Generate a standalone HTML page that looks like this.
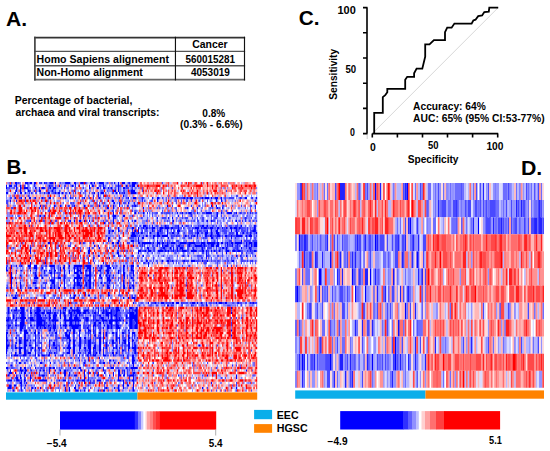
<!DOCTYPE html>
<html><head><meta charset="utf-8"><style>html,body{margin:0;padding:0;background:#fff;overflow:hidden}svg{display:block}</style></head>
<body>
<svg width="550" height="451" viewBox="0 0 550 451">
<defs>
<filter id="blr" filterUnits="userSpaceOnUse" x="6.0" y="182.0" width="251.2" height="209.7"><feGaussianBlur stdDeviation="0.45"/></filter>
<filter id="blr2" filterUnits="userSpaceOnUse" x="295.2" y="183.0" width="248.8" height="204.8"><feGaussianBlur stdDeviation="0.7 0.3"/></filter>
</defs>
<rect width="550" height="451" fill="#fff"/>
<g fill="none">
<path d="M34 37.65H245.1" stroke="#333" stroke-width="1.6"/>
<path d="M34 51.35H245.1" stroke="#555" stroke-width="1.2"/>
<path d="M34 65.85H245.1" stroke="#555" stroke-width="1.5"/>
<path d="M34 79.65H245.1" stroke="#666" stroke-width="1.6"/>
<path d="M34.9 36.85V80.45" stroke="#444" stroke-width="1.7"/>
<path d="M175.45 36.85V80.45M244.5 36.85V80.45" stroke="#111" stroke-width="1.15"/>
</g>
<path d="M372.3 133.6L498.2 7.6" stroke="#d8d8d8" stroke-width="1" fill="none"/>
<path d="M367.2 134.4V139" stroke="#ccc" stroke-width="1" fill="none"/>
<path d="M367 7.6V133.6M372.3 133.6H498.2M363 133.6H367.5M363 108.4H367.5M363 83.2H367.5M363 58.0H367.5M363 32.8H367.5M363 7.6H367.5M372.3 133.6V137.5M397.4 133.6V137.5M422.5 133.6V137.5M447.5 133.6V137.5M472.6 133.6V137.5M497.7 133.6V137.5" stroke="#000" stroke-width="1.6" fill="none"/>
<path d="M374.2 133.2 L374.2 112.9 L382.8 112.9 L382.8 97.1 L385.2 95.2 L387.3 92.2 L387.3 88.8 L405.2 88.8 L405.2 79.7 L407.2 76.8 L414.1 76.8 L414.1 73.2 L416.6 68.6 L422.3 68.6 L425.2 56.7 L425.2 44.4 L429.5 44.4 L433.9 40.2 L445.0 40.2 L445.0 32.2 L447.2 27.7 L451.6 27.7 L454.4 23.6 L471.6 23.6 L473.3 20.5 L475.5 19.7 L478.2 16.1 L482.1 15.5 L484.3 12.0 L488.8 11.6 L489.3 7.6 L498.2 7.6" stroke="#000" stroke-width="1.8" fill="none"/>
<g filter="url(#blr)">
<path stroke="#0000ff" stroke-width="1.306" d="M6.63 184.50V189.49M6.63 191.99V194.48M6.63 266.88V271.87M6.63 294.34V296.84M6.63 319.30V321.80M6.63 331.79V354.25M6.63 366.74V369.23M7.88 191.99V194.48M7.88 199.47V206.96M7.88 221.94V224.44M7.88 244.41V249.40M7.88 261.89V264.38M7.88 269.38V271.87M7.88 274.37V276.86M7.88 284.35V289.35M7.88 306.82V329.29M7.88 331.79V334.28M7.88 339.27V341.77M7.88 344.27V349.26M7.88 366.74V371.73M7.88 374.23V376.72M7.88 379.22V381.71M7.88 386.71V389.20M9.14 184.50V189.49M9.14 306.82V314.31M9.14 316.81V321.80M9.14 324.30V329.29M9.14 341.77V346.76M9.14 371.73V376.72M9.14 379.22V381.71M9.14 384.21V389.20M10.40 184.50V186.99M10.40 199.47V201.97M10.40 324.30V326.79M10.40 369.23V374.23M10.40 379.22V381.71M10.40 384.21V389.20M11.65 184.50V186.99M11.65 264.38V269.38M11.65 271.87V289.35M11.65 309.32V311.81M11.65 354.25V356.75M11.65 364.24V366.74M11.65 371.73V374.23M11.65 379.22V381.71M12.91 206.96V209.46M12.91 214.45V216.95M12.91 219.45V221.94M12.91 276.86V279.36M12.91 296.84V299.33M12.91 311.81V321.80M12.91 324.30V329.29M12.91 339.27V351.76M12.91 366.74V369.23M12.91 389.20V391.70M14.16 186.99V189.49M14.16 194.48V196.98M14.16 296.84V299.33M14.16 309.32V311.81M14.16 314.31V319.30M14.16 354.25V356.75M14.16 379.22V381.71M14.16 384.21V386.71M14.16 389.20V391.70M15.42 182.00V184.50M15.42 191.99V194.48M15.42 196.98V199.47M15.42 294.34V299.33M15.42 309.32V311.81M15.42 319.30V321.80M15.42 324.30V326.79M15.42 344.27V349.26M15.42 351.76V356.75M15.42 371.73V374.23M15.42 384.21V386.71M16.68 182.00V191.99M16.68 199.47V201.97M16.68 264.38V266.88M16.68 269.38V271.87M16.68 281.86V284.35M16.68 291.84V294.34M16.68 296.84V299.33M16.68 301.83V304.32M16.68 306.82V311.81M16.68 316.81V321.80M16.68 324.30V326.79M16.68 331.79V334.28M16.68 336.78V339.27M16.68 341.77V344.27M16.68 346.76V349.26M16.68 354.25V356.75M16.68 359.25V361.74M16.68 374.23V381.71M17.93 191.99V194.48M17.93 214.45V216.95M17.93 294.34V296.84M17.93 354.25V356.75M17.93 369.23V371.73M17.93 376.72V381.71M19.19 336.78V354.25M19.19 361.74V364.24M19.19 379.22V381.71M20.44 184.50V194.48M20.44 274.37V276.86M20.44 281.86V289.35M20.44 306.82V309.32M20.44 311.81V314.31M20.44 316.81V319.30M20.44 321.80V331.79M20.44 339.27V344.27M20.44 346.76V354.25M20.44 361.74V364.24M20.44 366.74V371.73M20.44 374.23V379.22M20.44 381.71V384.21M21.70 191.99V194.48M21.70 196.98V199.47M21.70 264.38V266.88M21.70 269.38V271.87M21.70 289.35V291.84M21.70 296.84V299.33M21.70 306.82V331.79M21.70 346.76V349.26M21.70 369.23V374.23M21.70 379.22V391.70M22.96 241.91V244.41M22.96 266.88V269.38M22.96 306.82V329.29M22.96 354.25V356.75M22.96 369.23V371.73M24.21 184.50V189.49M24.21 306.82V326.79M24.21 329.29V356.75M24.21 361.74V364.24M24.21 366.74V369.23M24.21 371.73V384.21M24.21 386.71V389.20M25.47 182.00V184.50M25.47 186.99V189.49M25.47 191.99V194.48M25.47 196.98V199.47M25.47 316.81V319.30M25.47 329.29V356.75M25.47 366.74V374.23M25.47 379.22V381.71M25.47 384.21V386.71M26.72 182.00V184.50M26.72 186.99V189.49M26.72 319.30V321.80M26.72 329.29V334.28M26.72 339.27V341.77M26.72 344.27V346.76M26.72 359.25V361.74M26.72 369.23V371.73M26.72 374.23V376.72M26.72 381.71V384.21M27.98 182.00V191.99M27.98 206.96V209.46M27.98 219.45V221.94M27.98 264.38V266.88M27.98 269.38V271.87M27.98 281.86V284.35M27.98 296.84V299.33M27.98 314.31V316.81M27.98 321.80V324.30M27.98 326.79V329.29M27.98 331.79V334.28M27.98 336.78V341.77M27.98 349.26V354.25M27.98 356.75V359.25M27.98 366.74V369.23M29.24 189.49V194.48M29.24 196.98V199.47M29.24 224.44V226.94M29.24 264.38V269.38M29.24 301.83V304.32M29.24 344.27V346.76M29.24 351.76V354.25M30.49 182.00V184.50M30.49 196.98V199.47M30.49 219.45V221.94M30.49 246.91V254.40M30.49 256.89V259.39M30.49 261.89V266.88M30.49 269.38V271.87M30.49 286.85V289.35M30.49 309.32V314.31M30.49 316.81V321.80M30.49 324.30V326.79M30.49 339.27V341.77M30.49 344.27V346.76M30.49 351.76V354.25M30.49 374.23V381.71M31.75 182.00V184.50M31.75 191.99V194.48M31.75 306.82V309.32M31.75 311.81V314.31M31.75 316.81V321.80M31.75 324.30V326.79M31.75 346.76V351.76M31.75 364.24V366.74M31.75 369.23V371.73M31.75 386.71V391.70M33.00 244.41V246.91M33.00 281.86V284.35M33.00 316.81V321.80M33.00 326.79V329.29M33.00 346.76V349.26M33.00 354.25V356.75M33.00 374.23V376.72M33.00 386.71V389.20M34.26 182.00V186.99M34.26 189.49V191.99M34.26 264.38V269.38M34.26 276.86V279.36M34.26 281.86V284.35M34.26 301.83V304.32M34.26 319.30V321.80M34.26 324.30V326.79M34.26 331.79V334.28M35.52 182.00V184.50M35.52 186.99V189.49M35.52 196.98V199.47M35.52 264.38V269.38M35.52 271.87V279.36M35.52 281.86V284.35M35.52 286.85V289.35M35.52 311.81V314.31M35.52 329.29V356.75M35.52 366.74V369.23M35.52 386.71V389.20M36.77 264.38V271.87M36.77 274.37V279.36M36.77 286.85V289.35M36.77 296.84V299.33M36.77 306.82V329.29M36.77 369.23V371.73M36.77 379.22V381.71M38.03 276.86V279.36M38.03 306.82V336.78M38.03 339.27V344.27M38.03 346.76V349.26M38.03 351.76V356.75M38.03 366.74V369.23M39.28 186.99V191.99M39.28 201.97V204.47M39.28 206.96V209.46M39.28 219.45V221.94M39.28 306.82V326.79M39.28 331.79V334.28M39.28 336.78V339.27M39.28 346.76V351.76M39.28 354.25V356.75M39.28 371.73V376.72M39.28 379.22V381.71M40.54 189.49V191.99M40.54 204.47V206.96M40.54 214.45V216.95M40.54 309.32V311.81M40.54 314.31V329.29M40.54 361.74V364.24M40.54 369.23V371.73M40.54 379.22V381.71M40.54 386.71V389.20M41.80 182.00V184.50M41.80 186.99V189.49M41.80 196.98V199.47M41.80 264.38V271.87M41.80 274.37V279.36M41.80 284.35V289.35M41.80 311.81V314.31M41.80 316.81V326.79M41.80 334.28V339.27M41.80 341.77V356.75M41.80 361.74V364.24M41.80 366.74V369.23M41.80 374.23V376.72M41.80 379.22V381.71M43.05 186.99V189.49M43.05 196.98V199.47M43.05 204.47V211.96M43.05 216.95V219.45M43.05 261.89V264.38M43.05 266.88V269.38M43.05 276.86V279.36M43.05 306.82V309.32M43.05 311.81V316.81M43.05 319.30V321.80M43.05 324.30V326.79M43.05 354.25V356.75M43.05 369.23V371.73M43.05 374.23V381.71M43.05 384.21V386.71M44.31 182.00V184.50M44.31 186.99V189.49M44.31 191.99V194.48M44.31 214.45V216.95M44.31 269.38V274.37M44.31 294.34V299.33M44.31 309.32V314.31M44.31 319.30V329.29M44.31 354.25V356.75M44.31 359.25V361.74M44.31 369.23V371.73M44.31 374.23V376.72M44.31 379.22V381.71M44.31 389.20V391.70M45.56 244.41V246.91M45.56 261.89V264.38M45.56 314.31V316.81M45.56 326.79V329.29M45.56 379.22V381.71M46.82 182.00V184.50M46.82 201.97V204.47M46.82 264.38V266.88M46.82 269.38V271.87M46.82 274.37V276.86M46.82 281.86V284.35M46.82 309.32V314.31M46.82 316.81V319.30M46.82 321.80V324.30M46.82 369.23V371.73M46.82 374.23V376.72M46.82 379.22V381.71M48.08 186.99V194.48M48.08 199.47V201.97M48.08 209.46V211.96M48.08 241.91V244.41M48.08 294.34V296.84M48.08 311.81V314.31M48.08 324.30V329.29M48.08 349.26V351.76M48.08 354.25V356.75M49.33 184.50V186.99M49.33 191.99V194.48M49.33 196.98V199.47M49.33 241.91V244.41M49.33 269.38V271.87M49.33 311.81V321.80M49.33 324.30V326.79M49.33 329.29V331.79M49.33 339.27V349.26M49.33 351.76V356.75M49.33 366.74V374.23M50.59 182.00V184.50M50.59 186.99V189.49M50.59 196.98V199.47M50.59 264.38V266.88M50.59 271.87V274.37M50.59 279.36V281.86M50.59 286.85V289.35M50.59 309.32V314.31M50.59 316.81V319.30M50.59 326.79V331.79M50.59 361.74V364.24M50.59 366.74V369.23M51.84 182.00V184.50M51.84 189.49V191.99M51.84 219.45V221.94M51.84 264.38V289.35M51.84 319.30V321.80M51.84 346.76V349.26M51.84 351.76V354.25M51.84 379.22V381.71M51.84 386.71V389.20M53.10 182.00V184.50M53.10 186.99V194.48M53.10 196.98V199.47M53.10 264.38V266.88M53.10 279.36V284.35M53.10 294.34V296.84M53.10 309.32V311.81M53.10 314.31V329.29M53.10 334.28V336.78M53.10 341.77V346.76M53.10 366.74V369.23M53.10 374.23V376.72M54.36 186.99V189.49M54.36 204.47V206.96M54.36 264.38V289.35M54.36 306.82V309.32M54.36 311.81V321.80M54.36 324.30V331.79M54.36 341.77V346.76M54.36 351.76V354.25M54.36 366.74V369.23M54.36 381.71V384.21M55.61 182.00V184.50M55.61 186.99V189.49M55.61 191.99V194.48M55.61 269.38V271.87M55.61 306.82V309.32M55.61 311.81V329.29M55.61 331.79V334.28M55.61 346.76V349.26M55.61 354.25V356.75M55.61 369.23V371.73M56.87 296.84V299.33M56.87 314.31V316.81M56.87 319.30V321.80M56.87 329.29V354.25M56.87 366.74V369.23M56.87 379.22V381.71M58.12 191.99V194.48M58.12 244.41V249.40M58.12 251.90V254.40M58.12 256.89V261.89M58.12 264.38V271.87M58.12 274.37V279.36M58.12 281.86V289.35M58.12 309.32V311.81M58.12 319.30V321.80M58.12 371.73V374.23M58.12 386.71V389.20M59.38 184.50V186.99M59.38 191.99V194.48M59.38 276.86V279.36M59.38 286.85V289.35M59.38 379.22V381.71M60.64 204.47V206.96M60.64 266.88V271.87M60.64 276.86V279.36M60.64 284.35V286.85M60.64 309.32V319.30M60.64 324.30V326.79M60.64 369.23V371.73M61.89 186.99V189.49M61.89 191.99V194.48M61.89 291.84V294.34M61.89 296.84V299.33M61.89 354.25V356.75M61.89 364.24V369.23M63.15 191.99V194.48M63.15 196.98V199.47M63.15 201.97V204.47M63.15 266.88V269.38M63.15 306.82V314.31M63.15 324.30V326.79M63.15 329.29V331.79M63.15 336.78V339.27M63.15 341.77V344.27M63.15 351.76V356.75M63.15 379.22V381.71M64.40 264.38V289.35M64.40 306.82V309.32M64.40 311.81V321.80M64.40 324.30V326.79M64.40 369.23V376.72M64.40 379.22V381.71M64.40 384.21V386.71M65.66 182.00V184.50M65.66 194.48V199.47M65.66 306.82V311.81M65.66 314.31V329.29M65.66 331.79V336.78M65.66 369.23V376.72M65.66 379.22V381.71M65.66 386.71V391.70M66.92 182.00V184.50M66.92 191.99V194.48M66.92 214.45V216.95M66.92 294.34V296.84M66.92 319.30V321.80M66.92 324.30V326.79M66.92 329.29V341.77M66.92 346.76V349.26M66.92 351.76V354.25M68.17 182.00V184.50M68.17 186.99V189.49M68.17 204.47V206.96M68.17 219.45V221.94M68.17 251.90V254.40M68.17 319.30V321.80M68.17 329.29V331.79M68.17 334.28V339.27M68.17 344.27V349.26M68.17 351.76V354.25M68.17 361.74V366.74M68.17 379.22V386.71M69.43 182.00V184.50M69.43 191.99V194.48M69.43 264.38V266.88M69.43 269.38V274.37M69.43 301.83V304.32M69.43 309.32V314.31M69.43 316.81V321.80M69.43 324.30V326.79M69.43 331.79V354.25M69.43 371.73V376.72M69.43 386.71V391.70M70.68 196.98V199.47M70.68 219.45V221.94M70.68 294.34V296.84M70.68 306.82V309.32M70.68 311.81V326.79M70.68 329.29V331.79M70.68 339.27V341.77M70.68 346.76V349.26M70.68 366.74V369.23M71.94 184.50V186.99M71.94 189.49V191.99M71.94 301.83V304.32M71.94 306.82V329.29M71.94 361.74V364.24M71.94 369.23V371.73M71.94 374.23V376.72M73.20 184.50V186.99M73.20 191.99V194.48M73.20 201.97V204.47M73.20 286.85V289.35M73.20 296.84V299.33M73.20 309.32V311.81M73.20 319.30V321.80M73.20 324.30V356.75M73.20 366.74V369.23M73.20 379.22V381.71M74.45 182.00V184.50M74.45 204.47V206.96M74.45 219.45V221.94M74.45 264.38V274.37M74.45 276.86V289.35M74.45 294.34V299.33M74.45 309.32V314.31M74.45 316.81V321.80M74.45 324.30V334.28M74.45 339.27V354.25M74.45 374.23V376.72M74.45 386.71V389.20M75.71 182.00V186.99M75.71 191.99V194.48M75.71 196.98V199.47M75.71 264.38V266.88M75.71 271.87V274.37M75.71 276.86V279.36M75.71 294.34V296.84M75.71 309.32V311.81M75.71 314.31V329.29M75.71 366.74V369.23M75.71 374.23V376.72M75.71 384.21V391.70M76.96 246.91V249.40M76.96 264.38V286.85M76.96 301.83V304.32M76.96 306.82V321.80M76.96 324.30V329.29M76.96 331.79V334.28M76.96 336.78V339.27M76.96 354.25V356.75M76.96 374.23V376.72M76.96 379.22V384.21M76.96 389.20V391.70M78.22 264.38V286.85M78.22 306.82V314.31M78.22 316.81V329.29M78.22 356.75V359.25M78.22 379.22V381.71M78.22 384.21V386.71M78.22 389.20V391.70M79.48 219.45V221.94M79.48 264.38V266.88M79.48 269.38V271.87M79.48 274.37V279.36M79.48 281.86V286.85M79.48 309.32V316.81M79.48 319.30V321.80M79.48 324.30V326.79M79.48 329.29V351.76M79.48 354.25V356.75M79.48 359.25V361.74M79.48 366.74V369.23M80.73 182.00V184.50M80.73 191.99V194.48M80.73 201.97V204.47M80.73 219.45V221.94M80.73 241.91V244.41M80.73 249.40V251.90M80.73 264.38V274.37M80.73 276.86V281.86M80.73 284.35V289.35M80.73 311.81V314.31M80.73 319.30V321.80M80.73 324.30V326.79M80.73 329.29V331.79M80.73 336.78V349.26M80.73 351.76V354.25M80.73 366.74V371.73M80.73 389.20V391.70M81.99 182.00V184.50M81.99 264.38V266.88M81.99 271.87V274.37M81.99 276.86V279.36M81.99 284.35V286.85M81.99 296.84V299.33M81.99 359.25V361.74M81.99 369.23V371.73M81.99 379.22V381.71M83.24 182.00V184.50M83.24 186.99V189.49M83.24 214.45V219.45M83.24 241.91V244.41M83.24 301.83V304.32M83.24 311.81V314.31M83.24 316.81V319.30M83.24 379.22V381.71M84.50 196.98V199.47M84.50 204.47V206.96M84.50 219.45V221.94M84.50 309.32V314.31M84.50 336.78V339.27M84.50 346.76V349.26M84.50 361.74V364.24M84.50 369.23V384.21M84.50 389.20V391.70M85.76 182.00V184.50M85.76 189.49V191.99M85.76 264.38V266.88M85.76 269.38V276.86M85.76 279.36V286.85M85.76 291.84V296.84M85.76 309.32V314.31M85.76 316.81V321.80M85.76 329.29V334.28M85.76 336.78V344.27M85.76 346.76V354.25M87.01 219.45V221.94M87.01 254.40V256.89M87.01 264.38V271.87M87.01 274.37V279.36M87.01 281.86V289.35M87.01 309.32V311.81M87.01 316.81V324.30M87.01 326.79V329.29M87.01 354.25V356.75M87.01 364.24V366.74M88.27 214.45V216.95M88.27 249.40V254.40M88.27 256.89V261.89M88.27 264.38V269.38M88.27 274.37V276.86M88.27 279.36V281.86M88.27 294.34V296.84M88.27 306.82V314.31M88.27 316.81V321.80M88.27 324.30V336.78M88.27 339.27V349.26M88.27 351.76V361.74M88.27 369.23V381.71M88.27 384.21V386.71M88.27 389.20V391.70M89.52 184.50V189.49M89.52 219.45V221.94M89.52 246.91V254.40M89.52 264.38V289.35M89.52 294.34V296.84M89.52 329.29V331.79M89.52 339.27V354.25M90.78 182.00V184.50M90.78 264.38V289.35M90.78 314.31V316.81M90.78 329.29V356.75M90.78 371.73V374.23M90.78 379.22V384.21M90.78 386.71V389.20M92.04 182.00V186.99M92.04 191.99V194.48M92.04 199.47V201.97M92.04 204.47V206.96M92.04 219.45V221.94M92.04 246.91V249.40M92.04 366.74V369.23M92.04 376.72V379.22M93.29 184.50V186.99M93.29 194.48V199.47M93.29 241.91V244.41M93.29 251.90V254.40M93.29 256.89V261.89M93.29 266.88V269.38M93.29 281.86V286.85M93.29 301.83V304.32M93.29 306.82V309.32M93.29 314.31V321.80M93.29 324.30V334.28M93.29 346.76V356.75M93.29 359.25V361.74M93.29 366.74V369.23M94.55 182.00V184.50M94.55 191.99V194.48M94.55 244.41V246.91M94.55 311.81V314.31M94.55 321.80V326.79M94.55 334.28V336.78M94.55 344.27V349.26M94.55 354.25V356.75M95.80 296.84V299.33M95.80 309.32V356.75M97.06 186.99V189.49M97.06 199.47V206.96M97.06 221.94V226.94M97.06 266.88V269.38M97.06 271.87V274.37M97.06 319.30V321.80M97.06 351.76V354.25M97.06 366.74V369.23M97.06 374.23V376.72M97.06 379.22V381.71M98.32 186.99V189.49M98.32 191.99V196.98M98.32 244.41V246.91M98.32 254.40V256.89M98.32 264.38V266.88M98.32 269.38V271.87M98.32 306.82V314.31M98.32 319.30V321.80M98.32 371.73V376.72M98.32 379.22V381.71M98.32 389.20V391.70M99.57 182.00V184.50M99.57 196.98V199.47M99.57 204.47V206.96M99.57 246.91V249.40M99.57 269.38V271.87M99.57 274.37V276.86M99.57 314.31V316.81M99.57 321.80V324.30M99.57 331.79V334.28M99.57 336.78V354.25M99.57 356.75V359.25M99.57 366.74V369.23M99.57 379.22V381.71M100.83 182.00V184.50M100.83 186.99V189.49M100.83 191.99V194.48M100.83 264.38V279.36M100.83 281.86V284.35M100.83 294.34V299.33M100.83 306.82V309.32M100.83 314.31V319.30M100.83 321.80V351.76M100.83 359.25V364.24M100.83 379.22V381.71M100.83 389.20V391.70M102.08 182.00V184.50M102.08 189.49V194.48M102.08 199.47V204.47M102.08 264.38V269.38M102.08 276.86V284.35M102.08 286.85V289.35M102.08 311.81V314.31M102.08 316.81V321.80M103.34 182.00V189.49M103.34 191.99V194.48M103.34 261.89V264.38M103.34 284.35V286.85M103.34 306.82V314.31M103.34 316.81V324.30M103.34 326.79V329.29M103.34 331.79V344.27M103.34 346.76V356.75M103.34 361.74V364.24M103.34 366.74V371.73M103.34 389.20V391.70M104.60 186.99V189.49M104.60 209.46V211.96M104.60 221.94V224.44M104.60 319.30V321.80M104.60 324.30V326.79M104.60 354.25V356.75M104.60 361.74V364.24M104.60 371.73V374.23M104.60 389.20V391.70M105.85 191.99V194.48M105.85 261.89V266.88M105.85 269.38V271.87M105.85 274.37V276.86M105.85 306.82V316.81M105.85 319.30V321.80M105.85 331.79V336.78M105.85 341.77V349.26M105.85 354.25V356.75M105.85 381.71V384.21M105.85 386.71V389.20M107.11 182.00V184.50M107.11 189.49V191.99M107.11 194.48V196.98M107.11 204.47V209.46M107.11 219.45V221.94M107.11 241.91V244.41M107.11 246.91V251.90M107.11 256.89V259.39M107.11 264.38V289.35M107.11 309.32V316.81M107.11 319.30V354.25M107.11 386.71V389.20M108.36 186.99V189.49M108.36 206.96V209.46M108.36 226.94V229.43M108.36 236.92V241.91M108.36 264.38V274.37M108.36 276.86V281.86M108.36 284.35V289.35M108.36 291.84V296.84M108.36 311.81V319.30M108.36 324.30V329.29M109.62 229.43V234.43M109.62 236.92V239.42M109.62 256.89V259.39M109.62 264.38V269.38M109.62 274.37V284.35M109.62 286.85V289.35M109.62 294.34V296.84M109.62 304.32V309.32M109.62 311.81V314.31M109.62 319.30V324.30M109.62 359.25V361.74M109.62 374.23V376.72M110.88 186.99V189.49M110.88 204.47V206.96M110.88 266.88V269.38M110.88 271.87V274.37M110.88 279.36V281.86M110.88 296.84V299.33M110.88 309.32V329.29M110.88 354.25V356.75M110.88 359.25V361.74M110.88 364.24V369.23M110.88 379.22V381.71M112.13 182.00V184.50M112.13 186.99V191.99M112.13 199.47V201.97M112.13 229.43V231.93M112.13 241.91V244.41M112.13 264.38V266.88M112.13 276.86V279.36M112.13 306.82V329.29M112.13 331.79V334.28M112.13 339.27V346.76M112.13 351.76V354.25M112.13 366.74V369.23M112.13 389.20V391.70M113.39 199.47V201.97M113.39 204.47V209.46M113.39 211.96V224.44M113.39 229.43V231.93M113.39 241.91V244.41M113.39 266.88V269.38M113.39 274.37V276.86M113.39 319.30V321.80M113.39 331.79V334.28M113.39 339.27V344.27M113.39 346.76V349.26M113.39 351.76V356.75M113.39 359.25V361.74M113.39 366.74V369.23M113.39 371.73V376.72M114.64 182.00V184.50M114.64 189.49V191.99M114.64 201.97V204.47M114.64 214.45V216.95M114.64 314.31V316.81M114.64 319.30V321.80M114.64 361.74V364.24M114.64 386.71V389.20M115.90 184.50V194.48M115.90 209.46V211.96M115.90 214.45V216.95M115.90 236.92V239.42M115.90 261.89V264.38M115.90 266.88V269.38M115.90 276.86V279.36M115.90 281.86V284.35M115.90 286.85V289.35M115.90 306.82V329.29M115.90 331.79V341.77M115.90 344.27V349.26M115.90 351.76V356.75M115.90 366.74V369.23M117.16 191.99V194.48M117.16 241.91V244.41M117.16 249.40V254.40M117.16 306.82V354.25M118.41 182.00V191.99M118.41 226.94V231.93M118.41 239.42V244.41M118.41 246.91V249.40M118.41 251.90V256.89M118.41 269.38V274.37M118.41 306.82V311.81M118.41 319.30V321.80M118.41 324.30V329.29M118.41 361.74V364.24M118.41 369.23V381.71M118.41 384.21V391.70M119.67 191.99V194.48M119.67 196.98V199.47M119.67 201.97V206.96M119.67 236.92V239.42M119.67 301.83V304.32M119.67 309.32V311.81M119.67 316.81V321.80M119.67 326.79V329.29M119.67 336.78V344.27M119.67 346.76V349.26M119.67 369.23V376.72M119.67 379.22V381.71M119.67 389.20V391.70M120.92 184.50V186.99M120.92 241.91V246.91M120.92 249.40V251.90M120.92 254.40V256.89M120.92 264.38V289.35M120.92 294.34V299.33M120.92 306.82V309.32M120.92 311.81V314.31M120.92 319.30V321.80M120.92 324.30V326.79M120.92 374.23V376.72M120.92 379.22V381.71M122.18 182.00V184.50M122.18 191.99V194.48M122.18 204.47V206.96M122.18 331.79V334.28M122.18 341.77V354.25M122.18 369.23V374.23M123.44 182.00V184.50M123.44 186.99V189.49M123.44 194.48V196.98M123.44 214.45V216.95M123.44 264.38V276.86M123.44 279.36V289.35M123.44 296.84V299.33M123.44 319.30V321.80M123.44 331.79V334.28M123.44 339.27V341.77M123.44 349.26V351.76M123.44 354.25V356.75M123.44 374.23V376.72M123.44 379.22V389.20M124.69 182.00V184.50M124.69 186.99V189.49M124.69 191.99V194.48M124.69 214.45V216.95M124.69 264.38V266.88M124.69 271.87V279.36M124.69 284.35V289.35M124.69 339.27V344.27M124.69 369.23V376.72M125.95 184.50V186.99M125.95 201.97V204.47M125.95 254.40V256.89M125.95 261.89V264.38M125.95 294.34V296.84M125.95 306.82V324.30M125.95 326.79V354.25M125.95 366.74V369.23M125.95 379.22V381.71M127.20 184.50V186.99M127.20 204.47V206.96M127.20 226.94V231.93M127.20 241.91V244.41M127.20 249.40V251.90M127.20 264.38V269.38M127.20 274.37V279.36M127.20 281.86V284.35M127.20 314.31V319.30M127.20 321.80V324.30M127.20 354.25V359.25M127.20 361.74V364.24M127.20 366.74V376.72M127.20 381.71V386.71M128.46 196.98V199.47M128.46 201.97V204.47M128.46 219.45V221.94M128.46 296.84V299.33M128.46 329.29V331.79M128.46 334.28V351.76M128.46 384.21V386.71M129.72 182.00V184.50M129.72 284.35V289.35M129.72 306.82V329.29M129.72 331.79V334.28M129.72 336.78V339.27M129.72 341.77V349.26M129.72 374.23V381.71M130.97 189.49V194.48M130.97 234.43V236.92M130.97 239.42V241.91M130.97 249.40V251.90M130.97 259.39V261.89M130.97 264.38V271.87M130.97 274.37V279.36M130.97 281.86V284.35M130.97 286.85V289.35M130.97 306.82V309.32M130.97 311.81V329.29M130.97 366.74V369.23M130.97 374.23V376.72M132.23 182.00V194.48M132.23 204.47V206.96M132.23 209.46V211.96M132.23 214.45V216.95M132.23 219.45V221.94M132.23 226.94V236.92M132.23 239.42V241.91M132.23 254.40V256.89M132.23 264.38V271.87M132.23 276.86V279.36M132.23 284.35V286.85M132.23 294.34V299.33M132.23 306.82V329.29M132.23 331.79V349.26M132.23 354.25V364.24M132.23 366.74V371.73M132.23 374.23V376.72M132.23 379.22V381.71M133.48 182.00V186.99M133.48 189.49V194.48M133.48 196.98V199.47M133.48 226.94V229.43M133.48 231.93V236.92M133.48 239.42V241.91M133.48 244.41V246.91M133.48 264.38V266.88M133.48 269.38V276.86M133.48 279.36V281.86M133.48 284.35V289.35M133.48 296.84V299.33M133.48 301.83V304.32M133.48 311.81V319.30M133.48 331.79V334.28M133.48 339.27V341.77M133.48 346.76V349.26M133.48 354.25V369.23M133.48 371.73V391.70M134.74 182.00V186.99M134.74 189.49V194.48M134.74 196.98V199.47M134.74 201.97V206.96M134.74 211.96V214.45M134.74 219.45V221.94M134.74 229.43V236.92M134.74 296.84V301.83M134.74 309.32V311.81M134.74 314.31V321.80M134.74 324.30V329.29M134.74 331.79V339.27M134.74 341.77V354.25M134.74 359.25V361.74M134.74 366.74V369.23M134.74 371.73V374.23M136.00 182.00V184.50M136.00 186.99V189.49M136.00 191.99V194.48M136.00 196.98V199.47M136.00 204.47V206.96M136.00 209.46V214.45M136.00 219.45V221.94M136.00 224.44V231.93M136.00 234.43V241.91M136.00 259.39V261.89M136.00 281.86V284.35M136.00 301.83V304.32M136.00 306.82V329.29M136.00 344.27V356.75M136.00 361.74V364.24M136.00 366.74V369.23M136.00 376.72V381.71M137.25 184.50V186.99M137.25 306.82V329.29M137.25 336.78V339.27M137.25 366.74V369.23M138.51 226.94V234.43M138.51 236.92V244.41M138.51 249.40V254.40M138.51 259.39V261.89M139.76 234.43V236.92M139.76 241.91V244.41M139.76 249.40V251.90M139.76 304.32V306.82M141.02 231.93V234.43M141.02 246.91V254.40M141.02 259.39V261.89M141.02 301.83V304.32M142.28 196.98V201.97M142.28 229.43V234.43M142.28 236.92V239.42M142.28 241.91V246.91M142.28 364.24V366.74M143.53 206.96V209.46M143.53 211.96V214.45M143.53 224.44V229.43M143.53 236.92V239.42M143.53 241.91V244.41M143.53 254.40V256.89M144.79 199.47V201.97M144.79 224.44V226.94M144.79 241.91V246.91M144.79 249.40V251.90M144.79 261.89V264.38M146.04 209.46V211.96M146.04 224.44V231.93M146.04 234.43V236.92M146.04 241.91V244.41M146.04 249.40V251.90M146.04 256.89V261.89M147.30 211.96V214.45M147.30 226.94V229.43M147.30 234.43V236.92M147.30 241.91V244.41M147.30 246.91V249.40M147.30 259.39V261.89M148.56 241.91V244.41M148.56 246.91V251.90M148.56 261.89V266.88M148.56 274.37V276.86M148.56 301.83V304.32M149.81 211.96V214.45M149.81 224.44V229.43M149.81 231.93V234.43M149.81 241.91V244.41M149.81 249.40V251.90M151.07 199.47V201.97M151.07 231.93V234.43M151.07 241.91V244.41M151.07 249.40V251.90M151.07 259.39V261.89M151.07 301.83V306.82M152.32 196.98V199.47M152.32 224.44V231.93M153.58 226.94V229.43M153.58 234.43V239.42M153.58 241.91V244.41M154.84 226.94V229.43M154.84 234.43V236.92M154.84 246.91V251.90M154.84 301.83V304.32M154.84 381.71V384.21M156.09 211.96V214.45M156.09 224.44V226.94M156.09 259.39V261.89M156.09 301.83V304.32M157.35 196.98V201.97M157.35 216.95V219.45M157.35 231.93V236.92M157.35 239.42V246.91M158.60 196.98V199.47M158.60 231.93V236.92M158.60 241.91V244.41M158.60 249.40V251.90M159.86 206.96V209.46M159.86 226.94V231.93M159.86 234.43V236.92M159.86 241.91V246.91M159.86 249.40V251.90M161.12 224.44V231.93M161.12 236.92V239.42M161.12 246.91V251.90M161.12 301.83V304.32M162.37 226.94V229.43M162.37 234.43V236.92M162.37 241.91V246.91M162.37 249.40V251.90M162.37 259.39V261.89M162.37 301.83V304.32M163.63 234.43V236.92M163.63 241.91V244.41M163.63 246.91V249.40M163.63 301.83V304.32M164.88 211.96V214.45M164.88 219.45V221.94M164.88 224.44V229.43M164.88 234.43V236.92M164.88 239.42V241.91M164.88 244.41V251.90M164.88 304.32V306.82M166.14 196.98V201.97M166.14 224.44V229.43M166.14 234.43V236.92M166.14 244.41V246.91M166.14 249.40V251.90M166.14 301.83V304.32M167.40 204.47V206.96M167.40 226.94V236.92M167.40 241.91V246.91M167.40 259.39V261.89M167.40 304.32V306.82M168.65 216.95V219.45M168.65 226.94V229.43M168.65 236.92V239.42M168.65 249.40V251.90M168.65 259.39V261.89M168.65 304.32V306.82M169.91 211.96V214.45M169.91 231.93V234.43M169.91 239.42V241.91M169.91 246.91V249.40M171.16 226.94V231.93M171.16 234.43V236.92M171.16 241.91V244.41M171.16 246.91V251.90M171.16 304.32V306.82M172.42 216.95V219.45M172.42 226.94V229.43M172.42 231.93V234.43M172.42 241.91V244.41M172.42 259.39V261.89M172.42 301.83V304.32M173.68 219.45V221.94M173.68 231.93V234.43M173.68 241.91V244.41M173.68 246.91V251.90M173.68 301.83V304.32M174.93 229.43V231.93M174.93 241.91V244.41M174.93 251.90V254.40M176.19 199.47V204.47M176.19 206.96V211.96M176.19 234.43V236.92M176.19 259.39V264.38M176.19 301.83V304.32M177.44 196.98V199.47M177.44 211.96V214.45M177.44 229.43V231.93M177.44 246.91V251.90M177.44 301.83V304.32M178.70 214.45V216.95M178.70 224.44V234.43M178.70 244.41V246.91M178.70 301.83V304.32M178.70 374.23V376.72M179.96 196.98V199.47M179.96 229.43V231.93M179.96 241.91V251.90M181.21 199.47V201.97M181.21 226.94V229.43M181.21 241.91V244.41M181.21 246.91V249.40M181.21 301.83V304.32M182.47 211.96V214.45M182.47 224.44V226.94M182.47 241.91V244.41M182.47 246.91V251.90M183.72 196.98V199.47M183.72 226.94V229.43M183.72 241.91V244.41M183.72 249.40V251.90M183.72 254.40V256.89M183.72 259.39V261.89M184.98 196.98V199.47M184.98 234.43V236.92M184.98 241.91V244.41M184.98 249.40V251.90M184.98 259.39V261.89M184.98 301.83V304.32M186.24 211.96V214.45M186.24 219.45V221.94M186.24 224.44V226.94M186.24 234.43V236.92M186.24 241.91V244.41M186.24 249.40V251.90M186.24 284.35V286.85M186.24 289.35V291.84M187.49 196.98V199.47M187.49 206.96V209.46M188.75 211.96V214.45M188.75 234.43V236.92M188.75 241.91V246.91M188.75 254.40V256.89M190.00 196.98V199.47M190.00 211.96V214.45M190.00 226.94V229.43M190.00 231.93V234.43M190.00 241.91V246.91M191.26 196.98V201.97M191.26 204.47V206.96M191.26 211.96V216.95M191.26 224.44V226.94M191.26 234.43V239.42M191.26 241.91V244.41M191.26 249.40V251.90M191.26 259.39V261.89M191.26 304.32V306.82M192.52 196.98V199.47M192.52 241.91V244.41M192.52 249.40V251.90M192.52 259.39V261.89M192.52 301.83V304.32M193.77 234.43V236.92M193.77 241.91V244.41M193.77 246.91V251.90M193.77 259.39V261.89M193.77 301.83V304.32M195.03 196.98V199.47M195.03 211.96V214.45M195.03 226.94V229.43M195.03 234.43V236.92M195.03 241.91V246.91M195.03 249.40V251.90M195.03 259.39V261.89M195.03 301.83V304.32M195.03 364.24V366.74M195.03 384.21V386.71M196.28 226.94V229.43M196.28 244.41V246.91M196.28 249.40V251.90M197.54 206.96V209.46M197.54 211.96V214.45M197.54 226.94V236.92M197.54 244.41V246.91M197.54 301.83V304.32M198.80 224.44V229.43M198.80 231.93V234.43M198.80 244.41V246.91M198.80 344.27V346.76M200.05 196.98V199.47M200.05 234.43V236.92M200.05 244.41V246.91M200.05 249.40V251.90M200.05 259.39V261.89M200.05 344.27V346.76M201.31 226.94V229.43M201.31 241.91V246.91M201.31 301.83V304.32M202.56 196.98V199.47M202.56 224.44V226.94M202.56 241.91V244.41M202.56 246.91V251.90M202.56 259.39V261.89M202.56 386.71V389.20M203.82 224.44V229.43M203.82 236.92V239.42M203.82 241.91V246.91M203.82 249.40V251.90M205.08 196.98V199.47M205.08 201.97V206.96M205.08 226.94V229.43M205.08 231.93V236.92M205.08 241.91V246.91M206.33 196.98V199.47M206.33 211.96V214.45M206.33 226.94V229.43M206.33 231.93V236.92M206.33 249.40V259.39M206.33 301.83V306.82M207.59 196.98V199.47M207.59 211.96V214.45M207.59 219.45V221.94M207.59 224.44V226.94M207.59 229.43V234.43M207.59 241.91V244.41M207.59 259.39V261.89M207.59 374.23V376.72M208.84 196.98V199.47M208.84 211.96V214.45M208.84 241.91V246.91M208.84 249.40V259.39M210.10 206.96V209.46M210.10 211.96V214.45M210.10 226.94V229.43M210.10 234.43V236.92M210.10 241.91V244.41M211.36 196.98V199.47M211.36 204.47V206.96M211.36 211.96V214.45M211.36 219.45V221.94M211.36 226.94V239.42M211.36 241.91V246.91M211.36 249.40V251.90M211.36 381.71V384.21M212.61 226.94V229.43M212.61 236.92V239.42M212.61 241.91V246.91M213.87 224.44V226.94M213.87 241.91V246.91M213.87 249.40V251.90M213.87 301.83V304.32M215.12 196.98V199.47M215.12 216.95V219.45M215.12 226.94V229.43M215.12 234.43V236.92M215.12 241.91V244.41M215.12 249.40V251.90M215.12 259.39V261.89M216.38 196.98V201.97M216.38 204.47V206.96M216.38 229.43V234.43M216.38 244.41V246.91M216.38 301.83V304.32M217.64 196.98V199.47M217.64 206.96V209.46M217.64 211.96V216.95M217.64 226.94V236.92M217.64 241.91V246.91M218.89 226.94V229.43M218.89 231.93V236.92M218.89 241.91V246.91M218.89 249.40V251.90M218.89 259.39V261.89M218.89 284.35V286.85M218.89 301.83V304.32M220.15 234.43V236.92M220.15 246.91V251.90M220.15 301.83V304.32M221.40 196.98V201.97M221.40 211.96V214.45M221.40 241.91V244.41M221.40 301.83V304.32M222.66 206.96V209.46M222.66 226.94V229.43M222.66 241.91V244.41M222.66 246.91V249.40M223.92 216.95V221.94M223.92 246.91V249.40M225.17 196.98V201.97M225.17 234.43V236.92M225.17 241.91V246.91M225.17 259.39V261.89M225.17 301.83V304.32M225.17 376.72V379.22M225.17 389.20V391.70M226.43 226.94V229.43M226.43 234.43V236.92M226.43 246.91V254.40M226.43 301.83V304.32M227.68 211.96V214.45M227.68 241.91V246.91M227.68 249.40V251.90M227.68 264.38V266.88M228.94 211.96V214.45M228.94 249.40V251.90M230.20 211.96V214.45M230.20 226.94V229.43M231.45 211.96V214.45M231.45 226.94V231.93M231.45 234.43V239.42M231.45 241.91V244.41M231.45 306.82V309.32M231.45 311.81V314.31M231.45 329.29V331.79M231.45 334.28V336.78M232.71 241.91V246.91M232.71 249.40V251.90M232.71 259.39V261.89M232.71 364.24V366.74M233.96 226.94V229.43M233.96 231.93V234.43M233.96 246.91V251.90M233.96 259.39V264.38M233.96 301.83V304.32M235.22 226.94V229.43M235.22 236.92V239.42M235.22 241.91V244.41M235.22 249.40V251.90M236.48 211.96V214.45M236.48 219.45V221.94M236.48 226.94V236.92M236.48 241.91V244.41M236.48 254.40V256.89M236.48 374.23V379.22M236.48 386.71V389.20M237.73 231.93V236.92M237.73 241.91V251.90M237.73 301.83V304.32M238.99 206.96V209.46M238.99 219.45V221.94M238.99 226.94V231.93M238.99 234.43V236.92M238.99 241.91V244.41M238.99 249.40V251.90M238.99 301.83V304.32M240.24 196.98V199.47M240.24 211.96V214.45M240.24 226.94V229.43M240.24 234.43V236.92M240.24 241.91V244.41M240.24 249.40V251.90M240.24 254.40V256.89M240.24 366.74V369.23M241.50 224.44V226.94M241.50 234.43V236.92M241.50 239.42V244.41M241.50 246.91V249.40M242.76 219.45V221.94M242.76 231.93V234.43M244.01 211.96V214.45M244.01 226.94V229.43M244.01 231.93V234.43M244.01 241.91V244.41M244.01 259.39V261.89M245.27 196.98V199.47M245.27 216.95V221.94M246.52 196.98V199.47M246.52 234.43V236.92M246.52 241.91V246.91M246.52 254.40V256.89M246.52 369.23V371.73M247.78 211.96V214.45M247.78 226.94V234.43M247.78 249.40V251.90M247.78 259.39V261.89M249.04 219.45V221.94M249.04 234.43V236.92M249.04 241.91V249.40M250.29 211.96V214.45M250.29 231.93V236.92M250.29 241.91V244.41M250.29 246.91V251.90M250.29 301.83V304.32M251.55 234.43V236.92M251.55 241.91V246.91M252.80 196.98V199.47M252.80 211.96V214.45M252.80 229.43V231.93M252.80 259.39V261.89M252.80 301.83V304.32M254.06 224.44V239.42M254.06 241.91V246.91M254.06 249.40V251.90M254.06 301.83V304.32M254.06 361.74V366.74M254.06 374.23V376.72M255.32 199.47V201.97M255.32 204.47V209.46M255.32 224.44V231.93M255.32 241.91V246.91M255.32 249.40V251.90M255.32 254.40V256.89M256.57 196.98V199.47M256.57 231.93V234.43M256.57 241.91V246.91"/>
<path stroke="#4040ff" stroke-width="1.306" d="M6.63 199.47V204.47M6.63 264.38V266.88M6.63 286.85V289.35M6.63 316.81V319.30M6.63 324.30V326.79M6.63 329.29V331.79M6.63 354.25V356.75M6.63 361.74V364.24M6.63 379.22V381.71M7.88 186.99V191.99M7.88 211.96V219.45M7.88 259.39V261.89M7.88 264.38V266.88M7.88 281.86V284.35M7.88 329.29V331.79M7.88 336.78V339.27M7.88 341.77V344.27M7.88 349.26V351.76M7.88 381.71V384.21M7.88 389.20V391.70M9.14 182.00V184.50M9.14 219.45V221.94M9.14 266.88V269.38M9.14 294.34V296.84M9.14 314.31V316.81M9.14 321.80V324.30M9.14 334.28V336.78M9.14 339.27V341.77M9.14 354.25V356.75M9.14 366.74V369.23M10.40 196.98V199.47M10.40 316.81V321.80M10.40 364.24V366.74M11.65 182.00V184.50M11.65 196.98V199.47M11.65 206.96V209.46M11.65 294.34V296.84M11.65 319.30V324.30M11.65 326.79V329.29M11.65 334.28V336.78M11.65 339.27V341.77M11.65 344.27V349.26M11.65 351.76V354.25M11.65 366.74V369.23M11.65 376.72V379.22M11.65 384.21V389.20M12.91 186.99V189.49M12.91 246.91V249.40M12.91 294.34V296.84M12.91 306.82V311.81M12.91 321.80V324.30M12.91 329.29V331.79M12.91 336.78V339.27M12.91 354.25V356.75M12.91 364.24V366.74M14.16 184.50V186.99M14.16 191.99V194.48M14.16 196.98V199.47M14.16 201.97V204.47M14.16 246.91V249.40M14.16 311.81V314.31M14.16 366.74V369.23M14.16 386.71V389.20M15.42 184.50V186.99M15.42 189.49V191.99M15.42 306.82V309.32M15.42 311.81V314.31M15.42 321.80V324.30M15.42 329.29V331.79M15.42 336.78V339.27M15.42 341.77V344.27M15.42 376.72V379.22M16.68 271.87V274.37M16.68 284.35V289.35M16.68 294.34V296.84M16.68 311.81V316.81M16.68 321.80V324.30M16.68 326.79V329.29M16.68 334.28V336.78M16.68 339.27V341.77M16.68 351.76V354.25M16.68 361.74V364.24M17.93 182.00V184.50M17.93 186.99V189.49M17.93 309.32V314.31M17.93 316.81V319.30M17.93 324.30V326.79M17.93 334.28V336.78M17.93 346.76V349.26M17.93 359.25V361.74M17.93 364.24V366.74M17.93 374.23V376.72M19.19 182.00V184.50M19.19 194.48V199.47M19.19 214.45V216.95M19.19 264.38V266.88M19.19 276.86V279.36M19.19 309.32V311.81M19.19 314.31V319.30M19.19 324.30V326.79M19.19 334.28V336.78M19.19 354.25V356.75M19.19 369.23V374.23M19.19 381.71V384.21M19.19 389.20V391.70M20.44 196.98V199.47M20.44 244.41V246.91M20.44 261.89V266.88M20.44 269.38V271.87M20.44 279.36V281.86M20.44 309.32V311.81M20.44 319.30V321.80M20.44 331.79V334.28M20.44 336.78V339.27M20.44 354.25V359.25M20.44 379.22V381.71M20.44 384.21V386.71M21.70 186.99V189.49M21.70 274.37V279.36M21.70 284.35V289.35M21.70 294.34V296.84M21.70 336.78V344.27M21.70 354.25V356.75M21.70 359.25V361.74M21.70 366.74V369.23M21.70 376.72V379.22M22.96 264.38V266.88M22.96 269.38V271.87M22.96 279.36V281.86M22.96 301.83V304.32M22.96 346.76V349.26M22.96 359.25V361.74M22.96 389.20V391.70M24.21 189.49V191.99M24.21 294.34V296.84M24.21 326.79V329.29M24.21 356.75V359.25M24.21 369.23V371.73M25.47 199.47V201.97M25.47 286.85V289.35M25.47 324.30V329.29M25.47 361.74V364.24M25.47 376.72V379.22M26.72 219.45V221.94M26.72 309.32V311.81M26.72 341.77V344.27M26.72 349.26V356.75M27.98 194.48V196.98M27.98 221.94V224.44M27.98 266.88V269.38M27.98 271.87V274.37M27.98 284.35V289.35M27.98 291.84V294.34M27.98 301.83V304.32M27.98 306.82V314.31M27.98 316.81V321.80M27.98 324.30V326.79M27.98 334.28V336.78M27.98 346.76V349.26M27.98 359.25V364.24M27.98 374.23V376.72M27.98 379.22V381.71M27.98 386.71V389.20M29.24 182.00V184.50M29.24 194.48V196.98M29.24 219.45V221.94M29.24 286.85V289.35M29.24 316.81V319.30M29.24 326.79V331.79M29.24 334.28V339.27M29.24 341.77V344.27M29.24 354.25V356.75M29.24 371.73V374.23M29.24 389.20V391.70M30.49 189.49V191.99M30.49 244.41V246.91M30.49 266.88V269.38M30.49 306.82V309.32M30.49 314.31V316.81M30.49 321.80V324.30M30.49 329.29V331.79M30.49 341.77V344.27M30.49 346.76V351.76M30.49 354.25V356.75M30.49 359.25V361.74M30.49 366.74V371.73M31.75 286.85V289.35M31.75 296.84V299.33M31.75 309.32V311.81M31.75 314.31V316.81M31.75 326.79V329.29M31.75 331.79V334.28M31.75 344.27V346.76M31.75 376.72V379.22M31.75 384.21V386.71M33.00 186.99V189.49M33.00 191.99V194.48M33.00 224.44V226.94M33.00 241.91V244.41M33.00 254.40V256.89M33.00 266.88V269.38M33.00 271.87V274.37M33.00 284.35V286.85M33.00 339.27V341.77M33.00 371.73V374.23M34.26 196.98V199.47M34.26 204.47V206.96M34.26 251.90V254.40M34.26 271.87V276.86M34.26 279.36V281.86M34.26 296.84V299.33M34.26 309.32V319.30M34.26 339.27V341.77M34.26 349.26V351.76M34.26 354.25V356.75M34.26 364.24V366.74M34.26 379.22V381.71M34.26 384.21V386.71M35.52 191.99V194.48M35.52 269.38V271.87M35.52 279.36V281.86M35.52 284.35V286.85M35.52 309.32V311.81M35.52 314.31V316.81M35.52 319.30V321.80M35.52 356.75V359.25M35.52 371.73V374.23M36.77 186.99V194.48M36.77 219.45V221.94M36.77 271.87V274.37M36.77 279.36V284.35M36.77 344.27V346.76M36.77 356.75V361.74M38.03 286.85V289.35M38.03 336.78V339.27M38.03 344.27V346.76M38.03 349.26V351.76M39.28 182.00V184.50M39.28 214.45V216.95M39.28 326.79V331.79M39.28 334.28V336.78M39.28 339.27V344.27M39.28 351.76V354.25M39.28 359.25V361.74M39.28 369.23V371.73M40.54 182.00V184.50M40.54 191.99V194.48M40.54 274.37V276.86M40.54 306.82V309.32M40.54 311.81V314.31M40.54 341.77V344.27M40.54 346.76V349.26M40.54 366.74V369.23M40.54 374.23V376.72M41.80 244.41V246.91M41.80 259.39V261.89M41.80 271.87V274.37M41.80 326.79V334.28M41.80 339.27V341.77M41.80 359.25V361.74M43.05 214.45V216.95M43.05 219.45V221.94M43.05 241.91V244.41M43.05 264.38V266.88M43.05 281.86V284.35M43.05 286.85V289.35M43.05 294.34V296.84M43.05 309.32V311.81M43.05 316.81V319.30M43.05 321.80V324.30M43.05 326.79V329.29M43.05 336.78V339.27M43.05 361.74V364.24M43.05 366.74V369.23M44.31 196.98V199.47M44.31 204.47V206.96M44.31 219.45V221.94M44.31 274.37V276.86M44.31 281.86V284.35M44.31 286.85V289.35M44.31 316.81V319.30M44.31 356.75V359.25M44.31 364.24V369.23M44.31 371.73V374.23M45.56 182.00V184.50M45.56 256.89V261.89M45.56 264.38V266.88M45.56 269.38V271.87M45.56 274.37V276.86M45.56 281.86V289.35M45.56 296.84V299.33M45.56 316.81V326.79M45.56 354.25V356.75M46.82 191.99V194.48M46.82 204.47V206.96M46.82 279.36V281.86M46.82 301.83V304.32M46.82 324.30V329.29M46.82 334.28V336.78M46.82 339.27V341.77M46.82 344.27V349.26M46.82 351.76V356.75M46.82 359.25V361.74M46.82 366.74V369.23M46.82 371.73V374.23M46.82 381.71V384.21M46.82 386.71V391.70M48.08 184.50V186.99M48.08 196.98V199.47M48.08 214.45V216.95M48.08 274.37V276.86M48.08 309.32V311.81M48.08 314.31V321.80M48.08 329.29V331.79M48.08 334.28V336.78M48.08 389.20V391.70M49.33 182.00V184.50M49.33 186.99V189.49M49.33 206.96V211.96M49.33 246.91V249.40M49.33 251.90V254.40M49.33 264.38V266.88M49.33 271.87V274.37M49.33 276.86V279.36M49.33 309.32V311.81M49.33 321.80V324.30M49.33 326.79V329.29M49.33 331.79V334.28M49.33 359.25V361.74M50.59 184.50V186.99M50.59 221.94V224.44M50.59 269.38V271.87M50.59 284.35V286.85M50.59 306.82V309.32M50.59 314.31V316.81M50.59 319.30V326.79M50.59 334.28V336.78M50.59 339.27V341.77M50.59 349.26V354.25M51.84 184.50V186.99M51.84 191.99V194.48M51.84 311.81V314.31M51.84 324.30V329.29M51.84 331.79V336.78M51.84 339.27V341.77M51.84 344.27V346.76M51.84 366.74V369.23M53.10 184.50V186.99M53.10 241.91V244.41M53.10 266.88V269.38M53.10 276.86V279.36M53.10 284.35V289.35M53.10 301.83V304.32M53.10 311.81V314.31M53.10 329.29V334.28M53.10 346.76V349.26M53.10 371.73V374.23M54.36 191.99V194.48M54.36 206.96V209.46M54.36 294.34V299.33M54.36 321.80V324.30M54.36 339.27V341.77M54.36 346.76V349.26M54.36 361.74V364.24M55.61 184.50V186.99M55.61 189.49V191.99M55.61 204.47V206.96M55.61 219.45V221.94M55.61 294.34V296.84M55.61 309.32V311.81M55.61 334.28V341.77M55.61 344.27V346.76M55.61 351.76V354.25M55.61 374.23V376.72M56.87 191.99V194.48M56.87 214.45V216.95M56.87 219.45V221.94M56.87 246.91V249.40M56.87 271.87V274.37M56.87 276.86V279.36M56.87 311.81V314.31M56.87 316.81V319.30M56.87 381.71V384.21M58.12 241.91V244.41M58.12 271.87V274.37M58.12 279.36V281.86M58.12 296.84V299.33M58.12 311.81V314.31M58.12 336.78V339.27M58.12 344.27V346.76M58.12 354.25V356.75M58.12 359.25V361.74M58.12 379.22V381.71M59.38 189.49V191.99M59.38 194.48V196.98M59.38 271.87V276.86M59.38 296.84V299.33M59.38 336.78V339.27M59.38 344.27V351.76M59.38 366.74V371.73M59.38 389.20V391.70M60.64 182.00V184.50M60.64 196.98V199.47M60.64 271.87V274.37M60.64 279.36V281.86M60.64 321.80V324.30M60.64 326.79V329.29M60.64 354.25V356.75M61.89 204.47V206.96M61.89 209.46V211.96M61.89 219.45V221.94M61.89 244.41V246.91M61.89 294.34V296.84M61.89 311.81V314.31M61.89 326.79V329.29M61.89 336.78V341.77M61.89 379.22V381.71M63.15 264.38V266.88M63.15 274.37V281.86M63.15 314.31V316.81M63.15 319.30V321.80M63.15 334.28V336.78M63.15 339.27V341.77M63.15 346.76V349.26M63.15 371.73V374.23M63.15 376.72V379.22M63.15 384.21V386.71M64.40 184.50V189.49M64.40 216.95V219.45M64.40 309.32V311.81M64.40 321.80V324.30M64.40 336.78V339.27M64.40 346.76V349.26M65.66 184.50V186.99M65.66 191.99V194.48M65.66 274.37V279.36M65.66 286.85V289.35M65.66 311.81V314.31M65.66 336.78V339.27M65.66 359.25V361.74M66.92 186.99V189.49M66.92 279.36V284.35M66.92 306.82V309.32M66.92 326.79V329.29M66.92 341.77V344.27M66.92 354.25V356.75M66.92 369.23V371.73M68.17 184.50V186.99M68.17 189.49V191.99M68.17 199.47V201.97M68.17 209.46V211.96M68.17 244.41V246.91M68.17 261.89V269.38M68.17 284.35V286.85M68.17 309.32V316.81M68.17 341.77V344.27M68.17 349.26V351.76M68.17 366.74V371.73M68.17 374.23V379.22M69.43 204.47V206.96M69.43 219.45V221.94M69.43 244.41V246.91M69.43 266.88V269.38M69.43 279.36V281.86M69.43 291.84V294.34M69.43 321.80V324.30M69.43 329.29V331.79M69.43 381.71V384.21M70.68 194.48V196.98M70.68 201.97V204.47M70.68 241.91V246.91M70.68 286.85V289.35M70.68 296.84V299.33M70.68 309.32V311.81M70.68 326.79V329.29M70.68 356.75V359.25M71.94 196.98V199.47M71.94 201.97V209.46M71.94 211.96V214.45M71.94 251.90V254.40M71.94 269.38V271.87M71.94 296.84V299.33M71.94 356.75V359.25M71.94 364.24V366.74M71.94 379.22V381.71M71.94 384.21V386.71M73.20 189.49V191.99M73.20 194.48V199.47M73.20 204.47V206.96M73.20 256.89V259.39M73.20 266.88V269.38M73.20 274.37V276.86M73.20 279.36V281.86M73.20 284.35V286.85M73.20 294.34V296.84M73.20 311.81V316.81M73.20 321.80V324.30M73.20 359.25V361.74M73.20 371.73V374.23M74.45 306.82V309.32M74.45 314.31V316.81M74.45 334.28V339.27M74.45 366.74V369.23M75.71 186.99V191.99M75.71 211.96V214.45M75.71 216.95V219.45M75.71 256.89V259.39M75.71 266.88V269.38M75.71 281.86V286.85M75.71 301.83V304.32M75.71 311.81V314.31M75.71 339.27V341.77M75.71 344.27V346.76M75.71 354.25V356.75M75.71 359.25V361.74M75.71 379.22V381.71M76.96 199.47V201.97M76.96 204.47V206.96M76.96 286.85V289.35M76.96 321.80V324.30M76.96 341.77V344.27M76.96 349.26V351.76M76.96 364.24V366.74M76.96 371.73V374.23M78.22 184.50V186.99M78.22 214.45V216.95M78.22 286.85V289.35M78.22 344.27V346.76M78.22 351.76V354.25M78.22 366.74V369.23M78.22 376.72V379.22M78.22 386.71V389.20M79.48 266.88V269.38M79.48 279.36V281.86M79.48 286.85V289.35M79.48 294.34V296.84M79.48 306.82V309.32M79.48 316.81V319.30M79.48 326.79V329.29M79.48 351.76V354.25M79.48 379.22V381.71M79.48 384.21V386.71M80.73 246.91V249.40M80.73 254.40V259.39M80.73 281.86V284.35M80.73 291.84V294.34M80.73 309.32V311.81M80.73 314.31V316.81M80.73 326.79V329.29M80.73 379.22V381.71M81.99 189.49V191.99M81.99 196.98V201.97M81.99 266.88V269.38M81.99 274.37V276.86M81.99 281.86V284.35M81.99 286.85V289.35M81.99 294.34V296.84M81.99 311.81V316.81M81.99 339.27V344.27M81.99 354.25V356.75M83.24 191.99V194.48M83.24 196.98V199.47M83.24 296.84V299.33M83.24 309.32V311.81M83.24 314.31V316.81M83.24 324.30V329.29M83.24 351.76V356.75M83.24 361.74V366.74M83.24 386.71V389.20M84.50 206.96V209.46M84.50 214.45V216.95M84.50 241.91V244.41M84.50 256.89V259.39M84.50 264.38V269.38M84.50 276.86V281.86M84.50 284.35V289.35M84.50 316.81V329.29M84.50 339.27V346.76M84.50 349.26V351.76M84.50 359.25V361.74M84.50 364.24V366.74M84.50 386.71V389.20M85.76 191.99V196.98M85.76 204.47V206.96M85.76 276.86V279.36M85.76 306.82V309.32M85.76 314.31V316.81M85.76 324.30V329.29M85.76 334.28V336.78M85.76 354.25V356.75M85.76 359.25V364.24M85.76 386.71V389.20M87.01 182.00V184.50M87.01 271.87V274.37M87.01 279.36V281.86M87.01 311.81V314.31M87.01 324.30V326.79M87.01 331.79V334.28M87.01 339.27V346.76M87.01 349.26V351.76M87.01 366.74V369.23M87.01 371.73V374.23M87.01 379.22V381.71M87.01 384.21V386.71M88.27 194.48V196.98M88.27 221.94V224.44M88.27 261.89V264.38M88.27 269.38V271.87M88.27 281.86V289.35M88.27 336.78V339.27M88.27 349.26V351.76M88.27 381.71V384.21M89.52 191.99V194.48M89.52 196.98V199.47M89.52 201.97V204.47M89.52 261.89V264.38M89.52 311.81V314.31M89.52 324.30V326.79M89.52 331.79V334.28M90.78 186.99V189.49M90.78 204.47V206.96M90.78 214.45V216.95M90.78 221.94V224.44M90.78 296.84V299.33M90.78 319.30V329.29M92.04 216.95V219.45M92.04 224.44V226.94M92.04 274.37V276.86M92.04 309.32V314.31M92.04 319.30V321.80M92.04 341.77V344.27M92.04 354.25V356.75M92.04 359.25V361.74M92.04 381.71V384.21M93.29 191.99V194.48M93.29 246.91V249.40M93.29 254.40V256.89M93.29 269.38V274.37M93.29 276.86V279.36M93.29 286.85V289.35M93.29 309.32V314.31M93.29 321.80V324.30M93.29 336.78V344.27M93.29 361.74V364.24M93.29 379.22V384.21M94.55 199.47V201.97M94.55 256.89V259.39M94.55 261.89V264.38M94.55 274.37V276.86M94.55 279.36V281.86M94.55 296.84V299.33M94.55 314.31V321.80M94.55 329.29V334.28M94.55 341.77V344.27M94.55 349.26V354.25M94.55 361.74V364.24M94.55 371.73V376.72M94.55 379.22V384.21M95.80 294.34V296.84M95.80 301.83V304.32M95.80 306.82V309.32M95.80 369.23V374.23M97.06 216.95V219.45M97.06 281.86V284.35M97.06 306.82V309.32M97.06 311.81V316.81M97.06 324.30V326.79M97.06 336.78V339.27M97.06 356.75V359.25M97.06 369.23V371.73M97.06 381.71V384.21M98.32 196.98V199.47M98.32 284.35V286.85M98.32 314.31V316.81M98.32 321.80V329.29M98.32 334.28V339.27M98.32 366.74V369.23M99.57 184.50V186.99M99.57 201.97V204.47M99.57 254.40V256.89M99.57 266.88V269.38M99.57 276.86V279.36M99.57 286.85V289.35M99.57 316.81V321.80M99.57 324.30V331.79M99.57 334.28V336.78M99.57 361.74V364.24M100.83 184.50V186.99M100.83 189.49V191.99M100.83 194.48V199.47M100.83 214.45V216.95M100.83 309.32V311.81M100.83 319.30V321.80M100.83 351.76V356.75M100.83 366.74V369.23M100.83 381.71V384.21M102.08 214.45V216.95M102.08 271.87V274.37M102.08 284.35V286.85M102.08 294.34V296.84M102.08 309.32V311.81M102.08 361.74V364.24M103.34 194.48V196.98M103.34 204.47V206.96M103.34 219.45V221.94M103.34 241.91V244.41M103.34 314.31V316.81M103.34 329.29V331.79M103.34 359.25V361.74M103.34 374.23V376.72M104.60 201.97V204.47M104.60 281.86V284.35M104.60 309.32V314.31M104.60 369.23V371.73M104.60 381.71V389.20M105.85 184.50V189.49M105.85 196.98V199.47M105.85 204.47V206.96M105.85 209.46V211.96M105.85 216.95V224.44M105.85 234.43V239.42M105.85 281.86V284.35M105.85 316.81V319.30M105.85 321.80V324.30M105.85 339.27V341.77M105.85 349.26V354.25M105.85 369.23V376.72M105.85 379.22V381.71M107.11 199.47V201.97M107.11 234.43V236.92M107.11 306.82V309.32M107.11 354.25V356.75M107.11 361.74V364.24M107.11 366.74V369.23M107.11 379.22V381.71M108.36 196.98V199.47M108.36 221.94V224.44M108.36 229.43V234.43M108.36 274.37V276.86M108.36 281.86V284.35M108.36 296.84V299.33M108.36 306.82V311.81M108.36 319.30V321.80M108.36 344.27V346.76M108.36 354.25V356.75M108.36 366.74V369.23M108.36 379.22V381.71M108.36 389.20V391.70M109.62 216.95V219.45M109.62 246.91V249.40M109.62 269.38V271.87M109.62 284.35V286.85M109.62 291.84V294.34M109.62 324.30V329.29M109.62 341.77V344.27M109.62 361.74V364.24M110.88 182.00V184.50M110.88 219.45V224.44M110.88 226.94V231.93M110.88 234.43V236.92M110.88 239.42V241.91M110.88 274.37V276.86M110.88 301.83V304.32M110.88 306.82V309.32M110.88 339.27V341.77M112.13 184.50V186.99M112.13 191.99V194.48M112.13 196.98V199.47M112.13 209.46V211.96M112.13 214.45V216.95M112.13 231.93V234.43M112.13 269.38V271.87M112.13 281.86V284.35M112.13 329.29V331.79M112.13 336.78V339.27M112.13 349.26V351.76M112.13 379.22V381.71M112.13 384.21V386.71M113.39 191.99V194.48M113.39 201.97V204.47M113.39 209.46V211.96M113.39 244.41V246.91M113.39 254.40V256.89M113.39 261.89V264.38M113.39 276.86V279.36M113.39 284.35V289.35M113.39 306.82V316.81M113.39 324.30V326.79M113.39 334.28V336.78M113.39 344.27V346.76M113.39 349.26V351.76M113.39 364.24V366.74M114.64 216.95V219.45M114.64 254.40V256.89M114.64 309.32V314.31M114.64 324.30V326.79M114.64 341.77V344.27M114.64 346.76V349.26M114.64 354.25V356.75M114.64 379.22V381.71M115.90 196.98V199.47M115.90 204.47V206.96M115.90 216.95V219.45M115.90 229.43V231.93M115.90 241.91V244.41M115.90 264.38V266.88M115.90 269.38V271.87M115.90 274.37V276.86M115.90 279.36V281.86M115.90 329.29V331.79M115.90 341.77V344.27M115.90 359.25V364.24M115.90 369.23V371.73M117.16 184.50V186.99M117.16 201.97V204.47M117.16 206.96V209.46M117.16 264.38V266.88M117.16 366.74V369.23M117.16 379.22V381.71M117.16 386.71V389.20M118.41 244.41V246.91M118.41 249.40V251.90M118.41 276.86V281.86M118.41 294.34V296.84M118.41 311.81V319.30M118.41 321.80V324.30M118.41 336.78V339.27M118.41 366.74V369.23M119.67 184.50V186.99M119.67 211.96V214.45M119.67 229.43V231.93M119.67 234.43V236.92M119.67 239.42V241.91M119.67 254.40V256.89M119.67 269.38V271.87M119.67 289.35V296.84M119.67 311.81V316.81M119.67 324.30V326.79M119.67 329.29V331.79M119.67 334.28V336.78M119.67 349.26V356.75M119.67 384.21V386.71M120.92 186.99V194.48M120.92 231.93V234.43M120.92 236.92V239.42M120.92 259.39V264.38M120.92 314.31V319.30M120.92 326.79V329.29M120.92 344.27V346.76M120.92 354.25V356.75M120.92 366.74V369.23M122.18 196.98V201.97M122.18 209.46V214.45M122.18 216.95V221.94M122.18 229.43V231.93M122.18 294.34V296.84M122.18 316.81V321.80M122.18 329.29V331.79M122.18 334.28V341.77M122.18 354.25V356.75M122.18 379.22V381.71M122.18 384.21V386.71M122.18 389.20V391.70M123.44 189.49V194.48M123.44 201.97V204.47M123.44 219.45V221.94M123.44 249.40V251.90M123.44 276.86V279.36M123.44 309.32V311.81M123.44 334.28V339.27M123.44 341.77V344.27M123.44 356.75V359.25M123.44 369.23V371.73M124.69 189.49V191.99M124.69 201.97V204.47M124.69 266.88V271.87M124.69 279.36V284.35M124.69 329.29V334.28M124.69 336.78V339.27M124.69 344.27V351.76M125.95 186.99V189.49M125.95 196.98V199.47M125.95 229.43V234.43M125.95 249.40V251.90M125.95 256.89V259.39M125.95 289.35V291.84M125.95 324.30V326.79M127.20 186.99V189.49M127.20 196.98V199.47M127.20 256.89V264.38M127.20 269.38V271.87M127.20 284.35V286.85M127.20 309.32V314.31M127.20 319.30V321.80M127.20 326.79V329.29M127.20 344.27V346.76M127.20 379.22V381.71M127.20 386.71V389.20M128.46 182.00V184.50M128.46 186.99V189.49M128.46 204.47V206.96M128.46 224.44V226.94M128.46 241.91V244.41M128.46 256.89V259.39M128.46 291.84V294.34M128.46 311.81V314.31M128.46 316.81V319.30M128.46 331.79V334.28M128.46 351.76V359.25M128.46 374.23V376.72M129.72 184.50V186.99M129.72 189.49V191.99M129.72 199.47V201.97M129.72 206.96V209.46M129.72 236.92V239.42M129.72 241.91V244.41M129.72 271.87V276.86M129.72 279.36V284.35M129.72 329.29V331.79M129.72 334.28V336.78M129.72 339.27V341.77M129.72 361.74V371.73M129.72 389.20V391.70M130.97 184.50V189.49M130.97 196.98V199.47M130.97 226.94V229.43M130.97 231.93V234.43M130.97 236.92V239.42M130.97 246.91V249.40M130.97 254.40V256.89M130.97 271.87V274.37M130.97 284.35V286.85M130.97 294.34V299.33M130.97 309.32V311.81M130.97 379.22V381.71M132.23 199.47V201.97M132.23 206.96V209.46M132.23 236.92V239.42M132.23 271.87V274.37M132.23 279.36V281.86M132.23 351.76V354.25M132.23 371.73V374.23M132.23 386.71V391.70M133.48 204.47V206.96M133.48 236.92V239.42M133.48 241.91V244.41M133.48 254.40V256.89M133.48 261.89V264.38M133.48 266.88V269.38M133.48 276.86V279.36M133.48 281.86V284.35M133.48 289.35V291.84M133.48 306.82V311.81M133.48 319.30V329.29M133.48 349.26V351.76M134.74 209.46V211.96M134.74 294.34V296.84M134.74 311.81V314.31M134.74 321.80V324.30M134.74 356.75V359.25M134.74 369.23V371.73M134.74 374.23V376.72M134.74 379.22V381.71M134.74 389.20V391.70M136.00 199.47V201.97M136.00 231.93V234.43M136.00 241.91V244.41M136.00 294.34V299.33M136.00 334.28V336.78M136.00 339.27V344.27M136.00 371.73V376.72M136.00 386.71V389.20M137.25 182.00V184.50M137.25 201.97V206.96M137.25 231.93V236.92M137.25 256.89V259.39M137.25 264.38V266.88M137.25 271.87V274.37M137.25 276.86V279.36M137.25 339.27V341.77M137.25 346.76V349.26M137.25 351.76V354.25M137.25 359.25V361.74M138.51 211.96V214.45M138.51 256.89V259.39M138.51 264.38V266.88M139.76 224.44V226.94M139.76 244.41V246.91M139.76 254.40V256.89M141.02 196.98V199.47M141.02 211.96V214.45M141.02 216.95V219.45M141.02 224.44V231.93M141.02 239.42V246.91M141.02 361.74V364.24M141.02 374.23V376.72M142.28 186.99V191.99M142.28 216.95V219.45M142.28 226.94V229.43M142.28 249.40V251.90M142.28 254.40V256.89M142.28 259.39V261.89M142.28 301.83V304.32M142.28 384.21V386.71M143.53 196.98V199.47M143.53 214.45V216.95M143.53 234.43V236.92M143.53 249.40V251.90M143.53 261.89V264.38M144.79 211.96V214.45M144.79 226.94V234.43M144.79 246.91V249.40M146.04 219.45V221.94M146.04 261.89V264.38M146.04 301.83V304.32M147.30 216.95V221.94M147.30 224.44V226.94M147.30 229.43V234.43M147.30 251.90V254.40M148.56 204.47V206.96M149.81 214.45V216.95M149.81 219.45V221.94M149.81 234.43V236.92M149.81 239.42V241.91M149.81 244.41V246.91M149.81 259.39V261.89M149.81 304.32V306.82M151.07 209.46V211.96M151.07 226.94V229.43M151.07 234.43V236.92M152.32 199.47V201.97M152.32 211.96V216.95M152.32 241.91V246.91M152.32 251.90V254.40M152.32 261.89V264.38M152.32 301.83V304.32M153.58 221.94V224.44M153.58 229.43V231.93M153.58 244.41V251.90M153.58 256.89V261.89M153.58 274.37V276.86M153.58 301.83V304.32M153.58 361.74V364.24M153.58 369.23V371.73M153.58 374.23V376.72M154.84 211.96V214.45M154.84 229.43V234.43M156.09 191.99V194.48M156.09 214.45V216.95M156.09 234.43V236.92M156.09 244.41V246.91M156.09 304.32V306.82M156.09 389.20V391.70M157.35 206.96V209.46M157.35 211.96V214.45M157.35 219.45V221.94M157.35 224.44V231.93M157.35 236.92V239.42M157.35 259.39V264.38M157.35 304.32V306.82M158.60 229.43V231.93M158.60 254.40V256.89M158.60 301.83V304.32M159.86 196.98V199.47M159.86 231.93V234.43M159.86 246.91V249.40M159.86 251.90V254.40M161.12 186.99V191.99M161.12 211.96V214.45M161.12 219.45V221.94M161.12 231.93V236.92M161.12 241.91V244.41M161.12 259.39V261.89M162.37 182.00V184.50M162.37 196.98V199.47M162.37 209.46V214.45M162.37 216.95V219.45M162.37 229.43V234.43M162.37 239.42V241.91M162.37 246.91V249.40M163.63 216.95V219.45M163.63 226.94V229.43M163.63 244.41V246.91M163.63 249.40V251.90M163.63 254.40V256.89M164.88 216.95V219.45M164.88 229.43V234.43M164.88 241.91V244.41M164.88 301.83V304.32M166.14 211.96V219.45M166.14 241.91V244.41M166.14 246.91V249.40M166.14 259.39V261.89M166.14 364.24V366.74M166.14 374.23V379.22M167.40 211.96V214.45M167.40 219.45V221.94M167.40 224.44V226.94M167.40 239.42V241.91M167.40 249.40V251.90M167.40 301.83V304.32M168.65 196.98V199.47M168.65 211.96V214.45M168.65 224.44V226.94M168.65 241.91V246.91M168.65 256.89V259.39M168.65 261.89V264.38M168.65 301.83V304.32M169.91 194.48V196.98M169.91 209.46V211.96M169.91 214.45V216.95M169.91 219.45V224.44M169.91 226.94V229.43M169.91 241.91V244.41M169.91 249.40V251.90M169.91 254.40V261.89M169.91 301.83V304.32M171.16 206.96V209.46M171.16 231.93V234.43M171.16 236.92V239.42M171.16 244.41V246.91M171.16 259.39V261.89M171.16 284.35V289.35M171.16 301.83V304.32M172.42 186.99V189.49M172.42 196.98V199.47M172.42 204.47V206.96M172.42 211.96V214.45M172.42 219.45V224.44M172.42 234.43V239.42M172.42 244.41V246.91M172.42 249.40V251.90M172.42 304.32V306.82M173.68 226.94V231.93M173.68 234.43V236.92M173.68 244.41V246.91M173.68 259.39V264.38M173.68 304.32V306.82M174.93 196.98V201.97M174.93 206.96V209.46M174.93 224.44V229.43M174.93 231.93V236.92M174.93 249.40V251.90M176.19 196.98V199.47M176.19 216.95V221.94M176.19 224.44V229.43M176.19 239.42V254.40M177.44 224.44V229.43M177.44 231.93V236.92M177.44 239.42V241.91M177.44 244.41V246.91M177.44 254.40V256.89M177.44 324.30V326.79M178.70 196.98V199.47M178.70 234.43V236.92M178.70 239.42V244.41M178.70 249.40V251.90M178.70 261.89V264.38M178.70 381.71V384.21M179.96 211.96V214.45M179.96 216.95V221.94M179.96 226.94V229.43M179.96 234.43V239.42M179.96 256.89V259.39M181.21 196.98V199.47M181.21 201.97V204.47M181.21 211.96V214.45M181.21 219.45V224.44M181.21 244.41V246.91M181.21 249.40V251.90M181.21 304.32V306.82M181.21 374.23V379.22M182.47 196.98V199.47M182.47 214.45V219.45M182.47 244.41V246.91M182.47 254.40V256.89M182.47 259.39V261.89M182.47 264.38V266.88M182.47 301.83V306.82M183.72 231.93V239.42M183.72 244.41V249.40M183.72 251.90V254.40M183.72 261.89V264.38M183.72 301.83V304.32M183.72 374.23V376.72M184.98 206.96V209.46M184.98 211.96V214.45M184.98 216.95V219.45M184.98 224.44V234.43M184.98 236.92V239.42M184.98 254.40V256.89M184.98 329.29V331.79M186.24 196.98V201.97M186.24 206.96V209.46M186.24 216.95V219.45M186.24 239.42V241.91M186.24 259.39V261.89M186.24 281.86V284.35M186.24 296.84V299.33M186.24 301.83V304.32M187.49 199.47V201.97M187.49 216.95V219.45M187.49 224.44V226.94M187.49 241.91V251.90M187.49 259.39V261.89M187.49 301.83V304.32M188.75 196.98V199.47M188.75 219.45V221.94M188.75 224.44V234.43M188.75 236.92V239.42M188.75 246.91V251.90M188.75 259.39V261.89M188.75 264.38V266.88M190.00 214.45V216.95M190.00 229.43V231.93M190.00 236.92V239.42M190.00 264.38V266.88M190.00 301.83V304.32M191.26 219.45V221.94M191.26 229.43V234.43M191.26 244.41V246.91M191.26 256.89V259.39M191.26 301.83V304.32M192.52 216.95V219.45M192.52 226.94V236.92M192.52 246.91V249.40M192.52 304.32V306.82M192.52 364.24V366.74M193.77 206.96V214.45M193.77 219.45V221.94M193.77 226.94V229.43M193.77 239.42V241.91M193.77 244.41V246.91M193.77 251.90V254.40M193.77 304.32V306.82M195.03 214.45V221.94M195.03 224.44V226.94M195.03 229.43V234.43M196.28 231.93V234.43M196.28 241.91V244.41M196.28 246.91V249.40M196.28 259.39V261.89M196.28 376.72V379.22M197.54 216.95V221.94M197.54 236.92V239.42M197.54 241.91V244.41M197.54 254.40V256.89M197.54 259.39V264.38M198.80 199.47V201.97M198.80 204.47V206.96M198.80 219.45V224.44M198.80 229.43V231.93M198.80 239.42V244.41M198.80 249.40V251.90M198.80 254.40V261.89M200.05 199.47V201.97M200.05 204.47V206.96M200.05 224.44V226.94M200.05 229.43V231.93M200.05 241.91V244.41M200.05 254.40V256.89M200.05 301.83V304.32M201.31 196.98V199.47M201.31 209.46V211.96M201.31 224.44V226.94M201.31 229.43V234.43M201.31 246.91V251.90M201.31 254.40V259.39M201.31 284.35V286.85M201.31 294.34V296.84M201.31 304.32V306.82M202.56 211.96V214.45M202.56 216.95V221.94M202.56 226.94V229.43M202.56 231.93V234.43M202.56 244.41V246.91M202.56 251.90V254.40M202.56 256.89V259.39M202.56 301.83V306.82M202.56 374.23V376.72M203.82 196.98V199.47M203.82 211.96V214.45M203.82 216.95V221.94M203.82 229.43V231.93M203.82 246.91V249.40M203.82 251.90V254.40M203.82 259.39V264.38M203.82 304.32V306.82M205.08 194.48V196.98M205.08 211.96V214.45M205.08 229.43V231.93M205.08 236.92V239.42M205.08 246.91V249.40M205.08 259.39V266.88M206.33 219.45V221.94M206.33 224.44V226.94M206.33 229.43V231.93M206.33 236.92V239.42M206.33 244.41V246.91M206.33 259.39V264.38M207.59 199.47V201.97M207.59 226.94V229.43M207.59 234.43V236.92M207.59 239.42V241.91M207.59 246.91V251.90M207.59 254.40V256.89M207.59 304.32V306.82M207.59 361.74V364.24M207.59 386.71V389.20M208.84 226.94V229.43M208.84 234.43V236.92M208.84 246.91V249.40M208.84 264.38V266.88M208.84 301.83V304.32M210.10 199.47V201.97M210.10 209.46V211.96M210.10 231.93V234.43M210.10 244.41V249.40M210.10 254.40V256.89M210.10 301.83V306.82M211.36 214.45V219.45M211.36 246.91V249.40M211.36 256.89V261.89M211.36 301.83V304.32M211.36 389.20V391.70M212.61 206.96V209.46M212.61 219.45V221.94M212.61 224.44V226.94M212.61 231.93V236.92M213.87 196.98V199.47M213.87 211.96V214.45M213.87 216.95V221.94M213.87 226.94V229.43M213.87 234.43V241.91M213.87 246.91V249.40M213.87 254.40V256.89M213.87 259.39V261.89M213.87 374.23V376.72M215.12 219.45V221.94M215.12 229.43V231.93M215.12 239.42V241.91M215.12 301.83V304.32M216.38 206.96V209.46M216.38 211.96V219.45M216.38 224.44V226.94M216.38 234.43V239.42M216.38 241.91V244.41M216.38 246.91V254.40M216.38 366.74V369.23M216.38 389.20V391.70M217.64 219.45V224.44M217.64 236.92V241.91M217.64 254.40V256.89M217.64 259.39V266.88M217.64 344.27V346.76M218.89 206.96V209.46M218.89 246.91V249.40M218.89 254.40V256.89M218.89 374.23V376.72M220.15 196.98V199.47M220.15 201.97V204.47M220.15 206.96V209.46M220.15 219.45V221.94M220.15 226.94V234.43M220.15 256.89V261.89M220.15 389.20V391.70M221.40 209.46V211.96M221.40 214.45V216.95M221.40 224.44V226.94M221.40 376.72V379.22M222.66 204.47V206.96M222.66 229.43V231.93M222.66 234.43V239.42M222.66 249.40V256.89M222.66 269.38V271.87M222.66 286.85V289.35M222.66 301.83V304.32M223.92 186.99V189.49M223.92 196.98V199.47M223.92 204.47V209.46M223.92 211.96V214.45M223.92 226.94V234.43M223.92 259.39V261.89M223.92 264.38V266.88M223.92 301.83V306.82M225.17 224.44V234.43M225.17 246.91V251.90M226.43 189.49V191.99M226.43 209.46V211.96M226.43 216.95V219.45M226.43 229.43V234.43M226.43 236.92V239.42M226.43 241.91V244.41M227.68 226.94V229.43M227.68 234.43V236.92M227.68 246.91V249.40M227.68 256.89V264.38M227.68 304.32V306.82M228.94 182.00V184.50M228.94 196.98V199.47M228.94 206.96V209.46M228.94 216.95V219.45M228.94 224.44V226.94M228.94 229.43V246.91M228.94 254.40V256.89M228.94 259.39V261.89M228.94 304.32V306.82M228.94 361.74V364.24M228.94 384.21V386.71M230.20 196.98V199.47M230.20 216.95V219.45M230.20 224.44V226.94M230.20 231.93V236.92M230.20 239.42V246.91M230.20 249.40V251.90M230.20 271.87V274.37M230.20 304.32V306.82M231.45 196.98V199.47M231.45 224.44V226.94M231.45 231.93V234.43M231.45 239.42V241.91M231.45 244.41V246.91M231.45 256.89V261.89M231.45 264.38V266.88M231.45 309.32V311.81M231.45 316.81V319.30M231.45 321.80V326.79M232.71 196.98V199.47M232.71 204.47V206.96M232.71 209.46V211.96M232.71 214.45V216.95M232.71 219.45V221.94M232.71 226.94V229.43M232.71 231.93V236.92M232.71 254.40V256.89M232.71 301.83V304.32M232.71 384.21V386.71M233.96 196.98V199.47M233.96 211.96V216.95M233.96 234.43V236.92M233.96 241.91V244.41M233.96 256.89V259.39M233.96 284.35V286.85M235.22 199.47V201.97M235.22 211.96V214.45M235.22 219.45V221.94M235.22 224.44V226.94M235.22 229.43V231.93M235.22 234.43V236.92M235.22 239.42V241.91M235.22 244.41V249.40M235.22 304.32V306.82M236.48 194.48V196.98M236.48 224.44V226.94M236.48 244.41V251.90M236.48 264.38V266.88M236.48 316.81V319.30M236.48 364.24V366.74M236.48 369.23V371.73M236.48 381.71V386.71M236.48 389.20V391.70M237.73 194.48V196.98M237.73 214.45V216.95M237.73 221.94V231.93M237.73 254.40V259.39M237.73 304.32V306.82M238.99 196.98V199.47M238.99 211.96V214.45M238.99 236.92V239.42M238.99 244.41V249.40M240.24 219.45V221.94M240.24 224.44V226.94M240.24 231.93V234.43M240.24 244.41V246.91M240.24 301.83V304.32M240.24 364.24V366.74M241.50 196.98V199.47M241.50 204.47V206.96M241.50 211.96V214.45M241.50 226.94V231.93M241.50 249.40V264.38M241.50 301.83V306.82M241.50 316.81V319.30M242.76 226.94V231.93M242.76 234.43V236.92M242.76 249.40V254.40M242.76 256.89V261.89M244.01 196.98V199.47M244.01 204.47V206.96M244.01 214.45V219.45M244.01 229.43V231.93M244.01 236.92V241.91M244.01 244.41V246.91M244.01 254.40V256.89M244.01 261.89V264.38M244.01 381.71V384.21M245.27 206.96V209.46M245.27 211.96V214.45M245.27 224.44V231.93M245.27 234.43V236.92M245.27 239.42V241.91M245.27 244.41V246.91M245.27 259.39V261.89M245.27 301.83V304.32M246.52 216.95V219.45M246.52 231.93V234.43M246.52 236.92V241.91M246.52 246.91V249.40M246.52 251.90V254.40M246.52 301.83V304.32M247.78 214.45V216.95M247.78 234.43V236.92M247.78 239.42V246.91M247.78 254.40V259.39M249.04 216.95V219.45M249.04 231.93V234.43M249.04 239.42V241.91M249.04 249.40V251.90M249.04 301.83V304.32M250.29 204.47V211.96M250.29 219.45V221.94M250.29 226.94V231.93M250.29 236.92V241.91M250.29 254.40V256.89M250.29 259.39V264.38M250.29 381.71V384.21M251.55 196.98V199.47M251.55 204.47V206.96M251.55 216.95V219.45M251.55 229.43V234.43M251.55 246.91V254.40M251.55 259.39V261.89M251.55 301.83V304.32M251.55 349.26V351.76M251.55 389.20V391.70M252.80 219.45V221.94M252.80 226.94V229.43M252.80 239.42V246.91M252.80 249.40V256.89M252.80 261.89V264.38M252.80 304.32V306.82M252.80 369.23V371.73M252.80 374.23V376.72M254.06 219.45V221.94M254.06 239.42V241.91M254.06 381.71V384.21M255.32 211.96V214.45M255.32 216.95V219.45M255.32 231.93V234.43M255.32 236.92V241.91M255.32 259.39V264.38M255.32 301.83V304.32M256.57 211.96V214.45M256.57 219.45V221.94M256.57 234.43V236.92M256.57 239.42V241.91M256.57 249.40V251.90M256.57 301.83V304.32"/>
<path stroke="#8080ff" stroke-width="1.306" d="M6.63 189.49V191.99M6.63 194.48V199.47M6.63 219.45V221.94M6.63 284.35V286.85M6.63 291.84V294.34M6.63 311.81V314.31M6.63 321.80V324.30M6.63 326.79V329.29M6.63 356.75V359.25M7.88 182.00V184.50M7.88 209.46V211.96M7.88 219.45V221.94M7.88 266.88V269.38M7.88 279.36V281.86M7.88 291.84V294.34M7.88 334.28V336.78M7.88 354.25V356.75M7.88 361.74V366.74M7.88 371.73V374.23M9.14 189.49V191.99M9.14 196.98V201.97M9.14 204.47V206.96M9.14 211.96V216.95M9.14 244.41V246.91M9.14 254.40V256.89M9.14 276.86V279.36M9.14 281.86V284.35M9.14 286.85V289.35M9.14 301.83V304.32M9.14 329.29V331.79M9.14 346.76V349.26M9.14 351.76V354.25M9.14 359.25V364.24M10.40 186.99V189.49M10.40 194.48V196.98M10.40 201.97V204.47M10.40 214.45V216.95M10.40 259.39V261.89M10.40 291.84V294.34M10.40 311.81V314.31M10.40 321.80V324.30M10.40 326.79V329.29M10.40 366.74V369.23M10.40 381.71V384.21M10.40 389.20V391.70M11.65 186.99V189.49M11.65 214.45V216.95M11.65 246.91V251.90M11.65 269.38V271.87M11.65 324.30V326.79M11.65 329.29V334.28M11.65 336.78V339.27M11.65 341.77V344.27M11.65 356.75V359.25M11.65 361.74V364.24M11.65 381.71V384.21M12.91 182.00V184.50M12.91 199.47V201.97M12.91 204.47V206.96M12.91 249.40V251.90M12.91 261.89V266.88M12.91 286.85V289.35M12.91 331.79V336.78M12.91 361.74V364.24M12.91 374.23V376.72M14.16 204.47V206.96M14.16 264.38V266.88M14.16 289.35V291.84M14.16 294.34V296.84M14.16 301.83V304.32M14.16 319.30V321.80M14.16 324.30V329.29M14.16 331.79V334.28M14.16 344.27V349.26M14.16 359.25V361.74M14.16 376.72V379.22M15.42 204.47V206.96M15.42 214.45V219.45M15.42 264.38V266.88M15.42 274.37V276.86M15.42 314.31V319.30M15.42 326.79V329.29M15.42 331.79V334.28M15.42 349.26V351.76M15.42 359.25V361.74M15.42 366.74V369.23M15.42 379.22V381.71M15.42 386.71V389.20M16.68 216.95V219.45M16.68 249.40V251.90M16.68 266.88V269.38M16.68 276.86V281.86M16.68 329.29V331.79M16.68 344.27V346.76M16.68 349.26V351.76M16.68 364.24V369.23M16.68 381.71V386.71M17.93 189.49V191.99M17.93 204.47V206.96M17.93 209.46V211.96M17.93 224.44V226.94M17.93 229.43V231.93M17.93 256.89V259.39M17.93 266.88V269.38M17.93 296.84V299.33M17.93 319.30V321.80M17.93 339.27V341.77M17.93 366.74V369.23M17.93 381.71V384.21M19.19 251.90V254.40M19.19 274.37V276.86M19.19 311.81V314.31M19.19 319.30V321.80M19.19 326.79V331.79M19.19 374.23V376.72M20.44 182.00V184.50M20.44 241.91V244.41M20.44 246.91V249.40M20.44 266.88V269.38M20.44 271.87V274.37M20.44 314.31V316.81M20.44 344.27V346.76M20.44 371.73V374.23M20.44 386.71V391.70M21.70 184.50V186.99M21.70 189.49V191.99M21.70 194.48V196.98M21.70 214.45V216.95M21.70 271.87V274.37M21.70 279.36V281.86M21.70 331.79V334.28M21.70 351.76V354.25M21.70 361.74V364.24M22.96 204.47V206.96M22.96 274.37V279.36M22.96 284.35V289.35M22.96 294.34V296.84M22.96 329.29V331.79M22.96 339.27V346.76M22.96 384.21V386.71M24.21 191.99V196.98M24.21 219.45V221.94M24.21 281.86V286.85M24.21 359.25V361.74M24.21 384.21V386.71M25.47 184.50V186.99M25.47 201.97V204.47M25.47 221.94V224.44M25.47 311.81V316.81M25.47 359.25V361.74M25.47 381.71V384.21M25.47 386.71V391.70M26.72 191.99V194.48M26.72 201.97V204.47M26.72 296.84V299.33M26.72 334.28V339.27M27.98 191.99V194.48M27.98 214.45V216.95M27.98 274.37V281.86M27.98 329.29V331.79M27.98 341.77V346.76M27.98 354.25V356.75M27.98 371.73V374.23M27.98 384.21V386.71M29.24 184.50V189.49M29.24 274.37V276.86M29.24 284.35V286.85M29.24 319.30V324.30M29.24 339.27V341.77M29.24 346.76V349.26M29.24 356.75V359.25M29.24 364.24V369.23M29.24 379.22V381.71M29.24 384.21V386.71M30.49 186.99V189.49M30.49 201.97V204.47M30.49 216.95V219.45M30.49 271.87V274.37M30.49 276.86V281.86M30.49 284.35V286.85M30.49 296.84V299.33M30.49 326.79V329.29M30.49 331.79V339.27M30.49 371.73V374.23M30.49 384.21V386.71M31.75 246.91V249.40M31.75 321.80V324.30M31.75 339.27V344.27M31.75 354.25V356.75M31.75 361.74V364.24M33.00 184.50V186.99M33.00 189.49V191.99M33.00 196.98V199.47M33.00 256.89V259.39M33.00 261.89V264.38M33.00 269.38V271.87M33.00 274.37V276.86M33.00 279.36V281.86M33.00 296.84V299.33M33.00 309.32V316.81M33.00 324.30V326.79M33.00 329.29V339.27M33.00 341.77V344.27M33.00 369.23V371.73M33.00 384.21V386.71M34.26 269.38V271.87M34.26 284.35V289.35M34.26 306.82V309.32M34.26 321.80V324.30M34.26 326.79V331.79M34.26 334.28V336.78M34.26 346.76V349.26M34.26 361.74V364.24M34.26 369.23V371.73M34.26 376.72V379.22M34.26 386.71V391.70M35.52 184.50V186.99M35.52 306.82V309.32M35.52 316.81V319.30M35.52 324.30V326.79M35.52 364.24V366.74M35.52 379.22V381.71M36.77 199.47V201.97M36.77 204.47V206.96M36.77 214.45V216.95M36.77 221.94V224.44M36.77 284.35V286.85M36.77 294.34V296.84M36.77 301.83V304.32M36.77 334.28V339.27M36.77 341.77V344.27M36.77 349.26V351.76M36.77 366.74V369.23M36.77 389.20V391.70M38.03 189.49V191.99M38.03 266.88V269.38M38.03 279.36V284.35M38.03 294.34V296.84M38.03 359.25V361.74M38.03 374.23V376.72M38.03 379.22V381.71M38.03 389.20V391.70M39.28 191.99V194.48M39.28 216.95V219.45M39.28 241.91V244.41M39.28 344.27V346.76M39.28 364.24V369.23M39.28 389.20V391.70M40.54 209.46V211.96M40.54 266.88V271.87M40.54 294.34V296.84M40.54 329.29V331.79M40.54 351.76V354.25M41.80 191.99V194.48M41.80 214.45V216.95M41.80 279.36V284.35M41.80 294.34V296.84M41.80 301.83V304.32M41.80 306.82V311.81M41.80 314.31V316.81M41.80 369.23V371.73M43.05 184.50V186.99M43.05 191.99V194.48M43.05 199.47V201.97M43.05 246.91V249.40M43.05 269.38V276.86M43.05 284.35V286.85M43.05 351.76V354.25M43.05 364.24V366.74M43.05 371.73V374.23M43.05 386.71V389.20M44.31 199.47V201.97M44.31 221.94V224.44M44.31 264.38V266.88M44.31 279.36V281.86M44.31 291.84V294.34M44.31 314.31V316.81M44.31 339.27V341.77M44.31 361.74V364.24M44.31 376.72V379.22M45.56 186.99V189.49M45.56 191.99V194.48M45.56 266.88V269.38M45.56 271.87V274.37M45.56 291.84V296.84M45.56 306.82V311.81M45.56 336.78V339.27M45.56 371.73V376.72M45.56 386.71V389.20M46.82 184.50V186.99M46.82 266.88V269.38M46.82 306.82V309.32M46.82 314.31V316.81M46.82 319.30V321.80M46.82 331.79V334.28M46.82 361.74V364.24M46.82 384.21V386.71M48.08 182.00V184.50M48.08 201.97V204.47M48.08 219.45V221.94M48.08 256.89V259.39M48.08 271.87V274.37M48.08 306.82V309.32M48.08 321.80V324.30M48.08 351.76V354.25M48.08 366.74V371.73M49.33 189.49V191.99M49.33 194.48V196.98M49.33 254.40V256.89M49.33 261.89V264.38M49.33 279.36V281.86M49.33 336.78V339.27M49.33 349.26V351.76M49.33 364.24V366.74M49.33 376.72V379.22M49.33 381.71V384.21M49.33 386.71V389.20M50.59 189.49V191.99M50.59 204.47V206.96M50.59 214.45V216.95M50.59 224.44V226.94M50.59 266.88V269.38M50.59 274.37V276.86M50.59 296.84V299.33M50.59 331.79V334.28M50.59 341.77V346.76M50.59 356.75V359.25M50.59 374.23V376.72M51.84 186.99V189.49M51.84 201.97V204.47M51.84 259.39V261.89M51.84 296.84V299.33M51.84 321.80V324.30M51.84 329.29V331.79M51.84 349.26V351.76M51.84 354.25V356.75M51.84 374.23V376.72M51.84 384.21V386.71M53.10 269.38V274.37M53.10 291.84V294.34M53.10 296.84V299.33M53.10 306.82V309.32M53.10 336.78V341.77M53.10 349.26V354.25M53.10 359.25V366.74M54.36 189.49V191.99M54.36 199.47V201.97M54.36 221.94V224.44M54.36 261.89V264.38M54.36 309.32V311.81M54.36 331.79V334.28M54.36 349.26V351.76M54.36 354.25V356.75M54.36 359.25V361.74M55.61 201.97V204.47M55.61 211.96V214.45M55.61 271.87V274.37M55.61 276.86V279.36M55.61 284.35V289.35M55.61 329.29V331.79M55.61 341.77V344.27M55.61 349.26V351.76M55.61 359.25V364.24M55.61 376.72V379.22M55.61 386.71V391.70M56.87 184.50V189.49M56.87 199.47V201.97M56.87 204.47V206.96M56.87 244.41V246.91M56.87 264.38V269.38M56.87 281.86V289.35M56.87 291.84V294.34M56.87 304.32V306.82M56.87 309.32V311.81M56.87 324.30V329.29M56.87 364.24V366.74M56.87 371.73V374.23M56.87 386.71V389.20M58.12 186.99V189.49M58.12 194.48V196.98M58.12 199.47V201.97M58.12 254.40V256.89M58.12 299.33V301.83M58.12 306.82V309.32M58.12 316.81V319.30M58.12 324.30V329.29M58.12 334.28V336.78M58.12 339.27V344.27M58.12 346.76V354.25M58.12 366.74V371.73M59.38 182.00V184.50M59.38 199.47V201.97M59.38 249.40V251.90M59.38 254.40V256.89M59.38 261.89V271.87M59.38 309.32V311.81M59.38 314.31V316.81M59.38 329.29V334.28M59.38 341.77V344.27M59.38 354.25V356.75M59.38 359.25V364.24M59.38 371.73V374.23M59.38 384.21V389.20M60.64 189.49V191.99M60.64 209.46V211.96M60.64 214.45V216.95M60.64 264.38V266.88M60.64 274.37V276.86M60.64 281.86V284.35M60.64 306.82V309.32M60.64 319.30V321.80M60.64 361.74V364.24M60.64 366.74V369.23M60.64 379.22V381.71M61.89 182.00V186.99M61.89 304.32V306.82M61.89 309.32V311.81M61.89 324.30V326.79M61.89 331.79V334.28M61.89 344.27V346.76M61.89 359.25V364.24M63.15 182.00V184.50M63.15 211.96V219.45M63.15 226.94V229.43M63.15 269.38V271.87M63.15 286.85V289.35M63.15 299.33V304.32M63.15 321.80V324.30M63.15 326.79V329.29M63.15 344.27V346.76M63.15 349.26V351.76M63.15 366.74V371.73M64.40 182.00V184.50M64.40 196.98V199.47M64.40 211.96V214.45M64.40 219.45V221.94M64.40 294.34V296.84M64.40 326.79V329.29M64.40 331.79V334.28M64.40 339.27V341.77M64.40 351.76V354.25M64.40 359.25V361.74M64.40 376.72V379.22M64.40 389.20V391.70M65.66 269.38V271.87M65.66 339.27V341.77M65.66 344.27V356.75M65.66 361.74V364.24M65.66 366.74V369.23M65.66 384.21V386.71M66.92 196.98V199.47M66.92 204.47V206.96M66.92 261.89V264.38M66.92 271.87V279.36M66.92 284.35V286.85M66.92 314.31V319.30M66.92 321.80V324.30M66.92 344.27V346.76M66.92 349.26V351.76M66.92 356.75V359.25M66.92 361.74V364.24M66.92 366.74V369.23M68.17 194.48V196.98M68.17 211.96V214.45M68.17 241.91V244.41M68.17 254.40V256.89M68.17 269.38V271.87M68.17 276.86V281.86M68.17 286.85V289.35M68.17 324.30V326.79M68.17 331.79V334.28M68.17 339.27V341.77M68.17 359.25V361.74M68.17 386.71V391.70M69.43 276.86V279.36M69.43 284.35V286.85M69.43 296.84V299.33M69.43 304.32V306.82M69.43 314.31V316.81M69.43 326.79V329.29M69.43 354.25V356.75M69.43 366.74V371.73M69.43 379.22V381.71M70.68 182.00V186.99M70.68 221.94V224.44M70.68 254.40V261.89M70.68 276.86V279.36M70.68 281.86V286.85M70.68 331.79V334.28M70.68 336.78V339.27M70.68 341.77V346.76M70.68 354.25V356.75M70.68 361.74V364.24M70.68 369.23V376.72M70.68 379.22V381.71M71.94 186.99V189.49M71.94 241.91V244.41M71.94 254.40V256.89M71.94 274.37V276.86M71.94 286.85V289.35M73.20 264.38V266.88M73.20 291.84V294.34M73.20 299.33V304.32M73.20 316.81V319.30M73.20 361.74V364.24M73.20 374.23V379.22M73.20 384.21V386.71M74.45 186.99V189.49M74.45 201.97V204.47M74.45 221.94V224.44M74.45 244.41V246.91M74.45 274.37V276.86M74.45 289.35V291.84M74.45 301.83V306.82M74.45 321.80V324.30M74.45 381.71V384.21M75.71 286.85V289.35M75.71 306.82V309.32M75.71 329.29V334.28M75.71 356.75V359.25M75.71 376.72V379.22M76.96 182.00V184.50M76.96 334.28V336.78M76.96 339.27V341.77M76.96 344.27V349.26M76.96 351.76V354.25M76.96 356.75V361.74M76.96 366.74V371.73M78.22 182.00V184.50M78.22 189.49V191.99M78.22 196.98V199.47M78.22 294.34V296.84M78.22 314.31V316.81M78.22 329.29V331.79M78.22 334.28V336.78M78.22 341.77V344.27M78.22 359.25V361.74M78.22 369.23V371.73M79.48 261.89V264.38M79.48 271.87V274.37M79.48 321.80V324.30M79.48 356.75V359.25M79.48 361.74V366.74M80.73 189.49V191.99M80.73 206.96V209.46M80.73 274.37V276.86M80.73 306.82V309.32M80.73 316.81V319.30M80.73 331.79V334.28M80.73 349.26V351.76M81.99 186.99V189.49M81.99 219.45V221.94M81.99 259.39V261.89M81.99 269.38V271.87M81.99 316.81V319.30M81.99 336.78V339.27M81.99 344.27V346.76M81.99 349.26V354.25M81.99 356.75V359.25M81.99 389.20V391.70M83.24 184.50V186.99M83.24 201.97V206.96M83.24 224.44V226.94M83.24 294.34V296.84M83.24 306.82V309.32M83.24 321.80V324.30M83.24 339.27V344.27M83.24 346.76V351.76M83.24 356.75V359.25M83.24 366.74V369.23M83.24 389.20V391.70M84.50 189.49V194.48M84.50 211.96V214.45M84.50 274.37V276.86M84.50 296.84V299.33M84.50 306.82V309.32M84.50 329.29V331.79M84.50 334.28V336.78M84.50 351.76V354.25M84.50 356.75V359.25M85.76 186.99V189.49M85.76 241.91V244.41M85.76 266.88V269.38M85.76 286.85V289.35M85.76 321.80V324.30M85.76 344.27V346.76M85.76 374.23V376.72M85.76 379.22V381.71M85.76 389.20V391.70M87.01 224.44V226.94M87.01 246.91V249.40M87.01 306.82V309.32M87.01 314.31V316.81M87.01 336.78V339.27M87.01 346.76V349.26M87.01 351.76V354.25M88.27 196.98V199.47M88.27 216.95V219.45M88.27 246.91V249.40M88.27 254.40V256.89M88.27 276.86V279.36M88.27 314.31V316.81M88.27 321.80V324.30M88.27 366.74V369.23M88.27 386.71V389.20M89.52 189.49V191.99M89.52 214.45V216.95M89.52 241.91V244.41M89.52 309.32V311.81M89.52 314.31V316.81M89.52 319.30V321.80M89.52 326.79V329.29M89.52 336.78V339.27M89.52 354.25V356.75M89.52 366.74V369.23M89.52 376.72V381.71M89.52 384.21V386.71M90.78 189.49V191.99M90.78 199.47V201.97M90.78 224.44V226.94M90.78 309.32V314.31M90.78 316.81V319.30M90.78 359.25V364.24M90.78 366.74V369.23M90.78 376.72V379.22M90.78 384.21V386.71M92.04 214.45V216.95M92.04 264.38V266.88M92.04 271.87V274.37M92.04 281.86V284.35M92.04 286.85V289.35M92.04 296.84V299.33M92.04 321.80V324.30M92.04 339.27V341.77M92.04 361.74V364.24M92.04 379.22V381.71M93.29 182.00V184.50M93.29 186.99V191.99M93.29 201.97V206.96M93.29 274.37V276.86M93.29 279.36V281.86M93.29 334.28V336.78M93.29 344.27V346.76M93.29 364.24V366.74M93.29 369.23V371.73M93.29 376.72V379.22M93.29 384.21V386.71M94.55 184.50V186.99M94.55 216.95V219.45M94.55 221.94V224.44M94.55 254.40V256.89M94.55 269.38V271.87M94.55 294.34V296.84M94.55 304.32V306.82M94.55 309.32V311.81M94.55 326.79V329.29M94.55 336.78V341.77M94.55 366.74V369.23M94.55 376.72V379.22M94.55 386.71V391.70M95.80 206.96V209.46M95.80 244.41V246.91M95.80 259.39V261.89M95.80 356.75V364.24M95.80 376.72V379.22M97.06 182.00V184.50M97.06 191.99V194.48M97.06 211.96V216.95M97.06 219.45V221.94M97.06 264.38V266.88M97.06 284.35V289.35M97.06 296.84V299.33M97.06 301.83V304.32M97.06 316.81V319.30M97.06 321.80V324.30M97.06 344.27V351.76M97.06 354.25V356.75M97.06 389.20V391.70M98.32 182.00V184.50M98.32 214.45V216.95M98.32 246.91V249.40M98.32 251.90V254.40M98.32 259.39V261.89M98.32 266.88V269.38M98.32 276.86V284.35M98.32 301.83V304.32M98.32 316.81V319.30M98.32 331.79V334.28M98.32 344.27V351.76M98.32 354.25V356.75M98.32 369.23V371.73M98.32 376.72V379.22M98.32 386.71V389.20M99.57 224.44V226.94M99.57 294.34V296.84M99.57 301.83V304.32M99.57 354.25V356.75M99.57 359.25V361.74M99.57 376.72V379.22M99.57 386.71V389.20M100.83 204.47V209.46M100.83 219.45V221.94M100.83 279.36V281.86M100.83 284.35V294.34M100.83 311.81V314.31M100.83 376.72V379.22M102.08 184.50V186.99M102.08 219.45V221.94M102.08 254.40V256.89M102.08 269.38V271.87M102.08 306.82V309.32M102.08 314.31V316.81M102.08 326.79V329.29M102.08 336.78V339.27M102.08 359.25V361.74M102.08 366.74V369.23M102.08 386.71V389.20M103.34 189.49V191.99M103.34 196.98V199.47M103.34 251.90V254.40M103.34 264.38V276.86M103.34 294.34V299.33M103.34 324.30V326.79M103.34 344.27V346.76M103.34 379.22V381.71M104.60 184.50V186.99M104.60 204.47V206.96M104.60 214.45V216.95M104.60 251.90V254.40M104.60 264.38V266.88M104.60 301.83V304.32M104.60 314.31V319.30M104.60 321.80V324.30M104.60 341.77V344.27M104.60 346.76V349.26M104.60 356.75V359.25M105.85 182.00V184.50M105.85 201.97V204.47M105.85 214.45V216.95M105.85 241.91V244.41M105.85 271.87V274.37M105.85 276.86V279.36M105.85 284.35V289.35M105.85 296.84V299.33M105.85 301.83V304.32M105.85 324.30V331.79M105.85 336.78V339.27M107.11 186.99V189.49M107.11 196.98V199.47M107.11 316.81V319.30M107.11 356.75V359.25M108.36 182.00V184.50M108.36 189.49V194.48M108.36 234.43V236.92M108.36 251.90V256.89M108.36 321.80V324.30M108.36 329.29V334.28M108.36 351.76V354.25M108.36 376.72V379.22M108.36 386.71V389.20M109.62 184.50V191.99M109.62 196.98V199.47M109.62 211.96V216.95M109.62 226.94V229.43M109.62 234.43V236.92M109.62 239.42V244.41M109.62 251.90V254.40M109.62 261.89V264.38M109.62 271.87V274.37M109.62 314.31V316.81M109.62 331.79V334.28M109.62 339.27V341.77M109.62 346.76V354.25M109.62 366.74V369.23M109.62 376.72V379.22M110.88 189.49V191.99M110.88 199.47V201.97M110.88 209.46V211.96M110.88 231.93V234.43M110.88 236.92V239.42M110.88 269.38V271.87M110.88 276.86V279.36M110.88 281.86V286.85M110.88 289.35V291.84M110.88 294.34V296.84M110.88 329.29V331.79M110.88 336.78V339.27M110.88 341.77V344.27M110.88 351.76V354.25M110.88 361.74V364.24M110.88 374.23V379.22M110.88 384.21V386.71M112.13 219.45V221.94M112.13 234.43V236.92M112.13 244.41V246.91M112.13 251.90V254.40M112.13 274.37V276.86M112.13 294.34V299.33M112.13 334.28V336.78M112.13 354.25V356.75M112.13 359.25V361.74M112.13 386.71V389.20M113.39 234.43V239.42M113.39 251.90V254.40M113.39 256.89V259.39M113.39 264.38V266.88M113.39 281.86V284.35M113.39 326.79V329.29M113.39 336.78V339.27M114.64 186.99V189.49M114.64 194.48V196.98M114.64 204.47V209.46M114.64 221.94V224.44M114.64 226.94V229.43M114.64 231.93V234.43M114.64 244.41V246.91M114.64 264.38V269.38M114.64 279.36V281.86M114.64 306.82V309.32M114.64 316.81V319.30M114.64 326.79V329.29M114.64 331.79V334.28M114.64 359.25V361.74M115.90 182.00V184.50M115.90 224.44V226.94M115.90 231.93V236.92M115.90 246.91V249.40M115.90 251.90V254.40M115.90 271.87V274.37M115.90 284.35V286.85M115.90 349.26V351.76M115.90 371.73V374.23M115.90 386.71V389.20M117.16 194.48V199.47M117.16 214.45V221.94M117.16 226.94V229.43M117.16 244.41V246.91M117.16 266.88V269.38M117.16 271.87V274.37M117.16 284.35V286.85M117.16 296.84V299.33M117.16 354.25V356.75M117.16 359.25V361.74M117.16 364.24V366.74M118.41 196.98V201.97M118.41 214.45V216.95M118.41 219.45V221.94M118.41 231.93V236.92M118.41 259.39V261.89M118.41 284.35V286.85M118.41 349.26V356.75M119.67 186.99V191.99M119.67 226.94V229.43M119.67 256.89V259.39M119.67 266.88V269.38M119.67 271.87V274.37M119.67 276.86V279.36M119.67 281.86V284.35M119.67 286.85V289.35M119.67 299.33V301.83M119.67 306.82V309.32M119.67 321.80V324.30M119.67 331.79V334.28M119.67 344.27V346.76M119.67 366.74V369.23M119.67 386.71V389.20M120.92 309.32V311.81M120.92 356.75V364.24M122.18 214.45V216.95M122.18 231.93V234.43M122.18 309.32V316.81M122.18 321.80V326.79M122.18 356.75V361.74M122.18 366.74V369.23M123.44 196.98V199.47M123.44 206.96V209.46M123.44 224.44V226.94M123.44 256.89V259.39M123.44 261.89V264.38M123.44 311.81V314.31M123.44 316.81V319.30M123.44 321.80V324.30M123.44 326.79V331.79M123.44 344.27V346.76M123.44 351.76V354.25M123.44 359.25V361.74M123.44 366.74V369.23M123.44 371.73V374.23M123.44 389.20V391.70M124.69 194.48V196.98M124.69 199.47V201.97M124.69 204.47V206.96M124.69 259.39V261.89M124.69 296.84V299.33M124.69 301.83V304.32M124.69 311.81V316.81M124.69 359.25V361.74M124.69 364.24V366.74M124.69 381.71V384.21M124.69 386.71V389.20M125.95 189.49V196.98M125.95 199.47V201.97M125.95 206.96V209.46M125.95 251.90V254.40M125.95 271.87V274.37M125.95 286.85V289.35M125.95 356.75V359.25M125.95 386.71V391.70M127.20 182.00V184.50M127.20 189.49V196.98M127.20 199.47V201.97M127.20 231.93V236.92M127.20 239.42V241.91M127.20 251.90V254.40M127.20 286.85V289.35M127.20 296.84V299.33M127.20 351.76V354.25M128.46 199.47V201.97M128.46 221.94V224.44M128.46 226.94V229.43M128.46 259.39V261.89M128.46 309.32V311.81M128.46 319.30V321.80M128.46 324.30V326.79M128.46 359.25V364.24M128.46 366.74V374.23M128.46 379.22V381.71M129.72 201.97V204.47M129.72 214.45V219.45M129.72 221.94V229.43M129.72 264.38V266.88M129.72 269.38V271.87M129.72 276.86V279.36M129.72 349.26V356.75M129.72 371.73V374.23M130.97 182.00V184.50M130.97 204.47V206.96M130.97 214.45V216.95M130.97 256.89V259.39M130.97 336.78V339.27M130.97 346.76V349.26M130.97 354.25V356.75M130.97 364.24V366.74M130.97 389.20V391.70M132.23 194.48V199.47M132.23 216.95V219.45M132.23 241.91V244.41M132.23 274.37V276.86M132.23 286.85V289.35M132.23 329.29V331.79M132.23 349.26V351.76M132.23 364.24V366.74M133.48 201.97V204.47M133.48 249.40V251.90M133.48 259.39V261.89M133.48 329.29V331.79M133.48 334.28V336.78M133.48 341.77V346.76M133.48 351.76V354.25M133.48 369.23V371.73M134.74 186.99V189.49M134.74 214.45V216.95M134.74 221.94V226.94M134.74 236.92V241.91M134.74 256.89V259.39M134.74 274.37V276.86M134.74 279.36V281.86M134.74 284.35V289.35M134.74 301.83V304.32M134.74 306.82V309.32M134.74 339.27V341.77M134.74 354.25V356.75M134.74 361.74V364.24M134.74 376.72V379.22M134.74 381.71V384.21M136.00 244.41V249.40M136.00 261.89V264.38M136.00 331.79V334.28M136.00 336.78V339.27M136.00 356.75V361.74M137.25 191.99V194.48M137.25 209.46V211.96M137.25 214.45V216.95M137.25 224.44V226.94M137.25 239.42V241.91M137.25 246.91V249.40M137.25 254.40V256.89M137.25 269.38V271.87M137.25 274.37V276.86M137.25 281.86V284.35M137.25 289.35V291.84M137.25 304.32V306.82M137.25 329.29V331.79M137.25 344.27V346.76M137.25 354.25V356.75M137.25 364.24V366.74M137.25 374.23V376.72M137.25 389.20V391.70M138.51 186.99V189.49M138.51 196.98V199.47M138.51 234.43V236.92M138.51 246.91V249.40M138.51 254.40V256.89M138.51 301.83V306.82M138.51 364.24V366.74M138.51 369.23V371.73M139.76 186.99V189.49M139.76 194.48V201.97M139.76 204.47V206.96M139.76 211.96V214.45M139.76 216.95V219.45M139.76 226.94V229.43M139.76 231.93V234.43M139.76 239.42V241.91M139.76 261.89V264.38M139.76 301.83V304.32M139.76 369.23V371.73M139.76 376.72V379.22M141.02 199.47V201.97M141.02 209.46V211.96M141.02 234.43V239.42M141.02 256.89V259.39M141.02 304.32V306.82M142.28 211.96V214.45M142.28 219.45V224.44M142.28 234.43V236.92M142.28 239.42V241.91M142.28 246.91V249.40M142.28 256.89V259.39M142.28 349.26V351.76M142.28 381.71V384.21M142.28 386.71V389.20M143.53 219.45V224.44M143.53 231.93V234.43M143.53 244.41V246.91M143.53 301.83V306.82M144.79 196.98V199.47M144.79 214.45V216.95M144.79 219.45V224.44M144.79 234.43V236.92M144.79 304.32V306.82M144.79 344.27V346.76M144.79 356.75V359.25M146.04 199.47V204.47M146.04 206.96V209.46M146.04 231.93V234.43M146.04 246.91V249.40M146.04 254.40V256.89M146.04 376.72V379.22M146.04 386.71V389.20M147.30 214.45V216.95M147.30 221.94V224.44M147.30 244.41V246.91M147.30 249.40V251.90M147.30 254.40V256.89M147.30 261.89V264.38M147.30 301.83V304.32M147.30 364.24V366.74M147.30 386.71V389.20M148.56 196.98V199.47M148.56 206.96V211.96M148.56 226.94V229.43M148.56 251.90V256.89M148.56 304.32V306.82M148.56 341.77V344.27M149.81 199.47V201.97M149.81 209.46V211.96M149.81 229.43V231.93M149.81 236.92V239.42M149.81 246.91V249.40M149.81 254.40V256.89M149.81 261.89V264.38M149.81 389.20V391.70M151.07 221.94V224.44M151.07 229.43V231.93M151.07 236.92V239.42M151.07 246.91V249.40M151.07 251.90V254.40M152.32 231.93V239.42M152.32 246.91V251.90M152.32 304.32V306.82M152.32 361.74V364.24M153.58 196.98V199.47M153.58 211.96V214.45M153.58 219.45V221.94M153.58 231.93V234.43M153.58 239.42V241.91M153.58 254.40V256.89M153.58 276.86V279.36M153.58 304.32V306.82M154.84 214.45V216.95M154.84 221.94V226.94M154.84 236.92V246.91M154.84 251.90V254.40M154.84 256.89V259.39M154.84 261.89V264.38M154.84 384.21V389.20M156.09 206.96V209.46M156.09 216.95V221.94M156.09 226.94V229.43M156.09 231.93V234.43M156.09 241.91V244.41M157.35 249.40V254.40M157.35 291.84V294.34M157.35 301.83V304.32M157.35 386.71V389.20M158.60 199.47V201.97M158.60 204.47V206.96M158.60 214.45V216.95M158.60 224.44V229.43M158.60 236.92V239.42M158.60 251.90V254.40M158.60 304.32V306.82M158.60 346.76V349.26M159.86 204.47V206.96M159.86 239.42V241.91M159.86 256.89V261.89M159.86 301.83V304.32M159.86 374.23V376.72M161.12 194.48V196.98M161.12 216.95V219.45M161.12 221.94V224.44M161.12 239.42V241.91M161.12 254.40V256.89M161.12 261.89V264.38M161.12 304.32V306.82M161.12 314.31V316.81M161.12 324.30V326.79M161.12 334.28V339.27M161.12 374.23V376.72M162.37 206.96V209.46M162.37 224.44V226.94M162.37 236.92V239.42M162.37 254.40V256.89M162.37 261.89V264.38M162.37 304.32V306.82M163.63 196.98V204.47M163.63 206.96V209.46M163.63 211.96V214.45M163.63 224.44V226.94M163.63 231.93V234.43M163.63 236.92V239.42M163.63 259.39V261.89M163.63 304.32V306.82M163.63 364.24V366.74M164.88 251.90V256.89M164.88 264.38V266.88M164.88 374.23V381.71M166.14 219.45V221.94M166.14 256.89V259.39M166.14 371.73V374.23M166.14 384.21V386.71M167.40 184.50V186.99M167.40 194.48V196.98M167.40 206.96V211.96M167.40 236.92V239.42M167.40 246.91V249.40M167.40 254.40V259.39M167.40 261.89V264.38M168.65 206.96V209.46M168.65 219.45V221.94M168.65 229.43V234.43M168.65 239.42V241.91M168.65 246.91V249.40M168.65 251.90V254.40M168.65 376.72V379.22M169.91 199.47V201.97M169.91 216.95V219.45M169.91 234.43V236.92M169.91 244.41V246.91M169.91 261.89V266.88M169.91 304.32V306.82M169.91 341.77V344.27M169.91 364.24V366.74M171.16 196.98V204.47M171.16 209.46V214.45M171.16 254.40V259.39M172.42 214.45V216.95M172.42 224.44V226.94M172.42 239.42V241.91M172.42 254.40V259.39M172.42 341.77V351.76M172.42 374.23V376.72M173.68 196.98V199.47M173.68 221.94V226.94M173.68 236.92V239.42M173.68 284.35V286.85M173.68 389.20V391.70M174.93 211.96V216.95M174.93 254.40V256.89M174.93 259.39V261.89M174.93 264.38V266.88M176.19 194.48V196.98M176.19 211.96V214.45M176.19 231.93V234.43M176.19 236.92V239.42M176.19 304.32V306.82M176.19 366.74V369.23M176.19 384.21V386.71M177.44 216.95V219.45M177.44 241.91V244.41M177.44 256.89V261.89M177.44 311.81V314.31M177.44 316.81V319.30M177.44 329.29V331.79M177.44 336.78V339.27M177.44 384.21V386.71M178.70 219.45V221.94M178.70 246.91V249.40M178.70 251.90V254.40M178.70 259.39V261.89M179.96 194.48V196.98M179.96 231.93V234.43M179.96 239.42V241.91M179.96 259.39V266.88M179.96 304.32V306.82M179.96 344.27V346.76M179.96 374.23V376.72M179.96 381.71V384.21M181.21 182.00V184.50M181.21 216.95V219.45M181.21 224.44V226.94M181.21 229.43V231.93M181.21 234.43V236.92M181.21 254.40V256.89M181.21 259.39V261.89M182.47 194.48V196.98M182.47 229.43V231.93M182.47 236.92V239.42M183.72 211.96V214.45M183.72 216.95V219.45M183.72 229.43V231.93M183.72 239.42V241.91M184.98 214.45V216.95M184.98 239.42V241.91M184.98 246.91V249.40M184.98 251.90V254.40M184.98 256.89V259.39M184.98 261.89V264.38M184.98 364.24V366.74M184.98 381.71V384.21M186.24 201.97V204.47M186.24 229.43V234.43M186.24 266.88V271.87M186.24 276.86V281.86M186.24 304.32V306.82M186.24 344.27V346.76M186.24 374.23V376.72M187.49 211.96V214.45M187.49 219.45V221.94M187.49 226.94V229.43M187.49 234.43V236.92M187.49 251.90V256.89M187.49 261.89V264.38M187.49 304.32V306.82M188.75 206.96V209.46M188.75 214.45V216.95M188.75 251.90V254.40M188.75 301.83V306.82M190.00 219.45V221.94M190.00 224.44V226.94M190.00 234.43V236.92M190.00 246.91V254.40M191.26 209.46V211.96M191.26 221.94V224.44M191.26 226.94V229.43M191.26 254.40V256.89M191.26 261.89V264.38M191.26 309.32V311.81M191.26 334.28V336.78M191.26 341.77V344.27M191.26 376.72V379.22M191.26 384.21V389.20M192.52 209.46V216.95M192.52 219.45V221.94M192.52 244.41V246.91M192.52 361.74V364.24M192.52 374.23V376.72M192.52 389.20V391.70M193.77 224.44V226.94M193.77 231.93V234.43M193.77 236.92V239.42M193.77 254.40V256.89M193.77 316.81V319.30M195.03 199.47V201.97M195.03 246.91V249.40M195.03 254.40V259.39M195.03 264.38V266.88M195.03 304.32V306.82M195.03 366.74V369.23M195.03 374.23V376.72M195.03 381.71V384.21M196.28 196.98V199.47M196.28 224.44V226.94M196.28 229.43V231.93M196.28 234.43V241.91M196.28 254.40V256.89M196.28 301.83V306.82M197.54 196.98V199.47M197.54 209.46V211.96M197.54 221.94V226.94M197.54 239.42V241.91M197.54 246.91V251.90M197.54 256.89V259.39M197.54 281.86V284.35M197.54 289.35V291.84M197.54 366.74V369.23M197.54 381.71V384.21M198.80 196.98V199.47M198.80 211.96V216.95M198.80 234.43V239.42M198.80 246.91V249.40M198.80 251.90V254.40M198.80 266.88V269.38M198.80 301.83V306.82M200.05 211.96V214.45M200.05 216.95V219.45M200.05 221.94V224.44M200.05 226.94V229.43M200.05 231.93V234.43M200.05 246.91V249.40M200.05 256.89V259.39M200.05 304.32V306.82M200.05 351.76V354.25M200.05 374.23V376.72M201.31 206.96V209.46M201.31 214.45V221.94M201.31 236.92V241.91M201.31 259.39V264.38M201.31 271.87V276.86M201.31 296.84V299.33M201.31 371.73V374.23M202.56 182.00V184.50M202.56 201.97V209.46M202.56 214.45V216.95M202.56 229.43V231.93M202.56 234.43V239.42M202.56 254.40V256.89M202.56 284.35V286.85M202.56 376.72V379.22M202.56 389.20V391.70M203.82 199.47V201.97M203.82 221.94V224.44M203.82 231.93V234.43M203.82 239.42V241.91M203.82 254.40V256.89M203.82 301.83V304.32M203.82 361.74V364.24M203.82 374.23V376.72M203.82 386.71V389.20M205.08 191.99V194.48M205.08 209.46V211.96M205.08 224.44V226.94M205.08 239.42V241.91M205.08 249.40V251.90M205.08 301.83V306.82M205.08 364.24V366.74M205.08 376.72V384.21M206.33 209.46V211.96M206.33 214.45V216.95M206.33 241.91V244.41M206.33 344.27V346.76M207.59 214.45V216.95M207.59 221.94V224.44M207.59 236.92V239.42M207.59 244.41V246.91M207.59 251.90V254.40M208.84 191.99V196.98M208.84 206.96V211.96M208.84 214.45V216.95M208.84 224.44V226.94M208.84 231.93V234.43M208.84 259.39V261.89M208.84 344.27V346.76M210.10 196.98V199.47M210.10 219.45V221.94M210.10 224.44V226.94M210.10 229.43V231.93M210.10 249.40V251.90M210.10 259.39V261.89M210.10 264.38V266.88M210.10 374.23V376.72M211.36 199.47V201.97M211.36 206.96V209.46M211.36 221.94V226.94M211.36 239.42V241.91M211.36 251.90V254.40M211.36 264.38V266.88M211.36 274.37V276.86M211.36 304.32V306.82M211.36 366.74V371.73M211.36 384.21V386.71M212.61 196.98V199.47M212.61 214.45V216.95M212.61 229.43V231.93M212.61 239.42V241.91M212.61 249.40V251.90M212.61 259.39V261.89M212.61 301.83V304.32M213.87 201.97V204.47M213.87 206.96V209.46M213.87 214.45V216.95M213.87 229.43V234.43M213.87 304.32V306.82M213.87 361.74V364.24M215.12 211.96V216.95M215.12 221.94V226.94M215.12 231.93V234.43M215.12 236.92V239.42M215.12 244.41V246.91M215.12 254.40V259.39M215.12 261.89V264.38M215.12 266.88V269.38M215.12 374.23V376.72M215.12 381.71V384.21M216.38 226.94V229.43M216.38 256.89V264.38M216.38 304.32V306.82M217.64 199.47V201.97M217.64 216.95V219.45M217.64 249.40V254.40M217.64 256.89V259.39M217.64 301.83V306.82M217.64 364.24V369.23M217.64 386.71V389.20M218.89 189.49V191.99M218.89 194.48V196.98M218.89 211.96V214.45M218.89 219.45V221.94M218.89 224.44V226.94M218.89 236.92V239.42M218.89 261.89V264.38M218.89 266.88V271.87M218.89 281.86V284.35M218.89 289.35V291.84M220.15 186.99V189.49M220.15 221.94V226.94M220.15 236.92V239.42M220.15 241.91V244.41M220.15 254.40V256.89M220.15 261.89V264.38M220.15 324.30V326.79M220.15 374.23V379.22M220.15 381.71V384.21M221.40 216.95V219.45M221.40 221.94V224.44M221.40 226.94V231.93M221.40 234.43V236.92M221.40 244.41V251.90M221.40 254.40V256.89M221.40 361.74V364.24M221.40 381.71V384.21M222.66 199.47V201.97M222.66 209.46V214.45M222.66 216.95V219.45M222.66 231.93V234.43M222.66 239.42V241.91M222.66 256.89V261.89M222.66 284.35V286.85M222.66 366.74V369.23M222.66 376.72V379.22M223.92 214.45V216.95M223.92 234.43V236.92M223.92 241.91V244.41M223.92 254.40V256.89M223.92 261.89V264.38M225.17 204.47V206.96M225.17 209.46V211.96M225.17 214.45V216.95M225.17 236.92V241.91M225.17 264.38V266.88M225.17 296.84V299.33M225.17 304.32V306.82M225.17 324.30V326.79M225.17 379.22V381.71M226.43 196.98V199.47M226.43 211.96V214.45M226.43 221.94V224.44M226.43 239.42V241.91M226.43 244.41V246.91M226.43 254.40V261.89M226.43 304.32V306.82M227.68 186.99V189.49M227.68 196.98V199.47M227.68 219.45V226.94M227.68 229.43V231.93M227.68 236.92V241.91M227.68 269.38V271.87M227.68 301.83V304.32M227.68 364.24V366.74M227.68 374.23V376.72M228.94 199.47V201.97M228.94 214.45V216.95M228.94 219.45V221.94M228.94 226.94V229.43M228.94 246.91V249.40M228.94 256.89V259.39M228.94 261.89V264.38M228.94 301.83V304.32M228.94 381.71V384.21M228.94 386.71V391.70M230.20 219.45V221.94M230.20 259.39V264.38M230.20 301.83V304.32M230.20 356.75V359.25M231.45 194.48V196.98M231.45 254.40V256.89M231.45 301.83V306.82M231.45 319.30V321.80M231.45 326.79V329.29M231.45 336.78V339.27M231.45 341.77V344.27M231.45 346.76V349.26M232.71 199.47V201.97M232.71 224.44V226.94M232.71 246.91V249.40M232.71 256.89V259.39M232.71 304.32V306.82M232.71 369.23V371.73M232.71 386.71V389.20M233.96 224.44V226.94M233.96 229.43V231.93M233.96 236.92V241.91M233.96 244.41V246.91M233.96 254.40V256.89M233.96 271.87V274.37M233.96 304.32V306.82M233.96 376.72V379.22M235.22 204.47V209.46M235.22 214.45V216.95M235.22 256.89V259.39M235.22 301.83V304.32M235.22 389.20V391.70M236.48 196.98V199.47M236.48 214.45V219.45M236.48 236.92V241.91M236.48 251.90V254.40M236.48 259.39V264.38M236.48 301.83V304.32M236.48 361.74V364.24M237.73 199.47V201.97M237.73 236.92V241.91M238.99 224.44V226.94M238.99 239.42V241.91M240.24 216.95V219.45M240.24 221.94V224.44M240.24 239.42V241.91M240.24 256.89V261.89M240.24 304.32V306.82M241.50 209.46V211.96M241.50 231.93V234.43M241.50 236.92V239.42M241.50 314.31V316.81M241.50 376.72V379.22M242.76 194.48V199.47M242.76 211.96V219.45M242.76 241.91V244.41M242.76 246.91V249.40M242.76 254.40V256.89M242.76 264.38V266.88M242.76 301.83V304.32M244.01 182.00V184.50M244.01 209.46V211.96M244.01 221.94V224.44M244.01 246.91V251.90M244.01 301.83V304.32M244.01 314.31V316.81M244.01 379.22V381.71M244.01 386.71V389.20M245.27 231.93V234.43M245.27 241.91V244.41M245.27 246.91V251.90M245.27 264.38V266.88M245.27 304.32V306.82M245.27 341.77V344.27M245.27 389.20V391.70M246.52 214.45V216.95M246.52 219.45V221.94M246.52 226.94V231.93M246.52 249.40V251.90M246.52 259.39V261.89M246.52 281.86V284.35M246.52 389.20V391.70M247.78 194.48V196.98M247.78 206.96V209.46M247.78 216.95V219.45M247.78 236.92V239.42M247.78 246.91V249.40M247.78 251.90V254.40M247.78 264.38V266.88M247.78 351.76V354.25M247.78 366.74V369.23M247.78 381.71V384.21M249.04 199.47V201.97M249.04 211.96V216.95M249.04 224.44V229.43M249.04 251.90V254.40M249.04 259.39V261.89M249.04 284.35V286.85M249.04 304.32V306.82M249.04 381.71V384.21M250.29 201.97V204.47M250.29 214.45V219.45M250.29 221.94V226.94M250.29 244.41V246.91M250.29 251.90V254.40M250.29 284.35V286.85M250.29 304.32V306.82M250.29 364.24V366.74M251.55 194.48V196.98M251.55 211.96V214.45M251.55 224.44V229.43M251.55 236.92V239.42M251.55 304.32V306.82M252.80 214.45V216.95M252.80 231.93V234.43M252.80 246.91V249.40M252.80 361.74V366.74M252.80 376.72V379.22M252.80 381.71V384.21M254.06 199.47V201.97M254.06 204.47V206.96M254.06 211.96V214.45M254.06 216.95V219.45M254.06 246.91V249.40M254.06 251.90V256.89M254.06 259.39V261.89M254.06 304.32V306.82M255.32 196.98V199.47M255.32 214.45V216.95M255.32 219.45V221.94M255.32 234.43V236.92M255.32 246.91V249.40M255.32 374.23V376.72M256.57 186.99V189.49M256.57 191.99V194.48M256.57 199.47V201.97M256.57 214.45V219.45M256.57 224.44V226.94M256.57 229.43V231.93M256.57 236.92V239.42M256.57 246.91V249.40M256.57 259.39V261.89M256.57 304.32V306.82"/>
<path stroke="#bfbfff" stroke-width="1.306" d="M6.63 214.45V216.95M6.63 281.86V284.35M6.63 306.82V311.81M6.63 314.31V316.81M6.63 369.23V371.73M7.88 196.98V199.47M7.88 254.40V256.89M7.88 271.87V274.37M7.88 294.34V296.84M7.88 351.76V354.25M7.88 359.25V361.74M9.14 216.95V219.45M9.14 264.38V266.88M9.14 289.35V291.84M9.14 331.79V334.28M9.14 336.78V339.27M9.14 349.26V351.76M9.14 381.71V384.21M10.40 191.99V194.48M10.40 251.90V254.40M10.40 256.89V259.39M10.40 296.84V299.33M10.40 309.32V311.81M10.40 336.78V339.27M10.40 346.76V354.25M10.40 356.75V359.25M10.40 361.74V364.24M10.40 376.72V379.22M11.65 189.49V191.99M11.65 194.48V196.98M11.65 311.81V314.31M11.65 349.26V351.76M11.65 389.20V391.70M12.91 184.50V186.99M12.91 191.99V194.48M12.91 201.97V204.47M12.91 254.40V256.89M12.91 274.37V276.86M12.91 279.36V281.86M12.91 351.76V354.25M12.91 356.75V361.74M12.91 379.22V381.71M14.16 221.94V224.44M14.16 249.40V251.90M14.16 256.89V259.39M14.16 261.89V264.38M14.16 266.88V274.37M14.16 276.86V279.36M14.16 281.86V284.35M14.16 286.85V289.35M14.16 306.82V309.32M14.16 349.26V351.76M15.42 244.41V246.91M15.42 261.89V264.38M15.42 266.88V269.38M15.42 279.36V281.86M15.42 286.85V289.35M15.42 291.84V294.34M15.42 334.28V336.78M15.42 339.27V341.77M15.42 361.74V364.24M15.42 381.71V384.21M16.68 206.96V211.96M16.68 224.44V226.94M16.68 251.90V254.40M16.68 274.37V276.86M17.93 184.50V186.99M17.93 246.91V249.40M17.93 306.82V309.32M17.93 314.31V316.81M17.93 326.79V329.29M17.93 331.79V334.28M17.93 336.78V339.27M17.93 341.77V344.27M17.93 351.76V354.25M17.93 361.74V364.24M19.19 191.99V194.48M19.19 244.41V249.40M19.19 266.88V269.38M19.19 279.36V281.86M19.19 284.35V289.35M19.19 296.84V301.83M19.19 321.80V324.30M19.19 331.79V334.28M19.19 364.24V369.23M20.44 214.45V216.95M21.70 204.47V206.96M21.70 254.40V256.89M21.70 266.88V269.38M21.70 281.86V284.35M21.70 301.83V304.32M21.70 344.27V346.76M21.70 349.26V351.76M21.70 374.23V376.72M22.96 214.45V216.95M22.96 221.94V224.44M22.96 271.87V274.37M22.96 281.86V284.35M22.96 334.28V336.78M22.96 349.26V351.76M22.96 356.75V359.25M22.96 361.74V364.24M22.96 371.73V376.72M22.96 379.22V384.21M24.21 206.96V209.46M24.21 241.91V244.41M24.21 266.88V269.38M24.21 274.37V276.86M24.21 301.83V304.32M25.47 189.49V191.99M25.47 204.47V206.96M25.47 214.45V216.95M25.47 236.92V239.42M25.47 269.38V271.87M25.47 274.37V276.86M25.47 279.36V281.86M25.47 296.84V299.33M25.47 309.32V311.81M25.47 319.30V321.80M26.72 221.94V224.44M26.72 314.31V316.81M26.72 324.30V326.79M26.72 346.76V349.26M26.72 356.75V359.25M26.72 361.74V364.24M26.72 366.74V369.23M26.72 371.73V374.23M27.98 204.47V206.96M27.98 211.96V214.45M27.98 289.35V291.84M27.98 364.24V366.74M29.24 199.47V201.97M29.24 204.47V206.96M29.24 211.96V214.45M29.24 244.41V249.40M29.24 276.86V279.36M29.24 291.84V294.34M29.24 306.82V309.32M29.24 311.81V314.31M29.24 331.79V334.28M29.24 349.26V351.76M29.24 359.25V361.74M29.24 369.23V371.73M30.49 191.99V194.48M30.49 274.37V276.86M30.49 281.86V284.35M30.49 291.84V296.84M30.49 364.24V366.74M30.49 381.71V384.21M31.75 194.48V196.98M31.75 236.92V239.42M31.75 251.90V254.40M31.75 291.84V296.84M31.75 334.28V339.27M31.75 351.76V354.25M33.00 182.00V184.50M33.00 201.97V206.96M33.00 259.39V261.89M33.00 276.86V279.36M33.00 286.85V289.35M33.00 294.34V296.84M33.00 304.32V306.82M33.00 321.80V324.30M33.00 344.27V346.76M33.00 351.76V354.25M33.00 359.25V361.74M33.00 381.71V384.21M34.26 186.99V189.49M34.26 234.43V239.42M34.26 261.89V264.38M34.26 341.77V344.27M34.26 351.76V354.25M34.26 356.75V361.74M35.52 214.45V216.95M35.52 241.91V244.41M35.52 246.91V249.40M35.52 251.90V254.40M35.52 259.39V261.89M35.52 321.80V324.30M35.52 326.79V329.29M36.77 184.50V186.99M36.77 244.41V246.91M36.77 291.84V294.34M36.77 339.27V341.77M36.77 351.76V354.25M36.77 361.74V364.24M36.77 374.23V376.72M36.77 384.21V389.20M38.03 186.99V189.49M38.03 196.98V199.47M38.03 271.87V274.37M38.03 356.75V359.25M38.03 361.74V364.24M38.03 369.23V371.73M39.28 199.47V201.97M39.28 204.47V206.96M39.28 256.89V259.39M39.28 264.38V266.88M39.28 291.84V296.84M39.28 301.83V304.32M39.28 361.74V364.24M39.28 386.71V389.20M40.54 196.98V199.47M40.54 206.96V209.46M40.54 216.95V219.45M40.54 224.44V226.94M40.54 281.86V289.35M40.54 331.79V334.28M40.54 339.27V341.77M40.54 349.26V351.76M40.54 354.25V356.75M40.54 359.25V361.74M40.54 371.73V374.23M40.54 381.71V384.21M41.80 194.48V196.98M41.80 241.91V244.41M41.80 296.84V299.33M41.80 371.73V374.23M43.05 182.00V184.50M43.05 201.97V204.47M43.05 211.96V214.45M43.05 221.94V224.44M43.05 279.36V281.86M43.05 296.84V299.33M43.05 339.27V341.77M44.31 194.48V196.98M44.31 206.96V209.46M44.31 284.35V286.85M44.31 351.76V354.25M45.56 189.49V191.99M45.56 209.46V211.96M45.56 231.93V234.43M45.56 249.40V251.90M45.56 276.86V279.36M45.56 289.35V291.84M45.56 301.83V304.32M45.56 311.81V314.31M45.56 331.79V334.28M45.56 359.25V364.24M45.56 366.74V369.23M45.56 384.21V386.71M45.56 389.20V391.70M46.82 194.48V196.98M46.82 271.87V274.37M46.82 276.86V279.36M46.82 286.85V289.35M46.82 294.34V299.33M46.82 341.77V344.27M46.82 349.26V351.76M46.82 376.72V379.22M48.08 206.96V209.46M48.08 224.44V229.43M48.08 249.40V251.90M48.08 259.39V261.89M48.08 284.35V286.85M48.08 336.78V339.27M48.08 341.77V344.27M48.08 346.76V349.26M48.08 359.25V361.74M48.08 384.21V386.71M49.33 201.97V204.47M49.33 256.89V259.39M49.33 281.86V284.35M49.33 286.85V289.35M49.33 306.82V309.32M49.33 334.28V336.78M49.33 361.74V364.24M50.59 191.99V194.48M50.59 206.96V209.46M50.59 281.86V284.35M50.59 336.78V339.27M50.59 359.25V361.74M50.59 379.22V381.71M50.59 389.20V391.70M51.84 294.34V296.84M51.84 309.32V311.81M51.84 314.31V319.30M51.84 341.77V344.27M51.84 364.24V366.74M51.84 369.23V371.73M53.10 199.47V201.97M53.10 204.47V206.96M53.10 224.44V226.94M53.10 261.89V264.38M53.10 356.75V359.25M53.10 381.71V384.21M54.36 246.91V249.40M54.36 334.28V336.78M54.36 364.24V366.74M54.36 374.23V376.72M55.61 221.94V224.44M55.61 264.38V269.38M55.61 279.36V284.35M55.61 364.24V366.74M55.61 379.22V381.71M56.87 189.49V191.99M56.87 194.48V196.98M56.87 289.35V291.84M56.87 294.34V296.84M56.87 354.25V356.75M56.87 359.25V364.24M56.87 369.23V371.73M56.87 376.72V379.22M58.12 189.49V191.99M58.12 206.96V209.46M58.12 289.35V294.34M58.12 301.83V304.32M59.38 186.99V189.49M59.38 221.94V224.44M59.38 279.36V281.86M59.38 294.34V296.84M59.38 304.32V306.82M59.38 311.81V314.31M59.38 316.81V326.79M59.38 339.27V341.77M59.38 351.76V354.25M59.38 374.23V376.72M60.64 186.99V189.49M60.64 191.99V194.48M60.64 299.33V301.83M60.64 364.24V366.74M60.64 374.23V376.72M61.89 194.48V196.98M61.89 201.97V204.47M61.89 216.95V219.45M61.89 276.86V279.36M61.89 299.33V304.32M61.89 316.81V321.80M61.89 329.29V331.79M61.89 334.28V336.78M61.89 341.77V344.27M61.89 351.76V354.25M61.89 369.23V371.73M61.89 386.71V391.70M63.15 184.50V186.99M63.15 189.49V191.99M63.15 204.47V206.96M63.15 224.44V226.94M63.15 241.91V244.41M63.15 271.87V274.37M63.15 281.86V286.85M63.15 294.34V296.84M63.15 316.81V319.30M63.15 331.79V334.28M63.15 361.74V364.24M63.15 381.71V384.21M63.15 386.71V389.20M64.40 191.99V194.48M64.40 214.45V216.95M64.40 239.42V241.91M64.40 296.84V299.33M64.40 334.28V336.78M64.40 381.71V384.21M65.66 199.47V201.97M65.66 261.89V264.38M65.66 271.87V274.37M65.66 279.36V284.35M65.66 296.84V299.33M66.92 189.49V191.99M66.92 199.47V201.97M66.92 251.90V254.40M66.92 266.88V271.87M66.92 286.85V289.35M66.92 309.32V311.81M66.92 376.72V379.22M68.17 191.99V194.48M68.17 206.96V209.46M68.17 214.45V216.95M68.17 249.40V251.90M68.17 271.87V274.37M68.17 281.86V284.35M68.17 306.82V309.32M68.17 316.81V319.30M68.17 321.80V324.30M68.17 354.25V356.75M68.17 371.73V374.23M69.43 196.98V199.47M69.43 214.45V216.95M69.43 286.85V289.35M69.43 294.34V296.84M69.43 306.82V309.32M70.68 264.38V271.87M70.68 274.37V276.86M70.68 349.26V354.25M70.68 359.25V361.74M70.68 381.71V384.21M70.68 389.20V391.70M71.94 182.00V184.50M71.94 191.99V194.48M71.94 216.95V219.45M71.94 261.89V269.38M71.94 276.86V279.36M71.94 284.35V286.85M71.94 291.84V294.34M71.94 329.29V331.79M71.94 334.28V336.78M71.94 339.27V341.77M71.94 346.76V349.26M71.94 359.25V361.74M71.94 366.74V369.23M71.94 371.73V374.23M71.94 386.71V389.20M73.20 214.45V221.94M73.20 236.92V239.42M73.20 261.89V264.38M73.20 269.38V274.37M73.20 276.86V279.36M73.20 281.86V284.35M73.20 304.32V309.32M73.20 356.75V359.25M73.20 369.23V371.73M74.45 184.50V186.99M74.45 224.44V226.94M74.45 251.90V256.89M74.45 369.23V371.73M74.45 376.72V381.71M75.71 199.47V204.47M75.71 214.45V216.95M75.71 224.44V226.94M75.71 234.43V236.92M75.71 241.91V244.41M75.71 246.91V249.40M75.71 274.37V276.86M75.71 336.78V339.27M75.71 341.77V344.27M75.71 346.76V354.25M75.71 369.23V371.73M76.96 189.49V191.99M76.96 196.98V199.47M76.96 254.40V256.89M76.96 261.89V264.38M76.96 289.35V296.84M76.96 329.29V331.79M76.96 361.74V364.24M76.96 386.71V389.20M78.22 194.48V196.98M78.22 219.45V221.94M78.22 261.89V264.38M78.22 339.27V341.77M78.22 346.76V351.76M78.22 361.74V364.24M78.22 381.71V384.21M79.48 254.40V256.89M79.48 296.84V299.33M79.48 301.83V304.32M79.48 376.72V379.22M79.48 389.20V391.70M80.73 244.41V246.91M80.73 259.39V261.89M80.73 296.84V299.33M80.73 321.80V324.30M80.73 354.25V356.75M80.73 364.24V366.74M80.73 381.71V384.21M81.99 184.50V186.99M81.99 191.99V194.48M81.99 201.97V204.47M81.99 236.92V239.42M81.99 246.91V249.40M81.99 251.90V254.40M81.99 256.89V259.39M81.99 279.36V281.86M81.99 306.82V309.32M81.99 319.30V321.80M81.99 331.79V336.78M81.99 346.76V349.26M81.99 361.74V364.24M81.99 371.73V379.22M83.24 244.41V246.91M83.24 319.30V321.80M83.24 331.79V339.27M83.24 344.27V346.76M83.24 359.25V361.74M83.24 384.21V386.71M84.50 186.99V189.49M84.50 194.48V196.98M84.50 199.47V201.97M84.50 209.46V211.96M84.50 244.41V246.91M84.50 269.38V271.87M84.50 281.86V284.35M84.50 289.35V291.84M84.50 314.31V316.81M84.50 331.79V334.28M84.50 384.21V386.71M85.76 184.50V186.99M85.76 196.98V199.47M85.76 244.41V246.91M85.76 251.90V254.40M85.76 256.89V261.89M85.76 289.35V291.84M85.76 301.83V304.32M85.76 366.74V369.23M87.01 186.99V189.49M87.01 191.99V194.48M87.01 204.47V206.96M87.01 249.40V254.40M87.01 294.34V296.84M87.01 329.29V331.79M87.01 334.28V336.78M87.01 359.25V364.24M87.01 386.71V389.20M88.27 182.00V184.50M88.27 236.92V239.42M88.27 271.87V274.37M88.27 361.74V364.24M89.52 182.00V184.50M89.52 199.47V201.97M89.52 206.96V209.46M89.52 291.84V294.34M89.52 316.81V319.30M89.52 334.28V336.78M89.52 361.74V364.24M89.52 369.23V371.73M90.78 201.97V204.47M90.78 206.96V209.46M90.78 216.95V221.94M90.78 254.40V256.89M90.78 294.34V296.84M90.78 356.75V359.25M90.78 364.24V366.74M90.78 374.23V376.72M92.04 201.97V204.47M92.04 206.96V209.46M92.04 241.91V246.91M92.04 266.88V269.38M92.04 276.86V279.36M92.04 284.35V286.85M92.04 306.82V309.32M92.04 314.31V316.81M92.04 344.27V346.76M92.04 351.76V354.25M92.04 384.21V386.71M93.29 221.94V224.44M93.29 294.34V299.33M93.29 389.20V391.70M94.55 194.48V196.98M94.55 206.96V209.46M94.55 214.45V216.95M94.55 219.45V221.94M94.55 259.39V261.89M94.55 264.38V269.38M94.55 281.86V286.85M94.55 306.82V309.32M94.55 356.75V359.25M94.55 364.24V366.74M94.55 369.23V371.73M95.80 186.99V189.49M95.80 209.46V211.96M95.80 229.43V236.92M95.80 364.24V369.23M95.80 374.23V376.72M95.80 386.71V391.70M97.06 209.46V211.96M97.06 241.91V244.41M97.06 251.90V254.40M97.06 274.37V276.86M97.06 291.84V294.34M97.06 309.32V311.81M97.06 326.79V329.29M97.06 341.77V344.27M97.06 376.72V379.22M97.06 386.71V389.20M98.32 184.50V186.99M98.32 261.89V264.38M98.32 286.85V289.35M98.32 329.29V331.79M98.32 339.27V344.27M98.32 351.76V354.25M98.32 381.71V384.21M99.57 186.99V196.98M99.57 206.96V209.46M99.57 241.91V244.41M99.57 251.90V254.40M99.57 264.38V266.88M99.57 271.87V274.37M99.57 279.36V286.85M99.57 291.84V294.34M99.57 296.84V299.33M99.57 304.32V311.81M100.83 201.97V204.47M100.83 364.24V366.74M102.08 196.98V199.47M102.08 209.46V211.96M102.08 224.44V226.94M102.08 244.41V246.91M102.08 274.37V276.86M102.08 321.80V326.79M102.08 341.77V344.27M102.08 354.25V356.75M102.08 364.24V366.74M102.08 371.73V374.23M102.08 379.22V381.71M103.34 206.96V209.46M103.34 214.45V216.95M103.34 254.40V256.89M103.34 281.86V284.35M103.34 364.24V366.74M104.60 182.00V184.50M104.60 206.96V209.46M104.60 224.44V226.94M104.60 259.39V261.89M104.60 266.88V269.38M104.60 294.34V296.84M104.60 326.79V329.29M104.60 351.76V354.25M105.85 199.47V201.97M105.85 226.94V234.43M105.85 266.88V269.38M105.85 279.36V281.86M105.85 356.75V364.24M105.85 384.21V386.71M105.85 389.20V391.70M107.11 184.50V186.99M107.11 191.99V194.48M107.11 201.97V204.47M107.11 209.46V211.96M107.11 214.45V216.95M107.11 224.44V226.94M107.11 229.43V234.43M107.11 254.40V256.89M107.11 299.33V301.83M107.11 359.25V361.74M107.11 374.23V376.72M108.36 334.28V336.78M108.36 339.27V341.77M108.36 356.75V359.25M108.36 371.73V374.23M108.36 381.71V384.21M109.62 224.44V226.94M109.62 244.41V246.91M109.62 254.40V256.89M109.62 301.83V304.32M109.62 309.32V311.81M109.62 316.81V319.30M109.62 329.29V331.79M109.62 344.27V346.76M109.62 384.21V386.71M110.88 191.99V194.48M110.88 201.97V204.47M110.88 224.44V226.94M110.88 261.89V264.38M110.88 286.85V289.35M110.88 331.79V334.28M110.88 346.76V351.76M110.88 369.23V371.73M112.13 201.97V204.47M112.13 216.95V219.45M112.13 246.91V249.40M112.13 346.76V349.26M112.13 361.74V364.24M112.13 369.23V371.73M112.13 381.71V384.21M113.39 182.00V189.49M113.39 196.98V199.47M113.39 246.91V249.40M113.39 271.87V274.37M113.39 279.36V281.86M113.39 316.81V319.30M113.39 329.29V331.79M113.39 361.74V364.24M113.39 369.23V371.73M113.39 379.22V381.71M113.39 386.71V391.70M114.64 191.99V194.48M114.64 199.47V201.97M114.64 224.44V226.94M114.64 234.43V236.92M114.64 256.89V259.39M114.64 261.89V264.38M114.64 274.37V276.86M114.64 321.80V324.30M114.64 334.28V336.78M114.64 339.27V341.77M114.64 349.26V351.76M114.64 376.72V379.22M114.64 384.21V386.71M114.64 389.20V391.70M115.90 194.48V196.98M115.90 201.97V204.47M115.90 206.96V209.46M115.90 221.94V224.44M115.90 239.42V241.91M115.90 254.40V259.39M115.90 291.84V296.84M115.90 356.75V359.25M115.90 376.72V379.22M115.90 384.21V386.71M117.16 182.00V184.50M117.16 186.99V189.49M117.16 199.47V201.97M117.16 261.89V264.38M117.16 269.38V271.87M117.16 274.37V276.86M117.16 279.36V284.35M117.16 286.85V289.35M117.16 294.34V296.84M117.16 369.23V371.73M118.41 201.97V204.47M118.41 236.92V239.42M118.41 261.89V269.38M118.41 274.37V276.86M118.41 286.85V289.35M118.41 339.27V341.77M118.41 344.27V349.26M119.67 182.00V184.50M119.67 209.46V211.96M119.67 216.95V219.45M119.67 246.91V249.40M119.67 251.90V254.40M119.67 264.38V266.88M119.67 359.25V361.74M119.67 364.24V366.74M119.67 381.71V384.21M120.92 204.47V206.96M120.92 221.94V224.44M120.92 239.42V241.91M120.92 256.89V259.39M120.92 331.79V334.28M120.92 339.27V344.27M120.92 381.71V384.21M122.18 186.99V191.99M122.18 201.97V204.47M122.18 221.94V229.43M122.18 254.40V256.89M122.18 261.89V264.38M122.18 266.88V271.87M122.18 284.35V286.85M122.18 296.84V299.33M122.18 306.82V309.32M122.18 361.74V364.24M123.44 184.50V186.99M123.44 209.46V211.96M123.44 216.95V219.45M123.44 254.40V256.89M123.44 304.32V309.32M123.44 314.31V316.81M123.44 346.76V349.26M123.44 364.24V366.74M124.69 196.98V199.47M124.69 231.93V236.92M124.69 261.89V264.38M124.69 324.30V329.29M124.69 334.28V336.78M124.69 351.76V356.75M124.69 361.74V364.24M124.69 366.74V369.23M124.69 376.72V379.22M124.69 389.20V391.70M125.95 182.00V184.50M125.95 219.45V221.94M125.95 246.91V249.40M125.95 264.38V271.87M125.95 274.37V276.86M125.95 296.84V299.33M125.95 354.25V356.75M125.95 359.25V361.74M125.95 369.23V371.73M125.95 376.72V379.22M125.95 384.21V386.71M127.20 211.96V214.45M127.20 236.92V239.42M127.20 254.40V256.89M127.20 271.87V274.37M127.20 279.36V281.86M127.20 306.82V309.32M127.20 324.30V326.79M127.20 329.29V334.28M127.20 339.27V341.77M127.20 346.76V349.26M127.20 389.20V391.70M128.46 214.45V216.95M128.46 254.40V256.89M128.46 261.89V266.88M128.46 274.37V276.86M128.46 294.34V296.84M128.46 321.80V324.30M128.46 381.71V384.21M129.72 186.99V189.49M129.72 209.46V211.96M129.72 239.42V241.91M129.72 244.41V246.91M129.72 251.90V256.89M129.72 266.88V269.38M129.72 384.21V386.71M130.97 194.48V196.98M130.97 201.97V204.47M130.97 219.45V221.94M130.97 241.91V244.41M130.97 279.36V281.86M130.97 351.76V354.25M130.97 359.25V361.74M130.97 381.71V386.71M132.23 201.97V204.47M132.23 221.94V226.94M133.48 186.99V189.49M133.48 206.96V211.96M133.48 219.45V221.94M133.48 256.89V259.39M133.48 291.84V296.84M133.48 304.32V306.82M133.48 336.78V339.27M134.74 206.96V209.46M134.74 246.91V249.40M134.74 269.38V271.87M134.74 291.84V294.34M136.00 189.49V191.99M136.00 201.97V204.47M136.00 206.96V209.46M136.00 221.94V224.44M136.00 251.90V254.40M136.00 264.38V266.88M136.00 276.86V279.36M136.00 289.35V291.84M136.00 329.29V331.79M136.00 364.24V366.74M136.00 369.23V371.73M136.00 389.20V391.70M137.25 186.99V191.99M137.25 194.48V196.98M137.25 236.92V239.42M137.25 241.91V244.41M137.25 251.90V254.40M137.25 279.36V281.86M137.25 284.35V289.35M137.25 331.79V336.78M137.25 341.77V344.27M137.25 369.23V371.73M137.25 384.21V386.71M138.51 182.00V184.50M138.51 204.47V206.96M138.51 209.46V211.96M138.51 216.95V224.44M138.51 244.41V246.91M138.51 266.88V269.38M138.51 284.35V286.85M138.51 361.74V364.24M138.51 379.22V381.71M138.51 384.21V386.71M139.76 219.45V224.44M139.76 236.92V239.42M139.76 251.90V254.40M139.76 256.89V259.39M139.76 361.74V364.24M139.76 374.23V376.72M141.02 201.97V204.47M141.02 206.96V209.46M141.02 221.94V224.44M141.02 261.89V266.88M141.02 341.77V344.27M142.28 209.46V211.96M142.28 224.44V226.94M142.28 304.32V306.82M142.28 326.79V329.29M142.28 369.23V379.22M143.53 199.47V201.97M143.53 216.95V219.45M143.53 239.42V241.91M143.53 259.39V261.89M143.53 264.38V266.88M143.53 316.81V319.30M143.53 364.24V366.74M143.53 389.20V391.70M144.79 191.99V194.48M144.79 206.96V209.46M144.79 216.95V219.45M144.79 236.92V239.42M144.79 251.90V254.40M144.79 256.89V261.89M144.79 301.83V304.32M144.79 341.77V344.27M144.79 376.72V381.71M146.04 196.98V199.47M146.04 204.47V206.96M146.04 214.45V219.45M146.04 251.90V254.40M146.04 264.38V266.88M146.04 344.27V346.76M146.04 349.26V354.25M146.04 384.21V386.71M147.30 189.49V191.99M147.30 196.98V199.47M147.30 236.92V241.91M147.30 304.32V306.82M147.30 369.23V371.73M147.30 374.23V379.22M147.30 384.21V386.71M147.30 389.20V391.70M148.56 194.48V196.98M148.56 201.97V204.47M148.56 216.95V219.45M148.56 224.44V226.94M148.56 229.43V231.93M148.56 234.43V239.42M148.56 244.41V246.91M148.56 259.39V261.89M148.56 269.38V271.87M148.56 289.35V291.84M148.56 349.26V351.76M148.56 369.23V371.73M149.81 182.00V184.50M149.81 216.95V219.45M149.81 221.94V224.44M149.81 251.90V254.40M149.81 371.73V374.23M149.81 379.22V384.21M151.07 191.99V194.48M151.07 211.96V214.45M151.07 224.44V226.94M151.07 244.41V246.91M151.07 256.89V259.39M151.07 261.89V266.88M151.07 364.24V366.74M151.07 371.73V374.23M152.32 201.97V204.47M152.32 206.96V209.46M152.32 239.42V241.91M152.32 254.40V261.89M152.32 264.38V266.88M152.32 316.81V319.30M152.32 329.29V334.28M152.32 366.74V369.23M153.58 201.97V204.47M153.58 214.45V219.45M153.58 224.44V226.94M154.84 196.98V199.47M154.84 254.40V256.89M154.84 259.39V261.89M154.84 304.32V306.82M154.84 364.24V366.74M154.84 374.23V376.72M156.09 196.98V199.47M156.09 209.46V211.96M156.09 246.91V256.89M156.09 261.89V264.38M156.09 319.30V321.80M156.09 341.77V344.27M156.09 349.26V351.76M156.09 379.22V384.21M156.09 386.71V389.20M157.35 204.47V206.96M157.35 254.40V259.39M157.35 269.38V271.87M157.35 344.27V349.26M157.35 354.25V356.75M157.35 389.20V391.70M158.60 194.48V196.98M158.60 219.45V221.94M158.60 239.42V241.91M158.60 244.41V249.40M158.60 256.89V261.89M158.60 334.28V336.78M158.60 341.77V344.27M158.60 374.23V376.72M159.86 209.46V211.96M159.86 216.95V219.45M159.86 236.92V239.42M159.86 254.40V256.89M159.86 304.32V311.81M159.86 329.29V331.79M159.86 349.26V354.25M159.86 381.71V384.21M161.12 191.99V194.48M161.12 196.98V199.47M161.12 206.96V209.46M161.12 214.45V216.95M161.12 251.90V254.40M161.12 256.89V259.39M161.12 316.81V321.80M161.12 329.29V331.79M161.12 366.74V369.23M162.37 201.97V204.47M162.37 251.90V254.40M163.63 182.00V184.50M163.63 209.46V211.96M163.63 219.45V224.44M163.63 229.43V231.93M163.63 251.90V254.40M163.63 386.71V389.20M164.88 182.00V184.50M164.88 196.98V201.97M164.88 204.47V209.46M164.88 214.45V216.95M164.88 236.92V239.42M164.88 256.89V261.89M164.88 316.81V319.30M164.88 329.29V331.79M164.88 334.28V336.78M166.14 186.99V189.49M166.14 191.99V194.48M166.14 204.47V206.96M166.14 229.43V231.93M166.14 254.40V256.89M166.14 264.38V266.88M166.14 274.37V276.86M166.14 369.23V371.73M167.40 189.49V191.99M167.40 216.95V219.45M167.40 221.94V224.44M167.40 251.90V254.40M167.40 264.38V266.88M167.40 361.74V364.24M168.65 186.99V189.49M168.65 234.43V236.92M168.65 254.40V256.89M168.65 316.81V319.30M168.65 326.79V329.29M168.65 384.21V386.71M169.91 182.00V184.50M169.91 186.99V189.49M169.91 206.96V209.46M169.91 224.44V226.94M169.91 229.43V231.93M169.91 236.92V239.42M169.91 269.38V271.87M169.91 289.35V291.84M169.91 361.74V364.24M169.91 386.71V391.70M171.16 182.00V184.50M171.16 224.44V226.94M171.16 239.42V241.91M171.16 251.90V254.40M171.16 261.89V266.88M171.16 294.34V299.33M171.16 349.26V351.76M171.16 369.23V371.73M172.42 246.91V249.40M172.42 261.89V266.88M172.42 281.86V284.35M172.42 339.27V341.77M172.42 356.75V359.25M172.42 361.74V364.24M172.42 369.23V371.73M173.68 199.47V204.47M173.68 211.96V219.45M173.68 239.42V241.91M173.68 251.90V259.39M173.68 269.38V274.37M173.68 281.86V284.35M173.68 291.84V294.34M174.93 236.92V239.42M174.93 244.41V249.40M174.93 301.83V309.32M174.93 386.71V389.20M176.19 221.94V224.44M176.19 254.40V259.39M176.19 264.38V266.88M176.19 364.24V366.74M176.19 386.71V389.20M177.44 189.49V191.99M177.44 214.45V216.95M177.44 219.45V221.94M177.44 251.90V254.40M177.44 264.38V266.88M177.44 314.31V316.81M177.44 334.28V336.78M177.44 339.27V341.77M177.44 349.26V351.76M178.70 182.00V184.50M178.70 189.49V191.99M178.70 206.96V209.46M178.70 211.96V214.45M178.70 221.94V224.44M178.70 264.38V266.88M178.70 304.32V306.82M178.70 369.23V371.73M179.96 224.44V226.94M179.96 251.90V256.89M179.96 299.33V304.32M179.96 361.74V366.74M179.96 379.22V381.71M181.21 194.48V196.98M181.21 236.92V241.91M181.21 261.89V266.88M181.21 369.23V371.73M182.47 219.45V221.94M182.47 231.93V234.43M182.47 251.90V254.40M182.47 346.76V349.26M182.47 359.25V361.74M182.47 364.24V366.74M182.47 389.20V391.70M183.72 219.45V221.94M183.72 224.44V226.94M183.72 264.38V266.88M184.98 186.99V189.49M184.98 199.47V201.97M184.98 219.45V221.94M184.98 264.38V266.88M184.98 304.32V306.82M184.98 314.31V321.80M184.98 324.30V329.29M184.98 376.72V379.22M186.24 194.48V196.98M186.24 204.47V206.96M186.24 226.94V229.43M186.24 236.92V239.42M186.24 244.41V246.91M186.24 254.40V259.39M186.24 264.38V266.88M186.24 274.37V276.86M186.24 286.85V289.35M186.24 291.84V296.84M186.24 361.74V364.24M186.24 384.21V389.20M187.49 182.00V184.50M187.49 189.49V191.99M187.49 209.46V211.96M187.49 236.92V239.42M187.49 264.38V266.88M187.49 299.33V301.83M187.49 364.24V366.74M188.75 189.49V191.99M188.75 199.47V201.97M188.75 209.46V211.96M188.75 216.95V219.45M188.75 221.94V224.44M188.75 239.42V241.91M188.75 256.89V259.39M188.75 261.89V264.38M188.75 329.29V331.79M188.75 349.26V351.76M188.75 356.75V359.25M188.75 366.74V369.23M190.00 239.42V241.91M190.00 259.39V261.89M190.00 304.32V306.82M191.26 216.95V219.45M191.26 246.91V249.40M191.26 251.90V254.40M191.26 264.38V266.88M191.26 311.81V314.31M191.26 321.80V324.30M191.26 361.74V364.24M192.52 182.00V184.50M192.52 201.97V206.96M192.52 236.92V239.42M192.52 251.90V259.39M192.52 261.89V264.38M192.52 366.74V369.23M192.52 376.72V379.22M192.52 386.71V389.20M193.77 182.00V184.50M193.77 196.98V199.47M193.77 201.97V204.47M193.77 216.95V219.45M193.77 221.94V224.44M193.77 256.89V259.39M193.77 269.38V271.87M195.03 221.94V224.44M195.03 261.89V264.38M195.03 271.87V274.37M195.03 281.86V284.35M195.03 361.74V364.24M195.03 369.23V371.73M195.03 379.22V381.71M195.03 386.71V391.70M196.28 194.48V196.98M196.28 206.96V214.45M196.28 216.95V219.45M196.28 221.94V224.44M196.28 251.90V254.40M196.28 256.89V259.39M196.28 339.27V341.77M196.28 356.75V359.25M196.28 369.23V371.73M197.54 251.90V254.40M197.54 264.38V266.88M197.54 279.36V281.86M197.54 284.35V289.35M197.54 291.84V294.34M197.54 344.27V346.76M197.54 374.23V376.72M198.80 261.89V264.38M198.80 284.35V286.85M198.80 289.35V291.84M198.80 349.26V351.76M198.80 381.71V384.21M200.05 182.00V184.50M200.05 201.97V204.47M200.05 206.96V211.96M200.05 214.45V216.95M200.05 219.45V221.94M200.05 239.42V241.91M200.05 281.86V284.35M200.05 349.26V351.76M200.05 361.74V364.24M200.05 381.71V384.21M201.31 189.49V191.99M201.31 211.96V214.45M201.31 221.94V224.44M201.31 234.43V236.92M201.31 251.90V254.40M201.31 266.88V269.38M201.31 276.86V279.36M201.31 291.84V294.34M201.31 344.27V346.76M201.31 364.24V366.74M201.31 374.23V379.22M201.31 389.20V391.70M202.56 221.94V224.44M202.56 264.38V266.88M202.56 281.86V284.35M202.56 296.84V299.33M202.56 381.71V384.21M203.82 194.48V196.98M203.82 204.47V206.96M203.82 214.45V216.95M203.82 234.43V236.92M203.82 256.89V259.39M205.08 199.47V201.97M205.08 216.95V224.44M205.08 251.90V254.40M205.08 256.89V259.39M205.08 316.81V319.30M205.08 359.25V364.24M205.08 366.74V369.23M206.33 221.94V224.44M206.33 239.42V241.91M206.33 264.38V266.88M206.33 376.72V379.22M207.59 201.97V204.47M207.59 209.46V211.96M207.59 216.95V219.45M207.59 301.83V304.32M207.59 364.24V366.74M207.59 381.71V386.71M208.84 182.00V184.50M208.84 216.95V224.44M208.84 349.26V351.76M210.10 201.97V204.47M210.10 214.45V219.45M210.10 236.92V239.42M210.10 256.89V259.39M210.10 261.89V264.38M210.10 316.81V319.30M210.10 364.24V366.74M210.10 369.23V374.23M211.36 254.40V256.89M211.36 261.89V264.38M211.36 271.87V274.37M211.36 314.31V316.81M211.36 336.78V339.27M211.36 374.23V376.72M212.61 199.47V201.97M212.61 211.96V214.45M212.61 246.91V249.40M212.61 251.90V256.89M212.61 261.89V264.38M212.61 386.71V389.20M213.87 194.48V196.98M213.87 221.94V224.44M213.87 256.89V259.39M213.87 261.89V264.38M213.87 291.84V294.34M213.87 346.76V351.76M213.87 364.24V366.74M213.87 384.21V386.71M215.12 199.47V201.97M215.12 204.47V206.96M215.12 246.91V249.40M215.12 304.32V306.82M215.12 344.27V346.76M216.38 209.46V211.96M216.38 239.42V241.91M216.38 254.40V256.89M216.38 264.38V266.88M216.38 369.23V371.73M217.64 182.00V184.50M217.64 194.48V196.98M217.64 224.44V226.94M217.64 246.91V249.40M217.64 324.30V326.79M217.64 354.25V359.25M217.64 374.23V379.22M217.64 384.21V386.71M218.89 184.50V186.99M218.89 199.47V201.97M218.89 204.47V206.96M218.89 216.95V219.45M218.89 221.94V224.44M218.89 229.43V231.93M218.89 271.87V276.86M218.89 279.36V281.86M218.89 296.84V299.33M218.89 304.32V306.82M218.89 376.72V379.22M220.15 211.96V219.45M220.15 239.42V241.91M220.15 251.90V254.40M220.15 344.27V346.76M220.15 361.74V364.24M221.40 219.45V221.94M221.40 231.93V234.43M221.40 251.90V254.40M221.40 259.39V261.89M221.40 304.32V306.82M221.40 349.26V351.76M221.40 386.71V389.20M222.66 186.99V189.49M222.66 196.98V199.47M222.66 219.45V221.94M222.66 244.41V246.91M222.66 261.89V264.38M222.66 271.87V274.37M222.66 281.86V284.35M222.66 291.84V299.33M222.66 304.32V306.82M222.66 346.76V349.26M222.66 386.71V389.20M223.92 194.48V196.98M223.92 199.47V201.97M223.92 221.94V226.94M223.92 239.42V241.91M223.92 244.41V246.91M223.92 249.40V251.90M223.92 256.89V259.39M223.92 374.23V376.72M225.17 216.95V221.94M225.17 254.40V259.39M225.17 284.35V286.85M225.17 326.79V329.29M225.17 344.27V346.76M225.17 384.21V386.71M226.43 191.99V196.98M226.43 206.96V209.46M226.43 261.89V266.88M226.43 306.82V309.32M226.43 316.81V319.30M227.68 194.48V196.98M227.68 201.97V204.47M227.68 206.96V209.46M227.68 231.93V234.43M227.68 251.90V256.89M227.68 376.72V379.22M228.94 191.99V194.48M228.94 251.90V254.40M228.94 356.75V359.25M228.94 374.23V379.22M230.20 186.99V189.49M230.20 199.47V201.97M230.20 204.47V206.96M230.20 214.45V216.95M230.20 229.43V231.93M230.20 236.92V239.42M230.20 246.91V249.40M230.20 254.40V259.39M230.20 274.37V276.86M230.20 286.85V289.35M231.45 186.99V189.49M231.45 199.47V204.47M231.45 214.45V219.45M231.45 246.91V254.40M231.45 261.89V264.38M231.45 331.79V334.28M231.45 344.27V346.76M231.45 356.75V359.25M232.71 194.48V196.98M232.71 201.97V204.47M232.71 206.96V209.46M232.71 211.96V214.45M232.71 216.95V219.45M232.71 229.43V231.93M232.71 236.92V239.42M232.71 344.27V346.76M232.71 349.26V351.76M232.71 354.25V359.25M232.71 361.74V364.24M232.71 366.74V369.23M232.71 374.23V376.72M233.96 194.48V196.98M233.96 199.47V201.97M233.96 216.95V219.45M233.96 221.94V224.44M233.96 269.38V271.87M233.96 274.37V276.86M233.96 279.36V284.35M233.96 286.85V299.33M233.96 364.24V366.74M233.96 374.23V376.72M233.96 386.71V389.20M235.22 182.00V184.50M235.22 194.48V196.98M235.22 216.95V219.45M235.22 231.93V234.43M235.22 259.39V261.89M235.22 264.38V266.88M235.22 274.37V276.86M235.22 281.86V284.35M235.22 286.85V289.35M235.22 291.84V294.34M235.22 344.27V346.76M235.22 386.71V389.20M236.48 204.47V206.96M236.48 209.46V211.96M236.48 256.89V259.39M236.48 276.86V279.36M236.48 286.85V289.35M236.48 294.34V296.84M236.48 304.32V306.82M236.48 366.74V369.23M237.73 196.98V199.47M237.73 206.96V209.46M237.73 216.95V221.94M237.73 261.89V264.38M237.73 284.35V286.85M237.73 374.23V379.22M237.73 384.21V389.20M238.99 209.46V211.96M238.99 214.45V219.45M238.99 264.38V266.88M240.24 206.96V209.46M240.24 214.45V216.95M240.24 229.43V231.93M240.24 236.92V239.42M240.24 246.91V249.40M240.24 261.89V264.38M240.24 316.81V321.80M240.24 326.79V329.29M240.24 336.78V339.27M240.24 376.72V379.22M240.24 384.21V386.71M241.50 182.00V184.50M241.50 201.97V204.47M241.50 206.96V209.46M241.50 321.80V324.30M241.50 326.79V329.29M241.50 334.28V339.27M241.50 341.77V344.27M241.50 381.71V384.21M242.76 206.96V209.46M242.76 221.94V226.94M242.76 236.92V239.42M242.76 244.41V246.91M242.76 304.32V306.82M242.76 346.76V349.26M242.76 364.24V366.74M242.76 376.72V379.22M244.01 206.96V209.46M244.01 219.45V221.94M244.01 224.44V226.94M244.01 234.43V236.92M244.01 284.35V286.85M244.01 306.82V309.32M244.01 311.81V314.31M244.01 316.81V319.30M244.01 331.79V334.28M244.01 344.27V346.76M244.01 361.74V364.24M244.01 369.23V371.73M245.27 251.90V256.89M245.27 314.31V316.81M245.27 336.78V339.27M245.27 369.23V371.73M245.27 374.23V376.72M245.27 386.71V389.20M246.52 194.48V196.98M246.52 224.44V226.94M246.52 261.89V264.38M246.52 299.33V301.83M246.52 304.32V306.82M246.52 349.26V351.76M246.52 374.23V376.72M246.52 381.71V384.21M247.78 209.46V211.96M247.78 219.45V221.94M247.78 261.89V264.38M247.78 269.38V271.87M247.78 286.85V289.35M247.78 301.83V304.32M247.78 341.77V344.27M247.78 361.74V366.74M249.04 194.48V196.98M249.04 209.46V211.96M249.04 229.43V231.93M249.04 254.40V256.89M249.04 374.23V376.72M250.29 196.98V199.47M250.29 286.85V289.35M250.29 299.33V301.83M250.29 341.77V344.27M251.55 191.99V194.48M251.55 199.47V201.97M251.55 214.45V216.95M251.55 221.94V224.44M251.55 239.42V241.91M251.55 376.72V379.22M251.55 384.21V386.71M252.80 189.49V191.99M252.80 204.47V209.46M252.80 221.94V226.94M252.80 234.43V236.92M252.80 256.89V259.39M252.80 264.38V266.88M252.80 286.85V289.35M252.80 316.81V319.30M252.80 326.79V329.29M252.80 384.21V386.71M254.06 194.48V199.47M254.06 201.97V204.47M254.06 206.96V209.46M254.06 256.89V259.39M254.06 339.27V341.77M254.06 379.22V381.71M255.32 251.90V254.40M255.32 256.89V259.39M255.32 264.38V266.88M256.57 194.48V196.98M256.57 209.46V211.96M256.57 221.94V224.44M256.57 226.94V229.43M256.57 256.89V259.39M256.57 299.33V301.83M256.57 344.27V346.76M256.57 389.20V391.70"/>
<path stroke="#ffffff" stroke-width="1.306" d="M6.63 254.40V256.89M6.63 276.86V279.36M6.63 359.25V361.74M6.63 364.24V366.74M6.63 381.71V384.21M6.63 386.71V391.70M7.88 184.50V186.99M7.88 194.48V196.98M7.88 296.84V299.33M9.14 191.99V194.48M9.14 209.46V211.96M9.14 241.91V244.41M9.14 249.40V251.90M10.40 224.44V226.94M10.40 241.91V244.41M10.40 249.40V251.90M10.40 354.25V356.75M10.40 359.25V361.74M11.65 201.97V204.47M11.65 241.91V244.41M11.65 261.89V264.38M11.65 301.83V304.32M11.65 306.82V309.32M11.65 314.31V319.30M11.65 359.25V361.74M11.65 369.23V371.73M12.91 209.46V211.96M12.91 244.41V246.91M12.91 284.35V286.85M12.91 369.23V371.73M14.16 189.49V191.99M14.16 214.45V216.95M14.16 219.45V221.94M14.16 236.92V239.42M14.16 254.40V256.89M14.16 274.37V276.86M14.16 321.80V324.30M14.16 336.78V339.27M14.16 361.74V366.74M14.16 371.73V374.23M14.16 381.71V384.21M15.42 201.97V204.47M15.42 289.35V291.84M15.42 356.75V359.25M16.68 191.99V194.48M16.68 204.47V206.96M16.68 214.45V216.95M16.68 219.45V221.94M16.68 241.91V244.41M16.68 246.91V249.40M16.68 289.35V291.84M16.68 389.20V391.70M17.93 216.95V219.45M17.93 239.42V241.91M17.93 251.90V254.40M17.93 271.87V274.37M17.93 279.36V281.86M17.93 301.83V304.32M17.93 321.80V324.30M17.93 329.29V331.79M17.93 371.73V374.23M17.93 384.21V386.71M19.19 186.99V189.49M19.19 219.45V221.94M19.19 306.82V309.32M19.19 356.75V361.74M19.19 386.71V389.20M20.44 334.28V336.78M21.70 182.00V184.50M21.70 334.28V336.78M21.70 356.75V359.25M22.96 191.99V194.48M22.96 196.98V199.47M22.96 206.96V209.46M22.96 216.95V221.94M22.96 229.43V231.93M22.96 289.35V291.84M22.96 296.84V299.33M22.96 331.79V334.28M22.96 376.72V379.22M22.96 386.71V389.20M24.21 254.40V256.89M24.21 364.24V366.74M24.21 389.20V391.70M25.47 209.46V211.96M25.47 264.38V269.38M25.47 271.87V274.37M25.47 294.34V296.84M25.47 356.75V359.25M26.72 184.50V186.99M26.72 189.49V191.99M26.72 244.41V246.91M26.72 264.38V266.88M26.72 326.79V329.29M26.72 364.24V366.74M26.72 376.72V379.22M27.98 229.43V231.93M27.98 294.34V296.84M29.24 214.45V216.95M29.24 251.90V254.40M29.24 271.87V274.37M29.24 279.36V284.35M29.24 314.31V316.81M29.24 324.30V326.79M29.24 361.74V364.24M30.49 184.50V186.99M30.49 204.47V206.96M30.49 221.94V224.44M30.49 259.39V261.89M31.75 184.50V189.49M31.75 264.38V266.88M31.75 271.87V274.37M31.75 276.86V279.36M31.75 359.25V361.74M31.75 379.22V381.71M33.00 264.38V266.88M33.00 291.84V294.34M33.00 306.82V309.32M33.00 349.26V351.76M33.00 356.75V359.25M33.00 364.24V366.74M33.00 389.20V391.70M34.26 191.99V194.48M34.26 201.97V204.47M34.26 256.89V259.39M34.26 294.34V296.84M34.26 336.78V339.27M34.26 344.27V346.76M34.26 366.74V369.23M34.26 381.71V384.21M35.52 211.96V214.45M35.52 216.95V219.45M35.52 231.93V234.43M35.52 384.21V386.71M36.77 209.46V214.45M36.77 224.44V226.94M36.77 241.91V244.41M36.77 299.33V301.83M36.77 331.79V334.28M36.77 354.25V356.75M36.77 381.71V384.21M38.03 182.00V184.50M38.03 191.99V194.48M38.03 201.97V204.47M38.03 264.38V266.88M38.03 269.38V271.87M38.03 284.35V286.85M38.03 364.24V366.74M38.03 384.21V386.71M39.28 184.50V186.99M39.28 224.44V226.94M39.28 254.40V256.89M39.28 289.35V291.84M39.28 296.84V299.33M40.54 276.86V279.36M40.54 296.84V299.33M40.54 336.78V339.27M40.54 344.27V346.76M40.54 356.75V359.25M41.80 184.50V186.99M41.80 221.94V226.94M41.80 376.72V379.22M41.80 389.20V391.70M43.05 224.44V226.94M43.05 334.28V336.78M43.05 341.77V344.27M44.31 184.50V186.99M44.31 189.49V191.99M44.31 211.96V214.45M44.31 246.91V249.40M44.31 266.88V269.38M44.31 289.35V291.84M44.31 346.76V349.26M44.31 384.21V389.20M45.56 236.92V239.42M45.56 339.27V341.77M45.56 344.27V346.76M45.56 351.76V354.25M46.82 209.46V211.96M46.82 214.45V216.95M48.08 234.43V236.92M48.08 246.91V249.40M48.08 266.88V271.87M48.08 281.86V284.35M48.08 289.35V291.84M48.08 296.84V299.33M48.08 339.27V341.77M48.08 356.75V359.25M48.08 361.74V366.74M48.08 381.71V384.21M49.33 244.41V246.91M49.33 259.39V261.89M49.33 266.88V269.38M49.33 284.35V286.85M49.33 289.35V291.84M49.33 294.34V296.84M49.33 356.75V359.25M49.33 374.23V376.72M49.33 389.20V391.70M50.59 276.86V279.36M50.59 294.34V296.84M51.84 196.98V199.47M51.84 204.47V206.96M51.84 224.44V226.94M51.84 231.93V234.43M51.84 239.42V241.91M51.84 361.74V364.24M51.84 381.71V384.21M53.10 244.41V249.40M53.10 274.37V276.86M53.10 376.72V381.71M53.10 384.21V386.71M54.36 216.95V219.45M54.36 251.90V254.40M54.36 304.32V306.82M54.36 356.75V359.25M54.36 389.20V391.70M55.61 196.98V201.97M55.61 214.45V216.95M55.61 296.84V299.33M55.61 366.74V369.23M56.87 182.00V184.50M56.87 211.96V214.45M56.87 249.40V251.90M56.87 256.89V259.39M56.87 269.38V271.87M56.87 279.36V281.86M56.87 389.20V391.70M58.12 314.31V316.81M58.12 331.79V334.28M58.12 389.20V391.70M59.38 219.45V221.94M59.38 246.91V249.40M59.38 291.84V294.34M59.38 356.75V359.25M60.64 194.48V196.98M60.64 219.45V221.94M60.64 351.76V354.25M60.64 389.20V391.70M61.89 199.47V201.97M61.89 211.96V214.45M61.89 224.44V226.94M61.89 284.35V286.85M61.89 321.80V324.30M61.89 346.76V349.26M63.15 186.99V189.49M63.15 296.84V299.33M63.15 374.23V376.72M64.40 199.47V206.96M64.40 254.40V256.89M64.40 341.77V344.27M64.40 349.26V351.76M64.40 354.25V356.75M64.40 366.74V369.23M65.66 189.49V191.99M65.66 201.97V204.47M65.66 221.94V224.44M65.66 249.40V251.90M65.66 284.35V286.85M65.66 294.34V296.84M65.66 329.29V331.79M65.66 341.77V344.27M65.66 381.71V384.21M66.92 219.45V221.94M66.92 241.91V244.41M66.92 264.38V266.88M66.92 296.84V299.33M66.92 311.81V314.31M66.92 379.22V381.71M68.17 259.39V261.89M68.17 274.37V276.86M68.17 296.84V299.33M69.43 186.99V189.49M69.43 194.48V196.98M69.43 199.47V204.47M69.43 209.46V211.96M69.43 216.95V219.45M69.43 281.86V284.35M69.43 359.25V361.74M70.68 224.44V226.94M70.68 246.91V249.40M70.68 271.87V274.37M70.68 279.36V281.86M70.68 334.28V336.78M70.68 386.71V389.20M71.94 199.47V201.97M71.94 226.94V229.43M71.94 239.42V241.91M71.94 244.41V249.40M71.94 279.36V281.86M71.94 294.34V296.84M71.94 299.33V301.83M71.94 344.27V346.76M71.94 389.20V391.70M73.20 186.99V189.49M73.20 206.96V209.46M73.20 229.43V231.93M73.20 244.41V246.91M73.20 386.71V389.20M74.45 196.98V199.47M74.45 214.45V216.95M74.45 359.25V364.24M74.45 384.21V386.71M75.71 251.90V254.40M75.71 269.38V271.87M75.71 279.36V281.86M75.71 291.84V294.34M75.71 334.28V336.78M75.71 381.71V384.21M76.96 184.50V186.99M76.96 214.45V216.95M78.22 216.95V219.45M78.22 331.79V334.28M78.22 354.25V356.75M79.48 189.49V191.99M79.48 244.41V246.91M79.48 256.89V259.39M79.48 369.23V371.73M80.73 184.50V186.99M80.73 196.98V199.47M80.73 204.47V206.96M80.73 261.89V264.38M80.73 294.34V296.84M80.73 334.28V336.78M81.99 216.95V219.45M81.99 254.40V256.89M81.99 309.32V311.81M81.99 324.30V329.29M81.99 364.24V366.74M83.24 189.49V191.99M83.24 194.48V196.98M83.24 209.46V211.96M83.24 221.94V224.44M83.24 381.71V384.21M84.50 184.50V186.99M84.50 224.44V226.94M84.50 246.91V251.90M84.50 271.87V274.37M84.50 354.25V356.75M84.50 366.74V369.23M85.76 224.44V226.94M85.76 249.40V251.90M85.76 371.73V374.23M87.01 259.39V261.89M87.01 291.84V294.34M87.01 301.83V304.32M87.01 369.23V371.73M87.01 389.20V391.70M88.27 184.50V189.49M88.27 199.47V201.97M88.27 206.96V209.46M88.27 219.45V221.94M88.27 241.91V246.91M88.27 296.84V299.33M89.52 209.46V211.96M89.52 221.94V224.44M89.52 256.89V261.89M89.52 301.83V304.32M89.52 321.80V324.30M89.52 374.23V376.72M89.52 386.71V389.20M90.78 184.50V186.99M90.78 194.48V196.98M90.78 211.96V214.45M90.78 256.89V259.39M90.78 306.82V309.32M90.78 369.23V371.73M90.78 389.20V391.70M92.04 279.36V281.86M92.04 316.81V319.30M92.04 326.79V329.29M92.04 331.79V334.28M92.04 349.26V351.76M92.04 371.73V374.23M92.04 389.20V391.70M93.29 249.40V251.90M93.29 386.71V389.20M94.55 189.49V191.99M94.55 196.98V199.47M94.55 271.87V274.37M94.55 276.86V279.36M94.55 286.85V289.35M94.55 301.83V304.32M94.55 359.25V361.74M95.80 194.48V196.98M95.80 224.44V226.94M95.80 246.91V249.40M95.80 261.89V264.38M97.06 184.50V186.99M97.06 259.39V264.38M97.06 276.86V279.36M97.06 329.29V334.28M97.06 361.74V364.24M98.32 201.97V204.47M98.32 241.91V244.41M98.32 274.37V276.86M99.57 221.94V224.44M99.57 244.41V246.91M99.57 256.89V259.39M99.57 261.89V264.38M99.57 311.81V314.31M99.57 364.24V366.74M99.57 371.73V374.23M100.83 209.46V214.45M100.83 216.95V219.45M100.83 234.43V236.92M100.83 241.91V244.41M100.83 299.33V301.83M100.83 356.75V359.25M100.83 371.73V374.23M102.08 186.99V189.49M102.08 194.48V196.98M102.08 211.96V214.45M102.08 239.42V241.91M102.08 249.40V251.90M102.08 261.89V264.38M102.08 334.28V336.78M102.08 344.27V349.26M103.34 199.47V201.97M103.34 244.41V246.91M103.34 276.86V281.86M103.34 356.75V359.25M103.34 371.73V374.23M103.34 381.71V384.21M103.34 386.71V389.20M104.60 241.91V244.41M104.60 274.37V276.86M104.60 339.27V341.77M104.60 366.74V369.23M104.60 374.23V376.72M104.60 379.22V381.71M105.85 189.49V191.99M105.85 299.33V301.83M105.85 366.74V369.23M107.11 216.95V219.45M107.11 221.94V224.44M107.11 226.94V229.43M107.11 239.42V241.91M107.11 259.39V261.89M107.11 296.84V299.33M107.11 371.73V374.23M108.36 184.50V186.99M108.36 201.97V204.47M108.36 244.41V249.40M108.36 341.77V344.27M108.36 359.25V361.74M108.36 374.23V376.72M109.62 204.47V206.96M109.62 249.40V251.90M109.62 296.84V299.33M109.62 334.28V339.27M110.88 214.45V216.95M110.88 256.89V259.39M110.88 264.38V266.88M110.88 299.33V301.83M110.88 334.28V336.78M110.88 356.75V359.25M112.13 259.39V261.89M112.13 266.88V269.38M112.13 284.35V286.85M113.39 226.94V229.43M113.39 239.42V241.91M113.39 269.38V271.87M113.39 289.35V294.34M113.39 296.84V299.33M113.39 304.32V306.82M113.39 321.80V324.30M113.39 381.71V384.21M114.64 209.46V214.45M114.64 239.42V241.91M114.64 284.35V289.35M114.64 296.84V299.33M114.64 329.29V331.79M114.64 344.27V346.76M114.64 366.74V369.23M114.64 371.73V376.72M117.16 229.43V231.93M117.16 236.92V239.42M117.16 254.40V256.89M117.16 291.84V294.34M117.16 371.73V374.23M117.16 381.71V384.21M118.41 191.99V194.48M118.41 204.47V206.96M118.41 211.96V214.45M118.41 216.95V219.45M118.41 224.44V226.94M118.41 281.86V284.35M118.41 289.35V291.84M118.41 329.29V336.78M118.41 381.71V384.21M119.67 206.96V209.46M119.67 219.45V221.94M119.67 274.37V276.86M119.67 279.36V281.86M119.67 284.35V286.85M119.67 296.84V299.33M120.92 234.43V236.92M120.92 291.84V294.34M120.92 301.83V304.32M120.92 321.80V324.30M120.92 329.29V331.79M120.92 364.24V366.74M120.92 386.71V389.20M122.18 241.91V244.41M122.18 251.90V254.40M122.18 256.89V259.39M122.18 271.87V274.37M122.18 326.79V329.29M122.18 374.23V376.72M122.18 381.71V384.21M123.44 204.47V206.96M123.44 236.92V239.42M123.44 299.33V301.83M124.69 224.44V226.94M124.69 236.92V239.42M124.69 241.91V244.41M124.69 251.90V254.40M124.69 256.89V259.39M124.69 291.84V294.34M124.69 309.32V311.81M124.69 316.81V319.30M124.69 321.80V324.30M125.95 236.92V239.42M125.95 244.41V246.91M125.95 361.74V364.24M125.95 374.23V376.72M127.20 341.77V344.27M127.20 359.25V361.74M128.46 209.46V211.96M128.46 304.32V306.82M128.46 314.31V316.81M128.46 326.79V329.29M128.46 364.24V366.74M129.72 196.98V199.47M129.72 211.96V214.45M129.72 219.45V221.94M129.72 231.93V234.43M129.72 301.83V304.32M130.97 206.96V209.46M130.97 229.43V231.93M130.97 289.35V294.34M130.97 301.83V306.82M130.97 331.79V336.78M130.97 341.77V346.76M130.97 356.75V359.25M130.97 361.74V364.24M132.23 211.96V214.45M132.23 281.86V284.35M132.23 291.84V294.34M133.48 211.96V214.45M133.48 251.90V254.40M134.74 216.95V219.45M134.74 249.40V251.90M134.74 254.40V256.89M134.74 261.89V269.38M134.74 271.87V274.37M134.74 386.71V389.20M136.00 194.48V196.98M136.00 216.95V219.45M136.00 249.40V251.90M136.00 254.40V256.89M136.00 381.71V384.21M137.25 199.47V201.97M137.25 206.96V209.46M137.25 226.94V229.43M137.25 249.40V251.90M137.25 301.83V304.32M137.25 361.74V364.24M137.25 386.71V389.20M138.51 206.96V209.46M138.51 214.45V216.95M138.51 224.44V226.94M138.51 271.87V274.37M138.51 279.36V281.86M138.51 294.34V296.84M138.51 374.23V376.72M138.51 389.20V391.70M139.76 229.43V231.93M139.76 246.91V249.40M139.76 259.39V261.89M139.76 264.38V266.88M139.76 339.27V341.77M139.76 354.25V356.75M139.76 364.24V366.74M139.76 384.21V386.71M141.02 191.99V194.48M142.28 182.00V184.50M142.28 251.90V254.40M142.28 261.89V264.38M142.28 339.27V341.77M142.28 356.75V361.74M142.28 366.74V369.23M143.53 194.48V196.98M143.53 229.43V231.93M143.53 246.91V249.40M143.53 251.90V254.40M143.53 256.89V259.39M143.53 299.33V301.83M143.53 314.31V316.81M143.53 369.23V371.73M143.53 374.23V376.72M144.79 194.48V196.98M144.79 254.40V256.89M144.79 351.76V354.25M144.79 361.74V366.74M144.79 369.23V371.73M144.79 386.71V389.20M146.04 182.00V184.50M146.04 211.96V214.45M146.04 239.42V241.91M146.04 244.41V246.91M146.04 339.27V344.27M147.30 204.47V206.96M147.30 264.38V266.88M147.30 284.35V286.85M147.30 311.81V316.81M147.30 321.80V324.30M147.30 361.74V364.24M148.56 199.47V201.97M148.56 211.96V216.95M148.56 231.93V234.43M148.56 239.42V241.91M148.56 266.88V269.38M148.56 271.87V274.37M148.56 279.36V281.86M148.56 284.35V286.85M148.56 339.27V341.77M148.56 359.25V361.74M149.81 189.49V191.99M149.81 196.98V199.47M149.81 256.89V259.39M149.81 264.38V266.88M149.81 301.83V304.32M149.81 314.31V316.81M149.81 361.74V364.24M151.07 196.98V199.47M151.07 204.47V206.96M151.07 214.45V216.95M151.07 219.45V221.94M151.07 239.42V241.91M151.07 254.40V256.89M151.07 339.27V346.76M151.07 361.74V364.24M151.07 384.21V389.20M152.32 276.86V279.36M152.32 284.35V289.35M152.32 296.84V299.33M152.32 334.28V336.78M152.32 344.27V346.76M153.58 251.90V254.40M153.58 266.88V269.38M153.58 356.75V359.25M153.58 376.72V379.22M154.84 191.99V196.98M154.84 204.47V206.96M154.84 216.95V219.45M154.84 324.30V329.29M154.84 361.74V364.24M154.84 369.23V374.23M156.09 199.47V201.97M156.09 236.92V241.91M156.09 256.89V259.39M156.09 309.32V311.81M156.09 324.30V326.79M156.09 346.76V349.26M156.09 356.75V359.25M156.09 361.74V364.24M156.09 366.74V369.23M156.09 374.23V376.72M157.35 264.38V266.88M157.35 289.35V291.84M157.35 339.27V341.77M157.35 374.23V379.22M158.60 186.99V189.49M158.60 211.96V214.45M158.60 216.95V219.45M158.60 221.94V224.44M158.60 339.27V341.77M158.60 349.26V351.76M158.60 356.75V359.25M158.60 384.21V386.71M159.86 194.48V196.98M159.86 211.96V214.45M159.86 264.38V266.88M159.86 314.31V319.30M159.86 356.75V359.25M161.12 184.50V186.99M161.12 209.46V211.96M161.12 244.41V246.91M161.12 309.32V311.81M161.12 321.80V324.30M161.12 339.27V341.77M161.12 349.26V351.76M161.12 376.72V379.22M162.37 189.49V194.48M162.37 256.89V259.39M162.37 334.28V336.78M162.37 369.23V371.73M162.37 386.71V389.20M163.63 204.47V206.96M163.63 239.42V241.91M163.63 256.89V259.39M163.63 264.38V266.88M163.63 274.37V276.86M163.63 281.86V284.35M163.63 341.77V344.27M164.88 306.82V309.32M164.88 311.81V316.81M164.88 364.24V369.23M164.88 381.71V384.21M164.88 386.71V389.20M166.14 221.94V224.44M166.14 231.93V234.43M166.14 236.92V239.42M166.14 251.90V254.40M166.14 261.89V264.38M166.14 304.32V306.82M166.14 316.81V319.30M166.14 366.74V369.23M166.14 386.71V389.20M167.40 186.99V189.49M167.40 191.99V194.48M167.40 374.23V376.72M168.65 214.45V216.95M168.65 221.94V224.44M168.65 299.33V301.83M169.91 251.90V254.40M169.91 281.86V284.35M169.91 296.84V299.33M169.91 316.81V319.30M169.91 349.26V351.76M171.16 216.95V221.94M171.16 269.38V271.87M171.16 276.86V284.35M171.16 376.72V379.22M172.42 229.43V231.93M172.42 299.33V301.83M172.42 334.28V336.78M172.42 359.25V361.74M173.68 204.47V206.96M173.68 264.38V266.88M173.68 274.37V276.86M173.68 299.33V301.83M173.68 314.31V316.81M173.68 381.71V384.21M174.93 201.97V206.96M174.93 239.42V241.91M174.93 256.89V259.39M174.93 261.89V264.38M174.93 341.77V344.27M174.93 371.73V374.23M176.19 184.50V186.99M176.19 204.47V206.96M176.19 214.45V216.95M176.19 229.43V231.93M176.19 379.22V381.71M177.44 184.50V189.49M177.44 206.96V209.46M177.44 221.94V224.44M177.44 261.89V264.38M177.44 304.32V309.32M177.44 319.30V321.80M177.44 326.79V329.29M177.44 374.23V379.22M177.44 381.71V384.21M177.44 389.20V391.70M178.70 194.48V196.98M178.70 236.92V239.42M178.70 256.89V259.39M178.70 274.37V276.86M178.70 376.72V379.22M178.70 386.71V389.20M179.96 182.00V194.48M179.96 199.47V201.97M179.96 209.46V211.96M179.96 346.76V349.26M179.96 369.23V371.73M181.21 191.99V194.48M181.21 204.47V206.96M181.21 214.45V216.95M181.21 231.93V234.43M181.21 251.90V254.40M181.21 256.89V259.39M181.21 346.76V349.26M181.21 366.74V369.23M181.21 384.21V386.71M182.47 204.47V211.96M182.47 226.94V229.43M182.47 239.42V241.91M182.47 369.23V371.73M182.47 386.71V389.20M183.72 182.00V184.50M183.72 186.99V189.49M183.72 204.47V206.96M183.72 256.89V259.39M183.72 304.32V306.82M183.72 314.31V316.81M183.72 381.71V386.71M184.98 374.23V376.72M184.98 384.21V386.71M186.24 189.49V191.99M186.24 214.45V216.95M186.24 221.94V224.44M186.24 246.91V249.40M186.24 251.90V254.40M186.24 261.89V264.38M186.24 271.87V274.37M186.24 299.33V301.83M186.24 349.26V351.76M186.24 354.25V356.75M186.24 366.74V369.23M187.49 201.97V204.47M187.49 229.43V231.93M187.49 256.89V259.39M187.49 376.72V381.71M187.49 386.71V389.20M188.75 321.80V324.30M188.75 341.77V344.27M188.75 364.24V366.74M188.75 374.23V376.72M188.75 389.20V391.70M190.00 191.99V194.48M190.00 206.96V211.96M190.00 221.94V224.44M190.00 256.89V259.39M190.00 316.81V319.30M190.00 331.79V334.28M190.00 341.77V344.27M190.00 389.20V391.70M191.26 206.96V209.46M191.26 314.31V316.81M191.26 329.29V331.79M191.26 339.27V341.77M191.26 364.24V366.74M191.26 379.22V381.71M191.26 389.20V391.70M192.52 186.99V189.49M192.52 194.48V196.98M192.52 224.44V226.94M192.52 341.77V344.27M192.52 369.23V374.23M192.52 379.22V384.21M193.77 229.43V231.93M193.77 261.89V264.38M193.77 279.36V284.35M193.77 289.35V291.84M193.77 374.23V376.72M193.77 379.22V381.71M193.77 389.20V391.70M195.03 186.99V189.49M195.03 204.47V206.96M195.03 239.42V241.91M195.03 276.86V279.36M195.03 284.35V286.85M195.03 339.27V341.77M195.03 344.27V346.76M195.03 376.72V379.22M196.28 219.45V221.94M196.28 261.89V266.88M196.28 351.76V354.25M196.28 381.71V384.21M197.54 214.45V216.95M197.54 276.86V279.36M197.54 294.34V296.84M197.54 304.32V306.82M197.54 349.26V351.76M197.54 384.21V389.20M198.80 182.00V184.50M198.80 209.46V211.96M198.80 216.95V219.45M198.80 274.37V276.86M198.80 329.29V331.79M198.80 339.27V344.27M200.05 251.90V254.40M200.05 354.25V356.75M201.31 186.99V189.49M201.31 199.47V206.96M201.31 264.38V266.88M201.31 269.38V271.87M201.31 279.36V284.35M201.31 359.25V361.74M202.56 239.42V241.91M202.56 274.37V276.86M202.56 299.33V301.83M202.56 349.26V351.76M202.56 361.74V364.24M202.56 366.74V369.23M203.82 201.97V204.47M203.82 206.96V209.46M203.82 286.85V289.35M203.82 299.33V301.83M203.82 369.23V371.73M205.08 182.00V184.50M205.08 214.45V216.95M205.08 254.40V256.89M205.08 284.35V286.85M205.08 329.29V331.79M205.08 344.27V346.76M205.08 386.71V389.20M206.33 199.47V201.97M206.33 216.95V219.45M206.33 246.91V249.40M206.33 291.84V294.34M206.33 361.74V364.24M206.33 369.23V371.73M206.33 384.21V386.71M207.59 194.48V196.98M207.59 206.96V209.46M207.59 261.89V266.88M208.84 186.99V191.99M208.84 199.47V204.47M208.84 229.43V231.93M208.84 261.89V264.38M210.10 194.48V196.98M210.10 204.47V206.96M210.10 239.42V241.91M210.10 251.90V254.40M210.10 361.74V364.24M210.10 376.72V379.22M211.36 182.00V184.50M211.36 194.48V196.98M211.36 209.46V211.96M211.36 284.35V286.85M211.36 311.81V314.31M211.36 316.81V319.30M211.36 339.27V341.77M211.36 344.27V346.76M211.36 361.74V366.74M211.36 376.72V379.22M211.36 386.71V389.20M212.61 216.95V219.45M212.61 221.94V224.44M212.61 256.89V259.39M213.87 191.99V194.48M213.87 199.47V201.97M213.87 264.38V266.88M213.87 286.85V289.35M213.87 324.30V326.79M213.87 354.25V356.75M213.87 376.72V379.22M215.12 251.90V254.40M215.12 281.86V284.35M215.12 349.26V351.76M216.38 219.45V221.94M217.64 204.47V206.96M217.64 209.46V211.96M217.64 339.27V341.77M217.64 351.76V354.25M217.64 371.73V374.23M217.64 381.71V384.21M218.89 214.45V216.95M218.89 239.42V241.91M218.89 291.84V294.34M218.89 324.30V326.79M218.89 356.75V359.25M218.89 364.24V366.74M218.89 389.20V391.70M220.15 199.47V201.97M220.15 244.41V246.91M220.15 276.86V279.36M220.15 304.32V309.32M220.15 366.74V371.73M220.15 384.21V386.71M221.40 206.96V209.46M221.40 236.92V241.91M221.40 261.89V266.88M221.40 344.27V346.76M222.66 182.00V184.50M222.66 194.48V196.98M222.66 221.94V226.94M222.66 266.88V269.38M222.66 276.86V279.36M222.66 364.24V366.74M222.66 389.20V391.70M223.92 189.49V191.99M223.92 201.97V204.47M223.92 251.90V254.40M223.92 331.79V336.78M223.92 376.72V379.22M223.92 386.71V389.20M225.17 206.96V209.46M225.17 314.31V316.81M225.17 331.79V334.28M225.17 339.27V341.77M225.17 364.24V366.74M226.43 219.45V221.94M226.43 309.32V311.81M226.43 381.71V384.21M227.68 204.47V206.96M227.68 216.95V219.45M227.68 371.73V374.23M227.68 381.71V384.21M228.94 184.50V186.99M228.94 209.46V211.96M228.94 221.94V224.44M228.94 264.38V266.88M228.94 316.81V319.30M228.94 349.26V351.76M228.94 364.24V366.74M230.20 184.50V186.99M230.20 191.99V196.98M230.20 201.97V204.47M230.20 206.96V211.96M230.20 221.94V224.44M230.20 276.86V279.36M230.20 281.86V284.35M230.20 344.27V346.76M230.20 361.74V364.24M230.20 381.71V384.21M231.45 299.33V301.83M231.45 314.31V316.81M231.45 361.74V364.24M231.45 369.23V371.73M231.45 381.71V384.21M232.71 189.49V191.99M232.71 261.89V264.38M232.71 339.27V344.27M232.71 346.76V349.26M232.71 376.72V379.22M232.71 389.20V391.70M233.96 209.46V211.96M233.96 219.45V221.94M233.96 251.90V254.40M233.96 276.86V279.36M233.96 299.33V301.83M233.96 361.74V364.24M233.96 389.20V391.70M235.22 196.98V199.47M235.22 209.46V211.96M235.22 221.94V224.44M235.22 251.90V254.40M235.22 261.89V264.38M235.22 284.35V286.85M235.22 381.71V384.21M236.48 182.00V184.50M236.48 191.99V194.48M236.48 206.96V209.46M236.48 221.94V224.44M236.48 284.35V286.85M236.48 291.84V294.34M236.48 314.31V316.81M236.48 321.80V324.30M236.48 371.73V374.23M237.73 189.49V191.99M237.73 209.46V211.96M237.73 251.90V254.40M237.73 259.39V261.89M237.73 364.24V366.74M238.99 231.93V234.43M238.99 256.89V259.39M238.99 304.32V306.82M238.99 341.77V344.27M238.99 386.71V389.20M240.24 182.00V184.50M240.24 194.48V196.98M240.24 201.97V204.47M240.24 251.90V254.40M240.24 311.81V314.31M240.24 321.80V324.30M240.24 369.23V371.73M241.50 191.99V194.48M241.50 199.47V201.97M241.50 214.45V216.95M241.50 244.41V246.91M241.50 264.38V266.88M241.50 299.33V301.83M241.50 306.82V309.32M241.50 331.79V334.28M241.50 339.27V341.77M241.50 354.25V356.75M241.50 361.74V364.24M242.76 261.89V264.38M242.76 351.76V354.25M242.76 356.75V359.25M242.76 369.23V371.73M242.76 374.23V376.72M244.01 194.48V196.98M244.01 201.97V204.47M244.01 256.89V259.39M244.01 271.87V274.37M244.01 304.32V306.82M244.01 321.80V324.30M244.01 374.23V379.22M244.01 384.21V386.71M245.27 199.47V201.97M245.27 214.45V216.95M245.27 221.94V224.44M245.27 236.92V239.42M245.27 261.89V264.38M245.27 309.32V311.81M245.27 334.28V336.78M245.27 359.25V361.74M245.27 381.71V384.21M246.52 204.47V209.46M246.52 279.36V281.86M246.52 356.75V359.25M246.52 376.72V379.22M247.78 189.49V194.48M247.78 196.98V199.47M247.78 224.44V226.94M247.78 271.87V274.37M247.78 276.86V279.36M247.78 344.27V346.76M247.78 349.26V351.76M247.78 359.25V361.74M247.78 371.73V374.23M247.78 376.72V379.22M247.78 389.20V391.70M249.04 196.98V199.47M249.04 206.96V209.46M249.04 236.92V239.42M249.04 256.89V259.39M249.04 261.89V266.88M249.04 316.81V319.30M250.29 194.48V196.98M250.29 264.38V266.88M250.29 296.84V299.33M250.29 371.73V374.23M251.55 182.00V184.50M251.55 201.97V204.47M251.55 254.40V256.89M251.55 261.89V264.38M251.55 351.76V354.25M251.55 361.74V364.24M252.80 194.48V196.98M252.80 201.97V204.47M252.80 209.46V211.96M252.80 216.95V219.45M252.80 236.92V239.42M252.80 279.36V281.86M252.80 291.84V294.34M252.80 344.27V346.76M252.80 386.71V389.20M254.06 209.46V211.96M254.06 214.45V216.95M254.06 221.94V224.44M254.06 261.89V264.38M254.06 284.35V286.85M254.06 309.32V311.81M254.06 316.81V319.30M254.06 329.29V331.79M254.06 366.74V369.23M255.32 194.48V196.98M255.32 304.32V306.82M255.32 376.72V379.22M255.32 381.71V384.21M255.32 386.71V389.20M256.57 182.00V184.50M256.57 204.47V209.46M256.57 264.38V266.88M256.57 284.35V286.85M256.57 316.81V319.30M256.57 349.26V351.76"/>
<path stroke="#ffbfbf" stroke-width="1.306" d="M6.63 274.37V276.86M6.63 279.36V281.86M6.63 301.83V304.32M6.63 371.73V374.23M7.88 224.44V229.43M7.88 231.93V234.43M7.88 256.89V259.39M7.88 276.86V279.36M7.88 356.75V359.25M9.14 201.97V204.47M9.14 284.35V286.85M9.14 291.84V294.34M9.14 296.84V299.33M9.14 304.32V306.82M9.14 369.23V371.73M10.40 219.45V221.94M10.40 236.92V239.42M10.40 261.89V264.38M10.40 294.34V296.84M10.40 306.82V309.32M10.40 314.31V316.81M10.40 334.28V336.78M10.40 341.77V344.27M11.65 191.99V194.48M11.65 199.47V201.97M11.65 204.47V206.96M11.65 219.45V221.94M11.65 254.40V256.89M11.65 296.84V299.33M11.65 374.23V376.72M12.91 189.49V191.99M12.91 196.98V199.47M12.91 211.96V214.45M12.91 301.83V304.32M12.91 384.21V386.71M14.16 216.95V219.45M14.16 291.84V294.34M14.16 299.33V301.83M14.16 339.27V344.27M14.16 351.76V354.25M15.42 186.99V189.49M15.42 199.47V201.97M15.42 219.45V221.94M15.42 231.93V234.43M15.42 241.91V244.41M15.42 256.89V259.39M15.42 284.35V286.85M15.42 374.23V376.72M15.42 389.20V391.70M16.68 254.40V256.89M16.68 259.39V264.38M16.68 356.75V359.25M17.93 261.89V266.88M17.93 274.37V276.86M17.93 281.86V284.35M17.93 291.84V294.34M17.93 304.32V306.82M17.93 344.27V346.76M17.93 349.26V351.76M17.93 356.75V359.25M19.19 256.89V259.39M19.19 269.38V274.37M19.19 376.72V379.22M20.44 219.45V221.94M20.44 234.43V236.92M20.44 296.84V299.33M20.44 359.25V361.74M20.44 364.24V366.74M21.70 216.95V219.45M21.70 244.41V246.91M21.70 291.84V294.34M21.70 364.24V366.74M22.96 249.40V254.40M22.96 259.39V261.89M22.96 336.78V339.27M22.96 351.76V354.25M22.96 366.74V369.23M24.21 182.00V184.50M24.21 201.97V204.47M24.21 246.91V251.90M24.21 264.38V266.88M24.21 286.85V291.84M25.47 194.48V196.98M25.47 206.96V209.46M25.47 216.95V219.45M25.47 276.86V279.36M25.47 281.86V286.85M25.47 306.82V309.32M26.72 196.98V199.47M26.72 204.47V206.96M26.72 216.95V219.45M26.72 224.44V226.94M26.72 261.89V264.38M26.72 276.86V279.36M26.72 306.82V309.32M26.72 311.81V314.31M26.72 316.81V319.30M26.72 379.22V381.71M26.72 386.71V389.20M27.98 196.98V199.47M27.98 209.46V211.96M27.98 231.93V234.43M27.98 236.92V239.42M27.98 241.91V244.41M29.24 229.43V231.93M29.24 241.91V244.41M29.24 269.38V271.87M29.24 296.84V299.33M29.24 309.32V311.81M29.24 374.23V376.72M29.24 381.71V384.21M30.49 194.48V196.98M30.49 209.46V214.45M30.49 241.91V244.41M30.49 304.32V306.82M30.49 356.75V359.25M30.49 361.74V364.24M30.49 386.71V389.20M31.75 189.49V191.99M31.75 196.98V199.47M31.75 249.40V251.90M31.75 256.89V259.39M31.75 269.38V271.87M31.75 284.35V286.85M31.75 301.83V304.32M31.75 329.29V331.79M31.75 366.74V369.23M31.75 381.71V384.21M33.00 206.96V209.46M33.00 214.45V216.95M33.00 219.45V221.94M33.00 246.91V249.40M33.00 251.90V254.40M33.00 361.74V364.24M33.00 366.74V369.23M34.26 194.48V196.98M34.26 214.45V216.95M34.26 221.94V226.94M34.26 239.42V241.91M34.26 246.91V249.40M34.26 289.35V291.84M35.52 194.48V196.98M35.52 204.47V206.96M35.52 219.45V221.94M35.52 234.43V239.42M35.52 244.41V246.91M35.52 261.89V264.38M35.52 291.84V296.84M35.52 304.32V306.82M35.52 359.25V364.24M36.77 216.95V219.45M36.77 229.43V231.93M36.77 254.40V256.89M36.77 329.29V331.79M36.77 346.76V349.26M36.77 364.24V366.74M38.03 184.50V186.99M38.03 194.48V196.98M38.03 204.47V206.96M38.03 221.94V224.44M38.03 229.43V231.93M38.03 246.91V249.40M38.03 274.37V276.86M38.03 296.84V299.33M38.03 371.73V374.23M39.28 194.48V196.98M39.28 209.46V214.45M39.28 261.89V264.38M39.28 276.86V281.86M39.28 284.35V286.85M39.28 356.75V359.25M39.28 381.71V386.71M40.54 184.50V186.99M40.54 199.47V201.97M40.54 261.89V264.38M40.54 289.35V291.84M40.54 334.28V336.78M40.54 364.24V366.74M40.54 384.21V386.71M41.80 189.49V191.99M41.80 201.97V204.47M41.80 209.46V211.96M41.80 231.93V234.43M41.80 249.40V251.90M41.80 256.89V259.39M41.80 364.24V366.74M41.80 381.71V386.71M43.05 189.49V191.99M43.05 254.40V259.39M43.05 291.84V294.34M43.05 329.29V331.79M43.05 344.27V349.26M43.05 359.25V361.74M44.31 201.97V204.47M44.31 209.46V211.96M44.31 231.93V234.43M44.31 256.89V259.39M44.31 276.86V279.36M44.31 306.82V309.32M44.31 331.79V336.78M44.31 344.27V346.76M45.56 194.48V196.98M45.56 201.97V204.47M45.56 246.91V249.40M45.56 251.90V256.89M45.56 299.33V301.83M45.56 334.28V336.78M45.56 349.26V351.76M45.56 369.23V371.73M46.82 196.98V199.47M46.82 216.95V219.45M46.82 241.91V244.41M46.82 284.35V286.85M46.82 289.35V291.84M46.82 336.78V339.27M48.08 204.47V206.96M48.08 211.96V214.45M48.08 239.42V241.91M48.08 244.41V246.91M48.08 264.38V266.88M48.08 276.86V279.36M48.08 299.33V301.83M48.08 331.79V334.28M48.08 379.22V381.71M49.33 199.47V201.97M49.33 224.44V226.94M49.33 274.37V276.86M49.33 296.84V299.33M49.33 379.22V381.71M50.59 216.95V219.45M50.59 249.40V251.90M50.59 301.83V306.82M50.59 346.76V349.26M50.59 371.73V374.23M51.84 194.48V196.98M51.84 199.47V201.97M51.84 206.96V209.46M51.84 216.95V219.45M51.84 229.43V231.93M51.84 234.43V236.92M51.84 291.84V294.34M51.84 304.32V309.32M51.84 336.78V339.27M51.84 356.75V361.74M51.84 371.73V374.23M51.84 376.72V379.22M53.10 194.48V196.98M53.10 201.97V204.47M53.10 216.95V219.45M53.10 354.25V356.75M53.10 369.23V371.73M54.36 184.50V186.99M54.36 196.98V199.47M54.36 214.45V216.95M54.36 224.44V226.94M54.36 234.43V236.92M54.36 244.41V246.91M54.36 256.89V261.89M54.36 289.35V291.84M54.36 299.33V301.83M54.36 336.78V339.27M55.61 194.48V196.98M55.61 206.96V209.46M55.61 224.44V226.94M55.61 239.42V241.91M55.61 256.89V259.39M55.61 274.37V276.86M55.61 371.73V374.23M55.61 381.71V384.21M56.87 196.98V199.47M56.87 224.44V226.94M56.87 274.37V276.86M56.87 321.80V324.30M56.87 374.23V376.72M56.87 384.21V386.71M58.12 182.00V184.50M58.12 209.46V211.96M58.12 214.45V216.95M58.12 249.40V251.90M58.12 321.80V324.30M58.12 329.29V331.79M58.12 356.75V359.25M58.12 361.74V366.74M59.38 201.97V204.47M59.38 241.91V244.41M59.38 256.89V259.39M59.38 281.86V286.85M59.38 301.83V304.32M59.38 326.79V329.29M59.38 376.72V379.22M59.38 381.71V384.21M60.64 286.85V291.84M60.64 301.83V304.32M60.64 331.79V336.78M60.64 339.27V346.76M60.64 349.26V351.76M60.64 359.25V361.74M61.89 189.49V191.99M61.89 246.91V249.40M61.89 264.38V269.38M61.89 271.87V274.37M61.89 314.31V316.81M61.89 349.26V351.76M61.89 356.75V359.25M61.89 374.23V376.72M61.89 384.21V386.71M63.15 194.48V196.98M63.15 199.47V201.97M63.15 206.96V209.46M63.15 221.94V224.44M63.15 234.43V236.92M63.15 239.42V241.91M63.15 291.84V294.34M63.15 359.25V361.74M64.40 231.93V236.92M64.40 244.41V246.91M64.40 261.89V264.38M64.40 301.83V304.32M64.40 329.29V331.79M64.40 344.27V346.76M65.66 186.99V189.49M65.66 214.45V216.95M65.66 241.91V244.41M65.66 251.90V254.40M65.66 264.38V269.38M65.66 356.75V359.25M66.92 194.48V196.98M66.92 209.46V211.96M66.92 244.41V246.91M66.92 259.39V261.89M66.92 299.33V304.32M66.92 359.25V361.74M66.92 364.24V366.74M68.17 196.98V199.47M68.17 221.94V224.44M68.17 229.43V231.93M68.17 294.34V296.84M68.17 326.79V329.29M69.43 184.50V186.99M69.43 189.49V191.99M69.43 224.44V226.94M69.43 241.91V244.41M69.43 274.37V276.86M69.43 299.33V301.83M69.43 361.74V364.24M69.43 384.21V386.71M70.68 186.99V191.99M70.68 199.47V201.97M70.68 204.47V206.96M70.68 234.43V236.92M70.68 239.42V241.91M70.68 251.90V254.40M70.68 364.24V366.74M71.94 209.46V211.96M71.94 219.45V221.94M71.94 271.87V274.37M71.94 281.86V284.35M71.94 336.78V339.27M71.94 341.77V344.27M71.94 376.72V379.22M73.20 182.00V184.50M73.20 199.47V201.97M73.20 224.44V229.43M73.20 239.42V241.91M73.20 364.24V366.74M73.20 381.71V384.21M73.20 389.20V391.70M74.45 191.99V194.48M74.45 209.46V211.96M74.45 241.91V244.41M74.45 261.89V264.38M74.45 354.25V356.75M75.71 226.94V231.93M75.71 296.84V299.33M75.71 361.74V364.24M76.96 191.99V196.98M76.96 209.46V211.96M76.96 224.44V226.94M76.96 259.39V261.89M76.96 384.21V386.71M78.22 186.99V189.49M78.22 221.94V226.94M78.22 229.43V231.93M78.22 241.91V246.91M78.22 259.39V261.89M78.22 301.83V304.32M78.22 336.78V339.27M79.48 199.47V201.97M79.48 204.47V206.96M79.48 291.84V294.34M79.48 374.23V376.72M80.73 236.92V239.42M80.73 251.90V254.40M80.73 356.75V364.24M80.73 371.73V374.23M80.73 386.71V389.20M81.99 204.47V206.96M81.99 214.45V216.95M81.99 261.89V264.38M81.99 291.84V294.34M81.99 321.80V324.30M81.99 329.29V331.79M81.99 366.74V369.23M81.99 386.71V389.20M83.24 239.42V241.91M83.24 249.40V254.40M83.24 329.29V331.79M83.24 376.72V379.22M84.50 301.83V304.32M85.76 201.97V204.47M85.76 246.91V249.40M85.76 254.40V256.89M85.76 304.32V306.82M85.76 356.75V359.25M87.01 194.48V196.98M87.01 199.47V204.47M87.01 216.95V219.45M87.01 241.91V246.91M87.01 299.33V301.83M87.01 356.75V359.25M87.01 374.23V379.22M87.01 381.71V384.21M88.27 189.49V194.48M88.27 201.97V204.47M88.27 226.94V229.43M88.27 304.32V306.82M89.52 296.84V299.33M89.52 306.82V309.32M90.78 191.99V194.48M90.78 246.91V249.40M90.78 251.90V254.40M90.78 289.35V291.84M92.04 189.49V191.99M92.04 194.48V196.98M92.04 211.96V214.45M92.04 221.94V224.44M92.04 249.40V251.90M92.04 254.40V256.89M92.04 261.89V264.38M92.04 269.38V271.87M92.04 324.30V326.79M92.04 329.29V331.79M92.04 346.76V349.26M92.04 364.24V366.74M93.29 209.46V211.96M93.29 214.45V216.95M93.29 231.93V234.43M93.29 236.92V239.42M93.29 244.41V246.91M93.29 261.89V266.88M93.29 304.32V306.82M94.55 186.99V189.49M94.55 224.44V226.94M94.55 236.92V239.42M94.55 246.91V249.40M94.55 251.90V254.40M94.55 291.84V294.34M94.55 384.21V386.71M95.80 182.00V184.50M95.80 191.99V194.48M95.80 199.47V201.97M95.80 219.45V221.94M95.80 239.42V244.41M95.80 249.40V251.90M95.80 256.89V259.39M95.80 379.22V384.21M97.06 279.36V281.86M97.06 294.34V296.84M97.06 299.33V301.83M97.06 334.28V336.78M97.06 339.27V341.77M97.06 359.25V361.74M97.06 384.21V386.71M98.32 189.49V191.99M98.32 199.47V201.97M98.32 211.96V214.45M98.32 221.94V224.44M98.32 256.89V259.39M98.32 271.87V274.37M98.32 359.25V364.24M99.57 199.47V201.97M99.57 214.45V216.95M99.57 219.45V221.94M99.57 289.35V291.84M99.57 369.23V371.73M100.83 254.40V256.89M100.83 259.39V264.38M100.83 369.23V371.73M100.83 384.21V389.20M102.08 204.47V206.96M102.08 246.91V249.40M102.08 329.29V334.28M102.08 339.27V341.77M102.08 349.26V354.25M103.34 216.95V219.45M103.34 224.44V226.94M103.34 229.43V231.93M103.34 236.92V239.42M103.34 246.91V251.90M103.34 286.85V291.84M104.60 191.99V194.48M104.60 196.98V199.47M104.60 211.96V214.45M104.60 236.92V239.42M104.60 244.41V246.91M104.60 249.40V251.90M104.60 256.89V259.39M104.60 261.89V264.38M104.60 276.86V281.86M104.60 286.85V289.35M104.60 296.84V299.33M104.60 304.32V309.32M104.60 349.26V351.76M104.60 359.25V361.74M105.85 211.96V214.45M105.85 364.24V366.74M105.85 376.72V379.22M107.11 236.92V239.42M107.11 301.83V304.32M107.11 369.23V371.73M107.11 376.72V379.22M108.36 261.89V264.38M108.36 301.83V304.32M108.36 336.78V339.27M108.36 346.76V351.76M108.36 364.24V366.74M108.36 384.21V386.71M109.62 191.99V194.48M109.62 199.47V201.97M109.62 206.96V209.46M109.62 219.45V221.94M109.62 259.39V261.89M109.62 354.25V359.25M109.62 386.71V389.20M110.88 184.50V186.99M110.88 194.48V196.98M110.88 216.95V219.45M110.88 244.41V246.91M110.88 249.40V251.90M110.88 254.40V256.89M110.88 386.71V389.20M112.13 194.48V196.98M112.13 226.94V229.43M112.13 236.92V239.42M112.13 286.85V289.35M112.13 291.84V294.34M112.13 356.75V359.25M112.13 374.23V376.72M113.39 194.48V196.98M113.39 231.93V234.43M113.39 294.34V296.84M113.39 356.75V359.25M114.64 184.50V186.99M114.64 219.45V221.94M114.64 229.43V231.93M114.64 241.91V244.41M114.64 249.40V254.40M114.64 269.38V271.87M114.64 336.78V339.27M114.64 351.76V354.25M114.64 356.75V359.25M115.90 249.40V251.90M115.90 364.24V366.74M115.90 379.22V381.71M117.16 189.49V191.99M117.16 204.47V206.96M117.16 231.93V234.43M117.16 246.91V249.40M117.16 259.39V261.89M117.16 276.86V279.36M117.16 301.83V304.32M117.16 356.75V359.25M117.16 361.74V364.24M117.16 374.23V379.22M118.41 194.48V196.98M118.41 256.89V259.39M118.41 291.84V294.34M118.41 341.77V344.27M118.41 356.75V361.74M119.67 194.48V196.98M119.67 214.45V216.95M119.67 231.93V234.43M119.67 304.32V306.82M119.67 356.75V359.25M120.92 214.45V219.45M120.92 226.94V229.43M120.92 334.28V339.27M120.92 349.26V351.76M122.18 194.48V196.98M122.18 234.43V241.91M122.18 264.38V266.88M122.18 281.86V284.35M122.18 286.85V289.35M122.18 386.71V389.20M123.44 199.47V201.97M123.44 221.94V224.44M123.44 229.43V231.93M123.44 239.42V241.91M123.44 301.83V304.32M123.44 324.30V326.79M123.44 361.74V364.24M123.44 376.72V379.22M124.69 184.50V186.99M124.69 209.46V211.96M124.69 226.94V231.93M124.69 239.42V241.91M124.69 299.33V301.83M124.69 384.21V386.71M125.95 204.47V206.96M125.95 209.46V211.96M125.95 214.45V216.95M125.95 221.94V224.44M125.95 234.43V236.92M125.95 241.91V244.41M125.95 276.86V279.36M125.95 284.35V286.85M125.95 299.33V304.32M125.95 371.73V374.23M127.20 201.97V204.47M127.20 209.46V211.96M127.20 214.45V216.95M127.20 219.45V221.94M127.20 289.35V291.84M127.20 336.78V339.27M127.20 349.26V351.76M127.20 364.24V366.74M128.46 194.48V196.98M128.46 216.95V219.45M128.46 229.43V231.93M128.46 234.43V236.92M128.46 239.42V241.91M128.46 271.87V274.37M128.46 276.86V279.36M128.46 306.82V309.32M128.46 386.71V391.70M129.72 204.47V206.96M129.72 234.43V236.92M129.72 246.91V249.40M129.72 259.39V261.89M129.72 291.84V294.34M129.72 299.33V301.83M129.72 356.75V359.25M129.72 386.71V389.20M130.97 221.94V224.44M130.97 329.29V331.79M130.97 339.27V341.77M130.97 376.72V379.22M132.23 299.33V304.32M132.23 376.72V379.22M132.23 381.71V384.21M133.48 216.95V219.45M133.48 224.44V226.94M133.48 246.91V249.40M133.48 299.33V301.83M134.74 194.48V196.98M134.74 241.91V244.41M134.74 251.90V254.40M134.74 276.86V279.36M134.74 281.86V284.35M134.74 329.29V331.79M134.74 364.24V366.74M134.74 384.21V386.71M136.00 184.50V186.99M136.00 214.45V216.95M136.00 269.38V271.87M136.00 274.37V276.86M136.00 279.36V281.86M136.00 286.85V289.35M136.00 291.84V294.34M136.00 304.32V306.82M137.25 211.96V214.45M137.25 219.45V221.94M137.25 259.39V261.89M137.25 266.88V269.38M137.25 349.26V351.76M137.25 356.75V359.25M138.51 189.49V191.99M138.51 194.48V196.98M138.51 274.37V276.86M138.51 286.85V289.35M138.51 306.82V309.32M138.51 344.27V346.76M138.51 366.74V369.23M138.51 376.72V379.22M138.51 381.71V384.21M139.76 182.00V184.50M139.76 206.96V209.46M139.76 214.45V216.95M139.76 269.38V271.87M139.76 281.86V284.35M139.76 299.33V301.83M139.76 341.77V344.27M139.76 371.73V374.23M139.76 381.71V384.21M139.76 386.71V391.70M141.02 189.49V191.99M141.02 204.47V206.96M141.02 219.45V221.94M141.02 254.40V256.89M141.02 266.88V269.38M141.02 299.33V301.83M141.02 319.30V321.80M141.02 339.27V341.77M141.02 344.27V346.76M141.02 356.75V359.25M141.02 369.23V374.23M141.02 376.72V386.71M141.02 389.20V391.70M142.28 191.99V194.48M142.28 214.45V216.95M142.28 264.38V266.88M142.28 299.33V301.83M142.28 336.78V339.27M142.28 344.27V346.76M142.28 351.76V354.25M142.28 361.74V364.24M142.28 389.20V391.70M143.53 182.00V184.50M143.53 204.47V206.96M143.53 281.86V284.35M143.53 311.81V314.31M143.53 334.28V336.78M143.53 349.26V351.76M143.53 359.25V361.74M143.53 384.21V389.20M144.79 186.99V191.99M144.79 201.97V206.96M144.79 209.46V211.96M144.79 239.42V241.91M144.79 264.38V266.88M144.79 279.36V284.35M144.79 289.35V291.84M144.79 299.33V301.83M144.79 339.27V341.77M144.79 346.76V349.26M144.79 374.23V376.72M144.79 389.20V391.70M146.04 186.99V189.49M146.04 194.48V196.98M146.04 236.92V239.42M146.04 266.88V269.38M146.04 304.32V306.82M146.04 361.74V364.24M146.04 381.71V384.21M147.30 191.99V194.48M147.30 199.47V201.97M147.30 209.46V211.96M147.30 256.89V259.39M147.30 276.86V279.36M147.30 281.86V284.35M147.30 294.34V296.84M147.30 309.32V311.81M147.30 316.81V321.80M147.30 329.29V331.79M147.30 334.28V336.78M147.30 339.27V341.77M147.30 346.76V349.26M147.30 379.22V384.21M148.56 221.94V224.44M148.56 276.86V279.36M148.56 281.86V284.35M148.56 291.84V296.84M148.56 344.27V346.76M148.56 381.71V384.21M148.56 386.71V389.20M149.81 191.99V196.98M149.81 204.47V206.96M149.81 266.88V269.38M149.81 291.84V294.34M149.81 309.32V311.81M149.81 344.27V346.76M149.81 349.26V351.76M149.81 364.24V369.23M149.81 374.23V379.22M149.81 384.21V386.71M151.07 186.99V189.49M151.07 216.95V219.45M151.07 274.37V276.86M151.07 316.81V319.30M151.07 354.25V361.74M151.07 369.23V371.73M151.07 376.72V379.22M152.32 182.00V184.50M152.32 191.99V196.98M152.32 219.45V221.94M152.32 266.88V269.38M152.32 271.87V276.86M152.32 299.33V301.83M152.32 324.30V326.79M152.32 346.76V349.26M152.32 351.76V354.25M152.32 356.75V359.25M152.32 386.71V389.20M153.58 189.49V191.99M153.58 194.48V196.98M153.58 199.47V201.97M153.58 209.46V211.96M153.58 261.89V266.88M153.58 271.87V274.37M153.58 284.35V286.85M153.58 289.35V291.84M153.58 329.29V331.79M153.58 341.77V344.27M153.58 349.26V354.25M153.58 364.24V366.74M153.58 381.71V384.21M154.84 182.00V184.50M154.84 209.46V211.96M154.84 219.45V221.94M154.84 306.82V309.32M154.84 316.81V319.30M154.84 331.79V334.28M154.84 376.72V379.22M154.84 389.20V391.70M156.09 201.97V204.47M156.09 221.94V224.44M156.09 229.43V231.93M156.09 284.35V286.85M156.09 311.81V316.81M156.09 321.80V324.30M156.09 326.79V331.79M156.09 364.24V366.74M157.35 194.48V196.98M157.35 209.46V211.96M157.35 214.45V216.95M157.35 246.91V249.40M157.35 274.37V276.86M157.35 284.35V286.85M157.35 296.84V301.83M157.35 316.81V319.30M157.35 334.28V336.78M157.35 341.77V344.27M157.35 356.75V359.25M157.35 379.22V384.21M158.60 201.97V204.47M158.60 209.46V211.96M158.60 261.89V264.38M158.60 281.86V284.35M158.60 289.35V291.84M158.60 344.27V346.76M159.86 199.47V201.97M159.86 214.45V216.95M159.86 219.45V221.94M159.86 224.44V226.94M159.86 261.89V264.38M159.86 311.81V314.31M159.86 326.79V329.29M159.86 341.77V344.27M159.86 346.76V349.26M159.86 354.25V356.75M159.86 364.24V366.74M159.86 369.23V371.73M161.12 199.47V201.97M161.12 204.47V206.96M161.12 264.38V266.88M161.12 306.82V309.32M161.12 311.81V314.31M161.12 326.79V329.29M161.12 331.79V334.28M161.12 356.75V359.25M162.37 194.48V196.98M162.37 199.47V201.97M162.37 204.47V206.96M162.37 219.45V224.44M162.37 264.38V266.88M162.37 269.38V271.87M162.37 331.79V334.28M162.37 359.25V361.74M162.37 364.24V366.74M163.63 194.48V196.98M163.63 214.45V216.95M163.63 261.89V264.38M163.63 269.38V271.87M163.63 284.35V286.85M163.63 289.35V291.84M163.63 296.84V301.83M163.63 344.27V346.76M163.63 349.26V351.76M163.63 361.74V364.24M163.63 376.72V379.22M163.63 381.71V384.21M164.88 189.49V196.98M164.88 261.89V264.38M164.88 344.27V346.76M164.88 371.73V374.23M164.88 384.21V386.71M166.14 194.48V196.98M166.14 201.97V204.47M166.14 209.46V211.96M166.14 239.42V241.91M166.14 271.87V274.37M166.14 321.80V324.30M166.14 336.78V339.27M166.14 379.22V384.21M167.40 196.98V201.97M167.40 214.45V216.95M167.40 299.33V301.83M167.40 316.81V319.30M167.40 334.28V336.78M167.40 381.71V384.21M168.65 264.38V266.88M168.65 274.37V276.86M168.65 281.86V284.35M168.65 289.35V291.84M168.65 344.27V346.76M169.91 184.50V186.99M169.91 189.49V194.48M169.91 201.97V204.47M169.91 274.37V276.86M169.91 284.35V289.35M169.91 369.23V371.73M169.91 376.72V379.22M169.91 381.71V384.21M171.16 194.48V196.98M171.16 204.47V206.96M171.16 214.45V216.95M171.16 266.88V269.38M171.16 271.87V276.86M171.16 291.84V294.34M171.16 299.33V301.83M171.16 344.27V346.76M171.16 354.25V359.25M171.16 361.74V364.24M171.16 381.71V384.21M171.16 389.20V391.70M172.42 182.00V184.50M172.42 191.99V196.98M172.42 199.47V201.97M172.42 251.90V254.40M172.42 291.84V294.34M172.42 351.76V354.25M172.42 371.73V374.23M172.42 376.72V381.71M173.68 184.50V186.99M173.68 189.49V194.48M173.68 206.96V211.96M173.68 266.88V269.38M173.68 286.85V291.84M173.68 294.34V296.84M173.68 319.30V324.30M173.68 344.27V349.26M173.68 356.75V359.25M173.68 361.74V364.24M173.68 369.23V371.73M173.68 376.72V379.22M173.68 386.71V389.20M174.93 209.46V211.96M174.93 216.95V224.44M174.93 279.36V286.85M174.93 321.80V326.79M174.93 329.29V331.79M174.93 334.28V336.78M176.19 186.99V191.99M176.19 321.80V324.30M176.19 369.23V371.73M176.19 376.72V379.22M177.44 194.48V196.98M177.44 199.47V204.47M177.44 209.46V211.96M177.44 236.92V239.42M177.44 309.32V311.81M177.44 321.80V324.30M177.44 331.79V334.28M177.44 344.27V349.26M177.44 354.25V356.75M177.44 366.74V369.23M177.44 386.71V389.20M178.70 184.50V186.99M178.70 191.99V194.48M178.70 209.46V211.96M178.70 216.95V219.45M178.70 254.40V256.89M178.70 269.38V271.87M178.70 281.86V284.35M178.70 286.85V289.35M178.70 296.84V299.33M178.70 326.79V329.29M178.70 339.27V341.77M178.70 361.74V366.74M178.70 371.73V374.23M179.96 206.96V209.46M179.96 214.45V216.95M179.96 341.77V344.27M179.96 349.26V354.25M179.96 356.75V359.25M179.96 366.74V369.23M179.96 389.20V391.70M181.21 269.38V271.87M181.21 329.29V331.79M181.21 339.27V341.77M181.21 344.27V346.76M181.21 349.26V351.76M181.21 354.25V356.75M181.21 361.74V364.24M182.47 199.47V201.97M182.47 221.94V224.44M182.47 234.43V236.92M182.47 256.89V259.39M182.47 261.89V264.38M182.47 309.32V314.31M182.47 316.81V321.80M182.47 341.77V344.27M182.47 351.76V354.25M182.47 356.75V359.25M182.47 371.73V379.22M182.47 384.21V386.71M183.72 194.48V196.98M183.72 206.96V211.96M183.72 214.45V216.95M183.72 309.32V311.81M183.72 316.81V319.30M183.72 361.74V364.24M183.72 386.71V389.20M184.98 204.47V206.96M184.98 269.38V274.37M184.98 279.36V284.35M184.98 289.35V291.84M184.98 296.84V299.33M184.98 306.82V309.32M184.98 311.81V314.31M184.98 344.27V346.76M184.98 354.25V356.75M184.98 369.23V371.73M184.98 389.20V391.70M186.24 186.99V189.49M186.24 209.46V211.96M186.24 309.32V311.81M186.24 351.76V354.25M186.24 364.24V366.74M187.49 186.99V189.49M187.49 194.48V196.98M187.49 204.47V206.96M187.49 214.45V216.95M187.49 221.94V224.44M187.49 231.93V234.43M187.49 239.42V241.91M187.49 311.81V314.31M187.49 339.27V341.77M187.49 366.74V369.23M187.49 371.73V374.23M187.49 389.20V391.70M188.75 311.81V314.31M190.00 186.99V189.49M190.00 201.97V206.96M190.00 216.95V219.45M190.00 254.40V256.89M190.00 261.89V264.38M190.00 299.33V301.83M190.00 339.27V341.77M190.00 364.24V366.74M191.26 189.49V191.99M191.26 194.48V196.98M191.26 201.97V204.47M191.26 239.42V241.91M191.26 316.81V321.80M191.26 326.79V329.29M191.26 346.76V351.76M191.26 359.25V361.74M191.26 369.23V371.73M191.26 374.23V376.72M191.26 381.71V384.21M192.52 199.47V201.97M192.52 221.94V224.44M192.52 239.42V241.91M192.52 299.33V301.83M192.52 346.76V349.26M193.77 199.47V201.97M193.77 214.45V216.95M193.77 264.38V266.88M193.77 274.37V276.86M193.77 284.35V286.85M193.77 296.84V301.83M193.77 306.82V316.81M193.77 326.79V331.79M193.77 334.28V336.78M193.77 349.26V351.76M193.77 384.21V386.71M195.03 189.49V191.99M195.03 206.96V209.46M195.03 236.92V239.42M195.03 251.90V254.40M195.03 286.85V289.35M195.03 324.30V329.29M195.03 349.26V351.76M196.28 214.45V216.95M196.28 269.38V271.87M196.28 314.31V316.81M196.28 331.79V334.28M196.28 359.25V364.24M196.28 374.23V376.72M196.28 386.71V389.20M197.54 182.00V184.50M197.54 199.47V201.97M197.54 269.38V271.87M197.54 274.37V276.86M197.54 296.84V299.33M197.54 359.25V361.74M197.54 369.23V371.73M197.54 376.72V379.22M198.80 191.99V196.98M198.80 201.97V204.47M198.80 206.96V209.46M198.80 264.38V266.88M198.80 269.38V271.87M198.80 276.86V279.36M198.80 291.84V294.34M198.80 296.84V301.83M198.80 306.82V309.32M198.80 334.28V336.78M198.80 346.76V349.26M198.80 351.76V356.75M198.80 386.71V389.20M200.05 261.89V266.88M200.05 319.30V321.80M200.05 326.79V329.29M200.05 339.27V344.27M200.05 356.75V359.25M200.05 389.20V391.70M201.31 191.99V194.48M201.31 289.35V291.84M201.31 324.30V326.79M201.31 381.71V389.20M202.56 186.99V196.98M202.56 209.46V211.96M202.56 261.89V264.38M202.56 266.88V269.38M202.56 276.86V281.86M202.56 286.85V294.34M202.56 309.32V311.81M202.56 314.31V316.81M202.56 324.30V326.79M202.56 384.21V386.71M203.82 184.50V186.99M203.82 209.46V211.96M203.82 264.38V266.88M203.82 269.38V271.87M203.82 279.36V281.86M203.82 339.27V341.77M203.82 376.72V379.22M205.08 186.99V191.99M205.08 281.86V284.35M205.08 286.85V289.35M205.08 299.33V301.83M205.08 339.27V344.27M205.08 384.21V386.71M205.08 389.20V391.70M206.33 184.50V189.49M206.33 194.48V196.98M206.33 201.97V204.47M206.33 206.96V209.46M206.33 294.34V296.84M206.33 351.76V354.25M206.33 356.75V359.25M206.33 389.20V391.70M207.59 256.89V259.39M207.59 319.30V321.80M207.59 334.28V336.78M207.59 356.75V359.25M207.59 366.74V371.73M207.59 376.72V379.22M208.84 236.92V241.91M208.84 276.86V279.36M208.84 304.32V306.82M208.84 341.77V344.27M208.84 361.74V366.74M208.84 376.72V379.22M210.10 191.99V194.48M210.10 221.94V224.44M210.10 306.82V309.32M210.10 311.81V314.31M210.10 326.79V329.29M210.10 334.28V336.78M210.10 366.74V369.23M210.10 379.22V381.71M210.10 384.21V391.70M211.36 186.99V189.49M211.36 279.36V284.35M211.36 291.84V294.34M211.36 296.84V299.33M211.36 321.80V324.30M211.36 329.29V331.79M211.36 356.75V361.74M212.61 189.49V194.48M212.61 264.38V269.38M212.61 294.34V296.84M212.61 299.33V301.83M212.61 304.32V306.82M212.61 314.31V316.81M212.61 364.24V369.23M212.61 376.72V379.22M212.61 381.71V384.21M213.87 182.00V184.50M213.87 186.99V189.49M213.87 204.47V206.96M213.87 251.90V254.40M213.87 274.37V276.86M213.87 281.86V284.35M213.87 296.84V299.33M213.87 336.78V339.27M213.87 341.77V346.76M213.87 351.76V354.25M213.87 366.74V369.23M215.12 209.46V211.96M215.12 264.38V266.88M215.12 274.37V281.86M215.12 291.84V296.84M215.12 299.33V301.83M215.12 341.77V344.27M215.12 346.76V349.26M215.12 356.75V359.25M215.12 364.24V366.74M215.12 369.23V371.73M215.12 376.72V379.22M215.12 384.21V386.71M215.12 389.20V391.70M216.38 194.48V196.98M216.38 201.97V204.47M216.38 221.94V224.44M216.38 279.36V281.86M216.38 306.82V309.32M216.38 341.77V344.27M216.38 364.24V366.74M216.38 379.22V384.21M217.64 186.99V191.99M217.64 269.38V271.87M217.64 281.86V284.35M217.64 346.76V349.26M217.64 361.74V364.24M217.64 379.22V381.71M217.64 389.20V391.70M218.89 251.90V254.40M218.89 256.89V259.39M218.89 264.38V266.88M218.89 276.86V279.36M218.89 294.34V296.84M218.89 314.31V316.81M218.89 319.30V321.80M218.89 366.74V369.23M218.89 381.71V384.21M220.15 184.50V186.99M220.15 204.47V206.96M220.15 264.38V276.86M220.15 279.36V284.35M220.15 286.85V289.35M220.15 291.84V296.84M220.15 341.77V344.27M220.15 349.26V351.76M220.15 359.25V361.74M220.15 364.24V366.74M221.40 194.48V196.98M221.40 201.97V206.96M221.40 256.89V259.39M221.40 346.76V349.26M221.40 351.76V354.25M221.40 364.24V366.74M221.40 374.23V376.72M222.66 214.45V216.95M222.66 264.38V266.88M222.66 279.36V281.86M222.66 289.35V291.84M222.66 299.33V301.83M222.66 334.28V336.78M222.66 339.27V341.77M222.66 349.26V351.76M222.66 361.74V364.24M222.66 374.23V376.72M222.66 381.71V384.21M223.92 236.92V239.42M223.92 286.85V289.35M223.92 299.33V301.83M223.92 306.82V309.32M223.92 319.30V321.80M223.92 356.75V359.25M223.92 361.74V364.24M223.92 371.73V374.23M223.92 381.71V386.71M225.17 211.96V214.45M225.17 221.94V224.44M225.17 251.90V254.40M225.17 286.85V289.35M225.17 291.84V296.84M225.17 299.33V301.83M225.17 341.77V344.27M225.17 346.76V351.76M225.17 361.74V364.24M225.17 381.71V384.21M225.17 386.71V389.20M226.43 186.99V189.49M226.43 201.97V204.47M226.43 214.45V216.95M226.43 266.88V269.38M226.43 271.87V274.37M226.43 276.86V279.36M226.43 286.85V289.35M226.43 291.84V294.34M226.43 321.80V324.30M226.43 329.29V331.79M226.43 334.28V339.27M226.43 369.23V374.23M226.43 376.72V379.22M226.43 384.21V386.71M227.68 182.00V184.50M227.68 191.99V194.48M227.68 199.47V201.97M227.68 214.45V216.95M227.68 271.87V274.37M227.68 276.86V279.36M227.68 286.85V291.84M227.68 316.81V319.30M227.68 334.28V336.78M227.68 384.21V386.71M228.94 194.48V196.98M228.94 204.47V206.96M228.94 339.27V341.77M228.94 369.23V371.73M230.20 264.38V266.88M230.20 269.38V271.87M230.20 289.35V294.34M230.20 341.77V344.27M230.20 354.25V356.75M230.20 364.24V366.74M230.20 369.23V371.73M230.20 374.23V379.22M230.20 386.71V389.20M231.45 219.45V224.44M231.45 339.27V341.77M231.45 351.76V354.25M231.45 364.24V366.74M231.45 374.23V376.72M232.71 191.99V194.48M232.71 239.42V241.91M232.71 251.90V254.40M232.71 264.38V266.88M232.71 316.81V319.30M232.71 381.71V384.21M233.96 191.99V194.48M233.96 201.97V204.47M233.96 266.88V269.38M233.96 324.30V326.79M233.96 379.22V381.71M235.22 191.99V194.48M235.22 349.26V351.76M235.22 361.74V364.24M235.22 374.23V376.72M236.48 186.99V189.49M236.48 199.47V204.47M236.48 266.88V269.38M236.48 274.37V276.86M236.48 279.36V284.35M236.48 299.33V301.83M236.48 331.79V334.28M236.48 359.25V361.74M236.48 379.22V381.71M237.73 182.00V184.50M237.73 186.99V189.49M237.73 191.99V194.48M237.73 204.47V206.96M237.73 211.96V214.45M237.73 306.82V309.32M237.73 314.31V319.30M237.73 354.25V359.25M237.73 361.74V364.24M237.73 379.22V381.71M238.99 194.48V196.98M238.99 201.97V204.47M238.99 221.94V224.44M238.99 251.90V254.40M238.99 259.39V264.38M238.99 311.81V314.31M238.99 361.74V364.24M240.24 204.47V206.96M240.24 209.46V211.96M240.24 299.33V301.83M240.24 306.82V311.81M240.24 314.31V316.81M240.24 334.28V336.78M240.24 361.74V364.24M240.24 374.23V376.72M240.24 381.71V384.21M240.24 386.71V389.20M241.50 219.45V221.94M241.50 286.85V289.35M241.50 311.81V314.31M241.50 324.30V326.79M241.50 329.29V331.79M241.50 349.26V351.76M241.50 369.23V371.73M241.50 374.23V376.72M241.50 386.71V391.70M242.76 182.00V184.50M242.76 189.49V194.48M242.76 201.97V206.96M242.76 209.46V211.96M242.76 239.42V241.91M242.76 274.37V276.86M242.76 349.26V351.76M244.01 191.99V194.48M244.01 199.47V201.97M244.01 251.90V254.40M244.01 264.38V266.88M244.01 269.38V271.87M244.01 274.37V276.86M244.01 279.36V281.86M244.01 296.84V299.33M244.01 309.32V311.81M244.01 324.30V326.79M244.01 329.29V331.79M244.01 341.77V344.27M245.27 194.48V196.98M245.27 201.97V204.47M245.27 209.46V211.96M245.27 256.89V259.39M245.27 306.82V309.32M245.27 316.81V319.30M245.27 324.30V326.79M245.27 346.76V349.26M245.27 361.74V366.74M246.52 191.99V194.48M246.52 199.47V201.97M246.52 211.96V214.45M246.52 221.94V224.44M246.52 256.89V259.39M246.52 264.38V266.88M246.52 274.37V276.86M246.52 289.35V291.84M246.52 351.76V354.25M246.52 366.74V369.23M247.78 204.47V206.96M247.78 221.94V224.44M247.78 291.84V294.34M247.78 304.32V306.82M247.78 329.29V331.79M247.78 354.25V356.75M247.78 374.23V376.72M249.04 182.00V184.50M249.04 189.49V191.99M249.04 201.97V204.47M249.04 221.94V224.44M249.04 266.88V271.87M249.04 296.84V299.33M249.04 309.32V311.81M249.04 314.31V316.81M249.04 326.79V331.79M249.04 376.72V379.22M250.29 182.00V184.50M250.29 199.47V201.97M250.29 256.89V259.39M250.29 269.38V276.86M250.29 281.86V284.35M250.29 344.27V349.26M250.29 354.25V359.25M250.29 369.23V371.73M250.29 376.72V379.22M251.55 206.96V209.46M251.55 219.45V221.94M251.55 256.89V259.39M251.55 264.38V266.88M251.55 271.87V274.37M251.55 279.36V281.86M251.55 299.33V301.83M251.55 319.30V321.80M251.55 341.77V346.76M251.55 359.25V361.74M251.55 364.24V366.74M251.55 371.73V376.72M252.80 182.00V184.50M252.80 269.38V271.87M252.80 274.37V276.86M252.80 281.86V284.35M252.80 306.82V309.32M252.80 311.81V314.31M252.80 346.76V351.76M252.80 354.25V356.75M252.80 379.22V381.71M252.80 389.20V391.70M254.06 264.38V269.38M254.06 346.76V349.26M254.06 351.76V354.25M254.06 369.23V371.73M254.06 376.72V379.22M254.06 389.20V391.70M255.32 182.00V184.50M255.32 189.49V191.99M255.32 271.87V274.37M255.32 311.81V314.31M255.32 321.80V326.79M255.32 341.77V344.27M255.32 389.20V391.70M256.57 184.50V186.99M256.57 189.49V191.99M256.57 251.90V256.89M256.57 261.89V264.38M256.57 269.38V274.37M256.57 291.84V296.84M256.57 354.25V356.75M256.57 374.23V376.72"/>
<path stroke="#ff8080" stroke-width="1.306" d="M6.63 182.00V184.50M6.63 204.47V206.96M6.63 209.46V214.45M6.63 224.44V226.94M6.63 229.43V231.93M6.63 271.87V274.37M6.63 296.84V299.33M6.63 304.32V306.82M6.63 376.72V379.22M6.63 384.21V386.71M7.88 239.42V241.91M7.88 376.72V379.22M9.14 194.48V196.98M9.14 226.94V231.93M9.14 236.92V239.42M9.14 269.38V271.87M9.14 274.37V276.86M9.14 279.36V281.86M9.14 356.75V359.25M9.14 364.24V366.74M9.14 376.72V379.22M9.14 389.20V391.70M10.40 204.47V209.46M10.40 244.41V246.91M10.40 344.27V346.76M10.40 374.23V376.72M11.65 234.43V239.42M11.65 244.41V246.91M11.65 289.35V294.34M11.65 299.33V301.83M12.91 224.44V226.94M12.91 234.43V236.92M12.91 241.91V244.41M12.91 266.88V274.37M12.91 281.86V284.35M12.91 291.84V294.34M12.91 381.71V384.21M14.16 182.00V184.50M14.16 244.41V246.91M14.16 251.90V254.40M14.16 259.39V261.89M14.16 279.36V281.86M14.16 284.35V286.85M14.16 334.28V336.78M14.16 356.75V359.25M15.42 194.48V196.98M15.42 209.46V214.45M15.42 226.94V231.93M15.42 234.43V241.91M15.42 246.91V249.40M15.42 259.39V261.89M15.42 269.38V274.37M15.42 281.86V284.35M15.42 304.32V306.82M15.42 364.24V366.74M16.68 201.97V204.47M16.68 211.96V214.45M16.68 226.94V231.93M16.68 234.43V236.92M16.68 299.33V301.83M16.68 304.32V306.82M16.68 371.73V374.23M17.93 199.47V201.97M17.93 206.96V209.46M17.93 226.94V229.43M17.93 254.40V256.89M17.93 269.38V271.87M17.93 276.86V279.36M17.93 284.35V286.85M17.93 299.33V301.83M17.93 386.71V389.20M19.19 184.50V186.99M19.19 201.97V204.47M19.19 221.94V224.44M19.19 229.43V234.43M19.19 241.91V244.41M19.19 259.39V264.38M19.19 281.86V284.35M19.19 291.84V294.34M19.19 301.83V304.32M19.19 384.21V386.71M20.44 194.48V196.98M20.44 201.97V204.47M20.44 224.44V226.94M20.44 231.93V234.43M20.44 251.90V254.40M20.44 256.89V259.39M20.44 294.34V296.84M20.44 304.32V306.82M21.70 224.44V226.94M21.70 259.39V261.89M22.96 182.00V184.50M22.96 189.49V191.99M22.96 209.46V211.96M22.96 224.44V229.43M22.96 231.93V234.43M22.96 254.40V256.89M22.96 304.32V306.82M22.96 364.24V366.74M24.21 196.98V199.47M24.21 236.92V239.42M24.21 269.38V271.87M24.21 291.84V294.34M24.21 296.84V299.33M25.47 219.45V221.94M25.47 239.42V241.91M25.47 251.90V254.40M25.47 259.39V261.89M25.47 291.84V294.34M25.47 301.83V306.82M25.47 321.80V324.30M25.47 364.24V366.74M25.47 374.23V376.72M26.72 194.48V196.98M26.72 206.96V209.46M26.72 211.96V216.95M26.72 236.92V239.42M26.72 241.91V244.41M26.72 254.40V256.89M26.72 266.88V269.38M26.72 271.87V274.37M26.72 286.85V289.35M26.72 294.34V296.84M26.72 321.80V324.30M26.72 384.21V386.71M26.72 389.20V391.70M27.98 201.97V204.47M27.98 224.44V229.43M27.98 249.40V251.90M27.98 304.32V306.82M27.98 381.71V384.21M27.98 389.20V391.70M29.24 201.97V204.47M29.24 206.96V211.96M29.24 254.40V256.89M29.24 261.89V264.38M29.24 294.34V296.84M29.24 376.72V379.22M29.24 386.71V389.20M30.49 224.44V226.94M30.49 301.83V304.32M30.49 389.20V391.70M31.75 199.47V201.97M31.75 219.45V221.94M31.75 254.40V256.89M31.75 266.88V269.38M31.75 274.37V276.86M31.75 279.36V284.35M31.75 289.35V291.84M31.75 356.75V359.25M33.00 194.48V196.98M33.00 216.95V219.45M33.00 376.72V379.22M34.26 211.96V214.45M34.26 231.93V234.43M34.26 254.40V256.89M34.26 291.84V294.34M34.26 374.23V376.72M35.52 224.44V229.43M35.52 301.83V304.32M35.52 369.23V371.73M35.52 374.23V376.72M36.77 194.48V199.47M36.77 206.96V209.46M36.77 246.91V254.40M36.77 304.32V306.82M36.77 376.72V379.22M38.03 216.95V221.94M38.03 231.93V234.43M38.03 239.42V241.91M38.03 291.84V294.34M39.28 221.94V224.44M39.28 229.43V231.93M39.28 251.90V254.40M39.28 266.88V271.87M39.28 281.86V284.35M40.54 186.99V189.49M40.54 194.48V196.98M40.54 201.97V204.47M40.54 211.96V214.45M40.54 221.94V224.44M40.54 249.40V251.90M40.54 264.38V266.88M40.54 271.87V274.37M40.54 279.36V281.86M40.54 291.84V294.34M40.54 301.83V304.32M40.54 389.20V391.70M41.80 239.42V241.91M41.80 261.89V264.38M41.80 356.75V359.25M43.05 194.48V196.98M43.05 231.93V236.92M43.05 304.32V306.82M43.05 331.79V334.28M43.05 356.75V359.25M43.05 381.71V384.21M44.31 224.44V226.94M44.31 229.43V231.93M44.31 236.92V239.42M44.31 244.41V246.91M44.31 251.90V254.40M44.31 301.83V304.32M44.31 329.29V331.79M44.31 336.78V339.27M44.31 341.77V344.27M44.31 381.71V384.21M45.56 184.50V186.99M45.56 241.91V244.41M45.56 279.36V281.86M45.56 329.29V331.79M45.56 341.77V344.27M45.56 346.76V349.26M45.56 356.75V359.25M45.56 381.71V384.21M46.82 186.99V189.49M46.82 211.96V214.45M46.82 219.45V226.94M46.82 329.29V331.79M46.82 356.75V359.25M46.82 364.24V366.74M48.08 229.43V234.43M48.08 261.89V264.38M48.08 279.36V281.86M48.08 286.85V289.35M48.08 344.27V346.76M48.08 371.73V376.72M49.33 204.47V206.96M49.33 219.45V221.94M50.59 211.96V214.45M50.59 246.91V249.40M50.59 299.33V301.83M50.59 354.25V356.75M50.59 364.24V366.74M50.59 376.72V379.22M50.59 381.71V384.21M51.84 209.46V211.96M53.10 214.45V216.95M53.10 219.45V221.94M53.10 226.94V231.93M53.10 249.40V261.89M54.36 182.00V184.50M54.36 219.45V221.94M54.36 231.93V234.43M54.36 241.91V244.41M54.36 249.40V251.90M54.36 254.40V256.89M54.36 291.84V294.34M54.36 376.72V381.71M54.36 386.71V389.20M55.61 301.83V304.32M55.61 356.75V359.25M55.61 384.21V386.71M56.87 209.46V211.96M56.87 221.94V224.44M56.87 236.92V239.42M56.87 259.39V264.38M56.87 306.82V309.32M56.87 356.75V359.25M58.12 196.98V199.47M58.12 204.47V206.96M58.12 261.89V264.38M58.12 304.32V306.82M59.38 196.98V199.47M59.38 204.47V206.96M59.38 211.96V216.95M59.38 251.90V254.40M59.38 306.82V309.32M59.38 334.28V336.78M59.38 364.24V366.74M60.64 184.50V186.99M60.64 199.47V201.97M60.64 261.89V264.38M60.64 296.84V299.33M60.64 329.29V331.79M60.64 346.76V349.26M60.64 381.71V389.20M61.89 196.98V199.47M61.89 214.45V216.95M61.89 229.43V231.93M61.89 256.89V261.89M61.89 279.36V281.86M61.89 286.85V291.84M61.89 371.73V374.23M61.89 376.72V379.22M61.89 381.71V384.21M63.15 209.46V211.96M63.15 219.45V221.94M63.15 229.43V234.43M63.15 251.90V254.40M63.15 259.39V264.38M63.15 304.32V306.82M63.15 356.75V359.25M63.15 364.24V366.74M63.15 389.20V391.70M64.40 189.49V191.99M64.40 194.48V196.98M64.40 224.44V226.94M64.40 236.92V239.42M64.40 246.91V249.40M64.40 304.32V306.82M64.40 386.71V389.20M65.66 244.41V246.91M65.66 364.24V366.74M66.92 184.50V186.99M66.92 201.97V204.47M66.92 249.40V251.90M66.92 256.89V259.39M66.92 304.32V306.82M66.92 374.23V376.72M68.17 201.97V204.47M68.17 236.92V239.42M68.17 246.91V249.40M68.17 256.89V259.39M68.17 291.84V294.34M68.17 356.75V359.25M69.43 231.93V234.43M69.43 249.40V251.90M69.43 254.40V256.89M69.43 356.75V359.25M70.68 226.94V229.43M70.68 249.40V251.90M70.68 261.89V264.38M70.68 304.32V306.82M70.68 384.21V386.71M71.94 194.48V196.98M71.94 214.45V216.95M71.94 231.93V234.43M71.94 236.92V239.42M71.94 249.40V251.90M71.94 259.39V261.89M71.94 331.79V334.28M71.94 349.26V356.75M73.20 221.94V224.44M73.20 231.93V234.43M73.20 241.91V244.41M74.45 194.48V196.98M74.45 199.47V201.97M74.45 231.93V236.92M74.45 371.73V374.23M74.45 389.20V391.70M75.71 194.48V196.98M75.71 204.47V206.96M75.71 219.45V224.44M75.71 261.89V264.38M75.71 289.35V291.84M75.71 364.24V366.74M76.96 201.97V204.47M76.96 206.96V209.46M76.96 229.43V234.43M76.96 236.92V239.42M76.96 241.91V246.91M76.96 296.84V299.33M76.96 304.32V306.82M76.96 376.72V379.22M78.22 199.47V201.97M78.22 204.47V209.46M78.22 234.43V241.91M78.22 299.33V301.83M78.22 364.24V366.74M78.22 374.23V376.72M79.48 182.00V184.50M79.48 186.99V189.49M79.48 214.45V219.45M79.48 234.43V236.92M79.48 249.40V251.90M79.48 304.32V306.82M80.73 224.44V231.93M80.73 234.43V236.92M80.73 384.21V386.71M81.99 206.96V209.46M81.99 226.94V229.43M81.99 231.93V236.92M81.99 244.41V246.91M83.24 211.96V214.45M83.24 219.45V221.94M83.24 284.35V286.85M83.24 289.35V291.84M83.24 299.33V301.83M83.24 304.32V306.82M83.24 369.23V371.73M83.24 374.23V376.72M84.50 201.97V204.47M84.50 216.95V219.45M84.50 221.94V224.44M84.50 226.94V229.43M84.50 231.93V234.43M84.50 304.32V306.82M85.76 209.46V211.96M85.76 214.45V216.95M85.76 221.94V224.44M85.76 296.84V299.33M87.01 184.50V186.99M87.01 214.45V216.95M87.01 221.94V224.44M87.01 296.84V299.33M88.27 224.44V226.94M88.27 299.33V304.32M88.27 364.24V366.74M89.52 194.48V196.98M89.52 204.47V206.96M89.52 226.94V231.93M89.52 234.43V236.92M89.52 244.41V246.91M90.78 236.92V239.42M90.78 291.84V294.34M90.78 304.32V306.82M92.04 186.99V189.49M92.04 196.98V199.47M92.04 209.46V211.96M92.04 236.92V239.42M92.04 256.89V261.89M92.04 294.34V296.84M92.04 334.28V339.27M92.04 369.23V371.73M92.04 374.23V376.72M92.04 386.71V389.20M93.29 224.44V226.94M93.29 234.43V236.92M93.29 356.75V359.25M93.29 374.23V376.72M94.55 204.47V206.96M94.55 209.46V211.96M94.55 241.91V244.41M95.80 189.49V191.99M95.80 196.98V199.47M95.80 254.40V256.89M95.80 264.38V266.88M95.80 289.35V294.34M95.80 299.33V301.83M97.06 196.98V199.47M97.06 206.96V209.46M97.06 226.94V229.43M97.06 234.43V239.42M97.06 246.91V251.90M97.06 254.40V259.39M97.06 304.32V306.82M98.32 206.96V209.46M98.32 289.35V291.84M98.32 384.21V386.71M99.57 231.93V234.43M99.57 259.39V261.89M99.57 374.23V376.72M100.83 224.44V226.94M100.83 244.41V249.40M100.83 256.89V259.39M100.83 301.83V304.32M102.08 206.96V209.46M102.08 216.95V219.45M102.08 229.43V231.93M102.08 241.91V244.41M102.08 296.84V299.33M102.08 301.83V304.32M102.08 356.75V359.25M103.34 209.46V214.45M103.34 226.94V229.43M103.34 234.43V236.92M103.34 301.83V304.32M103.34 384.21V386.71M104.60 199.47V201.97M104.60 216.95V221.94M104.60 234.43V236.92M104.60 246.91V249.40M104.60 269.38V271.87M104.60 284.35V286.85M104.60 289.35V291.84M104.60 299.33V301.83M104.60 329.29V336.78M105.85 254.40V256.89M105.85 294.34V296.84M107.11 211.96V214.45M107.11 244.41V246.91M107.11 291.84V294.34M107.11 364.24V366.74M108.36 194.48V196.98M108.36 209.46V211.96M108.36 219.45V221.94M108.36 241.91V244.41M108.36 259.39V261.89M108.36 289.35V291.84M108.36 299.33V301.83M108.36 361.74V364.24M108.36 369.23V371.73M109.62 182.00V184.50M109.62 209.46V211.96M109.62 299.33V301.83M109.62 364.24V366.74M109.62 371.73V374.23M109.62 379.22V384.21M109.62 389.20V391.70M110.88 196.98V199.47M110.88 206.96V209.46M110.88 241.91V244.41M110.88 304.32V306.82M110.88 344.27V346.76M110.88 371.73V374.23M110.88 389.20V391.70M112.13 204.47V209.46M112.13 211.96V214.45M112.13 239.42V241.91M112.13 271.87V274.37M112.13 279.36V281.86M112.13 301.83V306.82M112.13 364.24V366.74M112.13 371.73V374.23M113.39 224.44V226.94M113.39 259.39V261.89M113.39 301.83V304.32M113.39 376.72V379.22M113.39 384.21V386.71M114.64 196.98V199.47M114.64 236.92V239.42M114.64 271.87V274.37M114.64 276.86V279.36M114.64 281.86V284.35M114.64 289.35V291.84M114.64 294.34V296.84M114.64 304.32V306.82M114.64 364.24V366.74M115.90 199.47V201.97M115.90 211.96V214.45M115.90 219.45V221.94M115.90 304.32V306.82M115.90 381.71V384.21M117.16 224.44V226.94M117.16 239.42V241.91M117.16 256.89V259.39M117.16 384.21V386.71M117.16 389.20V391.70M118.41 209.46V211.96M118.41 296.84V299.33M118.41 301.83V304.32M118.41 364.24V366.74M119.67 224.44V226.94M119.67 241.91V244.41M119.67 249.40V251.90M119.67 261.89V264.38M119.67 376.72V379.22M120.92 196.98V199.47M120.92 219.45V221.94M120.92 251.90V254.40M120.92 351.76V354.25M120.92 369.23V374.23M120.92 384.21V386.71M120.92 389.20V391.70M122.18 206.96V209.46M122.18 299.33V301.83M122.18 364.24V366.74M122.18 376.72V379.22M123.44 211.96V214.45M123.44 226.94V229.43M123.44 294.34V296.84M124.69 211.96V214.45M124.69 216.95V224.44M124.69 244.41V246.91M124.69 289.35V291.84M124.69 294.34V296.84M124.69 306.82V309.32M124.69 319.30V321.80M124.69 379.22V381.71M125.95 211.96V214.45M125.95 226.94V229.43M125.95 279.36V284.35M125.95 364.24V366.74M127.20 221.94V224.44M127.20 244.41V246.91M127.20 334.28V336.78M127.20 376.72V379.22M128.46 184.50V186.99M128.46 211.96V214.45M128.46 249.40V254.40M128.46 266.88V271.87M128.46 279.36V281.86M128.46 284.35V286.85M129.72 194.48V196.98M129.72 229.43V231.93M129.72 256.89V259.39M129.72 261.89V264.38M129.72 359.25V361.74M130.97 199.47V201.97M130.97 251.90V254.40M130.97 261.89V264.38M130.97 349.26V351.76M130.97 369.23V371.73M130.97 386.71V389.20M132.23 246.91V251.90M132.23 259.39V261.89M132.23 289.35V291.84M132.23 384.21V386.71M133.48 194.48V196.98M133.48 199.47V201.97M133.48 221.94V224.44M133.48 229.43V231.93M134.74 199.47V201.97M134.74 244.41V246.91M134.74 259.39V261.89M134.74 289.35V291.84M134.74 304.32V306.82M136.00 256.89V259.39M136.00 266.88V269.38M136.00 271.87V274.37M136.00 284.35V286.85M137.25 196.98V199.47M137.25 216.95V219.45M137.25 221.94V224.44M137.25 291.84V296.84M137.25 379.22V381.71M138.51 199.47V201.97M138.51 261.89V264.38M138.51 276.86V279.36M138.51 281.86V284.35M138.51 324.30V331.79M138.51 339.27V341.77M138.51 349.26V351.76M138.51 359.25V361.74M138.51 386.71V389.20M139.76 184.50V186.99M139.76 189.49V191.99M139.76 291.84V294.34M139.76 316.81V319.30M139.76 344.27V346.76M139.76 351.76V354.25M139.76 356.75V359.25M139.76 379.22V381.71M141.02 284.35V286.85M141.02 309.32V311.81M141.02 326.79V329.29M141.02 354.25V356.75M141.02 366.74V369.23M142.28 194.48V196.98M142.28 206.96V209.46M142.28 281.86V286.85M142.28 309.32V316.81M142.28 321.80V324.30M142.28 346.76V349.26M142.28 379.22V381.71M143.53 184.50V186.99M143.53 201.97V204.47M143.53 266.88V271.87M143.53 274.37V279.36M143.53 284.35V289.35M143.53 294.34V296.84M143.53 306.82V309.32M143.53 326.79V329.29M143.53 331.79V334.28M143.53 336.78V339.27M143.53 341.77V346.76M143.53 379.22V384.21M144.79 182.00V184.50M144.79 286.85V289.35M144.79 296.84V299.33M144.79 349.26V351.76M144.79 381.71V386.71M146.04 191.99V194.48M146.04 221.94V224.44M146.04 269.38V271.87M146.04 274.37V276.86M146.04 281.86V284.35M146.04 296.84V301.83M146.04 309.32V311.81M146.04 321.80V324.30M146.04 354.25V356.75M146.04 366.74V376.72M146.04 389.20V391.70M147.30 182.00V184.50M147.30 201.97V204.47M147.30 206.96V209.46M147.30 266.88V274.37M147.30 299.33V301.83M147.30 341.77V344.27M147.30 349.26V351.76M148.56 182.00V184.50M148.56 186.99V189.49M148.56 191.99V194.48M148.56 219.45V221.94M148.56 256.89V259.39M148.56 286.85V289.35M148.56 296.84V301.83M148.56 314.31V316.81M148.56 324.30V326.79M148.56 331.79V336.78M148.56 356.75V359.25M148.56 376.72V379.22M149.81 269.38V271.87M149.81 274.37V276.86M149.81 279.36V284.35M149.81 289.35V291.84M149.81 329.29V334.28M149.81 369.23V371.73M149.81 386.71V389.20M151.07 182.00V184.50M151.07 281.86V284.35M151.07 299.33V301.83M151.07 336.78V339.27M151.07 346.76V349.26M151.07 351.76V354.25M151.07 374.23V376.72M151.07 379.22V381.71M152.32 186.99V191.99M152.32 209.46V211.96M152.32 216.95V219.45M152.32 221.94V224.44M152.32 279.36V281.86M152.32 306.82V309.32M152.32 311.81V316.81M152.32 319.30V321.80M152.32 341.77V344.27M152.32 369.23V371.73M152.32 376.72V379.22M152.32 389.20V391.70M153.58 186.99V189.49M153.58 191.99V194.48M153.58 206.96V209.46M153.58 269.38V271.87M153.58 281.86V284.35M153.58 294.34V299.33M153.58 316.81V319.30M153.58 344.27V346.76M153.58 354.25V356.75M153.58 379.22V381.71M153.58 384.21V389.20M154.84 186.99V189.49M154.84 201.97V204.47M154.84 206.96V209.46M154.84 264.38V266.88M154.84 269.38V271.87M154.84 281.86V284.35M154.84 309.32V311.81M154.84 314.31V316.81M154.84 319.30V321.80M154.84 329.29V331.79M154.84 341.77V344.27M154.84 359.25V361.74M154.84 366.74V369.23M156.09 182.00V184.50M156.09 194.48V196.98M156.09 204.47V206.96M156.09 264.38V266.88M156.09 269.38V271.87M156.09 289.35V291.84M156.09 299.33V301.83M156.09 316.81V319.30M156.09 331.79V334.28M156.09 336.78V341.77M156.09 354.25V356.75M156.09 369.23V374.23M156.09 384.21V386.71M157.35 186.99V189.49M157.35 201.97V204.47M157.35 276.86V284.35M157.35 286.85V289.35M157.35 294.34V296.84M157.35 306.82V309.32M157.35 331.79V334.28M157.35 349.26V351.76M157.35 364.24V366.74M157.35 384.21V386.71M158.60 182.00V184.50M158.60 191.99V194.48M158.60 206.96V209.46M158.60 264.38V269.38M158.60 274.37V276.86M158.60 284.35V286.85M158.60 309.32V311.81M158.60 316.81V319.30M158.60 324.30V326.79M158.60 361.74V364.24M158.60 381.71V384.21M159.86 182.00V184.50M159.86 186.99V189.49M159.86 284.35V286.85M159.86 299.33V301.83M159.86 319.30V326.79M159.86 331.79V341.77M159.86 344.27V346.76M159.86 359.25V364.24M159.86 366.74V369.23M159.86 376.72V379.22M159.86 384.21V391.70M161.12 346.76V349.26M161.12 351.76V354.25M161.12 384.21V389.20M162.37 184.50V186.99M162.37 214.45V216.95M162.37 271.87V274.37M162.37 276.86V279.36M162.37 299.33V301.83M162.37 316.81V319.30M162.37 321.80V326.79M162.37 339.27V341.77M162.37 379.22V381.71M163.63 329.29V331.79M163.63 334.28V336.78M163.63 339.27V341.77M163.63 351.76V356.75M163.63 384.21V386.71M164.88 186.99V189.49M164.88 201.97V204.47M164.88 221.94V224.44M164.88 284.35V286.85M164.88 299.33V301.83M164.88 319.30V321.80M164.88 324.30V326.79M164.88 331.79V334.28M164.88 339.27V344.27M164.88 349.26V351.76M164.88 361.74V364.24M164.88 369.23V371.73M164.88 389.20V391.70M166.14 182.00V184.50M166.14 276.86V279.36M166.14 286.85V289.35M166.14 334.28V336.78M166.14 341.77V344.27M166.14 361.74V364.24M166.14 389.20V391.70M167.40 182.00V184.50M167.40 276.86V279.36M167.40 309.32V311.81M167.40 329.29V331.79M167.40 336.78V339.27M167.40 341.77V346.76M167.40 364.24V366.74M168.65 201.97V204.47M168.65 269.38V271.87M168.65 291.84V296.84M168.65 306.82V309.32M168.65 314.31V316.81M168.65 321.80V326.79M168.65 329.29V331.79M168.65 334.28V344.27M168.65 351.76V354.25M168.65 364.24V369.23M168.65 374.23V376.72M168.65 386.71V389.20M169.91 196.98V199.47M169.91 266.88V269.38M169.91 271.87V274.37M169.91 276.86V279.36M169.91 291.84V294.34M169.91 321.80V324.30M169.91 339.27V341.77M169.91 356.75V359.25M169.91 371.73V374.23M169.91 384.21V386.71M171.16 186.99V191.99M171.16 289.35V291.84M171.16 334.28V336.78M171.16 346.76V349.26M171.16 364.24V366.74M171.16 371.73V376.72M172.42 184.50V186.99M172.42 206.96V211.96M172.42 266.88V269.38M172.42 284.35V286.85M172.42 289.35V291.84M172.42 316.81V319.30M172.42 326.79V329.29M172.42 331.79V334.28M172.42 354.25V356.75M172.42 364.24V369.23M172.42 381.71V384.21M172.42 389.20V391.70M173.68 182.00V184.50M173.68 186.99V189.49M173.68 194.48V196.98M173.68 276.86V281.86M173.68 296.84V299.33M173.68 311.81V314.31M173.68 316.81V319.30M173.68 324.30V329.29M173.68 334.28V336.78M173.68 339.27V344.27M173.68 354.25V356.75M173.68 366.74V369.23M173.68 371.73V376.72M174.93 182.00V184.50M174.93 186.99V189.49M174.93 299.33V301.83M174.93 309.32V314.31M174.93 316.81V321.80M174.93 331.79V334.28M174.93 339.27V341.77M174.93 344.27V346.76M174.93 366.74V371.73M174.93 374.23V379.22M174.93 381.71V384.21M176.19 182.00V184.50M176.19 191.99V194.48M176.19 299.33V301.83M176.19 329.29V331.79M176.19 336.78V339.27M176.19 344.27V346.76M176.19 356.75V359.25M176.19 371.73V374.23M177.44 191.99V194.48M177.44 204.47V206.96M177.44 299.33V301.83M177.44 341.77V344.27M177.44 356.75V359.25M177.44 361.74V364.24M178.70 201.97V204.47M178.70 271.87V274.37M178.70 276.86V279.36M178.70 291.84V294.34M178.70 299.33V301.83M178.70 314.31V316.81M178.70 319.30V321.80M178.70 324.30V326.79M178.70 344.27V346.76M178.70 379.22V381.71M178.70 389.20V391.70M179.96 311.81V316.81M179.96 321.80V329.29M179.96 334.28V336.78M179.96 354.25V356.75M179.96 371.73V374.23M179.96 384.21V386.71M181.21 186.99V189.49M181.21 206.96V211.96M181.21 336.78V339.27M181.21 341.77V344.27M181.21 351.76V354.25M181.21 356.75V359.25M181.21 364.24V366.74M181.21 386.71V389.20M182.47 182.00V184.50M182.47 189.49V191.99M182.47 201.97V204.47M182.47 279.36V281.86M182.47 284.35V286.85M182.47 296.84V299.33M182.47 329.29V334.28M182.47 339.27V341.77M182.47 349.26V351.76M182.47 366.74V369.23M182.47 379.22V381.71M183.72 191.99V194.48M183.72 296.84V301.83M183.72 311.81V314.31M183.72 331.79V334.28M183.72 336.78V339.27M183.72 341.77V344.27M183.72 369.23V374.23M183.72 379.22V381.71M183.72 389.20V391.70M184.98 182.00V184.50M184.98 191.99V194.48M184.98 209.46V211.96M184.98 221.94V224.44M184.98 244.41V246.91M184.98 274.37V276.86M184.98 286.85V289.35M184.98 291.84V294.34M184.98 299.33V301.83M184.98 309.32V311.81M184.98 321.80V324.30M184.98 331.79V334.28M184.98 336.78V344.27M184.98 349.26V351.76M184.98 356.75V359.25M184.98 361.74V364.24M184.98 366.74V369.23M186.24 184.50V186.99M186.24 191.99V194.48M186.24 339.27V344.27M186.24 346.76V349.26M186.24 371.73V374.23M186.24 381.71V384.21M186.24 389.20V391.70M187.49 269.38V271.87M187.49 276.86V279.36M187.49 306.82V311.81M187.49 314.31V316.81M187.49 329.29V331.79M187.49 334.28V336.78M187.49 346.76V349.26M187.49 361.74V364.24M187.49 369.23V371.73M187.49 374.23V376.72M187.49 381.71V386.71M188.75 186.99V189.49M188.75 201.97V206.96M188.75 266.88V269.38M188.75 279.36V281.86M188.75 299.33V301.83M188.75 306.82V311.81M188.75 314.31V316.81M188.75 331.79V336.78M188.75 339.27V341.77M188.75 344.27V346.76M188.75 361.74V364.24M188.75 376.72V389.20M190.00 184.50V186.99M190.00 199.47V201.97M190.00 281.86V284.35M190.00 309.32V314.31M190.00 326.79V331.79M190.00 336.78V339.27M190.00 344.27V346.76M190.00 349.26V351.76M190.00 374.23V376.72M190.00 384.21V386.71M191.26 184.50V186.99M191.26 299.33V301.83M191.26 306.82V309.32M191.26 324.30V326.79M191.26 331.79V334.28M191.26 336.78V339.27M191.26 344.27V346.76M191.26 351.76V359.25M191.26 366.74V369.23M191.26 371.73V374.23M192.52 184.50V186.99M192.52 191.99V194.48M192.52 264.38V266.88M192.52 274.37V276.86M192.52 279.36V281.86M192.52 291.84V294.34M192.52 344.27V346.76M192.52 351.76V354.25M192.52 356.75V361.74M193.77 189.49V196.98M193.77 204.47V206.96M193.77 266.88V269.38M193.77 271.87V274.37M193.77 291.84V294.34M193.77 339.27V341.77M193.77 359.25V361.74M193.77 376.72V379.22M193.77 386.71V389.20M195.03 266.88V271.87M195.03 274.37V276.86M195.03 279.36V281.86M195.03 291.84V296.84M195.03 299.33V301.83M195.03 311.81V314.31M195.03 316.81V319.30M195.03 329.29V331.79M195.03 334.28V336.78M195.03 351.76V354.25M196.28 189.49V191.99M196.28 204.47V206.96M196.28 274.37V276.86M196.28 279.36V284.35M196.28 296.84V301.83M196.28 311.81V314.31M196.28 316.81V321.80M196.28 344.27V346.76M196.28 349.26V351.76M196.28 364.24V369.23M196.28 379.22V381.71M196.28 384.21V386.71M196.28 389.20V391.70M197.54 186.99V189.49M197.54 201.97V206.96M197.54 271.87V274.37M197.54 299.33V301.83M197.54 339.27V344.27M197.54 351.76V354.25M197.54 356.75V359.25M197.54 361.74V366.74M197.54 379.22V381.71M198.80 189.49V191.99M198.80 281.86V284.35M198.80 294.34V296.84M198.80 314.31V316.81M198.80 324.30V326.79M198.80 356.75V359.25M198.80 361.74V371.73M198.80 374.23V376.72M200.05 189.49V191.99M200.05 194.48V196.98M200.05 236.92V239.42M200.05 266.88V269.38M200.05 284.35V286.85M200.05 299.33V301.83M200.05 316.81V319.30M200.05 369.23V371.73M200.05 376.72V379.22M200.05 384.21V386.71M201.31 194.48V196.98M201.31 286.85V289.35M201.31 299.33V301.83M201.31 339.27V341.77M201.31 351.76V354.25M201.31 356.75V359.25M201.31 361.74V364.24M201.31 369.23V371.73M201.31 379.22V381.71M202.56 269.38V271.87M202.56 294.34V296.84M202.56 306.82V309.32M202.56 319.30V324.30M202.56 326.79V329.29M202.56 331.79V339.27M202.56 359.25V361.74M202.56 364.24V366.74M202.56 369.23V374.23M202.56 379.22V381.71M203.82 186.99V189.49M203.82 266.88V269.38M203.82 271.87V274.37M203.82 276.86V279.36M203.82 281.86V286.85M203.82 296.84V299.33M203.82 341.77V344.27M203.82 359.25V361.74M203.82 364.24V366.74M203.82 381.71V384.21M205.08 184.50V186.99M205.08 206.96V209.46M205.08 266.88V271.87M205.08 291.84V294.34M205.08 296.84V299.33M205.08 309.32V311.81M205.08 349.26V351.76M205.08 371.73V374.23M206.33 182.00V184.50M206.33 189.49V194.48M206.33 204.47V206.96M206.33 269.38V271.87M206.33 316.81V319.30M206.33 324.30V326.79M206.33 339.27V344.27M206.33 349.26V351.76M206.33 354.25V356.75M206.33 366.74V369.23M206.33 381.71V384.21M206.33 386.71V389.20M207.59 186.99V189.49M207.59 299.33V301.83M207.59 324.30V326.79M207.59 331.79V334.28M207.59 336.78V339.27M207.59 341.77V346.76M207.59 349.26V351.76M207.59 359.25V361.74M207.59 371.73V374.23M207.59 379.22V381.71M208.84 184.50V186.99M208.84 204.47V206.96M208.84 281.86V286.85M208.84 296.84V301.83M208.84 324.30V326.79M208.84 334.28V336.78M208.84 339.27V341.77M208.84 346.76V349.26M208.84 351.76V354.25M208.84 356.75V359.25M208.84 369.23V371.73M208.84 374.23V376.72M208.84 379.22V384.21M208.84 386.71V389.20M210.10 182.00V189.49M210.10 274.37V276.86M210.10 279.36V281.86M210.10 296.84V301.83M210.10 331.79V334.28M210.10 336.78V339.27M210.10 356.75V359.25M210.10 381.71V384.21M211.36 184.50V186.99M211.36 189.49V191.99M211.36 269.38V271.87M211.36 276.86V279.36M211.36 286.85V289.35M211.36 294.34V296.84M211.36 306.82V309.32M211.36 324.30V326.79M211.36 331.79V334.28M211.36 349.26V356.75M211.36 371.73V374.23M212.61 182.00V184.50M212.61 291.84V294.34M212.61 306.82V314.31M212.61 319.30V329.29M212.61 334.28V341.77M212.61 361.74V364.24M212.61 369.23V371.73M212.61 389.20V391.70M213.87 184.50V186.99M213.87 209.46V211.96M213.87 269.38V271.87M213.87 284.35V286.85M213.87 294.34V296.84M213.87 306.82V309.32M213.87 319.30V321.80M213.87 356.75V361.74M213.87 369.23V371.73M213.87 381.71V384.21M213.87 386.71V391.70M215.12 194.48V196.98M215.12 206.96V209.46M215.12 271.87V274.37M215.12 286.85V289.35M215.12 339.27V341.77M215.12 379.22V381.71M215.12 386.71V389.20M216.38 182.00V184.50M216.38 191.99V194.48M216.38 299.33V301.83M216.38 316.81V319.30M216.38 339.27V341.77M216.38 349.26V351.76M216.38 361.74V364.24M216.38 386.71V389.20M217.64 201.97V204.47M217.64 334.28V336.78M217.64 341.77V344.27M218.89 182.00V184.50M218.89 186.99V189.49M218.89 191.99V194.48M218.89 196.98V199.47M218.89 286.85V289.35M218.89 331.79V334.28M218.89 344.27V346.76M218.89 359.25V361.74M218.89 371.73V374.23M220.15 182.00V184.50M220.15 191.99V196.98M220.15 209.46V211.96M220.15 284.35V286.85M220.15 289.35V291.84M220.15 296.84V301.83M220.15 316.81V319.30M220.15 346.76V349.26M220.15 351.76V356.75M220.15 386.71V389.20M221.40 189.49V194.48M221.40 309.32V314.31M221.40 339.27V344.27M221.40 354.25V359.25M221.40 366.74V369.23M221.40 371.73V374.23M221.40 379.22V381.71M221.40 384.21V386.71M222.66 189.49V191.99M222.66 274.37V276.86M222.66 311.81V314.31M222.66 316.81V319.30M222.66 356.75V359.25M222.66 384.21V386.71M223.92 182.00V184.50M223.92 191.99V194.48M223.92 209.46V211.96M223.92 269.38V271.87M223.92 274.37V276.86M223.92 281.86V286.85M223.92 296.84V299.33M223.92 309.32V311.81M223.92 316.81V319.30M223.92 326.79V331.79M223.92 339.27V341.77M223.92 344.27V349.26M223.92 359.25V361.74M223.92 364.24V366.74M223.92 369.23V371.73M223.92 389.20V391.70M225.17 182.00V184.50M225.17 189.49V194.48M225.17 266.88V276.86M225.17 289.35V291.84M225.17 306.82V314.31M225.17 316.81V319.30M225.17 329.29V331.79M225.17 351.76V354.25M225.17 359.25V361.74M225.17 371.73V376.72M226.43 182.00V186.99M226.43 199.47V201.97M226.43 224.44V226.94M226.43 311.81V316.81M226.43 326.79V329.29M226.43 331.79V334.28M226.43 349.26V351.76M226.43 389.20V391.70M227.68 189.49V191.99M227.68 209.46V211.96M227.68 274.37V276.86M227.68 281.86V286.85M227.68 291.84V296.84M227.68 299.33V301.83M227.68 351.76V354.25M227.68 361.74V364.24M227.68 369.23V371.73M227.68 379.22V381.71M228.94 186.99V191.99M228.94 201.97V204.47M228.94 269.38V271.87M228.94 274.37V276.86M228.94 279.36V281.86M228.94 284.35V286.85M228.94 299.33V301.83M228.94 341.77V349.26M228.94 351.76V354.25M228.94 371.73V374.23M230.20 182.00V184.50M230.20 189.49V191.99M230.20 266.88V269.38M230.20 279.36V281.86M230.20 296.84V301.83M230.20 339.27V341.77M230.20 349.26V354.25M230.20 366.74V369.23M230.20 389.20V391.70M231.45 182.00V186.99M231.45 191.99V194.48M231.45 204.47V206.96M231.45 209.46V211.96M231.45 349.26V351.76M231.45 354.25V356.75M231.45 389.20V391.70M232.71 182.00V184.50M232.71 221.94V224.44M232.71 351.76V354.25M233.96 189.49V191.99M233.96 204.47V209.46M233.96 306.82V309.32M233.96 311.81V314.31M233.96 346.76V349.26M233.96 359.25V361.74M233.96 366.74V371.73M233.96 381.71V384.21M235.22 201.97V204.47M235.22 254.40V256.89M235.22 269.38V271.87M235.22 289.35V291.84M235.22 299.33V301.83M235.22 339.27V344.27M235.22 364.24V366.74M235.22 376.72V381.71M235.22 384.21V386.71M236.48 189.49V191.99M236.48 269.38V274.37M236.48 296.84V299.33M236.48 306.82V314.31M236.48 319.30V321.80M236.48 326.79V331.79M236.48 334.28V336.78M236.48 344.27V346.76M237.73 184.50V186.99M237.73 201.97V204.47M237.73 264.38V266.88M237.73 286.85V289.35M237.73 296.84V299.33M237.73 309.32V311.81M237.73 321.80V326.79M237.73 329.29V331.79M237.73 334.28V336.78M237.73 344.27V346.76M237.73 351.76V354.25M237.73 369.23V374.23M238.99 182.00V184.50M238.99 189.49V194.48M238.99 199.47V201.97M238.99 254.40V256.89M238.99 284.35V286.85M238.99 319.30V321.80M238.99 334.28V336.78M238.99 351.76V354.25M238.99 369.23V371.73M238.99 374.23V379.22M240.24 184.50V186.99M240.24 264.38V266.88M240.24 324.30V326.79M240.24 329.29V331.79M240.24 344.27V346.76M240.24 389.20V391.70M241.50 194.48V196.98M241.50 216.95V219.45M241.50 221.94V224.44M241.50 284.35V286.85M241.50 309.32V311.81M241.50 319.30V321.80M241.50 344.27V349.26M241.50 356.75V359.25M242.76 184.50V186.99M242.76 199.47V201.97M242.76 276.86V279.36M242.76 294.34V296.84M242.76 324.30V326.79M242.76 334.28V336.78M242.76 341.77V346.76M242.76 359.25V364.24M242.76 384.21V386.71M244.01 184.50V189.49M244.01 266.88V269.38M244.01 276.86V279.36M244.01 294.34V296.84M244.01 319.30V321.80M244.01 334.28V336.78M244.01 364.24V366.74M244.01 389.20V391.70M245.27 182.00V184.50M245.27 186.99V189.49M245.27 299.33V301.83M245.27 311.81V314.31M245.27 319.30V321.80M245.27 326.79V329.29M245.27 331.79V334.28M245.27 339.27V341.77M245.27 344.27V346.76M245.27 349.26V351.76M245.27 376.72V379.22M245.27 384.21V386.71M246.52 182.00V184.50M246.52 186.99V189.49M246.52 201.97V204.47M246.52 209.46V211.96M246.52 269.38V271.87M246.52 276.86V279.36M246.52 291.84V294.34M246.52 296.84V299.33M246.52 309.32V311.81M246.52 341.77V346.76M246.52 359.25V364.24M246.52 371.73V374.23M247.78 182.00V184.50M247.78 186.99V189.49M247.78 199.47V204.47M247.78 266.88V269.38M247.78 274.37V276.86M247.78 296.84V299.33M247.78 314.31V316.81M247.78 336.78V341.77M247.78 356.75V359.25M247.78 369.23V371.73M247.78 379.22V381.71M247.78 384.21V386.71M249.04 191.99V194.48M249.04 204.47V206.96M249.04 274.37V276.86M249.04 306.82V309.32M249.04 311.81V314.31M249.04 319.30V326.79M249.04 331.79V334.28M249.04 359.25V366.74M249.04 369.23V374.23M249.04 384.21V386.71M250.29 186.99V189.49M250.29 191.99V194.48M250.29 266.88V269.38M250.29 276.86V281.86M250.29 289.35V291.84M250.29 294.34V296.84M250.29 316.81V319.30M250.29 329.29V331.79M250.29 361.74V364.24M250.29 374.23V376.72M250.29 384.21V386.71M250.29 389.20V391.70M251.55 189.49V191.99M251.55 274.37V276.86M251.55 281.86V284.35M251.55 291.84V294.34M251.55 296.84V299.33M251.55 331.79V334.28M251.55 336.78V341.77M251.55 379.22V381.71M251.55 386.71V389.20M252.80 186.99V189.49M252.80 191.99V194.48M252.80 199.47V201.97M252.80 271.87V274.37M252.80 276.86V279.36M252.80 284.35V286.85M252.80 294.34V301.83M252.80 314.31V316.81M252.80 321.80V326.79M252.80 329.29V331.79M252.80 334.28V339.27M252.80 351.76V354.25M252.80 359.25V361.74M252.80 366.74V369.23M252.80 371.73V374.23M254.06 281.86V284.35M254.06 286.85V289.35M254.06 291.84V294.34M254.06 299.33V301.83M254.06 306.82V309.32M254.06 324.30V326.79M254.06 331.79V334.28M254.06 341.77V344.27M254.06 349.26V351.76M254.06 359.25V361.74M254.06 384.21V386.71M255.32 191.99V194.48M255.32 201.97V204.47M255.32 221.94V224.44M255.32 281.86V284.35M255.32 296.84V301.83M255.32 306.82V309.32M255.32 314.31V316.81M255.32 319.30V321.80M255.32 329.29V331.79M255.32 349.26V351.76M255.32 359.25V366.74M255.32 384.21V386.71M256.57 266.88V269.38M256.57 274.37V276.86M256.57 281.86V284.35M256.57 286.85V289.35M256.57 331.79V334.28M256.57 339.27V341.77M256.57 351.76V354.25M256.57 369.23V371.73M256.57 381.71V384.21"/>
<path stroke="#ff4040" stroke-width="1.306" d="M6.63 206.96V209.46M6.63 236.92V239.42M6.63 246.91V249.40M6.63 289.35V291.84M7.88 206.96V209.46M7.88 251.90V254.40M7.88 301.83V306.82M9.14 206.96V209.46M9.14 224.44V226.94M9.14 231.93V234.43M9.14 246.91V249.40M9.14 256.89V259.39M9.14 261.89V264.38M10.40 182.00V184.50M10.40 209.46V211.96M10.40 216.95V219.45M10.40 229.43V234.43M10.40 254.40V256.89M10.40 264.38V266.88M10.40 284.35V286.85M10.40 301.83V304.32M10.40 329.29V331.79M10.40 339.27V341.77M11.65 221.94V231.93M11.65 259.39V261.89M12.91 194.48V196.98M12.91 216.95V219.45M12.91 221.94V224.44M12.91 229.43V234.43M12.91 239.42V241.91M12.91 251.90V254.40M12.91 299.33V301.83M14.16 199.47V201.97M14.16 209.46V211.96M14.16 224.44V229.43M14.16 231.93V234.43M14.16 241.91V244.41M14.16 304.32V306.82M14.16 329.29V331.79M14.16 369.23V371.73M15.42 221.94V226.94M15.42 249.40V251.90M15.42 299.33V304.32M16.68 194.48V199.47M16.68 221.94V224.44M16.68 256.89V259.39M16.68 369.23V371.73M17.93 196.98V199.47M17.93 201.97V204.47M17.93 219.45V224.44M17.93 234.43V239.42M17.93 241.91V246.91M17.93 389.20V391.70M19.19 189.49V191.99M19.19 224.44V226.94M19.19 249.40V251.90M19.19 304.32V306.82M20.44 229.43V231.93M20.44 236.92V239.42M20.44 249.40V251.90M20.44 276.86V279.36M20.44 289.35V291.84M20.44 301.83V304.32M21.70 201.97V204.47M21.70 211.96V214.45M21.70 219.45V221.94M21.70 229.43V231.93M21.70 234.43V241.91M22.96 194.48V196.98M22.96 199.47V201.97M22.96 211.96V214.45M22.96 234.43V239.42M22.96 256.89V259.39M24.21 209.46V211.96M24.21 214.45V216.95M24.21 221.94V224.44M24.21 231.93V234.43M24.21 251.90V254.40M24.21 261.89V264.38M24.21 276.86V281.86M24.21 299.33V301.83M25.47 234.43V236.92M26.72 259.39V261.89M26.72 269.38V271.87M26.72 281.86V284.35M26.72 291.84V294.34M26.72 301.83V306.82M27.98 234.43V236.92M27.98 239.42V241.91M27.98 256.89V259.39M27.98 261.89V264.38M27.98 299.33V301.83M27.98 369.23V371.73M27.98 376.72V379.22M29.24 216.95V219.45M29.24 221.94V224.44M29.24 226.94V229.43M29.24 234.43V236.92M29.24 289.35V291.84M30.49 214.45V216.95M30.49 226.94V229.43M30.49 236.92V239.42M30.49 254.40V256.89M30.49 289.35V291.84M30.49 299.33V301.83M31.75 221.94V224.44M31.75 226.94V231.93M31.75 244.41V246.91M31.75 259.39V264.38M31.75 299.33V301.83M31.75 304.32V306.82M31.75 374.23V376.72M33.00 211.96V214.45M33.00 221.94V224.44M33.00 229.43V234.43M33.00 249.40V251.90M34.26 209.46V211.96M34.26 226.94V229.43M34.26 241.91V246.91M34.26 259.39V261.89M34.26 299.33V301.83M35.52 189.49V191.99M35.52 199.47V201.97M35.52 221.94V224.44M35.52 229.43V231.93M35.52 249.40V251.90M35.52 296.84V299.33M35.52 381.71V384.21M35.52 389.20V391.70M36.77 182.00V184.50M36.77 201.97V204.47M36.77 231.93V234.43M36.77 236.92V241.91M36.77 289.35V291.84M38.03 199.47V201.97M38.03 206.96V209.46M38.03 234.43V236.92M38.03 241.91V244.41M38.03 301.83V304.32M38.03 381.71V384.21M39.28 196.98V199.47M39.28 226.94V229.43M39.28 231.93V236.92M39.28 239.42V241.91M39.28 244.41V246.91M39.28 249.40V251.90M39.28 271.87V274.37M39.28 286.85V289.35M40.54 231.93V236.92M40.54 241.91V244.41M40.54 246.91V249.40M40.54 254.40V256.89M41.80 204.47V206.96M41.80 236.92V239.42M41.80 246.91V249.40M41.80 386.71V389.20M43.05 226.94V229.43M43.05 249.40V251.90M43.05 289.35V291.84M43.05 301.83V304.32M43.05 389.20V391.70M44.31 216.95V219.45M44.31 226.94V229.43M44.31 234.43V236.92M44.31 241.91V244.41M44.31 254.40V256.89M44.31 259.39V261.89M44.31 349.26V351.76M45.56 196.98V199.47M45.56 204.47V206.96M45.56 214.45V216.95M45.56 219.45V224.44M45.56 234.43V236.92M45.56 304.32V306.82M45.56 376.72V379.22M46.82 206.96V209.46M46.82 226.94V229.43M46.82 236.92V241.91M46.82 249.40V251.90M46.82 299.33V301.83M48.08 216.95V219.45M48.08 221.94V224.44M48.08 236.92V239.42M48.08 301.83V304.32M48.08 376.72V379.22M49.33 239.42V241.91M49.33 249.40V251.90M50.59 199.47V201.97M50.59 226.94V236.92M50.59 256.89V261.89M50.59 289.35V294.34M50.59 369.23V371.73M51.84 226.94V229.43M51.84 241.91V246.91M51.84 289.35V291.84M51.84 299.33V304.32M51.84 389.20V391.70M53.10 289.35V291.84M53.10 389.20V391.70M54.36 194.48V196.98M54.36 229.43V231.93M54.36 369.23V371.73M55.61 216.95V219.45M55.61 229.43V231.93M55.61 236.92V239.42M55.61 261.89V264.38M56.87 201.97V204.47M56.87 206.96V209.46M56.87 231.93V236.92M56.87 299.33V301.83M58.12 184.50V186.99M58.12 201.97V204.47M58.12 219.45V221.94M58.12 236.92V239.42M58.12 294.34V296.84M58.12 374.23V376.72M58.12 381.71V386.71M59.38 206.96V209.46M59.38 224.44V226.94M59.38 239.42V241.91M60.64 201.97V204.47M60.64 206.96V209.46M60.64 211.96V214.45M60.64 224.44V231.93M60.64 239.42V246.91M60.64 251.90V254.40M60.64 291.84V294.34M60.64 336.78V339.27M60.64 356.75V359.25M60.64 376.72V379.22M61.89 231.93V234.43M61.89 249.40V251.90M61.89 254.40V256.89M61.89 269.38V271.87M61.89 306.82V309.32M63.15 289.35V291.84M64.40 206.96V211.96M64.40 226.94V231.93M64.40 249.40V251.90M64.40 256.89V259.39M64.40 291.84V294.34M64.40 356.75V359.25M64.40 361.74V366.74M65.66 206.96V209.46M65.66 219.45V221.94M65.66 239.42V241.91M65.66 291.84V294.34M65.66 299.33V306.82M65.66 376.72V379.22M66.92 216.95V219.45M66.92 234.43V241.91M66.92 246.91V249.40M66.92 254.40V256.89M66.92 371.73V374.23M66.92 386.71V389.20M68.17 216.95V219.45M68.17 226.94V229.43M69.43 221.94V224.44M69.43 246.91V249.40M69.43 364.24V366.74M69.43 376.72V379.22M70.68 191.99V194.48M70.68 216.95V219.45M70.68 229.43V234.43M70.68 291.84V294.34M70.68 299.33V301.83M70.68 376.72V379.22M71.94 224.44V226.94M71.94 229.43V231.93M71.94 256.89V259.39M71.94 289.35V291.84M71.94 304.32V306.82M73.20 211.96V214.45M73.20 249.40V251.90M74.45 211.96V214.45M74.45 239.42V241.91M74.45 249.40V251.90M74.45 256.89V259.39M74.45 356.75V359.25M75.71 239.42V241.91M75.71 249.40V251.90M75.71 304.32V306.82M75.71 371.73V374.23M76.96 186.99V189.49M76.96 251.90V254.40M76.96 256.89V259.39M78.22 191.99V194.48M78.22 211.96V214.45M78.22 231.93V234.43M78.22 371.73V374.23M79.48 191.99V199.47M79.48 201.97V204.47M79.48 221.94V224.44M79.48 246.91V249.40M79.48 259.39V261.89M79.48 386.71V389.20M80.73 186.99V189.49M80.73 199.47V201.97M80.73 231.93V234.43M80.73 239.42V241.91M80.73 301.83V304.32M80.73 374.23V376.72M81.99 194.48V196.98M81.99 211.96V214.45M81.99 241.91V244.41M81.99 289.35V291.84M81.99 301.83V304.32M83.24 199.47V201.97M83.24 206.96V209.46M83.24 246.91V249.40M83.24 269.38V271.87M83.24 274.37V279.36M83.24 371.73V374.23M84.50 239.42V241.91M84.50 254.40V256.89M84.50 299.33V301.83M85.76 216.95V219.45M85.76 236.92V239.42M85.76 261.89V264.38M85.76 299.33V301.83M85.76 369.23V371.73M85.76 384.21V386.71M87.01 189.49V191.99M87.01 196.98V199.47M87.01 209.46V214.45M87.01 239.42V241.91M87.01 256.89V259.39M87.01 289.35V291.84M88.27 239.42V241.91M88.27 291.84V294.34M89.52 216.95V219.45M89.52 239.42V241.91M89.52 299.33V301.83M89.52 356.75V359.25M89.52 364.24V366.74M89.52 389.20V391.70M90.78 209.46V211.96M90.78 244.41V246.91M90.78 301.83V304.32M92.04 226.94V229.43M92.04 239.42V241.91M92.04 301.83V304.32M93.29 211.96V214.45M93.29 216.95V219.45M93.29 226.94V231.93M93.29 291.84V294.34M94.55 201.97V204.47M94.55 211.96V214.45M94.55 231.93V236.92M94.55 239.42V241.91M94.55 289.35V291.84M95.80 184.50V186.99M95.80 204.47V206.96M95.80 214.45V216.95M95.80 226.94V229.43M95.80 286.85V289.35M97.06 189.49V191.99M97.06 194.48V196.98M97.06 229.43V231.93M97.06 244.41V246.91M97.06 269.38V271.87M97.06 289.35V291.84M97.06 364.24V366.74M98.32 204.47V206.96M98.32 209.46V211.96M98.32 219.45V221.94M98.32 249.40V251.90M98.32 294.34V301.83M98.32 356.75V359.25M98.32 364.24V366.74M99.57 209.46V211.96M99.57 216.95V219.45M99.57 229.43V231.93M99.57 239.42V241.91M99.57 249.40V251.90M99.57 299.33V301.83M99.57 389.20V391.70M100.83 249.40V251.90M100.83 304.32V306.82M102.08 221.94V224.44M102.08 236.92V239.42M102.08 251.90V254.40M102.08 256.89V259.39M102.08 299.33V301.83M102.08 369.23V371.73M102.08 376.72V379.22M102.08 384.21V386.71M103.34 201.97V204.47M103.34 231.93V234.43M103.34 256.89V259.39M103.34 291.84V294.34M104.60 226.94V229.43M104.60 231.93V234.43M104.60 271.87V274.37M104.60 344.27V346.76M104.60 364.24V366.74M105.85 206.96V209.46M105.85 224.44V226.94M105.85 239.42V241.91M105.85 246.91V249.40M105.85 251.90V254.40M105.85 259.39V261.89M105.85 289.35V291.84M107.11 294.34V296.84M107.11 304.32V306.82M107.11 381.71V384.21M107.11 389.20V391.70M108.36 216.95V219.45M108.36 256.89V259.39M109.62 194.48V196.98M109.62 201.97V204.47M109.62 221.94V224.44M109.62 369.23V371.73M110.88 246.91V249.40M110.88 259.39V261.89M110.88 291.84V294.34M112.13 221.94V226.94M112.13 256.89V259.39M112.13 261.89V264.38M112.13 376.72V379.22M114.64 246.91V249.40M114.64 259.39V261.89M114.64 369.23V371.73M114.64 381.71V384.21M115.90 259.39V261.89M115.90 296.84V299.33M115.90 301.83V304.32M115.90 374.23V376.72M115.90 389.20V391.70M117.16 209.46V211.96M117.16 234.43V236.92M117.16 289.35V291.84M118.41 206.96V209.46M118.41 221.94V224.44M118.41 299.33V301.83M118.41 304.32V306.82M119.67 199.47V201.97M119.67 259.39V261.89M119.67 361.74V364.24M120.92 182.00V184.50M120.92 194.48V196.98M120.92 229.43V231.93M120.92 346.76V349.26M120.92 376.72V379.22M122.18 244.41V249.40M122.18 274.37V281.86M122.18 289.35V291.84M122.18 301.83V304.32M123.44 251.90V254.40M123.44 259.39V261.89M124.69 206.96V209.46M124.69 246.91V249.40M124.69 356.75V359.25M125.95 216.95V219.45M125.95 239.42V241.91M125.95 304.32V306.82M127.20 216.95V219.45M127.20 224.44V226.94M127.20 246.91V249.40M128.46 191.99V194.48M128.46 206.96V209.46M128.46 231.93V234.43M128.46 236.92V239.42M128.46 281.86V284.35M128.46 286.85V289.35M128.46 299.33V304.32M128.46 376.72V379.22M129.72 191.99V194.48M129.72 249.40V251.90M129.72 294.34V296.84M129.72 304.32V306.82M130.97 211.96V214.45M130.97 216.95V219.45M132.23 256.89V259.39M132.23 304.32V306.82M133.48 214.45V216.95M134.74 226.94V229.43M136.00 384.21V386.71M137.25 244.41V246.91M137.25 261.89V264.38M137.25 371.73V374.23M138.51 191.99V194.48M138.51 269.38V271.87M138.51 289.35V291.84M138.51 299.33V301.83M138.51 309.32V319.30M138.51 334.28V339.27M138.51 341.77V344.27M138.51 354.25V356.75M139.76 191.99V194.48M139.76 209.46V211.96M139.76 271.87V276.86M139.76 279.36V281.86M139.76 286.85V289.35M139.76 296.84V299.33M139.76 319.30V321.80M139.76 346.76V351.76M139.76 366.74V369.23M141.02 194.48V196.98M141.02 214.45V216.95M141.02 269.38V271.87M141.02 306.82V309.32M141.02 314.31V319.30M141.02 334.28V336.78M141.02 349.26V354.25M141.02 364.24V366.74M141.02 386.71V389.20M142.28 184.50V186.99M142.28 201.97V206.96M142.28 266.88V269.38M142.28 274.37V276.86M142.28 291.84V294.34M142.28 306.82V309.32M142.28 316.81V321.80M142.28 324.30V326.79M142.28 329.29V331.79M142.28 334.28V336.78M142.28 341.77V344.27M143.53 186.99V189.49M143.53 191.99V194.48M143.53 279.36V281.86M143.53 289.35V291.84M143.53 296.84V299.33M143.53 309.32V311.81M143.53 339.27V341.77M143.53 361.74V364.24M143.53 366.74V369.23M143.53 376.72V379.22M144.79 184.50V186.99M144.79 269.38V271.87M144.79 276.86V279.36M144.79 284.35V286.85M144.79 291.84V294.34M144.79 311.81V314.31M144.79 316.81V319.30M144.79 321.80V324.30M144.79 354.25V356.75M144.79 366.74V369.23M144.79 371.73V374.23M146.04 184.50V186.99M146.04 284.35V291.84M146.04 324.30V326.79M146.04 356.75V361.74M146.04 364.24V366.74M146.04 379.22V381.71M147.30 194.48V196.98M147.30 274.37V276.86M147.30 279.36V281.86M147.30 286.85V294.34M147.30 306.82V309.32M147.30 324.30V329.29M147.30 331.79V334.28M147.30 351.76V354.25M147.30 356.75V361.74M147.30 366.74V369.23M148.56 189.49V191.99M148.56 306.82V309.32M148.56 311.81V314.31M148.56 316.81V319.30M148.56 329.29V331.79M148.56 336.78V339.27M148.56 346.76V349.26M148.56 354.25V356.75M148.56 364.24V369.23M148.56 374.23V376.72M148.56 379.22V381.71M149.81 184.50V189.49M149.81 206.96V209.46M149.81 284.35V286.85M149.81 294.34V299.33M149.81 306.82V309.32M149.81 311.81V314.31M149.81 319.30V324.30M149.81 326.79V329.29M149.81 341.77V344.27M149.81 351.76V354.25M151.07 184.50V186.99M151.07 189.49V191.99M151.07 194.48V196.98M151.07 201.97V204.47M151.07 206.96V209.46M151.07 309.32V314.31M151.07 321.80V326.79M151.07 329.29V331.79M151.07 349.26V351.76M151.07 366.74V369.23M151.07 381.71V384.21M152.32 184.50V186.99M152.32 204.47V206.96M152.32 269.38V271.87M152.32 281.86V284.35M152.32 309.32V311.81M152.32 321.80V324.30M152.32 326.79V329.29M152.32 349.26V351.76M152.32 354.25V356.75M152.32 374.23V376.72M152.32 379.22V381.71M152.32 384.21V386.71M153.58 182.00V186.99M153.58 204.47V206.96M153.58 279.36V281.86M153.58 291.84V294.34M153.58 299.33V301.83M153.58 306.82V311.81M153.58 324.30V326.79M153.58 339.27V341.77M153.58 346.76V349.26M153.58 366.74V369.23M153.58 371.73V374.23M153.58 389.20V391.70M154.84 184.50V186.99M154.84 266.88V269.38M154.84 274.37V276.86M154.84 284.35V286.85M154.84 291.84V296.84M154.84 299.33V301.83M154.84 311.81V314.31M154.84 321.80V324.30M154.84 334.28V336.78M154.84 346.76V349.26M154.84 379.22V381.71M156.09 266.88V269.38M156.09 276.86V279.36M156.09 281.86V284.35M156.09 286.85V289.35M156.09 291.84V299.33M156.09 306.82V309.32M156.09 334.28V336.78M156.09 344.27V346.76M156.09 351.76V354.25M156.09 376.72V379.22M157.35 182.00V184.50M157.35 189.49V191.99M157.35 221.94V224.44M157.35 266.88V269.38M157.35 271.87V274.37M157.35 351.76V354.25M157.35 361.74V364.24M157.35 369.23V371.73M158.60 271.87V274.37M158.60 286.85V289.35M158.60 291.84V294.34M158.60 296.84V301.83M158.60 306.82V309.32M158.60 314.31V316.81M158.60 351.76V354.25M158.60 364.24V374.23M158.60 376.72V381.71M158.60 386.71V391.70M159.86 189.49V194.48M159.86 201.97V204.47M159.86 221.94V224.44M159.86 291.84V294.34M159.86 379.22V381.71M161.12 182.00V184.50M161.12 279.36V281.86M161.12 296.84V301.83M161.12 344.27V346.76M161.12 354.25V356.75M161.12 359.25V366.74M162.37 186.99V189.49M162.37 274.37V276.86M162.37 279.36V281.86M162.37 284.35V286.85M162.37 306.82V311.81M162.37 314.31V316.81M162.37 319.30V321.80M162.37 329.29V331.79M162.37 336.78V339.27M162.37 344.27V346.76M162.37 349.26V354.25M162.37 366.74V369.23M162.37 371.73V379.22M162.37 381.71V386.71M162.37 389.20V391.70M163.63 186.99V191.99M163.63 266.88V269.38M163.63 271.87V274.37M163.63 276.86V281.86M163.63 286.85V289.35M163.63 306.82V309.32M163.63 311.81V316.81M163.63 324.30V329.29M163.63 336.78V339.27M163.63 346.76V349.26M163.63 356.75V359.25M163.63 366.74V369.23M163.63 371.73V376.72M164.88 184.50V186.99M164.88 209.46V211.96M164.88 269.38V271.87M164.88 274.37V276.86M164.88 309.32V311.81M164.88 321.80V324.30M164.88 326.79V329.29M164.88 336.78V339.27M164.88 351.76V356.75M166.14 189.49V191.99M166.14 206.96V209.46M166.14 281.86V284.35M166.14 289.35V294.34M166.14 309.32V314.31M166.14 324.30V326.79M166.14 329.29V334.28M166.14 339.27V341.77M166.14 346.76V351.76M166.14 354.25V356.75M167.40 269.38V271.87M167.40 279.36V281.86M167.40 284.35V286.85M167.40 291.84V294.34M167.40 314.31V316.81M167.40 321.80V326.79M167.40 331.79V334.28M167.40 339.27V341.77M167.40 346.76V349.26M167.40 366.74V371.73M167.40 376.72V381.71M167.40 384.21V386.71M167.40 389.20V391.70M168.65 182.00V186.99M168.65 189.49V196.98M168.65 204.47V206.96M168.65 209.46V211.96M168.65 266.88V269.38M168.65 271.87V274.37M168.65 276.86V281.86M168.65 296.84V299.33M168.65 311.81V314.31M168.65 346.76V351.76M168.65 354.25V359.25M168.65 361.74V364.24M168.65 371.73V374.23M168.65 381.71V384.21M169.91 279.36V281.86M169.91 294.34V296.84M169.91 299.33V301.83M169.91 311.81V316.81M169.91 319.30V321.80M169.91 329.29V331.79M169.91 354.25V356.75M169.91 366.74V369.23M169.91 374.23V376.72M169.91 379.22V381.71M171.16 184.50V186.99M171.16 191.99V194.48M171.16 221.94V224.44M171.16 311.81V314.31M171.16 319.30V321.80M171.16 329.29V331.79M171.16 359.25V361.74M171.16 379.22V381.71M171.16 384.21V389.20M172.42 189.49V191.99M172.42 201.97V204.47M172.42 269.38V271.87M172.42 274.37V276.86M172.42 309.32V311.81M172.42 384.21V386.71M173.68 306.82V311.81M173.68 329.29V331.79M173.68 336.78V339.27M173.68 349.26V354.25M173.68 359.25V361.74M173.68 364.24V366.74M174.93 184.50V186.99M174.93 269.38V271.87M174.93 286.85V289.35M174.93 314.31V316.81M174.93 326.79V329.29M174.93 336.78V339.27M174.93 346.76V349.26M174.93 351.76V354.25M174.93 361.74V364.24M174.93 379.22V381.71M174.93 384.21V386.71M176.19 274.37V276.86M176.19 279.36V284.35M176.19 286.85V294.34M176.19 306.82V311.81M176.19 316.81V319.30M176.19 326.79V329.29M176.19 331.79V334.28M176.19 359.25V361.74M176.19 374.23V376.72M176.19 381.71V384.21M177.44 266.88V269.38M177.44 274.37V276.86M177.44 291.84V294.34M177.44 351.76V354.25M177.44 364.24V366.74M177.44 371.73V374.23M177.44 379.22V381.71M178.70 186.99V189.49M178.70 199.47V201.97M178.70 279.36V281.86M178.70 284.35V286.85M178.70 306.82V314.31M178.70 316.81V319.30M178.70 329.29V334.28M178.70 354.25V356.75M178.70 366.74V369.23M178.70 384.21V386.71M179.96 201.97V204.47M179.96 221.94V224.44M179.96 271.87V274.37M179.96 309.32V311.81M179.96 316.81V319.30M179.96 329.29V334.28M179.96 359.25V361.74M179.96 376.72V379.22M181.21 266.88V269.38M181.21 276.86V279.36M181.21 299.33V301.83M181.21 311.81V319.30M181.21 334.28V336.78M181.21 371.73V374.23M181.21 381.71V384.21M182.47 184.50V189.49M182.47 191.99V194.48M182.47 266.88V271.87M182.47 274.37V279.36M182.47 299.33V301.83M182.47 324.30V329.29M182.47 334.28V336.78M182.47 381.71V384.21M183.72 184.50V186.99M183.72 199.47V204.47M183.72 221.94V224.44M183.72 269.38V276.86M183.72 284.35V289.35M183.72 291.84V294.34M183.72 321.80V324.30M183.72 326.79V331.79M183.72 334.28V336.78M183.72 364.24V366.74M183.72 376.72V379.22M184.98 184.50V186.99M184.98 189.49V191.99M184.98 201.97V204.47M184.98 276.86V279.36M184.98 334.28V336.78M184.98 346.76V349.26M184.98 386.71V389.20M186.24 314.31V316.81M186.24 356.75V361.74M186.24 369.23V371.73M186.24 376.72V379.22M187.49 184.50V186.99M187.49 191.99V194.48M187.49 281.86V284.35M187.49 289.35V291.84M187.49 324.30V326.79M187.49 359.25V361.74M188.75 194.48V196.98M188.75 269.38V271.87M188.75 274.37V276.86M188.75 284.35V291.84M188.75 319.30V321.80M188.75 324.30V329.29M188.75 336.78V339.27M188.75 346.76V349.26M188.75 351.76V356.75M188.75 359.25V361.74M188.75 369.23V374.23M190.00 182.00V184.50M190.00 189.49V191.99M190.00 194.48V196.98M190.00 279.36V281.86M190.00 306.82V309.32M190.00 314.31V316.81M190.00 319.30V321.80M190.00 324.30V326.79M190.00 354.25V356.75M190.00 359.25V361.74M190.00 369.23V374.23M191.26 182.00V184.50M191.26 266.88V274.37M191.26 286.85V289.35M192.52 189.49V191.99M192.52 206.96V209.46M192.52 266.88V269.38M192.52 271.87V274.37M192.52 281.86V286.85M192.52 289.35V291.84M192.52 306.82V309.32M192.52 311.81V316.81M192.52 329.29V331.79M192.52 384.21V386.71M193.77 184.50V189.49M193.77 286.85V289.35M193.77 319.30V326.79M193.77 331.79V334.28M193.77 336.78V339.27M193.77 344.27V346.76M193.77 354.25V359.25M193.77 364.24V374.23M193.77 381.71V384.21M195.03 182.00V186.99M195.03 194.48V196.98M195.03 296.84V299.33M195.03 309.32V311.81M195.03 321.80V324.30M195.03 331.79V334.28M195.03 336.78V339.27M195.03 341.77V344.27M195.03 359.25V361.74M195.03 371.73V374.23M196.28 182.00V184.50M196.28 186.99V189.49M196.28 191.99V194.48M196.28 266.88V269.38M196.28 271.87V274.37M196.28 284.35V291.84M196.28 294.34V296.84M196.28 306.82V309.32M196.28 321.80V326.79M196.28 371.73V374.23M197.54 266.88V269.38M197.54 346.76V349.26M197.54 371.73V374.23M198.80 186.99V189.49M198.80 279.36V281.86M198.80 286.85V289.35M198.80 309.32V314.31M198.80 316.81V319.30M198.80 326.79V329.29M198.80 331.79V334.28M198.80 359.25V361.74M198.80 371.73V374.23M198.80 376.72V381.71M198.80 384.21V386.71M198.80 389.20V391.70M200.05 191.99V194.48M200.05 269.38V274.37M200.05 276.86V279.36M200.05 286.85V289.35M200.05 291.84V294.34M200.05 311.81V316.81M200.05 329.29V331.79M200.05 334.28V336.78M200.05 346.76V349.26M200.05 371.73V374.23M200.05 379.22V381.71M200.05 386.71V389.20M201.31 311.81V314.31M201.31 316.81V319.30M201.31 341.77V344.27M201.31 346.76V351.76M201.31 354.25V356.75M201.31 366.74V369.23M202.56 184.50V186.99M202.56 199.47V201.97M202.56 271.87V274.37M202.56 316.81V319.30M202.56 339.27V341.77M202.56 346.76V349.26M202.56 356.75V359.25M203.82 182.00V184.50M203.82 189.49V194.48M203.82 274.37V276.86M203.82 289.35V294.34M203.82 309.32V311.81M203.82 319.30V321.80M203.82 331.79V334.28M203.82 349.26V354.25M203.82 366.74V369.23M203.82 379.22V381.71M203.82 384.21V386.71M205.08 274.37V276.86M205.08 279.36V281.86M205.08 289.35V291.84M205.08 294.34V296.84M205.08 306.82V309.32M205.08 311.81V314.31M205.08 319.30V324.30M205.08 326.79V329.29M205.08 346.76V349.26M205.08 354.25V359.25M206.33 271.87V281.86M206.33 286.85V289.35M206.33 299.33V301.83M206.33 326.79V329.29M206.33 336.78V339.27M206.33 364.24V366.74M206.33 374.23V376.72M206.33 379.22V381.71M207.59 189.49V191.99M207.59 204.47V206.96M207.59 269.38V271.87M207.59 274.37V276.86M207.59 284.35V286.85M207.59 294.34V296.84M207.59 314.31V319.30M207.59 321.80V324.30M207.59 339.27V341.77M207.59 351.76V354.25M208.84 266.88V269.38M208.84 271.87V274.37M208.84 279.36V281.86M208.84 289.35V294.34M208.84 311.81V314.31M208.84 366.74V369.23M208.84 384.21V386.71M208.84 389.20V391.70M210.10 189.49V191.99M210.10 269.38V274.37M210.10 276.86V279.36M210.10 284.35V286.85M210.10 291.84V294.34M210.10 309.32V311.81M210.10 314.31V316.81M210.10 321.80V326.79M210.10 329.29V331.79M211.36 191.99V194.48M211.36 289.35V291.84M211.36 319.30V321.80M211.36 326.79V329.29M211.36 346.76V349.26M211.36 379.22V381.71M212.61 194.48V196.98M212.61 209.46V211.96M212.61 269.38V274.37M212.61 276.86V279.36M212.61 281.86V284.35M212.61 286.85V291.84M212.61 316.81V319.30M212.61 331.79V334.28M212.61 344.27V346.76M212.61 356.75V361.74M213.87 266.88V269.38M213.87 271.87V274.37M213.87 289.35V291.84M213.87 299.33V301.83M213.87 309.32V314.31M213.87 316.81V319.30M213.87 321.80V324.30M213.87 331.79V334.28M213.87 339.27V341.77M213.87 379.22V381.71M215.12 182.00V189.49M215.12 289.35V291.84M215.12 296.84V299.33M215.12 316.81V319.30M215.12 321.80V324.30M215.12 329.29V339.27M215.12 354.25V356.75M215.12 359.25V361.74M215.12 366.74V369.23M216.38 186.99V189.49M216.38 269.38V271.87M216.38 274.37V279.36M216.38 294.34V296.84M216.38 311.81V316.81M216.38 321.80V326.79M216.38 334.28V336.78M216.38 344.27V349.26M216.38 354.25V359.25M216.38 384.21V386.71M217.64 184.50V186.99M217.64 191.99V194.48M217.64 284.35V289.35M217.64 299.33V301.83M217.64 309.32V311.81M217.64 316.81V319.30M217.64 349.26V351.76M217.64 369.23V371.73M218.89 209.46V211.96M218.89 299.33V301.83M218.89 309.32V314.31M218.89 321.80V324.30M218.89 334.28V336.78M218.89 339.27V341.77M218.89 361.74V364.24M218.89 369.23V371.73M218.89 379.22V381.71M218.89 384.21V389.20M220.15 189.49V191.99M220.15 309.32V314.31M220.15 321.80V324.30M220.15 336.78V339.27M220.15 356.75V359.25M220.15 371.73V374.23M220.15 379.22V381.71M221.40 182.00V189.49M221.40 299.33V301.83M221.40 306.82V309.32M221.40 316.81V319.30M221.40 324.30V326.79M221.40 329.29V331.79M221.40 389.20V391.70M222.66 184.50V186.99M222.66 191.99V194.48M222.66 306.82V311.81M222.66 314.31V316.81M222.66 321.80V331.79M222.66 336.78V339.27M222.66 341.77V346.76M222.66 351.76V354.25M222.66 369.23V371.73M223.92 184.50V186.99M223.92 266.88V269.38M223.92 276.86V281.86M223.92 294.34V296.84M223.92 311.81V314.31M223.92 336.78V339.27M223.92 341.77V344.27M223.92 351.76V354.25M223.92 366.74V369.23M225.17 184.50V189.49M225.17 201.97V204.47M225.17 261.89V264.38M225.17 276.86V281.86M225.17 321.80V324.30M225.17 334.28V336.78M225.17 354.25V356.75M225.17 366.74V369.23M226.43 204.47V206.96M226.43 269.38V271.87M226.43 274.37V276.86M226.43 279.36V286.85M226.43 294.34V296.84M226.43 299.33V301.83M226.43 319.30V321.80M226.43 324.30V326.79M226.43 339.27V344.27M226.43 346.76V349.26M226.43 351.76V354.25M226.43 359.25V366.74M226.43 374.23V376.72M226.43 379.22V381.71M227.68 184.50V186.99M227.68 266.88V269.38M227.68 279.36V281.86M227.68 296.84V299.33M227.68 329.29V331.79M227.68 339.27V341.77M227.68 366.74V369.23M227.68 386.71V391.70M228.94 281.86V284.35M228.94 286.85V291.84M228.94 326.79V329.29M228.94 354.25V356.75M228.94 359.25V361.74M228.94 366.74V369.23M228.94 379.22V381.71M230.20 251.90V254.40M230.20 284.35V286.85M230.20 294.34V296.84M230.20 314.31V316.81M230.20 326.79V329.29M230.20 336.78V339.27M230.20 346.76V349.26M230.20 384.21V386.71M231.45 189.49V191.99M231.45 206.96V209.46M231.45 284.35V286.85M231.45 366.74V369.23M231.45 376.72V379.22M231.45 384.21V386.71M232.71 269.38V271.87M232.71 309.32V311.81M232.71 326.79V331.79M232.71 334.28V336.78M232.71 359.25V361.74M232.71 371.73V374.23M232.71 379.22V381.71M233.96 182.00V189.49M233.96 264.38V266.88M233.96 319.30V321.80M233.96 339.27V341.77M233.96 349.26V354.25M235.22 184.50V191.99M235.22 271.87V274.37M235.22 276.86V281.86M235.22 316.81V319.30M235.22 351.76V354.25M235.22 366.74V369.23M235.22 371.73V374.23M236.48 324.30V326.79M236.48 351.76V354.25M237.73 274.37V281.86M237.73 299.33V301.83M237.73 311.81V314.31M237.73 326.79V329.29M237.73 331.79V334.28M237.73 336.78V344.27M237.73 359.25V361.74M237.73 381.71V384.21M238.99 184.50V186.99M238.99 204.47V206.96M238.99 269.38V271.87M238.99 299.33V301.83M238.99 309.32V311.81M238.99 314.31V316.81M238.99 324.30V326.79M238.99 329.29V331.79M238.99 344.27V346.76M238.99 364.24V366.74M238.99 379.22V384.21M238.99 389.20V391.70M240.24 186.99V194.48M240.24 274.37V276.86M240.24 281.86V284.35M240.24 331.79V334.28M240.24 339.27V341.77M240.24 351.76V356.75M240.24 359.25V361.74M241.50 186.99V191.99M241.50 269.38V271.87M241.50 279.36V281.86M241.50 351.76V354.25M241.50 364.24V366.74M242.76 269.38V274.37M242.76 281.86V284.35M242.76 299.33V301.83M242.76 306.82V316.81M242.76 326.79V329.29M242.76 339.27V341.77M242.76 354.25V356.75M242.76 366.74V369.23M242.76 381.71V384.21M242.76 386.71V389.20M244.01 189.49V191.99M244.01 281.86V284.35M244.01 286.85V294.34M244.01 326.79V329.29M244.01 336.78V341.77M244.01 349.26V351.76M244.01 356.75V361.74M245.27 189.49V191.99M245.27 204.47V206.96M245.27 271.87V274.37M245.27 276.86V279.36M245.27 294.34V296.84M245.27 329.29V331.79M245.27 351.76V354.25M245.27 366.74V369.23M245.27 371.73V374.23M246.52 189.49V191.99M246.52 266.88V269.38M246.52 271.87V274.37M246.52 284.35V289.35M246.52 306.82V309.32M246.52 314.31V316.81M246.52 321.80V324.30M246.52 346.76V349.26M246.52 379.22V381.71M247.78 184.50V186.99M247.78 281.86V284.35M247.78 289.35V291.84M247.78 294.34V296.84M247.78 299.33V301.83M247.78 311.81V314.31M247.78 331.79V334.28M247.78 346.76V349.26M247.78 386.71V389.20M249.04 186.99V189.49M249.04 271.87V274.37M249.04 281.86V284.35M249.04 286.85V289.35M249.04 291.84V296.84M249.04 334.28V339.27M249.04 389.20V391.70M250.29 189.49V191.99M250.29 291.84V294.34M250.29 321.80V324.30M250.29 326.79V329.29M250.29 331.79V334.28M250.29 339.27V341.77M250.29 349.26V354.25M250.29 366.74V369.23M250.29 379.22V381.71M250.29 386.71V389.20M251.55 184.50V186.99M251.55 209.46V211.96M251.55 284.35V289.35M251.55 294.34V296.84M251.55 311.81V314.31M251.55 316.81V319.30M251.55 324.30V326.79M251.55 346.76V349.26M251.55 356.75V359.25M251.55 366.74V371.73M251.55 381.71V384.21M252.80 184.50V186.99M252.80 266.88V269.38M252.80 289.35V291.84M252.80 309.32V311.81M252.80 339.27V341.77M254.06 189.49V194.48M254.06 269.38V274.37M254.06 276.86V281.86M254.06 319.30V321.80M254.06 326.79V329.29M254.06 371.73V374.23M255.32 186.99V189.49M255.32 209.46V211.96M255.32 266.88V269.38M255.32 326.79V329.29M255.32 336.78V339.27M255.32 344.27V349.26M255.32 356.75V359.25M255.32 366.74V371.73M255.32 379.22V381.71M256.57 279.36V281.86M256.57 289.35V291.84M256.57 296.84V299.33M256.57 334.28V336.78M256.57 341.77V344.27M256.57 356.75V366.74M256.57 371.73V374.23M256.57 376.72V379.22M256.57 384.21V389.20"/>
<path stroke="#ff0000" stroke-width="1.306" d="M6.63 216.95V219.45M6.63 221.94V224.44M6.63 226.94V229.43M6.63 231.93V236.92M6.63 239.42V246.91M6.63 249.40V254.40M6.63 256.89V264.38M6.63 299.33V301.83M6.63 374.23V376.72M7.88 229.43V231.93M7.88 234.43V239.42M7.88 241.91V244.41M7.88 249.40V251.90M7.88 289.35V291.84M7.88 299.33V301.83M7.88 384.21V386.71M9.14 221.94V224.44M9.14 234.43V236.92M9.14 239.42V241.91M9.14 251.90V254.40M9.14 259.39V261.89M9.14 271.87V274.37M9.14 299.33V301.83M10.40 189.49V191.99M10.40 211.96V214.45M10.40 221.94V224.44M10.40 226.94V229.43M10.40 234.43V236.92M10.40 239.42V241.91M10.40 246.91V249.40M10.40 266.88V284.35M10.40 286.85V291.84M10.40 299.33V301.83M10.40 304.32V306.82M10.40 331.79V334.28M11.65 209.46V214.45M11.65 216.95V219.45M11.65 231.93V234.43M11.65 239.42V241.91M11.65 251.90V254.40M11.65 256.89V259.39M11.65 304.32V306.82M12.91 226.94V229.43M12.91 236.92V239.42M12.91 256.89V261.89M12.91 289.35V291.84M12.91 304.32V306.82M12.91 371.73V374.23M12.91 376.72V379.22M12.91 386.71V389.20M14.16 206.96V209.46M14.16 211.96V214.45M14.16 229.43V231.93M14.16 234.43V236.92M14.16 239.42V241.91M14.16 374.23V376.72M15.42 206.96V209.46M15.42 251.90V256.89M15.42 276.86V279.36M15.42 369.23V371.73M16.68 231.93V234.43M16.68 236.92V241.91M16.68 244.41V246.91M16.68 386.71V389.20M17.93 194.48V196.98M17.93 211.96V214.45M17.93 231.93V234.43M17.93 249.40V251.90M17.93 259.39V261.89M17.93 286.85V291.84M19.19 199.47V201.97M19.19 204.47V214.45M19.19 216.95V219.45M19.19 226.94V229.43M19.19 234.43V241.91M19.19 254.40V256.89M19.19 289.35V291.84M19.19 294.34V296.84M20.44 199.47V201.97M20.44 204.47V214.45M20.44 216.95V219.45M20.44 221.94V224.44M20.44 226.94V229.43M20.44 239.42V241.91M20.44 254.40V256.89M20.44 259.39V261.89M20.44 291.84V294.34M20.44 299.33V301.83M21.70 199.47V201.97M21.70 206.96V211.96M21.70 221.94V224.44M21.70 226.94V229.43M21.70 231.93V234.43M21.70 241.91V244.41M21.70 246.91V254.40M21.70 256.89V259.39M21.70 261.89V264.38M21.70 299.33V301.83M21.70 304.32V306.82M22.96 184.50V189.49M22.96 201.97V204.47M22.96 239.42V241.91M22.96 244.41V249.40M22.96 261.89V264.38M22.96 291.84V294.34M22.96 299.33V301.83M24.21 199.47V201.97M24.21 204.47V206.96M24.21 211.96V214.45M24.21 216.95V219.45M24.21 224.44V231.93M24.21 234.43V236.92M24.21 239.42V241.91M24.21 244.41V246.91M24.21 256.89V261.89M24.21 271.87V274.37M24.21 304.32V306.82M25.47 211.96V214.45M25.47 224.44V234.43M25.47 241.91V251.90M25.47 254.40V259.39M25.47 261.89V264.38M25.47 289.35V291.84M25.47 299.33V301.83M26.72 199.47V201.97M26.72 209.46V211.96M26.72 226.94V236.92M26.72 239.42V241.91M26.72 246.91V254.40M26.72 256.89V259.39M26.72 274.37V276.86M26.72 279.36V281.86M26.72 284.35V286.85M26.72 289.35V291.84M26.72 299.33V301.83M27.98 199.47V201.97M27.98 216.95V219.45M27.98 244.41V249.40M27.98 251.90V256.89M27.98 259.39V261.89M29.24 231.93V234.43M29.24 236.92V241.91M29.24 249.40V251.90M29.24 256.89V261.89M29.24 299.33V301.83M29.24 304.32V306.82M30.49 199.47V201.97M30.49 206.96V209.46M30.49 229.43V236.92M30.49 239.42V241.91M31.75 201.97V219.45M31.75 224.44V226.94M31.75 231.93V236.92M31.75 239.42V244.41M31.75 371.73V374.23M33.00 199.47V201.97M33.00 209.46V211.96M33.00 226.94V229.43M33.00 234.43V241.91M33.00 289.35V291.84M33.00 299.33V304.32M33.00 379.22V381.71M34.26 199.47V201.97M34.26 206.96V209.46M34.26 216.95V221.94M34.26 229.43V231.93M34.26 249.40V251.90M34.26 304.32V306.82M34.26 371.73V374.23M35.52 201.97V204.47M35.52 206.96V211.96M35.52 239.42V241.91M35.52 254.40V259.39M35.52 289.35V291.84M35.52 299.33V301.83M35.52 376.72V379.22M36.77 226.94V229.43M36.77 234.43V236.92M36.77 256.89V264.38M36.77 371.73V374.23M38.03 209.46V216.95M38.03 224.44V229.43M38.03 236.92V239.42M38.03 244.41V246.91M38.03 249.40V264.38M38.03 289.35V291.84M38.03 299.33V301.83M38.03 304.32V306.82M38.03 376.72V379.22M38.03 386.71V389.20M39.28 236.92V239.42M39.28 246.91V249.40M39.28 259.39V261.89M39.28 274.37V276.86M39.28 299.33V301.83M39.28 304.32V306.82M39.28 376.72V379.22M40.54 219.45V221.94M40.54 226.94V231.93M40.54 236.92V241.91M40.54 244.41V246.91M40.54 251.90V254.40M40.54 256.89V261.89M40.54 299.33V301.83M40.54 304.32V306.82M40.54 376.72V379.22M41.80 199.47V201.97M41.80 206.96V209.46M41.80 211.96V214.45M41.80 216.95V221.94M41.80 226.94V231.93M41.80 234.43V236.92M41.80 251.90V256.89M41.80 289.35V294.34M41.80 299.33V301.83M41.80 304.32V306.82M43.05 229.43V231.93M43.05 236.92V241.91M43.05 244.41V246.91M43.05 251.90V254.40M43.05 259.39V261.89M43.05 299.33V301.83M43.05 349.26V351.76M44.31 239.42V241.91M44.31 249.40V251.90M44.31 261.89V264.38M44.31 299.33V301.83M44.31 304.32V306.82M45.56 199.47V201.97M45.56 206.96V209.46M45.56 211.96V214.45M45.56 216.95V219.45M45.56 224.44V231.93M45.56 239.42V241.91M45.56 364.24V366.74M46.82 189.49V191.99M46.82 199.47V201.97M46.82 229.43V236.92M46.82 244.41V249.40M46.82 251.90V264.38M46.82 291.84V294.34M46.82 304.32V306.82M48.08 194.48V196.98M48.08 251.90V256.89M48.08 291.84V294.34M48.08 304.32V306.82M48.08 386.71V389.20M49.33 211.96V219.45M49.33 221.94V224.44M49.33 226.94V239.42M49.33 291.84V294.34M49.33 299.33V306.82M49.33 384.21V386.71M50.59 194.48V196.98M50.59 201.97V204.47M50.59 209.46V211.96M50.59 219.45V221.94M50.59 236.92V246.91M50.59 251.90V256.89M50.59 261.89V264.38M50.59 384.21V389.20M51.84 211.96V216.95M51.84 221.94V224.44M51.84 236.92V239.42M51.84 246.91V259.39M51.84 261.89V264.38M53.10 206.96V214.45M53.10 221.94V224.44M53.10 231.93V241.91M53.10 299.33V301.83M53.10 304.32V306.82M53.10 386.71V389.20M54.36 201.97V204.47M54.36 209.46V214.45M54.36 226.94V229.43M54.36 236.92V241.91M54.36 301.83V304.32M54.36 371.73V374.23M54.36 384.21V386.71M55.61 209.46V211.96M55.61 226.94V229.43M55.61 231.93V236.92M55.61 241.91V256.89M55.61 259.39V261.89M55.61 289.35V294.34M55.61 299.33V301.83M55.61 304.32V306.82M56.87 216.95V219.45M56.87 226.94V231.93M56.87 239.42V244.41M56.87 251.90V256.89M56.87 301.83V304.32M58.12 211.96V214.45M58.12 216.95V219.45M58.12 221.94V236.92M58.12 239.42V241.91M58.12 376.72V379.22M59.38 209.46V211.96M59.38 216.95V219.45M59.38 226.94V239.42M59.38 244.41V246.91M59.38 259.39V261.89M59.38 289.35V291.84M59.38 299.33V301.83M60.64 216.95V219.45M60.64 221.94V224.44M60.64 231.93V239.42M60.64 246.91V251.90M60.64 254.40V261.89M60.64 294.34V296.84M60.64 304.32V306.82M60.64 371.73V374.23M61.89 206.96V209.46M61.89 221.94V224.44M61.89 226.94V229.43M61.89 234.43V244.41M61.89 251.90V254.40M61.89 261.89V264.38M61.89 274.37V276.86M61.89 281.86V284.35M63.15 236.92V239.42M63.15 244.41V251.90M63.15 254.40V259.39M64.40 221.94V224.44M64.40 241.91V244.41M64.40 251.90V254.40M64.40 259.39V261.89M64.40 289.35V291.84M64.40 299.33V301.83M65.66 204.47V206.96M65.66 209.46V214.45M65.66 216.95V219.45M65.66 224.44V239.42M65.66 246.91V249.40M65.66 254.40V261.89M65.66 289.35V291.84M66.92 206.96V209.46M66.92 211.96V214.45M66.92 221.94V234.43M66.92 289.35V294.34M66.92 381.71V386.71M66.92 389.20V391.70M68.17 224.44V226.94M68.17 231.93V236.92M68.17 239.42V241.91M68.17 289.35V291.84M68.17 299.33V306.82M69.43 206.96V209.46M69.43 211.96V214.45M69.43 226.94V231.93M69.43 234.43V241.91M69.43 251.90V254.40M69.43 256.89V264.38M69.43 289.35V291.84M70.68 206.96V216.95M70.68 236.92V239.42M70.68 289.35V291.84M70.68 301.83V304.32M71.94 221.94V224.44M71.94 234.43V236.92M71.94 381.71V384.21M73.20 209.46V211.96M73.20 234.43V236.92M73.20 246.91V249.40M73.20 251.90V256.89M73.20 259.39V261.89M73.20 289.35V291.84M74.45 189.49V191.99M74.45 206.96V209.46M74.45 216.95V219.45M74.45 226.94V231.93M74.45 236.92V239.42M74.45 246.91V249.40M74.45 259.39V261.89M74.45 291.84V294.34M74.45 299.33V301.83M74.45 364.24V366.74M75.71 206.96V211.96M75.71 231.93V234.43M75.71 236.92V239.42M75.71 244.41V246.91M75.71 254.40V256.89M75.71 259.39V261.89M75.71 299.33V301.83M76.96 211.96V214.45M76.96 216.95V224.44M76.96 226.94V229.43M76.96 234.43V236.92M76.96 239.42V241.91M76.96 249.40V251.90M76.96 299.33V301.83M78.22 201.97V204.47M78.22 209.46V211.96M78.22 226.94V229.43M78.22 246.91V259.39M78.22 289.35V294.34M78.22 296.84V299.33M78.22 304.32V306.82M79.48 184.50V186.99M79.48 206.96V214.45M79.48 224.44V234.43M79.48 236.92V244.41M79.48 251.90V254.40M79.48 289.35V291.84M79.48 299.33V301.83M79.48 371.73V374.23M79.48 381.71V384.21M80.73 194.48V196.98M80.73 209.46V219.45M80.73 221.94V224.44M80.73 289.35V291.84M80.73 299.33V301.83M80.73 304.32V306.82M80.73 376.72V379.22M81.99 209.46V211.96M81.99 221.94V226.94M81.99 229.43V231.93M81.99 239.42V241.91M81.99 249.40V251.90M81.99 299.33V301.83M81.99 304.32V306.82M81.99 381.71V386.71M83.24 226.94V239.42M83.24 254.40V269.38M83.24 271.87V274.37M83.24 279.36V284.35M83.24 286.85V289.35M83.24 291.84V294.34M84.50 182.00V184.50M84.50 229.43V231.93M84.50 234.43V239.42M84.50 251.90V254.40M84.50 259.39V264.38M84.50 291.84V296.84M85.76 199.47V201.97M85.76 206.96V209.46M85.76 211.96V214.45M85.76 219.45V221.94M85.76 226.94V236.92M85.76 239.42V241.91M85.76 364.24V366.74M85.76 376.72V379.22M85.76 381.71V384.21M87.01 206.96V209.46M87.01 226.94V239.42M87.01 261.89V264.38M87.01 304.32V306.82M88.27 204.47V206.96M88.27 209.46V214.45M88.27 229.43V236.92M88.27 289.35V291.84M89.52 211.96V214.45M89.52 224.44V226.94M89.52 231.93V234.43M89.52 236.92V239.42M89.52 254.40V256.89M89.52 289.35V291.84M89.52 304.32V306.82M89.52 359.25V361.74M89.52 371.73V374.23M89.52 381.71V384.21M90.78 196.98V199.47M90.78 226.94V236.92M90.78 239.42V244.41M90.78 249.40V251.90M90.78 259.39V264.38M90.78 299.33V301.83M92.04 229.43V236.92M92.04 251.90V254.40M92.04 289.35V294.34M92.04 299.33V301.83M92.04 304.32V306.82M92.04 356.75V359.25M93.29 199.47V201.97M93.29 206.96V209.46M93.29 219.45V221.94M93.29 239.42V241.91M93.29 289.35V291.84M93.29 299.33V301.83M93.29 371.73V374.23M94.55 226.94V231.93M94.55 249.40V251.90M94.55 299.33V301.83M95.80 201.97V204.47M95.80 211.96V214.45M95.80 216.95V219.45M95.80 221.94V224.44M95.80 236.92V239.42M95.80 251.90V254.40M95.80 266.88V286.85M95.80 304.32V306.82M95.80 384.21V386.71M97.06 231.93V234.43M97.06 239.42V241.91M97.06 371.73V374.23M98.32 216.95V219.45M98.32 224.44V241.91M98.32 291.84V294.34M98.32 304.32V306.82M99.57 211.96V214.45M99.57 226.94V229.43M99.57 234.43V239.42M99.57 381.71V386.71M100.83 199.47V201.97M100.83 221.94V224.44M100.83 226.94V234.43M100.83 236.92V241.91M100.83 251.90V254.40M100.83 374.23V376.72M102.08 226.94V229.43M102.08 231.93V236.92M102.08 259.39V261.89M102.08 289.35V294.34M102.08 304.32V306.82M102.08 374.23V376.72M102.08 381.71V384.21M102.08 389.20V391.70M103.34 221.94V224.44M103.34 239.42V241.91M103.34 259.39V261.89M103.34 299.33V301.83M103.34 304.32V306.82M103.34 376.72V379.22M104.60 189.49V191.99M104.60 194.48V196.98M104.60 229.43V231.93M104.60 239.42V241.91M104.60 254.40V256.89M104.60 291.84V294.34M104.60 336.78V339.27M104.60 376.72V379.22M105.85 194.48V196.98M105.85 244.41V246.91M105.85 249.40V251.90M105.85 256.89V259.39M105.85 291.84V294.34M105.85 304.32V306.82M107.11 251.90V254.40M107.11 261.89V264.38M107.11 289.35V291.84M107.11 384.21V386.71M108.36 199.47V201.97M108.36 204.47V206.96M108.36 211.96V216.95M108.36 224.44V226.94M108.36 249.40V251.90M108.36 304.32V306.82M109.62 289.35V291.84M110.88 211.96V214.45M110.88 251.90V254.40M110.88 381.71V384.21M112.13 249.40V251.90M112.13 254.40V256.89M112.13 289.35V291.84M112.13 299.33V301.83M113.39 189.49V191.99M113.39 249.40V251.90M113.39 299.33V301.83M114.64 291.84V294.34M114.64 299.33V304.32M115.90 226.94V229.43M115.90 244.41V246.91M115.90 289.35V291.84M115.90 299.33V301.83M117.16 211.96V214.45M117.16 221.94V224.44M117.16 299.33V301.83M117.16 304.32V306.82M119.67 221.94V224.44M119.67 244.41V246.91M120.92 199.47V204.47M120.92 206.96V214.45M120.92 224.44V226.94M120.92 246.91V249.40M120.92 289.35V291.84M120.92 299.33V301.83M120.92 304.32V306.82M122.18 184.50V186.99M122.18 249.40V251.90M122.18 259.39V261.89M122.18 291.84V294.34M122.18 304.32V306.82M123.44 231.93V236.92M123.44 241.91V249.40M123.44 289.35V294.34M124.69 249.40V251.90M124.69 254.40V256.89M124.69 304.32V306.82M125.95 224.44V226.94M125.95 259.39V261.89M125.95 291.84V294.34M125.95 381.71V384.21M127.20 206.96V209.46M127.20 291.84V296.84M127.20 299.33V306.82M128.46 189.49V191.99M128.46 244.41V249.40M128.46 289.35V291.84M129.72 289.35V291.84M129.72 296.84V299.33M129.72 381.71V384.21M130.97 209.46V211.96M130.97 224.44V226.94M130.97 244.41V246.91M130.97 299.33V301.83M130.97 371.73V374.23M132.23 244.41V246.91M132.23 251.90V254.40M132.23 261.89V264.38M136.00 299.33V301.83M137.25 229.43V231.93M137.25 296.84V301.83M137.25 376.72V379.22M137.25 381.71V384.21M138.51 184.50V186.99M138.51 201.97V204.47M138.51 291.84V294.34M138.51 296.84V299.33M138.51 319.30V324.30M138.51 331.79V334.28M138.51 346.76V349.26M138.51 351.76V354.25M138.51 356.75V359.25M138.51 371.73V374.23M139.76 201.97V204.47M139.76 266.88V269.38M139.76 276.86V279.36M139.76 284.35V286.85M139.76 289.35V291.84M139.76 294.34V296.84M139.76 306.82V316.81M139.76 321.80V339.27M139.76 359.25V361.74M141.02 182.00V189.49M141.02 271.87V284.35M141.02 286.85V299.33M141.02 311.81V314.31M141.02 321.80V326.79M141.02 329.29V334.28M141.02 336.78V339.27M141.02 346.76V349.26M141.02 359.25V361.74M142.28 269.38V274.37M142.28 276.86V281.86M142.28 286.85V291.84M142.28 294.34V299.33M142.28 331.79V334.28M142.28 354.25V356.75M143.53 189.49V191.99M143.53 209.46V211.96M143.53 271.87V274.37M143.53 291.84V294.34M143.53 319.30V326.79M143.53 329.29V331.79M143.53 346.76V349.26M143.53 351.76V359.25M143.53 371.73V374.23M144.79 266.88V269.38M144.79 271.87V276.86M144.79 294.34V296.84M144.79 306.82V311.81M144.79 314.31V316.81M144.79 319.30V321.80M144.79 324.30V339.27M144.79 359.25V361.74M146.04 189.49V191.99M146.04 271.87V274.37M146.04 276.86V281.86M146.04 291.84V296.84M146.04 306.82V309.32M146.04 311.81V321.80M146.04 326.79V339.27M146.04 346.76V349.26M147.30 184.50V189.49M147.30 296.84V299.33M147.30 336.78V339.27M147.30 344.27V346.76M147.30 354.25V356.75M147.30 371.73V374.23M148.56 184.50V186.99M148.56 309.32V311.81M148.56 319.30V324.30M148.56 326.79V329.29M148.56 351.76V354.25M148.56 361.74V364.24M148.56 371.73V374.23M148.56 384.21V386.71M148.56 389.20V391.70M149.81 201.97V204.47M149.81 271.87V274.37M149.81 276.86V279.36M149.81 286.85V289.35M149.81 299.33V301.83M149.81 316.81V319.30M149.81 324.30V326.79M149.81 334.28V341.77M149.81 346.76V349.26M149.81 354.25V361.74M151.07 266.88V274.37M151.07 276.86V281.86M151.07 284.35V299.33M151.07 306.82V309.32M151.07 314.31V316.81M151.07 319.30V321.80M151.07 326.79V329.29M151.07 331.79V336.78M151.07 389.20V391.70M152.32 289.35V296.84M152.32 336.78V341.77M152.32 359.25V361.74M152.32 364.24V366.74M152.32 371.73V374.23M152.32 381.71V384.21M153.58 286.85V289.35M153.58 311.81V316.81M153.58 319.30V324.30M153.58 326.79V329.29M153.58 331.79V339.27M153.58 359.25V361.74M154.84 189.49V191.99M154.84 199.47V201.97M154.84 271.87V274.37M154.84 276.86V281.86M154.84 286.85V291.84M154.84 296.84V299.33M154.84 336.78V341.77M154.84 344.27V346.76M154.84 349.26V359.25M156.09 184.50V191.99M156.09 271.87V276.86M156.09 279.36V281.86M156.09 359.25V361.74M157.35 184.50V186.99M157.35 191.99V194.48M157.35 309.32V316.81M157.35 319.30V331.79M157.35 336.78V339.27M157.35 359.25V361.74M157.35 366.74V369.23M157.35 371.73V374.23M158.60 184.50V186.99M158.60 189.49V191.99M158.60 269.38V271.87M158.60 276.86V281.86M158.60 294.34V296.84M158.60 311.81V314.31M158.60 319.30V324.30M158.60 326.79V334.28M158.60 336.78V339.27M158.60 354.25V356.75M158.60 359.25V361.74M159.86 184.50V186.99M159.86 266.88V284.35M159.86 286.85V291.84M159.86 294.34V299.33M159.86 371.73V374.23M161.12 201.97V204.47M161.12 266.88V279.36M161.12 281.86V296.84M161.12 341.77V344.27M161.12 369.23V374.23M161.12 379.22V384.21M161.12 389.20V391.70M162.37 266.88V269.38M162.37 281.86V284.35M162.37 286.85V299.33M162.37 311.81V314.31M162.37 326.79V329.29M162.37 341.77V344.27M162.37 346.76V349.26M162.37 354.25V359.25M162.37 361.74V364.24M163.63 184.50V186.99M163.63 191.99V194.48M163.63 291.84V296.84M163.63 309.32V311.81M163.63 316.81V324.30M163.63 331.79V334.28M163.63 359.25V361.74M163.63 369.23V371.73M163.63 379.22V381.71M163.63 389.20V391.70M164.88 266.88V269.38M164.88 271.87V274.37M164.88 276.86V284.35M164.88 286.85V299.33M164.88 346.76V349.26M164.88 356.75V361.74M166.14 184.50V186.99M166.14 266.88V271.87M166.14 279.36V281.86M166.14 284.35V286.85M166.14 294.34V301.83M166.14 306.82V309.32M166.14 314.31V316.81M166.14 319.30V321.80M166.14 326.79V329.29M166.14 344.27V346.76M166.14 351.76V354.25M166.14 356.75V361.74M167.40 201.97V204.47M167.40 266.88V269.38M167.40 271.87V276.86M167.40 281.86V284.35M167.40 286.85V291.84M167.40 294.34V299.33M167.40 306.82V309.32M167.40 311.81V314.31M167.40 319.30V321.80M167.40 326.79V329.29M167.40 349.26V361.74M167.40 371.73V374.23M167.40 386.71V389.20M168.65 199.47V201.97M168.65 284.35V289.35M168.65 309.32V311.81M168.65 319.30V321.80M168.65 331.79V334.28M168.65 359.25V361.74M168.65 369.23V371.73M168.65 379.22V381.71M168.65 389.20V391.70M169.91 204.47V206.96M169.91 306.82V311.81M169.91 324.30V329.29M169.91 331.79V339.27M169.91 344.27V349.26M169.91 351.76V354.25M169.91 359.25V361.74M171.16 306.82V311.81M171.16 314.31V319.30M171.16 321.80V329.29M171.16 331.79V334.28M171.16 336.78V344.27M171.16 351.76V354.25M171.16 366.74V369.23M172.42 271.87V274.37M172.42 276.86V281.86M172.42 286.85V289.35M172.42 294.34V299.33M172.42 306.82V309.32M172.42 311.81V316.81M172.42 319.30V326.79M172.42 329.29V331.79M172.42 336.78V339.27M172.42 386.71V389.20M173.68 331.79V334.28M173.68 379.22V381.71M173.68 384.21V386.71M174.93 189.49V196.98M174.93 266.88V269.38M174.93 271.87V279.36M174.93 289.35V299.33M174.93 349.26V351.76M174.93 354.25V361.74M174.93 364.24V366.74M174.93 389.20V391.70M176.19 266.88V274.37M176.19 276.86V279.36M176.19 284.35V286.85M176.19 294.34V299.33M176.19 311.81V316.81M176.19 319.30V321.80M176.19 324.30V326.79M176.19 334.28V336.78M176.19 339.27V344.27M176.19 346.76V356.75M176.19 361.74V364.24M176.19 389.20V391.70M177.44 182.00V184.50M177.44 269.38V274.37M177.44 276.86V291.84M177.44 294.34V299.33M177.44 359.25V361.74M177.44 369.23V371.73M178.70 204.47V206.96M178.70 266.88V269.38M178.70 289.35V291.84M178.70 294.34V296.84M178.70 321.80V324.30M178.70 334.28V339.27M178.70 341.77V344.27M178.70 346.76V354.25M178.70 356.75V361.74M179.96 204.47V206.96M179.96 266.88V271.87M179.96 274.37V299.33M179.96 306.82V309.32M179.96 319.30V321.80M179.96 336.78V341.77M179.96 386.71V389.20M181.21 184.50V186.99M181.21 189.49V191.99M181.21 271.87V276.86M181.21 279.36V299.33M181.21 306.82V311.81M181.21 319.30V329.29M181.21 331.79V334.28M181.21 359.25V361.74M181.21 379.22V381.71M181.21 389.20V391.70M182.47 271.87V274.37M182.47 281.86V284.35M182.47 286.85V296.84M182.47 306.82V309.32M182.47 314.31V316.81M182.47 321.80V324.30M182.47 336.78V339.27M182.47 344.27V346.76M182.47 354.25V356.75M182.47 361.74V364.24M183.72 189.49V191.99M183.72 266.88V269.38M183.72 276.86V284.35M183.72 289.35V291.84M183.72 294.34V296.84M183.72 306.82V309.32M183.72 319.30V321.80M183.72 324.30V326.79M183.72 339.27V341.77M183.72 344.27V361.74M183.72 366.74V369.23M184.98 194.48V196.98M184.98 266.88V269.38M184.98 284.35V286.85M184.98 294.34V296.84M184.98 351.76V354.25M184.98 359.25V361.74M184.98 371.73V374.23M184.98 379.22V381.71M186.24 182.00V184.50M186.24 306.82V309.32M186.24 311.81V314.31M186.24 316.81V339.27M186.24 379.22V381.71M187.49 266.88V269.38M187.49 271.87V276.86M187.49 279.36V281.86M187.49 284.35V289.35M187.49 291.84V299.33M187.49 316.81V324.30M187.49 326.79V329.29M187.49 331.79V334.28M187.49 336.78V339.27M187.49 341.77V346.76M187.49 349.26V359.25M188.75 182.00V186.99M188.75 191.99V194.48M188.75 271.87V274.37M188.75 276.86V279.36M188.75 281.86V284.35M188.75 291.84V299.33M188.75 316.81V319.30M190.00 266.88V279.36M190.00 284.35V299.33M190.00 321.80V324.30M190.00 334.28V336.78M190.00 346.76V349.26M190.00 351.76V354.25M190.00 356.75V359.25M190.00 361.74V364.24M190.00 366.74V369.23M190.00 376.72V384.21M190.00 386.71V389.20M191.26 186.99V189.49M191.26 191.99V194.48M191.26 274.37V286.85M191.26 289.35V299.33M192.52 269.38V271.87M192.52 276.86V279.36M192.52 286.85V289.35M192.52 294.34V299.33M192.52 309.32V311.81M192.52 316.81V329.29M192.52 331.79V341.77M192.52 349.26V351.76M192.52 354.25V356.75M193.77 276.86V279.36M193.77 294.34V296.84M193.77 341.77V344.27M193.77 346.76V349.26M193.77 351.76V354.25M193.77 361.74V364.24M195.03 191.99V194.48M195.03 201.97V204.47M195.03 209.46V211.96M195.03 289.35V291.84M195.03 306.82V309.32M195.03 314.31V316.81M195.03 319.30V321.80M195.03 346.76V349.26M195.03 354.25V359.25M196.28 184.50V186.99M196.28 199.47V204.47M196.28 276.86V279.36M196.28 291.84V294.34M196.28 309.32V311.81M196.28 326.79V331.79M196.28 334.28V339.27M196.28 341.77V344.27M196.28 346.76V349.26M196.28 354.25V356.75M197.54 184.50V186.99M197.54 189.49V196.98M197.54 306.82V339.27M197.54 354.25V356.75M197.54 389.20V391.70M198.80 184.50V186.99M198.80 271.87V274.37M198.80 319.30V324.30M198.80 336.78V339.27M200.05 184.50V189.49M200.05 274.37V276.86M200.05 279.36V281.86M200.05 289.35V291.84M200.05 294.34V299.33M200.05 306.82V311.81M200.05 321.80V326.79M200.05 331.79V334.28M200.05 336.78V339.27M200.05 359.25V361.74M200.05 364.24V369.23M201.31 182.00V186.99M201.31 306.82V311.81M201.31 314.31V316.81M201.31 319.30V324.30M201.31 326.79V339.27M202.56 311.81V314.31M202.56 329.29V331.79M202.56 341.77V346.76M202.56 351.76V356.75M203.82 294.34V296.84M203.82 306.82V309.32M203.82 311.81V319.30M203.82 321.80V331.79M203.82 334.28V339.27M203.82 344.27V349.26M203.82 354.25V359.25M203.82 371.73V374.23M203.82 389.20V391.70M205.08 271.87V274.37M205.08 276.86V279.36M205.08 314.31V316.81M205.08 324.30V326.79M205.08 331.79V339.27M205.08 351.76V354.25M205.08 369.23V371.73M205.08 374.23V376.72M206.33 266.88V269.38M206.33 281.86V286.85M206.33 289.35V291.84M206.33 296.84V299.33M206.33 306.82V316.81M206.33 319.30V324.30M206.33 329.29V336.78M206.33 346.76V349.26M206.33 359.25V361.74M206.33 371.73V374.23M207.59 182.00V186.99M207.59 191.99V194.48M207.59 266.88V269.38M207.59 271.87V274.37M207.59 276.86V284.35M207.59 286.85V294.34M207.59 296.84V299.33M207.59 306.82V314.31M207.59 326.79V331.79M207.59 346.76V349.26M207.59 354.25V356.75M207.59 389.20V391.70M208.84 269.38V271.87M208.84 274.37V276.86M208.84 286.85V289.35M208.84 294.34V296.84M208.84 306.82V311.81M208.84 314.31V324.30M208.84 326.79V334.28M208.84 336.78V339.27M208.84 354.25V356.75M208.84 359.25V361.74M208.84 371.73V374.23M210.10 266.88V269.38M210.10 281.86V284.35M210.10 286.85V291.84M210.10 294.34V296.84M210.10 319.30V321.80M210.10 339.27V356.75M210.10 359.25V361.74M211.36 201.97V204.47M211.36 266.88V269.38M211.36 299.33V301.83M211.36 309.32V311.81M211.36 334.28V336.78M211.36 341.77V344.27M212.61 184.50V189.49M212.61 201.97V206.96M212.61 274.37V276.86M212.61 279.36V281.86M212.61 284.35V286.85M212.61 296.84V299.33M212.61 329.29V331.79M212.61 341.77V344.27M212.61 346.76V356.75M212.61 371.73V376.72M212.61 379.22V381.71M212.61 384.21V386.71M213.87 189.49V191.99M213.87 276.86V281.86M213.87 314.31V316.81M213.87 326.79V331.79M213.87 334.28V336.78M213.87 371.73V374.23M215.12 189.49V194.48M215.12 201.97V204.47M215.12 269.38V271.87M215.12 284.35V286.85M215.12 306.82V316.81M215.12 319.30V321.80M215.12 324.30V329.29M215.12 351.76V354.25M215.12 361.74V364.24M215.12 371.73V374.23M216.38 184.50V186.99M216.38 189.49V191.99M216.38 266.88V269.38M216.38 271.87V274.37M216.38 281.86V294.34M216.38 296.84V299.33M216.38 309.32V311.81M216.38 319.30V321.80M216.38 326.79V334.28M216.38 336.78V339.27M216.38 351.76V354.25M216.38 359.25V361.74M216.38 371.73V379.22M217.64 266.88V269.38M217.64 271.87V281.86M217.64 289.35V299.33M217.64 306.82V309.32M217.64 311.81V316.81M217.64 319.30V324.30M217.64 326.79V334.28M217.64 336.78V339.27M217.64 359.25V361.74M218.89 201.97V204.47M218.89 306.82V309.32M218.89 316.81V319.30M218.89 326.79V331.79M218.89 336.78V339.27M218.89 341.77V344.27M218.89 346.76V356.75M220.15 314.31V316.81M220.15 319.30V321.80M220.15 326.79V336.78M220.15 339.27V341.77M221.40 266.88V299.33M221.40 314.31V316.81M221.40 319.30V324.30M221.40 326.79V329.29M221.40 331.79V339.27M221.40 359.25V361.74M221.40 369.23V371.73M222.66 201.97V204.47M222.66 319.30V321.80M222.66 331.79V334.28M222.66 354.25V356.75M222.66 359.25V361.74M222.66 371.73V374.23M222.66 379.22V381.71M223.92 271.87V274.37M223.92 289.35V294.34M223.92 314.31V316.81M223.92 321.80V326.79M223.92 349.26V351.76M223.92 354.25V356.75M223.92 379.22V381.71M225.17 194.48V196.98M225.17 281.86V284.35M225.17 319.30V321.80M225.17 336.78V339.27M225.17 356.75V359.25M225.17 369.23V371.73M226.43 289.35V291.84M226.43 296.84V299.33M226.43 344.27V346.76M226.43 354.25V359.25M226.43 366.74V369.23M226.43 386.71V389.20M227.68 306.82V316.81M227.68 319.30V329.29M227.68 331.79V334.28M227.68 336.78V339.27M227.68 341.77V351.76M227.68 354.25V361.74M228.94 266.88V269.38M228.94 271.87V274.37M228.94 276.86V279.36M228.94 291.84V299.33M228.94 306.82V316.81M228.94 319.30V326.79M228.94 329.29V339.27M230.20 306.82V314.31M230.20 316.81V326.79M230.20 329.29V336.78M230.20 359.25V361.74M230.20 371.73V374.23M230.20 379.22V381.71M231.45 266.88V284.35M231.45 286.85V299.33M231.45 359.25V361.74M231.45 371.73V374.23M231.45 379.22V381.71M231.45 386.71V389.20M232.71 184.50V189.49M232.71 266.88V269.38M232.71 271.87V301.83M232.71 306.82V309.32M232.71 311.81V316.81M232.71 319.30V326.79M232.71 331.79V334.28M232.71 336.78V339.27M233.96 309.32V311.81M233.96 314.31V319.30M233.96 321.80V324.30M233.96 326.79V339.27M233.96 341.77V346.76M233.96 354.25V359.25M233.96 371.73V374.23M233.96 384.21V386.71M235.22 266.88V269.38M235.22 294.34V299.33M235.22 306.82V316.81M235.22 319.30V339.27M235.22 346.76V349.26M235.22 354.25V361.74M235.22 369.23V371.73M236.48 184.50V186.99M236.48 289.35V291.84M236.48 336.78V344.27M236.48 346.76V351.76M236.48 354.25V359.25M237.73 266.88V274.37M237.73 281.86V284.35M237.73 289.35V296.84M237.73 319.30V321.80M237.73 346.76V351.76M237.73 366.74V369.23M237.73 389.20V391.70M238.99 186.99V189.49M238.99 266.88V269.38M238.99 271.87V284.35M238.99 286.85V299.33M238.99 306.82V309.32M238.99 316.81V319.30M238.99 321.80V324.30M238.99 326.79V329.29M238.99 331.79V334.28M238.99 336.78V341.77M238.99 346.76V351.76M238.99 354.25V361.74M238.99 366.74V369.23M238.99 371.73V374.23M238.99 384.21V386.71M240.24 199.47V201.97M240.24 266.88V274.37M240.24 276.86V281.86M240.24 284.35V299.33M240.24 341.77V344.27M240.24 346.76V351.76M240.24 356.75V359.25M240.24 371.73V374.23M240.24 379.22V381.71M241.50 184.50V186.99M241.50 266.88V269.38M241.50 271.87V279.36M241.50 281.86V284.35M241.50 289.35V299.33M241.50 359.25V361.74M241.50 366.74V369.23M241.50 371.73V374.23M241.50 379.22V381.71M241.50 384.21V386.71M242.76 186.99V189.49M242.76 266.88V269.38M242.76 279.36V281.86M242.76 284.35V294.34M242.76 296.84V299.33M242.76 316.81V324.30M242.76 329.29V334.28M242.76 336.78V339.27M242.76 371.73V374.23M242.76 379.22V381.71M242.76 389.20V391.70M244.01 299.33V301.83M244.01 346.76V349.26M244.01 351.76V356.75M244.01 366.74V369.23M244.01 371.73V374.23M245.27 184.50V186.99M245.27 191.99V194.48M245.27 266.88V271.87M245.27 274.37V276.86M245.27 279.36V294.34M245.27 296.84V299.33M245.27 321.80V324.30M245.27 354.25V359.25M245.27 379.22V381.71M246.52 184.50V186.99M246.52 294.34V296.84M246.52 311.81V314.31M246.52 316.81V321.80M246.52 324.30V341.77M246.52 354.25V356.75M246.52 364.24V366.74M246.52 384.21V389.20M247.78 279.36V281.86M247.78 284.35V286.85M247.78 306.82V311.81M247.78 316.81V329.29M247.78 334.28V336.78M249.04 184.50V186.99M249.04 276.86V281.86M249.04 289.35V291.84M249.04 299.33V301.83M249.04 339.27V359.25M249.04 366.74V369.23M249.04 379.22V381.71M249.04 386.71V389.20M250.29 184.50V186.99M250.29 306.82V316.81M250.29 319.30V321.80M250.29 324.30V326.79M250.29 334.28V339.27M250.29 359.25V361.74M251.55 186.99V189.49M251.55 266.88V271.87M251.55 276.86V279.36M251.55 289.35V291.84M251.55 306.82V311.81M251.55 314.31V316.81M251.55 321.80V324.30M251.55 326.79V331.79M251.55 334.28V336.78M251.55 354.25V356.75M252.80 319.30V321.80M252.80 331.79V334.28M252.80 341.77V344.27M252.80 356.75V359.25M254.06 182.00V189.49M254.06 274.37V276.86M254.06 289.35V291.84M254.06 294.34V299.33M254.06 311.81V316.81M254.06 321.80V324.30M254.06 334.28V339.27M254.06 344.27V346.76M254.06 354.25V359.25M254.06 386.71V389.20M255.32 184.50V186.99M255.32 269.38V271.87M255.32 274.37V281.86M255.32 284.35V296.84M255.32 309.32V311.81M255.32 316.81V319.30M255.32 331.79V336.78M255.32 339.27V341.77M255.32 351.76V356.75M255.32 371.73V374.23M256.57 201.97V204.47M256.57 276.86V279.36M256.57 306.82V316.81M256.57 319.30V331.79M256.57 336.78V339.27M256.57 346.76V349.26M256.57 366.74V369.23M256.57 379.22V381.71"/>
</g>
<g filter="url(#blr2)">
<path stroke="#0000ff" stroke-width="1.709" d="M297.69 285.40V302.47M299.35 234.20V251.27M301.01 183.00V200.07M302.66 353.67V370.73M315.93 251.27V268.33M319.25 268.33V285.40M320.91 268.33V285.40M330.86 251.27V268.33M330.86 353.67V370.73M352.42 268.33V285.40M355.74 285.40V302.47M365.69 285.40V302.47M370.67 268.33V285.40M372.33 353.67V370.73M375.65 183.00V200.07M375.65 234.20V251.27M393.89 268.33V285.40M395.55 336.60V370.73M398.87 319.53V336.60M405.50 302.47V319.53M407.16 183.00V200.07M410.48 217.13V234.20M417.11 251.27V268.33M422.09 268.33V285.40M478.48 217.13V234.20"/>
<path stroke="#2424ff" stroke-width="1.709" d="M296.03 285.40V302.47M299.35 353.67V370.73M302.66 370.73V387.80M304.32 234.20V268.33M304.32 353.67V370.73M305.98 234.20V251.27M310.96 251.27V268.33M310.96 302.47V319.53M314.27 353.67V370.73M319.25 285.40V302.47M320.91 336.60V353.67M322.57 251.27V268.33M327.54 234.20V251.27M334.18 370.73V387.80M337.50 268.33V285.40M340.81 183.00V200.07M340.81 251.27V268.33M340.81 353.67V370.73M342.47 183.00V200.07M342.47 268.33V285.40M342.47 353.67V370.73M344.13 183.00V200.07M345.79 370.73V387.80M350.77 353.67V370.73M352.42 251.27V268.33M352.42 370.73V387.80M355.74 251.27V268.33M355.74 319.53V336.60M357.40 234.20V251.27M359.06 268.33V285.40M362.38 319.53V336.60M364.03 302.47V319.53M365.69 234.20V251.27M365.69 268.33V285.40M367.35 268.33V285.40M367.35 353.67V370.73M372.33 319.53V336.60M375.65 268.33V285.40M377.30 234.20V251.27M377.30 285.40V302.47M380.62 183.00V200.07M385.60 285.40V302.47M392.23 370.73V387.80M393.89 353.67V370.73M398.87 234.20V251.27M400.53 285.40V302.47M400.53 353.67V370.73M402.18 251.27V268.33M405.50 183.00V200.07M405.50 234.20V251.27M408.82 217.13V234.20M408.82 285.40V302.47M408.82 353.67V370.73M412.14 251.27V268.33M413.79 234.20V251.27M415.45 302.47V319.53M415.45 336.60V370.73M417.11 217.13V234.20M418.77 234.20V251.27M418.77 268.33V285.40M425.41 353.67V370.73M435.36 336.60V353.67M438.67 200.07V217.13M456.92 200.07V217.13M471.85 336.60V353.67M473.51 217.13V234.20M483.46 183.00V200.07M493.41 217.13V234.20M501.70 217.13V234.20M516.63 200.07V217.13M521.61 200.07V217.13M524.93 217.13V234.20M534.88 217.13V234.20M536.54 217.13V234.20M539.85 200.07V234.20M541.51 217.13V234.20"/>
<path stroke="#4949ff" stroke-width="1.709" d="M296.03 319.53V336.60M299.35 319.53V336.60M301.01 234.20V251.27M302.66 234.20V251.27M302.66 268.33V285.40M307.64 234.20V251.27M307.64 353.67V370.73M309.30 251.27V268.33M309.30 302.47V319.53M310.96 353.67V370.73M312.62 234.20V251.27M312.62 353.67V370.73M317.59 251.27V268.33M317.59 302.47V319.53M317.59 353.67V370.73M320.91 234.20V251.27M322.57 285.40V319.53M325.89 234.20V251.27M325.89 353.67V370.73M327.54 285.40V302.47M327.54 353.67V387.80M329.20 353.67V387.80M330.86 319.53V336.60M332.52 285.40V302.47M334.18 234.20V251.27M335.84 183.00V200.07M337.50 234.20V251.27M337.50 336.60V353.67M339.15 268.33V285.40M339.15 319.53V336.60M340.81 285.40V302.47M342.47 234.20V251.27M342.47 285.40V319.53M344.13 302.47V319.53M347.45 251.27V268.33M347.45 285.40V302.47M347.45 353.67V370.73M350.77 370.73V387.80M354.08 268.33V285.40M354.08 353.67V370.73M355.74 234.20V251.27M359.06 183.00V200.07M359.06 234.20V251.27M359.06 353.67V370.73M360.72 234.20V285.40M362.38 336.60V353.67M362.38 370.73V387.80M364.03 234.20V268.33M364.03 353.67V370.73M367.35 183.00V200.07M367.35 319.53V336.60M369.01 234.20V251.27M369.01 319.53V336.60M369.01 353.67V370.73M370.67 234.20V268.33M373.99 285.40V319.53M377.30 302.47V319.53M377.30 353.67V370.73M378.96 268.33V285.40M380.62 234.20V251.27M382.28 234.20V251.27M382.28 353.67V370.73M383.94 234.20V268.33M383.94 285.40V302.47M385.60 353.67V370.73M387.26 234.20V251.27M387.26 302.47V336.60M388.91 251.27V268.33M388.91 285.40V302.47M390.57 302.47V319.53M392.23 234.20V251.27M392.23 285.40V302.47M392.23 336.60V353.67M393.89 285.40V302.47M395.55 234.20V268.33M397.21 234.20V268.33M397.21 353.67V370.73M402.18 234.20V251.27M402.18 336.60V353.67M403.84 183.00V200.07M403.84 234.20V268.33M403.84 285.40V302.47M405.50 217.13V234.20M407.16 285.40V302.47M410.48 302.47V319.53M412.14 234.20V251.27M417.11 319.53V336.60M417.11 370.73V387.80M418.77 251.27V268.33M420.43 183.00V200.07M420.43 336.60V353.67M422.09 285.40V319.53M423.75 234.20V268.33M425.41 234.20V251.27M425.41 268.33V285.40M427.06 200.07V217.13M438.67 183.00V200.07M441.99 200.07V217.13M443.65 200.07V217.13M445.31 200.07V217.13M453.60 200.07V217.13M455.26 200.07V217.13M456.92 217.13V234.20M461.90 183.00V200.07M461.90 217.13V234.20M463.55 336.60V353.67M465.21 200.07V217.13M468.53 200.07V217.13M470.19 200.07V217.13M475.17 200.07V217.13M476.82 183.00V217.13M480.14 183.00V217.13M483.46 200.07V217.13M483.46 302.47V319.53M486.78 200.07V234.20M488.43 183.00V200.07M488.43 217.13V234.20M488.43 336.60V353.67M490.09 200.07V234.20M491.75 200.07V217.13M493.41 200.07V217.13M495.07 200.07V217.13M498.39 217.13V234.20M500.05 217.13V234.20M500.05 302.47V319.53M503.36 217.13V234.20M506.68 200.07V217.13M508.34 183.00V200.07M508.34 217.13V234.20M508.34 302.47V319.53M511.66 200.07V234.20M514.97 217.13V234.20M516.63 217.13V234.20M518.29 200.07V217.13M519.95 217.13V234.20M521.61 336.60V353.67M523.27 200.07V217.13M524.93 200.07V217.13M526.58 183.00V200.07M528.24 217.13V234.20M528.24 302.47V319.53M531.56 217.13V234.20M533.22 217.13V234.20M534.88 183.00V200.07M538.19 183.00V234.20M538.19 336.60V353.67M541.51 200.07V217.13M543.17 217.13V234.20"/>
<path stroke="#6d6dff" stroke-width="1.709" d="M296.03 234.20V251.27M296.03 268.33V285.40M296.03 336.60V353.67M296.03 370.73V387.80M297.69 353.67V370.73M299.35 251.27V268.33M299.35 285.40V302.47M299.35 336.60V353.67M301.01 319.53V336.60M301.01 353.67V370.73M304.32 370.73V387.80M305.98 251.27V285.40M307.64 251.27V285.40M307.64 302.47V319.53M309.30 268.33V285.40M310.96 234.20V251.27M310.96 285.40V302.47M315.93 302.47V319.53M317.59 183.00V200.07M317.59 234.20V251.27M319.25 336.60V370.73M320.91 353.67V370.73M322.57 319.53V336.60M322.57 353.67V370.73M324.23 183.00V200.07M324.23 285.40V302.47M324.23 319.53V336.60M324.23 353.67V370.73M325.89 285.40V302.47M327.54 183.00V200.07M330.86 234.20V251.27M332.52 336.60V370.73M334.18 302.47V336.60M335.84 285.40V302.47M337.50 370.73V387.80M339.15 251.27V268.33M339.15 285.40V302.47M339.15 353.67V370.73M342.47 336.60V353.67M344.13 234.20V268.33M344.13 285.40V302.47M344.13 336.60V353.67M345.79 234.20V268.33M345.79 353.67V370.73M347.45 234.20V251.27M347.45 302.47V319.53M349.11 285.40V302.47M350.77 251.27V268.33M350.77 336.60V353.67M352.42 353.67V370.73M354.08 251.27V268.33M355.74 268.33V285.40M355.74 353.67V370.73M357.40 285.40V302.47M357.40 319.53V336.60M359.06 251.27V268.33M359.06 285.40V302.47M362.38 268.33V285.40M365.69 183.00V200.07M369.01 251.27V268.33M372.33 234.20V251.27M372.33 370.73V387.80M373.99 268.33V285.40M373.99 319.53V336.60M377.30 268.33V285.40M378.96 234.20V251.27M378.96 353.67V370.73M380.62 353.67V370.73M382.28 319.53V336.60M385.60 251.27V268.33M385.60 336.60V353.67M387.26 353.67V370.73M388.91 268.33V285.40M388.91 353.67V370.73M390.57 370.73V387.80M392.23 319.53V336.60M393.89 183.00V200.07M397.21 217.13V234.20M397.21 268.33V285.40M397.21 336.60V353.67M398.87 336.60V370.73M400.53 217.13V234.20M402.18 353.67V370.73M403.84 319.53V336.60M405.50 268.33V285.40M405.50 353.67V387.80M407.16 302.47V319.53M410.48 234.20V251.27M410.48 285.40V302.47M410.48 353.67V370.73M413.79 319.53V336.60M415.45 183.00V200.07M417.11 353.67V370.73M418.77 319.53V336.60M420.43 319.53V336.60M422.09 183.00V200.07M422.09 319.53V336.60M425.41 285.40V302.47M427.06 217.13V234.20M427.06 336.60V353.67M428.72 183.00V217.13M430.38 183.00V200.07M433.70 217.13V234.20M435.36 183.00V234.20M437.02 302.47V319.53M440.33 200.07V217.13M443.65 183.00V200.07M443.65 370.73V387.80M445.31 336.60V353.67M446.97 183.00V200.07M448.63 200.07V217.13M450.29 183.00V217.13M450.29 302.47V319.53M450.29 370.73V387.80M451.94 217.13V234.20M453.60 217.13V234.20M455.26 183.00V200.07M455.26 217.13V234.20M456.92 183.00V200.07M458.58 183.00V217.13M460.24 183.00V200.07M461.90 200.07V217.13M463.55 183.00V200.07M466.87 200.07V234.20M471.85 217.13V234.20M473.51 183.00V200.07M478.48 200.07V217.13M485.12 200.07V234.20M488.43 200.07V217.13M493.41 336.60V353.67M495.07 183.00V200.07M495.07 217.13V234.20M496.73 200.07V234.20M498.39 200.07V217.13M503.36 183.00V217.13M503.36 336.60V353.67M505.02 183.00V200.07M505.02 217.13V234.20M505.02 319.53V336.60M506.68 183.00V200.07M506.68 217.13V234.20M510.00 183.00V200.07M510.00 302.47V319.53M513.31 217.13V234.20M514.97 302.47V319.53M514.97 336.60V353.67M516.63 183.00V200.07M519.95 183.00V217.13M528.24 183.00V217.13M531.56 183.00V217.13M533.22 336.60V353.67M534.88 200.07V217.13M534.88 302.47V319.53M536.54 200.07V217.13M541.51 183.00V200.07M543.17 302.47V319.53"/>
<path stroke="#9292ff" stroke-width="1.709" d="M296.03 353.67V370.73M297.69 183.00V200.07M299.35 183.00V200.07M301.01 251.27V268.33M301.01 285.40V302.47M305.98 183.00V200.07M309.30 370.73V387.80M310.96 183.00V200.07M312.62 370.73V387.80M314.27 183.00V200.07M314.27 234.20V251.27M314.27 370.73V387.80M315.93 183.00V200.07M315.93 234.20V251.27M315.93 353.67V370.73M317.59 200.07V217.13M317.59 285.40V302.47M319.25 234.20V251.27M320.91 302.47V319.53M322.57 234.20V251.27M324.23 234.20V285.40M324.23 370.73V387.80M327.54 268.33V285.40M329.20 268.33V285.40M330.86 302.47V319.53M332.52 319.53V336.60M332.52 370.73V387.80M334.18 268.33V302.47M335.84 336.60V370.73M339.15 234.20V251.27M342.47 319.53V336.60M344.13 319.53V336.60M344.13 353.67V370.73M345.79 285.40V302.47M349.11 234.20V251.27M349.11 353.67V387.80M352.42 336.60V353.67M354.08 234.20V251.27M354.08 319.53V336.60M357.40 251.27V268.33M359.06 302.47V319.53M360.72 183.00V200.07M360.72 285.40V319.53M364.03 336.60V353.67M367.35 234.20V251.27M367.35 285.40V302.47M369.01 183.00V200.07M369.01 285.40V302.47M369.01 336.60V353.67M370.67 353.67V370.73M373.99 234.20V251.27M373.99 336.60V387.80M375.65 251.27V268.33M375.65 302.47V319.53M375.65 336.60V353.67M377.30 251.27V268.33M378.96 251.27V268.33M378.96 285.40V302.47M382.28 302.47V319.53M383.94 319.53V336.60M383.94 353.67V387.80M385.60 268.33V285.40M385.60 302.47V319.53M387.26 251.27V268.33M387.26 370.73V387.80M388.91 302.47V336.60M390.57 251.27V285.40M390.57 353.67V370.73M392.23 302.47V319.53M393.89 234.20V268.33M393.89 370.73V387.80M395.55 370.73V387.80M397.21 285.40V302.47M398.87 268.33V285.40M398.87 302.47V319.53M403.84 353.67V387.80M408.82 251.27V285.40M410.48 268.33V285.40M412.14 217.13V234.20M412.14 285.40V302.47M413.79 251.27V268.33M413.79 353.67V370.73M415.45 234.20V251.27M417.11 234.20V251.27M418.77 217.13V234.20M420.43 268.33V285.40M420.43 370.73V387.80M422.09 353.67V370.73M423.75 217.13V234.20M425.41 302.47V319.53M425.41 370.73V387.80M428.72 217.13V234.20M430.38 217.13V234.20M433.70 183.00V217.13M437.02 183.00V217.13M440.33 183.00V200.07M441.99 336.60V353.67M443.65 217.13V234.20M443.65 336.60V353.67M446.97 200.07V217.13M446.97 336.60V353.67M448.63 183.00V200.07M451.94 183.00V217.13M453.60 183.00V200.07M455.26 370.73V387.80M460.24 200.07V217.13M460.24 268.33V285.40M461.90 336.60V353.67M463.55 200.07V217.13M466.87 336.60V353.67M470.19 217.13V234.20M470.19 336.60V353.67M471.85 251.27V268.33M471.85 302.47V319.53M473.51 200.07V217.13M481.80 200.07V217.13M483.46 217.13V234.20M486.78 183.00V200.07M486.78 336.60V353.67M488.43 268.33V285.40M488.43 319.53V336.60M491.75 217.13V234.20M493.41 183.00V200.07M496.73 183.00V200.07M496.73 302.47V319.53M498.39 183.00V200.07M498.39 336.60V353.67M501.70 200.07V217.13M501.70 319.53V336.60M505.02 200.07V217.13M505.02 336.60V353.67M510.00 200.07V217.13M511.66 183.00V200.07M513.31 200.07V217.13M514.97 200.07V217.13M518.29 217.13V234.20M518.29 336.60V353.67M521.61 217.13V234.20M523.27 183.00V200.07M523.27 217.13V234.20M526.58 200.07V234.20M529.90 183.00V200.07M529.90 336.60V353.67M533.22 200.07V217.13M539.85 370.73V387.80M541.51 336.60V353.67M541.51 370.73V387.80M543.17 200.07V217.13"/>
<path stroke="#b6b6ff" stroke-width="1.709" d="M297.69 302.47V319.53M297.69 336.60V353.67M299.35 302.47V319.53M301.01 370.73V387.80M304.32 319.53V353.67M305.98 302.47V319.53M307.64 285.40V302.47M307.64 336.60V353.67M309.30 234.20V251.27M309.30 353.67V370.73M312.62 268.33V302.47M314.27 251.27V268.33M314.27 319.53V353.67M317.59 370.73V387.80M319.25 251.27V268.33M319.25 302.47V319.53M320.91 183.00V200.07M320.91 251.27V268.33M322.57 268.33V285.40M325.89 251.27V268.33M325.89 370.73V387.80M327.54 251.27V268.33M327.54 319.53V336.60M329.20 251.27V268.33M330.86 285.40V302.47M334.18 251.27V268.33M335.84 234.20V251.27M335.84 319.53V336.60M337.50 285.40V302.47M339.15 200.07V217.13M339.15 302.47V319.53M339.15 336.60V353.67M339.15 370.73V387.80M340.81 234.20V251.27M344.13 370.73V387.80M345.79 302.47V319.53M347.45 319.53V336.60M350.77 234.20V251.27M350.77 285.40V302.47M352.42 234.20V251.27M352.42 319.53V336.60M355.74 183.00V200.07M357.40 353.67V370.73M360.72 200.07V217.13M360.72 353.67V387.80M362.38 234.20V251.27M362.38 353.67V370.73M365.69 302.47V319.53M370.67 285.40V302.47M370.67 336.60V353.67M372.33 183.00V200.07M372.33 251.27V268.33M375.65 353.67V370.73M377.30 200.07V217.13M377.30 319.53V336.60M380.62 251.27V302.47M382.28 336.60V353.67M387.26 268.33V285.40M388.91 200.07V217.13M388.91 234.20V251.27M388.91 370.73V387.80M390.57 200.07V217.13M390.57 234.20V251.27M392.23 183.00V200.07M392.23 353.67V370.73M395.55 217.13V234.20M397.21 183.00V200.07M398.87 183.00V200.07M398.87 217.13V234.20M400.53 183.00V200.07M400.53 234.20V251.27M403.84 268.33V285.40M407.16 268.33V285.40M407.16 336.60V353.67M407.16 370.73V387.80M408.82 234.20V251.27M408.82 370.73V387.80M412.14 268.33V285.40M413.79 217.13V234.20M413.79 336.60V353.67M415.45 268.33V302.47M415.45 370.73V387.80M417.11 200.07V217.13M417.11 268.33V285.40M417.11 302.47V319.53M418.77 183.00V200.07M418.77 336.60V370.73M420.43 217.13V234.20M422.09 234.20V251.27M423.75 200.07V217.13M423.75 353.67V370.73M425.41 251.27V268.33M427.06 183.00V200.07M430.38 319.53V336.60M433.70 302.47V319.53M435.36 302.47V319.53M438.67 336.60V353.67M441.99 217.13V234.20M441.99 370.73V387.80M443.65 268.33V285.40M445.31 302.47V319.53M446.97 319.53V336.60M448.63 336.60V353.67M451.94 336.60V353.67M465.21 183.00V200.07M465.21 217.13V234.20M465.21 370.73V387.80M466.87 251.27V268.33M466.87 319.53V336.60M468.53 183.00V200.07M468.53 302.47V319.53M468.53 370.73V387.80M470.19 319.53V336.60M471.85 183.00V200.07M475.17 217.13V234.20M476.82 217.13V234.20M476.82 336.60V353.67M481.80 183.00V200.07M485.12 336.60V353.67M500.05 200.07V217.13M500.05 336.60V353.67M501.70 268.33V285.40M503.36 251.27V268.33M505.02 302.47V319.53M506.68 302.47V319.53M506.68 336.60V353.67M506.68 370.73V387.80M508.34 200.07V217.13M510.00 336.60V353.67M513.31 183.00V200.07M514.97 370.73V387.80M518.29 183.00V200.07M518.29 302.47V319.53M519.95 251.27V268.33M523.27 336.60V353.67M524.93 183.00V200.07M524.93 268.33V285.40M526.58 336.60V353.67M528.24 336.60V353.67M529.90 251.27V268.33M533.22 183.00V200.07M534.88 336.60V353.67M536.54 183.00V200.07M536.54 336.60V353.67M536.54 370.73V387.80M538.19 268.33V285.40M538.19 302.47V319.53"/>
<path stroke="#dbdbff" stroke-width="1.709" d="M296.03 200.07V217.13M297.69 251.27V268.33M305.98 353.67V370.73M309.30 319.53V336.60M310.96 336.60V353.67M314.27 302.47V319.53M324.23 217.13V234.20M327.54 302.47V319.53M327.54 336.60V353.67M329.20 217.13V234.20M347.45 217.13V234.20M350.77 302.47V319.53M355.74 370.73V387.80M357.40 302.47V319.53M357.40 370.73V387.80M362.38 251.27V268.33M364.03 285.40V302.47M367.35 217.13V234.20M372.33 268.33V285.40M375.65 319.53V336.60M377.30 336.60V353.67M378.96 319.53V336.60M382.28 251.27V285.40M385.60 370.73V387.80M387.26 285.40V302.47M392.23 251.27V268.33M395.55 319.53V336.60M400.53 268.33V285.40M400.53 370.73V387.80M402.18 217.13V234.20M405.50 285.40V302.47M405.50 336.60V353.67M407.16 353.67V370.73M412.14 370.73V387.80M413.79 183.00V200.07M415.45 217.13V234.20M415.45 319.53V336.60M417.11 285.40V302.47M418.77 285.40V302.47M418.77 370.73V387.80M420.43 234.20V251.27M420.43 302.47V319.53M425.41 336.60V353.67M430.38 302.47V319.53M432.04 183.00V217.13M437.02 336.60V353.67M440.33 217.13V234.20M446.97 302.47V319.53M450.29 217.13V234.20M458.58 302.47V319.53M458.58 370.73V387.80M463.55 285.40V302.47M466.87 183.00V200.07M466.87 268.33V285.40M466.87 302.47V319.53M468.53 217.13V234.20M470.19 302.47V319.53M471.85 200.07V217.13M473.51 319.53V353.67M476.82 370.73V387.80M480.14 302.47V319.53M480.14 370.73V387.80M481.80 370.73V387.80M485.12 183.00V200.07M485.12 302.47V319.53M491.75 183.00V200.07M500.05 183.00V200.07M501.70 183.00V200.07M508.34 268.33V285.40M508.34 336.60V353.67M510.00 370.73V387.80M514.97 319.53V336.60M516.63 302.47V319.53M516.63 336.60V353.67M533.22 319.53V336.60M538.19 370.73V387.80"/>
<path stroke="#ffffff" stroke-width="1.709" d="M296.03 251.27V268.33M301.01 302.47V319.53M304.32 302.47V319.53M305.98 370.73V387.80M312.62 200.07V217.13M317.59 268.33V285.40M319.25 319.53V336.60M319.25 370.73V387.80M325.89 302.47V319.53M335.84 268.33V285.40M350.77 319.53V336.60M354.08 285.40V302.47M365.69 336.60V353.67M372.33 336.60V353.67M377.30 370.73V387.80M385.60 183.00V200.07M390.57 319.53V336.60M410.48 183.00V217.13M412.14 319.53V336.60M425.41 217.13V234.20M430.38 370.73V387.80M437.02 217.13V234.20M445.31 268.33V285.40M445.31 370.73V387.80M446.97 217.13V234.20M478.48 183.00V200.07M480.14 217.13V234.20M486.78 302.47V319.53M493.41 268.33V285.40M508.34 285.40V302.47M511.66 336.60V353.67M523.27 268.33V285.40M531.56 319.53V336.60M533.22 251.27V268.33M534.88 319.53V336.60"/>
<path stroke="#ffdbdb" stroke-width="1.709" d="M296.03 183.00V200.07M297.69 234.20V251.27M301.01 268.33V285.40M307.64 319.53V336.60M310.96 268.33V285.40M312.62 302.47V319.53M314.27 285.40V302.47M320.91 217.13V234.20M322.57 217.13V234.20M324.23 302.47V319.53M325.89 183.00V200.07M325.89 319.53V336.60M329.20 234.20V251.27M330.86 183.00V200.07M330.86 370.73V387.80M334.18 353.67V370.73M342.47 200.07V217.13M342.47 251.27V268.33M342.47 370.73V387.80M345.79 268.33V285.40M347.45 183.00V217.13M347.45 336.60V353.67M350.77 268.33V285.40M352.42 183.00V200.07M354.08 302.47V319.53M354.08 336.60V353.67M355.74 302.47V319.53M357.40 336.60V353.67M359.06 319.53V336.60M360.72 319.53V353.67M362.38 183.00V200.07M365.69 251.27V268.33M369.01 268.33V285.40M373.99 200.07V217.13M378.96 370.73V387.80M382.28 183.00V200.07M383.94 217.13V234.20M385.60 234.20V251.27M393.89 302.47V319.53M395.55 268.33V285.40M398.87 285.40V302.47M400.53 302.47V319.53M407.16 319.53V336.60M410.48 370.73V387.80M412.14 302.47V319.53M412.14 353.67V370.73M415.45 251.27V268.33M418.77 302.47V319.53M420.43 251.27V268.33M420.43 353.67V370.73M422.09 336.60V353.67M422.09 370.73V387.80M423.75 302.47V319.53M427.06 319.53V336.60M432.04 217.13V234.20M432.04 336.60V353.67M437.02 268.33V285.40M438.67 302.47V319.53M441.99 183.00V200.07M450.29 336.60V353.67M453.60 251.27V268.33M455.26 234.20V251.27M460.24 217.13V234.20M463.55 319.53V336.60M468.53 268.33V285.40M473.51 302.47V319.53M475.17 268.33V285.40M478.48 319.53V353.67M480.14 336.60V353.67M481.80 217.13V234.20M483.46 336.60V353.67M485.12 319.53V336.60M486.78 319.53V336.60M493.41 370.73V387.80M495.07 268.33V285.40M496.73 319.53V353.67M513.31 302.47V319.53M519.95 268.33V285.40M523.27 285.40V319.53M526.58 353.67V370.73M529.90 200.07V217.13M531.56 302.47V319.53M531.56 336.60V353.67M539.85 336.60V353.67M543.17 183.00V200.07M543.17 234.20V251.27M543.17 336.60V353.67"/>
<path stroke="#ffb6b6" stroke-width="1.709" d="M296.03 302.47V319.53M299.35 200.07V217.13M301.01 217.13V234.20M302.66 285.40V302.47M302.66 336.60V353.67M304.32 285.40V302.47M307.64 370.73V387.80M309.30 183.00V200.07M309.30 217.13V234.20M309.30 285.40V302.47M310.96 370.73V387.80M312.62 336.60V353.67M314.27 200.07V217.13M315.93 370.73V387.80M319.25 183.00V200.07M320.91 285.40V302.47M320.91 319.53V336.60M324.23 336.60V353.67M329.20 200.07V217.13M329.20 285.40V302.47M332.52 183.00V200.07M334.18 183.00V234.20M335.84 302.47V319.53M335.84 370.73V387.80M337.50 217.13V234.20M337.50 353.67V370.73M340.81 302.47V319.53M340.81 370.73V387.80M344.13 268.33V285.40M347.45 268.33V285.40M347.45 370.73V387.80M349.11 200.07V217.13M349.11 268.33V285.40M349.11 302.47V319.53M349.11 336.60V353.67M354.08 183.00V200.07M355.74 217.13V234.20M355.74 336.60V353.67M357.40 268.33V285.40M359.06 370.73V387.80M364.03 370.73V387.80M365.69 217.13V234.20M365.69 353.67V370.73M367.35 200.07V217.13M367.35 370.73V387.80M369.01 302.47V319.53M370.67 319.53V336.60M372.33 285.40V319.53M373.99 251.27V268.33M375.65 285.40V302.47M380.62 319.53V353.67M383.94 200.07V217.13M383.94 302.47V319.53M383.94 336.60V353.67M390.57 183.00V200.07M390.57 336.60V353.67M393.89 217.13V234.20M395.55 285.40V302.47M400.53 251.27V268.33M402.18 268.33V285.40M402.18 302.47V319.53M402.18 370.73V387.80M403.84 302.47V319.53M403.84 336.60V353.67M405.50 200.07V217.13M407.16 217.13V251.27M412.14 336.60V353.67M413.79 268.33V285.40M422.09 251.27V268.33M423.75 268.33V302.47M425.41 183.00V200.07M430.38 200.07V217.13M430.38 251.27V285.40M430.38 336.60V353.67M432.04 234.20V251.27M432.04 302.47V336.60M433.70 353.67V370.73M435.36 268.33V285.40M441.99 302.47V319.53M443.65 302.47V319.53M445.31 183.00V200.07M445.31 217.13V234.20M445.31 319.53V336.60M448.63 319.53V336.60M451.94 353.67V387.80M453.60 302.47V319.53M455.26 336.60V353.67M456.92 336.60V353.67M458.58 285.40V302.47M460.24 319.53V353.67M461.90 302.47V319.53M465.21 336.60V353.67M468.53 234.20V251.27M475.17 302.47V319.53M476.82 302.47V319.53M478.48 268.33V285.40M478.48 302.47V319.53M478.48 370.73V387.80M481.80 234.20V251.27M481.80 268.33V285.40M481.80 319.53V336.60M485.12 353.67V370.73M488.43 285.40V302.47M490.09 183.00V200.07M490.09 370.73V387.80M491.75 285.40V302.47M493.41 302.47V319.53M493.41 353.67V370.73M495.07 336.60V353.67M498.39 302.47V319.53M500.05 268.33V285.40M500.05 370.73V387.80M501.70 336.60V353.67M501.70 370.73V387.80M505.02 370.73V387.80M506.68 234.20V251.27M506.68 285.40V302.47M508.34 370.73V387.80M510.00 251.27V268.33M511.66 302.47V319.53M513.31 319.53V353.67M514.97 183.00V200.07M518.29 319.53V336.60M521.61 319.53V336.60M521.61 370.73V387.80M524.93 302.47V319.53M524.93 336.60V353.67M526.58 285.40V319.53M528.24 268.33V285.40M529.90 217.13V234.20M529.90 302.47V319.53M531.56 234.20V251.27M533.22 234.20V251.27M539.85 302.47V319.53"/>
<path stroke="#ff9292" stroke-width="1.709" d="M297.69 268.33V285.40M299.35 370.73V387.80M301.01 200.07V217.13M302.66 319.53V336.60M304.32 200.07V217.13M304.32 268.33V285.40M305.98 217.13V234.20M305.98 285.40V302.47M305.98 319.53V336.60M309.30 336.60V353.67M314.27 268.33V285.40M315.93 200.07V217.13M315.93 336.60V353.67M319.25 217.13V234.20M320.91 200.07V217.13M320.91 370.73V387.80M322.57 183.00V217.13M329.20 302.47V319.53M330.86 268.33V285.40M332.52 268.33V285.40M334.18 336.60V353.67M337.50 302.47V319.53M340.81 217.13V234.20M340.81 268.33V285.40M340.81 319.53V353.67M345.79 217.13V234.20M349.11 217.13V234.20M349.11 319.53V336.60M350.77 183.00V200.07M352.42 200.07V217.13M352.42 302.47V319.53M357.40 200.07V217.13M362.38 285.40V302.47M365.69 200.07V217.13M365.69 319.53V336.60M365.69 370.73V387.80M367.35 251.27V268.33M375.65 370.73V387.80M378.96 217.13V234.20M380.62 200.07V217.13M380.62 370.73V387.80M382.28 370.73V387.80M388.91 336.60V353.67M390.57 285.40V302.47M392.23 200.07V217.13M392.23 268.33V285.40M395.55 183.00V200.07M395.55 302.47V319.53M397.21 319.53V336.60M397.21 370.73V387.80M398.87 200.07V217.13M400.53 336.60V353.67M402.18 183.00V200.07M402.18 285.40V302.47M403.84 217.13V234.20M408.82 302.47V319.53M408.82 336.60V353.67M410.48 251.27V268.33M413.79 285.40V319.53M415.45 200.07V217.13M417.11 183.00V200.07M422.09 200.07V234.20M427.06 370.73V387.80M428.72 302.47V319.53M430.38 353.67V370.73M432.04 285.40V302.47M432.04 370.73V387.80M433.70 285.40V302.47M433.70 319.53V353.67M437.02 285.40V302.47M438.67 251.27V268.33M440.33 353.67V370.73M441.99 251.27V268.33M441.99 285.40V302.47M441.99 353.67V370.73M446.97 268.33V285.40M448.63 370.73V387.80M451.94 234.20V251.27M453.60 285.40V302.47M453.60 353.67V370.73M455.26 268.33V302.47M456.92 268.33V285.40M458.58 217.13V251.27M458.58 268.33V285.40M461.90 251.27V268.33M461.90 370.73V387.80M463.55 302.47V319.53M465.21 319.53V336.60M470.19 251.27V268.33M470.19 285.40V302.47M471.85 370.73V387.80M475.17 183.00V200.07M475.17 251.27V268.33M475.17 336.60V353.67M475.17 370.73V387.80M476.82 268.33V302.47M476.82 319.53V336.60M478.48 251.27V268.33M481.80 353.67V370.73M483.46 370.73V387.80M490.09 251.27V268.33M490.09 302.47V319.53M491.75 336.60V353.67M493.41 251.27V268.33M493.41 285.40V302.47M495.07 319.53V336.60M495.07 370.73V387.80M496.73 268.33V285.40M498.39 370.73V387.80M500.05 285.40V302.47M503.36 319.53V336.60M505.02 268.33V285.40M505.02 353.67V370.73M506.68 251.27V268.33M508.34 251.27V268.33M510.00 217.13V251.27M511.66 319.53V336.60M513.31 370.73V387.80M514.97 251.27V268.33M514.97 285.40V302.47M516.63 268.33V285.40M518.29 251.27V268.33M519.95 302.47V336.60M521.61 183.00V200.07M521.61 268.33V285.40M521.61 302.47V319.53M523.27 234.20V251.27M523.27 319.53V336.60M523.27 370.73V387.80M524.93 251.27V268.33M526.58 268.33V285.40M528.24 251.27V268.33M529.90 319.53V336.60M531.56 370.73V387.80M533.22 268.33V285.40M533.22 302.47V319.53M534.88 268.33V285.40M534.88 353.67V387.80M536.54 268.33V285.40M536.54 302.47V319.53M538.19 234.20V251.27M539.85 183.00V200.07M539.85 234.20V251.27M541.51 268.33V285.40M543.17 251.27V285.40M543.17 319.53V336.60"/>
<path stroke="#ff6d6d" stroke-width="1.709" d="M297.69 200.07V217.13M297.69 319.53V336.60M297.69 370.73V387.80M302.66 200.07V217.13M305.98 200.07V217.13M307.64 183.00V200.07M307.64 217.13V234.20M310.96 200.07V217.13M310.96 319.53V336.60M312.62 183.00V200.07M312.62 251.27V268.33M314.27 217.13V234.20M315.93 268.33V285.40M317.59 319.53V336.60M322.57 370.73V387.80M325.89 336.60V353.67M327.54 200.07V217.13M329.20 183.00V200.07M330.86 200.07V234.20M332.52 200.07V217.13M332.52 251.27V268.33M332.52 302.47V319.53M335.84 217.13V234.20M335.84 251.27V268.33M337.50 183.00V217.13M337.50 319.53V336.60M340.81 200.07V217.13M342.47 217.13V234.20M345.79 183.00V200.07M345.79 319.53V353.67M349.11 183.00V200.07M349.11 251.27V268.33M350.77 200.07V217.13M352.42 217.13V234.20M354.08 217.13V234.20M354.08 370.73V387.80M357.40 183.00V200.07M357.40 217.13V234.20M360.72 217.13V234.20M362.38 200.07V217.13M364.03 217.13V234.20M364.03 268.33V285.40M364.03 319.53V336.60M367.35 302.47V319.53M367.35 336.60V353.67M369.01 370.73V387.80M370.67 183.00V200.07M370.67 217.13V234.20M372.33 200.07V217.13M378.96 183.00V217.13M378.96 302.47V319.53M378.96 336.60V353.67M380.62 217.13V234.20M383.94 268.33V285.40M387.26 183.00V217.13M387.26 336.60V353.67M390.57 217.13V234.20M392.23 217.13V234.20M393.89 319.53V336.60M395.55 200.07V217.13M397.21 200.07V217.13M397.21 302.47V319.53M398.87 251.27V268.33M398.87 370.73V387.80M400.53 319.53V336.60M402.18 200.07V217.13M402.18 319.53V336.60M403.84 200.07V217.13M405.50 251.27V268.33M407.16 251.27V268.33M408.82 319.53V336.60M423.75 319.53V336.60M423.75 370.73V387.80M425.41 319.53V336.60M427.06 234.20V251.27M427.06 302.47V319.53M427.06 353.67V370.73M428.72 251.27V268.33M428.72 285.40V302.47M428.72 370.73V387.80M430.38 234.20V251.27M432.04 251.27V268.33M433.70 251.27V285.40M433.70 370.73V387.80M435.36 285.40V302.47M435.36 370.73V387.80M437.02 251.27V268.33M437.02 319.53V336.60M438.67 217.13V234.20M438.67 268.33V285.40M438.67 319.53V336.60M438.67 370.73V387.80M440.33 234.20V251.27M440.33 302.47V319.53M440.33 370.73V387.80M441.99 268.33V285.40M441.99 319.53V336.60M445.31 285.40V302.47M445.31 353.67V370.73M446.97 234.20V251.27M446.97 285.40V302.47M446.97 353.67V370.73M448.63 217.13V268.33M448.63 285.40V319.53M450.29 234.20V251.27M450.29 268.33V285.40M451.94 251.27V302.47M451.94 319.53V336.60M453.60 234.20V251.27M453.60 370.73V387.80M455.26 251.27V268.33M455.26 319.53V336.60M456.92 251.27V268.33M456.92 302.47V336.60M456.92 370.73V387.80M458.58 251.27V268.33M458.58 336.60V353.67M460.24 234.20V268.33M460.24 285.40V319.53M460.24 353.67V370.73M461.90 234.20V251.27M461.90 268.33V302.47M461.90 353.67V370.73M463.55 217.13V234.20M463.55 268.33V285.40M465.21 285.40V319.53M465.21 353.67V370.73M466.87 353.67V387.80M468.53 251.27V268.33M468.53 319.53V370.73M470.19 183.00V200.07M471.85 234.20V251.27M471.85 268.33V285.40M471.85 353.67V370.73M473.51 353.67V370.73M475.17 234.20V251.27M475.17 319.53V336.60M475.17 353.67V370.73M476.82 234.20V268.33M478.48 234.20V251.27M478.48 285.40V302.47M480.14 234.20V251.27M480.14 268.33V302.47M481.80 285.40V319.53M483.46 234.20V251.27M483.46 268.33V285.40M485.12 234.20V251.27M485.12 285.40V302.47M486.78 251.27V302.47M486.78 370.73V387.80M488.43 234.20V268.33M488.43 302.47V319.53M488.43 353.67V387.80M490.09 234.20V251.27M490.09 285.40V302.47M490.09 319.53V353.67M491.75 251.27V285.40M491.75 302.47V319.53M491.75 370.73V387.80M493.41 319.53V336.60M495.07 285.40V319.53M496.73 370.73V387.80M498.39 234.20V251.27M498.39 268.33V285.40M498.39 353.67V370.73M500.05 319.53V336.60M501.70 353.67V370.73M503.36 234.20V251.27M503.36 268.33V285.40M503.36 370.73V387.80M505.02 251.27V268.33M505.02 285.40V302.47M508.34 234.20V251.27M511.66 234.20V268.33M511.66 353.67V370.73M513.31 234.20V285.40M514.97 234.20V251.27M516.63 234.20V268.33M516.63 319.53V336.60M516.63 370.73V387.80M518.29 353.67V387.80M519.95 285.40V302.47M519.95 336.60V387.80M521.61 234.20V251.27M521.61 285.40V302.47M523.27 251.27V268.33M524.93 353.67V387.80M528.24 234.20V251.27M528.24 319.53V336.60M528.24 370.73V387.80M529.90 268.33V285.40M534.88 234.20V268.33M534.88 285.40V302.47M536.54 251.27V268.33M538.19 319.53V336.60M538.19 353.67V370.73M539.85 268.33V285.40M541.51 251.27V268.33M541.51 285.40V336.60"/>
<path stroke="#ff4949" stroke-width="1.709" d="M297.69 217.13V234.20M299.35 217.13V234.20M299.35 268.33V285.40M304.32 183.00V200.07M307.64 200.07V217.13M309.30 200.07V217.13M312.62 217.13V234.20M315.93 217.13V234.20M315.93 285.40V302.47M315.93 319.53V336.60M317.59 217.13V234.20M317.59 336.60V353.67M319.25 200.07V217.13M322.57 336.60V353.67M324.23 200.07V217.13M325.89 200.07V234.20M329.20 319.53V353.67M330.86 336.60V353.67M332.52 217.13V251.27M335.84 200.07V217.13M344.13 200.07V234.20M345.79 200.07V217.13M350.77 217.13V234.20M352.42 285.40V302.47M355.74 200.07V217.13M359.06 200.07V234.20M359.06 336.60V353.67M364.03 200.07V217.13M369.01 200.07V217.13M370.67 302.47V319.53M370.67 370.73V387.80M372.33 217.13V234.20M373.99 183.00V200.07M373.99 217.13V234.20M377.30 183.00V200.07M380.62 302.47V319.53M382.28 200.07V234.20M382.28 285.40V302.47M383.94 183.00V200.07M388.91 217.13V234.20M400.53 200.07V217.13M405.50 319.53V336.60M407.16 200.07V217.13M408.82 183.00V200.07M410.48 336.60V353.67M412.14 183.00V200.07M413.79 200.07V217.13M413.79 370.73V387.80M417.11 336.60V353.67M418.77 200.07V217.13M420.43 200.07V217.13M423.75 336.60V353.67M425.41 200.07V217.13M427.06 268.33V302.47M428.72 234.20V251.27M428.72 319.53V353.67M432.04 268.33V285.40M432.04 353.67V370.73M435.36 234.20V251.27M435.36 319.53V336.60M437.02 353.67V387.80M438.67 285.40V302.47M438.67 353.67V370.73M440.33 268.33V302.47M440.33 319.53V353.67M441.99 234.20V251.27M443.65 234.20V268.33M443.65 285.40V302.47M443.65 319.53V336.60M445.31 234.20V268.33M446.97 251.27V268.33M446.97 370.73V387.80M448.63 268.33V285.40M448.63 353.67V370.73M450.29 251.27V268.33M450.29 319.53V336.60M450.29 353.67V370.73M453.60 268.33V285.40M453.60 319.53V353.67M455.26 353.67V370.73M456.92 234.20V251.27M456.92 353.67V370.73M458.58 319.53V336.60M458.58 353.67V370.73M460.24 370.73V387.80M461.90 319.53V336.60M463.55 234.20V251.27M463.55 353.67V370.73M465.21 268.33V285.40M466.87 234.20V251.27M468.53 285.40V302.47M470.19 234.20V251.27M470.19 268.33V285.40M470.19 353.67V387.80M471.85 285.40V302.47M471.85 319.53V336.60M473.51 234.20V302.47M473.51 370.73V387.80M476.82 353.67V370.73M478.48 353.67V370.73M480.14 319.53V336.60M480.14 353.67V370.73M481.80 336.60V353.67M483.46 251.27V268.33M483.46 285.40V302.47M483.46 319.53V336.60M485.12 251.27V285.40M485.12 370.73V387.80M486.78 353.67V370.73M490.09 268.33V285.40M490.09 353.67V370.73M491.75 234.20V251.27M491.75 319.53V336.60M493.41 234.20V251.27M495.07 251.27V268.33M495.07 353.67V370.73M496.73 234.20V268.33M496.73 285.40V302.47M496.73 353.67V370.73M498.39 251.27V268.33M498.39 285.40V302.47M500.05 353.67V370.73M501.70 285.40V319.53M503.36 285.40V319.53M503.36 353.67V370.73M505.02 234.20V251.27M508.34 353.67V370.73M510.00 285.40V302.47M510.00 319.53V336.60M510.00 353.67V370.73M511.66 285.40V302.47M511.66 370.73V387.80M513.31 285.40V302.47M516.63 353.67V370.73M518.29 234.20V251.27M518.29 268.33V285.40M519.95 234.20V251.27M521.61 353.67V370.73M524.93 285.40V302.47M524.93 319.53V336.60M526.58 251.27V268.33M526.58 370.73V387.80M528.24 285.40V302.47M528.24 353.67V370.73M529.90 234.20V251.27M529.90 285.40V302.47M529.90 353.67V370.73M531.56 251.27V302.47M531.56 353.67V370.73M533.22 353.67V387.80M536.54 285.40V302.47M536.54 319.53V336.60M536.54 353.67V370.73M538.19 285.40V302.47M539.85 285.40V302.47M539.85 319.53V336.60M539.85 353.67V370.73M543.17 353.67V387.80"/>
<path stroke="#ff2424" stroke-width="1.709" d="M296.03 217.13V234.20M301.01 336.60V353.67M302.66 183.00V200.07M302.66 217.13V234.20M302.66 251.27V268.33M302.66 302.47V319.53M304.32 217.13V234.20M305.98 336.60V353.67M310.96 217.13V234.20M312.62 319.53V336.60M325.89 268.33V285.40M337.50 251.27V268.33M339.15 217.13V234.20M354.08 200.07V217.13M362.38 217.13V234.20M362.38 302.47V319.53M364.03 183.00V200.07M369.01 217.13V234.20M370.67 200.07V217.13M375.65 200.07V234.20M377.30 217.13V234.20M385.60 200.07V234.20M385.60 319.53V336.60M387.26 217.13V234.20M393.89 200.07V217.13M393.89 336.60V353.67M408.82 200.07V217.13M410.48 319.53V336.60M420.43 285.40V302.47M423.75 183.00V200.07M427.06 251.27V268.33M428.72 353.67V370.73M430.38 285.40V302.47M433.70 234.20V251.27M435.36 251.27V268.33M435.36 353.67V370.73M437.02 234.20V251.27M438.67 234.20V251.27M450.29 285.40V302.47M451.94 302.47V319.53M455.26 302.47V319.53M456.92 285.40V302.47M463.55 251.27V268.33M465.21 234.20V268.33M466.87 285.40V302.47M480.14 251.27V268.33M481.80 251.27V268.33M483.46 353.67V370.73M486.78 234.20V251.27M491.75 353.67V370.73M495.07 234.20V251.27M498.39 319.53V336.60M500.05 234.20V268.33M501.70 234.20V251.27M506.68 268.33V285.40M506.68 319.53V336.60M506.68 353.67V370.73M508.34 319.53V336.60M511.66 268.33V285.40M514.97 268.33V285.40M516.63 285.40V302.47M518.29 285.40V302.47M521.61 251.27V268.33M523.27 353.67V370.73M524.93 234.20V251.27M526.58 234.20V251.27M526.58 319.53V336.60M529.90 370.73V387.80M533.22 285.40V302.47M536.54 234.20V251.27M538.19 251.27V268.33M539.85 251.27V268.33M541.51 234.20V251.27M541.51 353.67V370.73M543.17 285.40V302.47"/>
<path stroke="#ff0000" stroke-width="1.709" d="M327.54 217.13V234.20M339.15 183.00V200.07M388.91 183.00V200.07M412.14 200.07V217.13M428.72 268.33V285.40M440.33 251.27V268.33M443.65 353.67V370.73M463.55 370.73V387.80M475.17 285.40V302.47M501.70 251.27V268.33M510.00 268.33V285.40M513.31 353.67V370.73M514.97 353.67V370.73"/>
</g>
<rect x="6" y="392.4" width="131.4" height="7.3" fill="#0aaeea"/>
<rect x="137.4" y="392.4" width="119.8" height="7.3" fill="#ff8200"/>
<rect x="295.2" y="390.4" width="130.3" height="8.3" fill="#0aaeea"/>
<rect x="425.5" y="390.4" width="118.5" height="8.3" fill="#ff8200"/>
<rect x="254.1" y="409.9" width="18" height="9.3" fill="#0aaeea"/>
<rect x="254.1" y="424.1" width="18" height="8.7" fill="#ff8200"/>
<rect x="60" y="411.3" width="75.1" height="18.3" fill="#00f"/>
<rect x="134.8" y="411.3" width="3.5" height="18.3" fill="#3030ff"/>
<rect x="138" y="411.3" width="3.3" height="18.3" fill="#8080ff"/>
<rect x="141" y="411.3" width="2.3" height="18.3" fill="#c8c8ff"/>
<rect x="145.5" y="411.3" width="1.8" height="18.3" fill="#ffd0d0"/>
<rect x="147" y="411.3" width="3.3" height="18.3" fill="#ffa0a0"/>
<rect x="150" y="411.3" width="3.3" height="18.3" fill="#ff8080"/>
<rect x="153" y="411.3" width="3.3" height="18.3" fill="#ff5050"/>
<rect x="156" y="411.3" width="3.7" height="18.3" fill="#ff3030"/>
<rect x="159.4" y="411.3" width="56.8" height="18.3" fill="#f00"/>
<rect x="340.2" y="411.1" width="63.6" height="18.4" fill="#00f"/>
<rect x="403.5" y="411.1" width="4.8" height="18.4" fill="#3030ff"/>
<rect x="408" y="411.1" width="4.3" height="18.4" fill="#6060ff"/>
<rect x="412" y="411.1" width="4.3" height="18.4" fill="#9090ff"/>
<rect x="416" y="411.1" width="2.8" height="18.4" fill="#c0c0ff"/>
<rect x="421.5" y="411.1" width="3.8" height="18.4" fill="#ffd0d0"/>
<rect x="425" y="411.1" width="5.3" height="18.4" fill="#ffa0a0"/>
<rect x="430" y="411.1" width="6.3" height="18.4" fill="#ff7070"/>
<rect x="436" y="411.1" width="8.3" height="18.4" fill="#ff4040"/>
<rect x="444" y="411.1" width="56.1" height="18.4" fill="#f00"/>
<path d="M60 429.6V435.5M215.7 429.6V435.5" stroke="#999" stroke-width="0.8"/>
<g font-family="Liberation Sans, sans-serif" font-weight="bold" fill="#000">
<text transform="matrix(1.0053 0 0 1.0 6.09 25.7)" font-size="21">A.</text>
<text transform="matrix(0.9789 0 0 1.0 6.42 173.7)" font-size="21">B.</text>
<text transform="matrix(0.9895 0 0 1.0 298.81 25.3)" font-size="21">C.</text>
<text transform="matrix(1.0158 0 0 1.0 520.88 174.5)" font-size="21">D.</text>
<text transform="matrix(1.0471 0 0 1.0 192.20 48.2)" font-size="10">Cancer</text>
<text transform="matrix(1.0605 0 0 1.0 36.54 62.7)" font-size="10">Homo Sapiens alignement</text>
<text transform="matrix(0.9900 0 0 1.0 185.50 62.7)" font-size="10">560015281</text>
<text transform="matrix(1.0530 0 0 1.0 36.55 76.4)" font-size="10">Non-Homo alignment</text>
<text transform="matrix(1.0026 0 0 1.0 190.90 76.4)" font-size="10">4053019</text>
<text transform="matrix(1.0432 0 0 1.0 14.76 104.0)" font-size="10">Percentage of bacterial,</text>
<text transform="matrix(1.0331 0 0 1.0 15.50 116.4)" font-size="10">archaea and viral transcripts:</text>
<text transform="matrix(1.0087 0 0 1.0 202.30 116.6)" font-size="10">0.8%</text>
<text transform="matrix(1.0233 0 0 1.0 180.08 128.2)" font-size="10">(0.3% - 6.6%)</text>
<text transform="matrix(1.0933 0 0 1.0 337.51 13.6)" font-size="10">100</text>
<text transform="matrix(0.9636 0 0 1.0 345.40 72.6)" font-size="10">50</text>
<text transform="matrix(0.8800 0 0 1.0 350.00 135.6)" font-size="10">0</text>
<text transform="matrix(1.0400 0 0 1.0 370.00 150.5)" font-size="10">0</text>
<text transform="matrix(0.9455 0 0 1.0 427.90 149.3)" font-size="10">50</text>
<text transform="matrix(1.0200 0 0 1.0 486.38 149.5)" font-size="10">100</text>
<text transform="matrix(1.0160 0 0 1.0 407.70 163)" font-size="10">Specificity</text>
<text transform="matrix(1.0211 0 0 1.0 413.10 109.5)" font-size="10">Accuracy: 64%</text>
<text transform="matrix(1.0299 0 0 1.0 413.10 122.2)" font-size="10">AUC: 65% (95% CI:53-77%)</text>
<text transform="matrix(1.0632 0 0 1.0 276.74 418.6)" font-size="10">EEC</text>
<text transform="matrix(1.0704 0 0 1.0 276.73 431.7)" font-size="10">HGSC</text>
<text transform="matrix(1.0000 0 0 1.0 46.80 446.8)" font-size="10">−5.4</text>
<text transform="matrix(0.9857 0 0 1.0 208.80 446.7)" font-size="10">5.4</text>
<text transform="matrix(1.0100 0 0 1.0 327.60 444.8)" font-size="10">−4.9</text>
<text transform="matrix(0.9214 0 0 1.0 489.10 444.3)" font-size="10">5.1</text>
<text transform="matrix(0 -1.0180 1.0 0 337.1 99.70)" font-size="10">Sensitivity</text>
</g>
</svg>
</body></html>
